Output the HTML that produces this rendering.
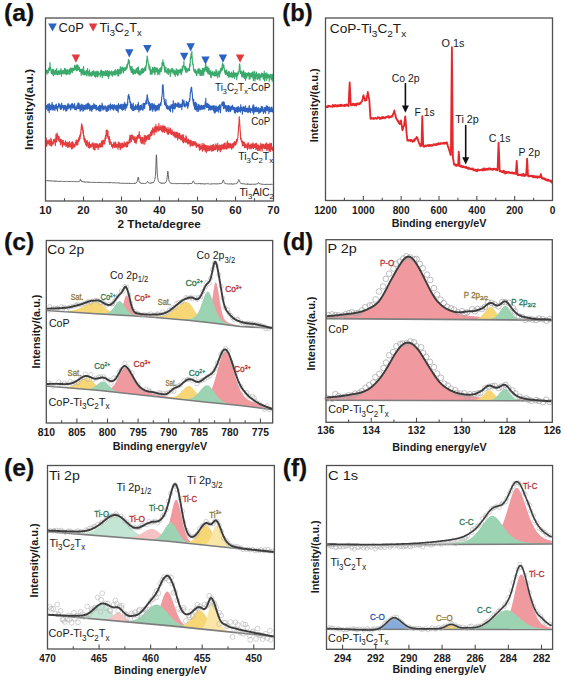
<!DOCTYPE html>
<html><head><meta charset="utf-8"><style>html,body{margin:0;padding:0;background:#fff;}svg{display:block;}</style></head><body>
<svg width="565" height="681" viewBox="0 0 565 681" font-family='"Liberation Sans", sans-serif'>
<rect width="565" height="681" fill="#ffffff"/>
<polyline points="46.1,71.9 46.2,72.4 46.4,71.4 46.5,70.3 46.7,71 46.8,70.1 47,72 47.1,74.3 47.3,71 47.4,70.7 47.6,72.7 47.7,72.4 47.9,72 48,70.1 48.2,71.7 48.3,72.9 48.5,69.2 48.6,70.7 48.8,68 48.9,69 49.1,67.8 49.2,70.4 49.4,68.1 49.5,70.3 49.7,69.3 49.8,67.6 50,62.6 50.1,66.3 50.3,68.1 50.4,69.4 50.6,67.2 50.7,69.7 50.9,69.2 51,69.8 51.2,73.3 51.3,70.1 51.5,71.6 51.6,73.3 51.8,70.7 51.9,71.6 52.1,72.1 52.2,72 52.4,69.7 52.5,72.1 52.7,74.4 52.8,69.2 53,73.6 53.1,72.3 53.3,70.9 53.4,75.7 53.6,73.5 53.7,69.9 53.9,72.2 54,73.2 54.2,71.8 54.3,73.4 54.5,72 54.6,73.3 54.8,74.7 54.9,70.9 55.1,72.5 55.2,71.3 55.4,72.4 55.5,70 55.7,71.1 55.8,71.8 56,73.8 56.1,74.3 56.3,69.8 56.4,70.8 56.6,73.4 56.7,68.6 56.9,71.4 57,72.1 57.2,74.5 57.3,73.5 57.5,71.6 57.6,71.6 57.8,71.8 57.9,75 58.1,71.5 58.2,71.7 58.4,72.9 58.5,72 58.7,71.9 58.8,70.3 59,72.2 59.1,71.5 59.3,74.4 59.4,73.4 59.6,72.2 59.7,73.5 59.9,71.7 60,74.2 60.2,72.3 60.3,73.3 60.5,70 60.6,72.9 60.8,69.2 60.9,68.6 61.1,71.7 61.2,70.7 61.4,72.6 61.5,76.3 61.7,70.8 61.8,71.2 62,72.7 62.1,73.2 62.3,72 62.4,71.9 62.6,73.5 62.7,73.2 62.9,70.4 63,72.1 63.2,72.3 63.3,70.4 63.5,72.7 63.6,70.7 63.8,74 63.9,72.6 64.1,72.4 64.2,71.2 64.4,72 64.5,68.6 64.7,70.2 64.8,72.9 65,68.4 65.1,73.7 65.3,69 65.4,73.5 65.6,70.6 65.7,73.6 65.9,72.4 66,69.4 66.2,74.4 66.3,74.7 66.5,72 66.6,71.6 66.8,71.8 66.9,70.3 67.1,74 67.2,71 67.4,71.9 67.5,70.6 67.7,70.8 67.8,69.6 68,74.2 68.1,71.6 68.3,73.6 68.4,71.9 68.6,70.6 68.7,71.2 68.9,70.7 69,71.7 69.2,71 69.3,71.1 69.5,69.1 69.6,70.1 69.8,74.5 69.9,70.2 70.1,69.5 70.2,71.9 70.4,73.8 70.5,68.6 70.7,70.8 70.8,69.9 71,67.8 71.1,72.3 71.3,70.8 71.4,70.9 71.6,69.3 71.7,71.4 71.9,69.5 72,70.1 72.2,68.3 72.3,68 72.5,72.4 72.6,69 72.8,70.3 72.9,69.6 73.1,68.7 73.2,68.4 73.4,70.3 73.5,68.5 73.7,68.6 73.8,68.7 74,70.6 74.1,69.6 74.3,68.9 74.4,67 74.6,65.4 74.7,69.4 74.9,69.3 75,67.2 75.2,68.4 75.3,68.7 75.5,68.7 75.6,68.8 75.8,66.3 75.9,69.9 76.1,65 76.2,68.8 76.4,68.2 76.5,69 76.7,70.9 76.8,70.3 77,65.7 77.1,64.9 77.3,69.6 77.4,66.4 77.6,68.4 77.7,70.1 77.9,65.8 78,65.2 78.2,69.6 78.3,69.4 78.5,69 78.6,69.7 78.8,68.2 78.9,67.2 79.1,69.8 79.2,68.5 79.4,67.4 79.5,71.4 79.7,70.5 79.8,71.5 80,69.1 80.1,69.8 80.3,69.3 80.4,69.6 80.6,71.6 80.7,70 80.9,72.1 81,72.1 81.2,75.3 81.3,69.2 81.5,73.4 81.6,71.7 81.8,71.9 81.9,69.3 82.1,71.2 82.2,73.4 82.4,72 82.5,72.3 82.7,71.7 82.8,74.3 83,72.3 83.1,68.4 83.3,71.2 83.4,68.9 83.6,66.6 83.7,71.6 83.9,74.9 84,72.7 84.2,70.5 84.3,70.9 84.5,74.7 84.6,73 84.8,72.8 84.9,72.6 85.1,72.8 85.2,74.2 85.4,73.8 85.5,73.2 85.7,71 85.8,73.8 86,71.7 86.1,74.9 86.3,70.6 86.4,72.7 86.6,72.9 86.7,70.6 86.9,76.1 87,75.6 87.2,72.2 87.3,74.4 87.5,73.7 87.6,68.4 87.8,73.5 87.9,73 88.1,73.3 88.2,71.2 88.4,72.6 88.5,72.8 88.7,75.3 88.8,73.8 89,73.2 89.1,75.9 89.3,72.2 89.4,72.5 89.6,69.9 89.7,76 89.9,75 90,74.9 90.2,74.5 90.3,73.5 90.5,73.7 90.6,72.8 90.8,72.9 90.9,73.4 91.1,76 91.2,74.3 91.4,73.2 91.5,72.3 91.7,72.2 91.8,76.2 92,74.3 92.1,73.5 92.3,72.7 92.4,71.4 92.6,73.3 92.7,74.9 92.9,72.7 93,73 93.2,73 93.3,73.6 93.5,70.5 93.6,73 93.8,71.9 93.9,75 94.1,72 94.2,74.5 94.4,76.2 94.5,72.9 94.7,72.4 94.8,73.8 95,73.5 95.1,71.7 95.3,74.3 95.4,77.1 95.6,73 95.7,73.1 95.9,71.6 96,74.1 96.2,71.3 96.3,71.5 96.5,75.8 96.6,71.9 96.8,75.5 96.9,76.3 97.1,74 97.2,74.5 97.4,77.1 97.5,73.2 97.7,72.5 97.8,71.1 98,73.6 98.1,76.2 98.3,75.3 98.4,71.9 98.6,72 98.7,72.7 98.9,74.1 99,73.2 99.2,74 99.3,74.1 99.5,73.1 99.6,73.5 99.8,74 99.9,73.4 100.1,74.5 100.2,77 100.4,74.7 100.5,73.7 100.7,70.6 100.8,74.3 101,70.1 101.1,71.1 101.3,75.2 101.4,74.9 101.6,73.4 101.7,70.6 101.9,73 102,72.4 102.2,74.8 102.3,77.7 102.5,74 102.6,72.3 102.8,71.5 102.9,73.6 103.1,73.3 103.2,71.6 103.4,73.9 103.5,71.6 103.7,75.7 103.8,75.6 104,75.6 104.1,72.8 104.3,74.6 104.4,73.4 104.6,73 104.7,73.1 104.9,71.3 105,71.1 105.2,75.1 105.3,73.3 105.5,74.1 105.6,75.5 105.8,70.6 105.9,72.3 106.1,74 106.2,74.4 106.4,73 106.5,75.6 106.7,74.1 106.8,71.5 107,72 107.1,75.2 107.3,74.5 107.4,70.3 107.6,76.1 107.7,74.8 107.9,76.1 108,73 108.2,73.2 108.3,71.7 108.5,78.3 108.6,73.4 108.8,76.6 108.9,72.6 109.1,74 109.2,70.7 109.4,73 109.5,75.5 109.7,71.5 109.8,75.6 110,74.3 110.1,71.8 110.3,72.8 110.4,72.9 110.6,73.6 110.7,72.7 110.9,72.2 111,73.1 111.2,71.8 111.3,71.3 111.5,73.5 111.6,75.2 111.8,70.8 111.9,73.5 112.1,72.4 112.2,71.8 112.4,75 112.5,72.5 112.7,76.2 112.8,72 113,74.1 113.1,73 113.3,72 113.4,74.4 113.6,73.1 113.7,74.4 113.9,73.2 114,71.3 114.2,73.1 114.3,73.4 114.5,75 114.6,71.6 114.8,73.1 114.9,70.1 115.1,74.3 115.2,71.2 115.4,69.9 115.5,73 115.7,75 115.8,70.3 116,71 116.1,71.6 116.3,70.9 116.4,73.6 116.6,71.4 116.7,71.6 116.9,73.9 117,71.4 117.2,73.5 117.3,71 117.5,70.5 117.6,69.3 117.8,76 117.9,72 118.1,73 118.2,72.4 118.4,72.7 118.5,72.5 118.7,75.8 118.8,70.4 119,69.4 119.1,70.3 119.3,69.7 119.4,73.4 119.6,73.4 119.7,70.1 119.9,69.3 120,71.1 120.2,74.1 120.3,66.5 120.5,72.4 120.6,69.4 120.8,73.1 120.9,69.2 121.1,70.5 121.2,68.2 121.4,69.1 121.5,73.2 121.7,72.1 121.8,69.7 122,68.8 122.1,66.8 122.3,69.4 122.4,70 122.6,69.8 122.7,69.6 122.9,67.7 123,69.5 123.2,69.5 123.3,71.9 123.5,72.9 123.6,69.3 123.8,68.1 123.9,69.4 124.1,68.4 124.2,68.2 124.4,69.4 124.5,67.7 124.7,70.7 124.8,69.4 125,70.1 125.1,69.3 125.3,68.3 125.4,67.9 125.6,69.2 125.7,68.6 125.9,69.9 126,69.4 126.2,66.9 126.3,69.3 126.5,66.6 126.6,67.7 126.8,68.1 126.9,64.6 127.1,68.1 127.2,67.7 127.4,66.7 127.5,65.6 127.7,64.9 127.8,63.1 128,63.4 128.1,62 128.3,62.3 128.4,59.3 128.6,61.4 128.7,61.2 128.9,61 129,61 129.2,63.6 129.3,60.6 129.5,65.3 129.6,65.8 129.8,66.7 129.9,67.6 130.1,66.4 130.2,67.7 130.4,69.7 130.5,69.8 130.7,69.7 130.8,66.9 131,70.8 131.1,72.2 131.3,72.1 131.4,70.9 131.6,67.8 131.7,72.4 131.9,70.6 132,66.4 132.2,71.7 132.3,68.4 132.5,68.8 132.6,70.1 132.8,73.6 132.9,70.6 133.1,71.8 133.2,74.5 133.4,74.3 133.5,71.3 133.7,71.1 133.8,69.3 134,70.3 134.1,72.4 134.3,72.3 134.4,71.8 134.6,73.4 134.7,70.3 134.9,71.6 135,73 135.2,72.8 135.3,73.6 135.5,72.4 135.6,71.2 135.8,72.4 135.9,69.9 136.1,68.8 136.2,72.8 136.4,71.7 136.5,72.3 136.7,68.7 136.8,71.1 137,70.7 137.1,70.2 137.3,67.7 137.4,71.2 137.6,73.4 137.7,72.4 137.9,70.7 138,71.7 138.2,73.1 138.3,66.8 138.5,71.5 138.6,72.7 138.8,72.9 138.9,74.8 139.1,73.7 139.2,72.3 139.4,72.2 139.5,73.1 139.7,70.7 139.8,71.6 140,73.3 140.1,75.1 140.3,71.3 140.4,71.5 140.6,71.9 140.7,73.9 140.9,71.4 141,74.1 141.2,69.7 141.3,71.1 141.5,71 141.6,72.8 141.8,73.2 141.9,68.6 142.1,69.6 142.2,71.8 142.4,70 142.5,68.4 142.7,72.9 142.8,71.9 143,71.8 143.1,70 143.3,72.6 143.4,70.2 143.6,72.5 143.7,68.8 143.9,68.8 144,70.5 144.2,68.8 144.3,71.1 144.5,70.1 144.6,67.8 144.8,69.3 144.9,68.3 145.1,70.2 145.2,67.1 145.4,67 145.5,69.5 145.7,70.8 145.8,69.8 146,65.6 146.1,65.1 146.3,66.6 146.4,62.8 146.6,60.3 146.7,61.3 146.9,61 147,58 147.2,56.1 147.3,56.3 147.5,60.3 147.6,58.2 147.8,60.1 147.9,61.6 148.1,63.2 148.2,62.5 148.4,64.9 148.5,63.2 148.7,64.9 148.8,64.4 149,68.8 149.1,67.3 149.3,66.4 149.4,67.5 149.6,68.1 149.7,70.1 149.9,66.2 150,67.5 150.2,68.9 150.3,74.3 150.5,71.6 150.6,69.8 150.8,71.4 150.9,74 151.1,70 151.2,69.8 151.4,72.7 151.5,71.5 151.7,71.9 151.8,69.8 152,74.3 152.1,73.9 152.3,71.9 152.4,72.2 152.6,67.3 152.7,72.2 152.9,70.7 153,71.8 153.2,72.3 153.3,70.5 153.5,68.1 153.6,71.8 153.8,69.8 153.9,70.6 154.1,70.1 154.2,70.6 154.4,67.1 154.5,73.4 154.7,71.7 154.8,73.2 155,74.8 155.1,71.3 155.3,68 155.4,69.6 155.6,69.1 155.7,70.3 155.9,71.4 156,67.6 156.2,71.9 156.3,68.5 156.5,71.8 156.6,71 156.8,70.6 156.9,71.1 157.1,70.2 157.2,70.1 157.4,68.1 157.5,71.1 157.7,74.4 157.8,74.7 158,73.4 158.1,72.3 158.3,69.8 158.4,73.6 158.6,70.8 158.7,70.8 158.9,70.3 159,71 159.2,70 159.3,70.5 159.5,68.7 159.6,69.9 159.8,74.6 159.9,70.3 160.1,69.9 160.2,71.1 160.4,71.3 160.5,67.9 160.7,69.3 160.8,71.2 161,69.8 161.1,69.2 161.3,71.4 161.4,67 161.6,67.9 161.7,66.3 161.9,69.3 162,62.5 162.2,64 162.3,63.5 162.5,65 162.6,64.3 162.8,65.3 162.9,59.9 163.1,64.3 163.2,62.9 163.4,62.9 163.5,65.8 163.7,64 163.8,62.6 164,66.3 164.1,64.9 164.3,66.9 164.4,69.2 164.6,69.5 164.7,72.1 164.9,69.2 165,67 165.2,68.6 165.3,68.5 165.5,68.1 165.6,71.3 165.8,69.4 165.9,67.2 166.1,72.1 166.2,70.7 166.4,71.6 166.5,71.2 166.7,72.2 166.8,71.2 167,73.4 167.1,72 167.3,72 167.4,72.1 167.6,68.8 167.7,71.1 167.9,71 168,71.8 168.2,69.1 168.3,74.5 168.5,71.7 168.6,69.4 168.8,68.5 168.9,71.1 169.1,71.5 169.2,70.4 169.4,71.8 169.5,70.5 169.7,72.7 169.8,70.4 170,71.7 170.1,73.5 170.3,76.4 170.4,69.9 170.6,70.9 170.7,70.3 170.9,73.2 171,69.7 171.2,70.9 171.3,71.8 171.5,70.1 171.6,70.1 171.8,71 171.9,68.1 172.1,69.3 172.2,71.1 172.4,72.1 172.5,71.5 172.7,68.7 172.8,71.1 173,73.3 173.1,72.9 173.3,71.8 173.4,70.3 173.6,73 173.7,70.9 173.9,69.8 174,70.5 174.2,74.5 174.3,72.3 174.5,74 174.6,71.1 174.8,73.6 174.9,70.8 175.1,71.6 175.2,76.4 175.4,73.3 175.5,71 175.7,71.8 175.8,72.5 176,74.1 176.1,71 176.3,68.8 176.4,71.4 176.6,71.9 176.7,72.1 176.9,74.3 177,72.5 177.2,73.3 177.3,69.9 177.5,73.4 177.6,75.6 177.8,73.2 177.9,72.3 178.1,72.1 178.2,75 178.4,70.1 178.5,71.6 178.7,72.6 178.8,73.1 179,70.9 179.1,72.2 179.3,71.1 179.4,71.8 179.6,71.3 179.7,69.5 179.9,71.5 180,73 180.2,69.6 180.3,70.9 180.5,72.5 180.6,69.2 180.8,71.4 180.9,69.1 181.1,72.9 181.2,74.9 181.4,74.2 181.5,70 181.7,71.6 181.8,70.2 182,70 182.1,72.3 182.3,66.8 182.4,70.7 182.6,68.3 182.7,70.5 182.9,67.8 183,65.7 183.2,66.9 183.3,67.3 183.5,65.6 183.6,66.1 183.8,64.2 183.9,61.4 184.1,67 184.2,67 184.4,66.5 184.5,66.8 184.7,69 184.8,66.8 185,66.8 185.1,68.1 185.3,71 185.4,66.6 185.6,71.5 185.7,68.4 185.9,67.8 186,72.2 186.2,69.9 186.3,67.8 186.5,69.6 186.6,71.9 186.8,72.4 186.9,69.5 187.1,71 187.2,71.6 187.4,69.1 187.5,70.8 187.7,70 187.8,69 188,69 188.1,69.9 188.3,69.6 188.4,68.3 188.6,68.4 188.7,70.8 188.9,68.9 189,69.7 189.2,69.9 189.3,68.3 189.5,70.7 189.6,64.5 189.8,66.6 189.9,63.7 190.1,66.5 190.2,65.1 190.4,57.2 190.5,57.5 190.7,58.9 190.8,57.6 191,56.1 191.1,53.6 191.3,53.8 191.4,54 191.6,53.1 191.7,56 191.9,51.4 192,58.1 192.2,56.6 192.3,61.7 192.5,61 192.6,61.2 192.8,64.6 192.9,63.3 193.1,64.2 193.2,63.8 193.4,67.2 193.5,68.8 193.7,70.2 193.8,68.6 194,71.1 194.1,69.6 194.3,69.7 194.4,71.2 194.6,72.3 194.7,70 194.9,70.3 195,70.7 195.2,71.3 195.3,69.6 195.5,73.2 195.6,70.8 195.8,72.4 195.9,70.2 196.1,72.4 196.2,72.6 196.4,71.2 196.5,75.6 196.7,72.7 196.8,75.3 197,73.9 197.1,71 197.3,71.6 197.4,73.1 197.6,72.4 197.7,72.5 197.9,71.9 198,69.2 198.2,72.1 198.3,68.5 198.5,73.2 198.6,71.2 198.8,71.3 198.9,72.2 199.1,73.1 199.2,70 199.4,69.4 199.5,70.7 199.7,68.9 199.8,70.8 200,75.5 200.1,70.7 200.3,73.7 200.4,70.1 200.6,73.1 200.7,72 200.9,72.4 201,73.5 201.2,75.6 201.3,72.8 201.5,72.6 201.6,70.6 201.8,73.4 201.9,71.8 202.1,73.7 202.2,72.1 202.4,75.2 202.5,68.4 202.7,71.4 202.8,73.4 203,71 203.1,70.1 203.3,70.9 203.4,68.8 203.6,71.3 203.7,75.3 203.9,72.7 204,68.5 204.2,68.6 204.3,69.2 204.5,71.5 204.6,67.9 204.8,67.8 204.9,70.4 205.1,70.1 205.2,67.6 205.4,66 205.5,65.1 205.7,66.5 205.8,63.7 206,69.1 206.1,66.8 206.3,68.9 206.4,71.7 206.6,70.7 206.7,66.8 206.9,70.7 207,71.6 207.2,68.5 207.3,68.4 207.5,70.2 207.6,67.8 207.8,73.6 207.9,66.8 208.1,69.4 208.2,71.1 208.4,71.3 208.5,72.2 208.7,72.5 208.8,71.8 209,74.3 209.1,68.6 209.3,72.5 209.4,71.3 209.6,72.9 209.7,73.2 209.9,71.2 210,71.8 210.2,74.4 210.3,73.7 210.5,71.9 210.6,76.8 210.8,77.3 210.9,70.6 211.1,73.8 211.2,77.8 211.4,74.8 211.5,73.8 211.7,73 211.8,72.5 212,73.1 212.1,72.5 212.3,74.9 212.4,72.8 212.6,72.8 212.7,71.4 212.9,73.5 213,72 213.2,73.3 213.3,75.5 213.5,74.3 213.6,74.6 213.8,74.3 213.9,73.8 214.1,73.5 214.2,73.1 214.4,75.1 214.5,71.7 214.7,76.1 214.8,73.8 215,72.4 215.1,72.8 215.3,72.5 215.4,74 215.6,72.4 215.7,75.8 215.9,72.3 216,69.6 216.2,72.4 216.3,70 216.5,73.6 216.6,75.5 216.8,74.8 216.9,71.2 217.1,72.2 217.2,76.7 217.4,74.1 217.5,73.5 217.7,75.4 217.8,77.8 218,75.7 218.1,73.6 218.3,73.9 218.4,74.3 218.6,72.1 218.7,71.2 218.9,73.1 219,71.2 219.2,72.8 219.3,72.9 219.5,76.9 219.6,71 219.8,72.2 219.9,72 220.1,72.9 220.2,73.8 220.4,70.8 220.5,70 220.7,68.3 220.8,69.3 221,71.7 221.1,70.5 221.3,68.3 221.4,69.1 221.6,69.4 221.7,69.9 221.9,67.5 222,67.7 222.2,64.5 222.3,65.4 222.5,70.1 222.6,63 222.8,66.2 222.9,67.1 223.1,66.1 223.2,65.5 223.4,67 223.5,67.5 223.7,67.7 223.8,64.8 224,68.4 224.1,67.5 224.3,68.5 224.4,70.3 224.6,71.4 224.7,72.2 224.9,70 225,72.9 225.2,73.6 225.3,73.8 225.5,74.5 225.6,71.9 225.8,72.1 225.9,74.1 226.1,70.3 226.2,73.3 226.4,72.1 226.5,72.5 226.7,70.1 226.8,71.8 227,73.5 227.1,75.2 227.3,75.4 227.4,73.6 227.6,73.5 227.7,72.4 227.9,74.7 228,73.6 228.2,75.2 228.3,77.3 228.5,74.1 228.6,71.5 228.8,72.7 228.9,71.7 229.1,72.2 229.2,76.7 229.4,74.8 229.5,71.7 229.7,75.6 229.8,76.8 230,73.9 230.1,73.3 230.3,74 230.4,75.1 230.6,75.8 230.7,76.8 230.9,76.8 231,76.8 231.2,77.2 231.3,75.9 231.5,72 231.6,74.5 231.8,75.3 231.9,74.1 232.1,76.4 232.2,74.2 232.4,73.2 232.5,77.4 232.7,76 232.8,75.2 233,76.5 233.1,76.8 233.3,75.5 233.4,70.5 233.6,73.7 233.7,74.1 233.9,73.1 234,75.2 234.2,77 234.3,74 234.5,72.8 234.6,78.5 234.8,74.1 234.9,72.7 235.1,75.3 235.2,75.6 235.4,73.6 235.5,76.2 235.7,73.9 235.8,73.1 236,75.1 236.1,76.1 236.3,73.5 236.4,75.2 236.6,74.4 236.7,79.6 236.9,73.1 237,76.8 237.2,74.1 237.3,73.8 237.5,75.2 237.6,75.4 237.8,75.8 237.9,73.9 238.1,71.9 238.2,71.7 238.4,73.1 238.5,72.7 238.7,73.6 238.8,71.1 239,71.4 239.1,71.3 239.3,68 239.4,64.3 239.6,64.4 239.7,63.9 239.9,69.8 240,66.1 240.2,70.8 240.3,70.5 240.5,73.4 240.6,72.9 240.8,71.6 240.9,71.9 241.1,72.9 241.2,73.4 241.4,72.5 241.5,73.6 241.7,76.8 241.8,71 242,74.7 242.1,72.8 242.3,74.9 242.4,76.1 242.6,74.6 242.7,76.2 242.9,72 243,76.9 243.2,73.9 243.3,76.2 243.5,75.4 243.6,70.5 243.8,73.8 243.9,75.6 244.1,78 244.2,75.8 244.4,75.7 244.5,72.8 244.7,77.9 244.8,78.6 245,75.4 245.1,75 245.3,72.5 245.4,77 245.6,80.3 245.7,76.8 245.9,77.8 246,76.5 246.2,73.7 246.3,77.9 246.5,73.3 246.6,75.2 246.8,76.1 246.9,77.2 247.1,76.3 247.2,76.3 247.4,74.2 247.5,73.3 247.7,75.7 247.8,74.3 248,73.3 248.1,73.4 248.3,74.8 248.4,72.3 248.6,73.2 248.7,72.7 248.9,76 249,76.4 249.2,79.3 249.3,73 249.5,74.5 249.6,77.4 249.8,75.3 249.9,75.1 250.1,78.8 250.2,75.1 250.4,73.7 250.5,73.4 250.7,76.4 250.8,76.3 251,73.3 251.1,74 251.3,76.8 251.4,76.8 251.6,74.6 251.7,76.9 251.9,76.8 252,72.6 252.2,75.3 252.3,76.6 252.5,74.8 252.6,72 252.8,75.3 252.9,77.2 253.1,78.7 253.2,71.9 253.4,80.6 253.5,73.8 253.7,77.6 253.8,78.1 254,77.7 254.1,76.2 254.3,73.8 254.4,77 254.6,74.6 254.7,71.4 254.9,81 255,77.2 255.2,79.2 255.3,74.3 255.5,78.6 255.6,78.8 255.8,78.7 255.9,75.9 256.1,73.8 256.2,75.6 256.4,72 256.5,72.9 256.7,76.1 256.8,74.2 257,75.7 257.1,75.8 257.3,79.5 257.4,78.3 257.6,75.9 257.7,78.2 257.9,74.6 258,75.4 258.2,77.7 258.3,73.8 258.5,75.5 258.6,73.7 258.8,76.3 258.9,79 259.1,74.7 259.2,76.5 259.4,74.4 259.5,74 259.7,73.8 259.8,78.7 260,80.3 260.1,77 260.3,74.8 260.4,77.4 260.6,75.5 260.7,77.5 260.9,76.6 261,76.6 261.2,77.2 261.3,75.1 261.5,75.4 261.6,73 261.8,75.3 261.9,73.6 262.1,75.9 262.2,74.4 262.4,76.3 262.5,77 262.7,73.6 262.8,74.7 263,74.5 263.1,77.5 263.3,79.2 263.4,77.7 263.6,75.6 263.7,78.8 263.9,73.5 264,78.9 264.2,75 264.3,71.2 264.5,81 264.6,79.1 264.8,74.4 264.9,76.5 265.1,75.8 265.2,76.4 265.4,73.6 265.5,75 265.7,77.1 265.8,76.7 266,78.4 266.1,76.4 266.3,80.5 266.4,75 266.6,76.7 266.7,72.8 266.9,74 267,78.7 267.2,74.6 267.3,77.2 267.5,76.2 267.6,74.4 267.8,75.7 267.9,75.4 268.1,75.4 268.2,77.7 268.4,77.5 268.5,75.3 268.7,74.7 268.8,76.8 269,76.2 269.1,78.2 269.3,81.1 269.4,77.9 269.6,76.3 269.7,76.1 269.9,74.8 270,74.7 270.2,74.6 270.3,75.7 270.5,75.6 270.6,77.7 270.8,75.7 270.9,76 271.1,74.2 271.2,79.4 271.4,77.3 271.5,79.6 271.7,77.8 271.8,79.1 272,76 272.1,77.7 272.3,81.3 272.4,74.2 272.6,78.6 272.7,79.5" fill="none" stroke="#3aa96b" stroke-width="1.15" stroke-linejoin="round" />
<polyline points="46.1,107.8 46.2,108.4 46.4,109.3 46.5,105.8 46.7,107.7 46.8,105.4 47,105.8 47.1,105.9 47.3,106.7 47.4,107.3 47.6,107.8 47.7,104.4 47.9,110.7 48,109.1 48.2,108.3 48.3,106.3 48.5,106.8 48.6,108 48.8,107.8 48.9,103.9 49.1,108.4 49.2,112.4 49.4,103.6 49.5,108.9 49.7,107.7 49.8,106.8 50,109.6 50.1,104.8 50.3,107.3 50.4,109.7 50.6,106.7 50.7,106.3 50.9,107.2 51,106.2 51.2,109.9 51.3,105.4 51.5,108.6 51.6,104.7 51.8,108.3 51.9,106.8 52.1,102.3 52.2,107 52.4,105.1 52.5,106.2 52.7,109.9 52.8,105 53,105.1 53.1,109.7 53.3,107.3 53.4,109.9 53.6,107.6 53.7,105.4 53.9,106.9 54,109.3 54.2,108.8 54.3,107 54.5,107.1 54.6,106.8 54.8,106 54.9,110.6 55.1,107.1 55.2,105 55.4,106.2 55.5,108.4 55.7,108.2 55.8,106.8 56,105.8 56.1,107.1 56.3,104 56.4,104.7 56.6,108.5 56.7,106.2 56.9,107.8 57,109.3 57.2,108.3 57.3,107.1 57.5,111 57.6,108.3 57.8,106.4 57.9,108.4 58.1,107.8 58.2,105.5 58.4,107.2 58.5,106.8 58.7,103.4 58.8,106.8 59,106.6 59.1,106.3 59.3,104 59.4,106.4 59.6,107 59.7,107.3 59.9,105 60,108.3 60.2,104.8 60.3,106.7 60.5,109.5 60.6,105.8 60.8,106.1 60.9,109.1 61.1,106.4 61.2,106.5 61.4,107.5 61.5,109 61.7,103 61.8,105.6 62,105.2 62.1,105.1 62.3,105.5 62.4,105.5 62.6,107.7 62.7,105.5 62.9,107.3 63,107.8 63.2,105.8 63.3,107.3 63.5,110.1 63.6,107.7 63.8,105.9 63.9,107 64.1,105.4 64.2,107.6 64.4,108.7 64.5,105.6 64.7,106.7 64.8,109.2 65,106.2 65.1,107.5 65.3,105.2 65.4,105.6 65.6,106.2 65.7,111 65.9,106.4 66,106.2 66.2,106.1 66.3,106.8 66.5,108.3 66.6,107.5 66.8,110.8 66.9,107.5 67.1,109.7 67.2,107.6 67.4,108.2 67.5,104.5 67.7,106.9 67.8,107 68,106.7 68.1,103.3 68.3,108.7 68.4,106.4 68.6,106.3 68.7,106.7 68.9,106.7 69,107.9 69.2,104.9 69.3,105.5 69.5,107.7 69.6,107.4 69.8,106.5 69.9,106.1 70.1,105.6 70.2,107 70.4,109.3 70.5,105.2 70.7,109.9 70.8,108.7 71,106.3 71.1,108.6 71.3,104.5 71.4,104 71.6,104.8 71.7,106.4 71.9,106.6 72,106.2 72.2,107.3 72.3,103.3 72.5,108.1 72.6,104.6 72.8,106 72.9,106.4 73.1,105.1 73.2,104.7 73.4,105.4 73.5,107.1 73.7,108.2 73.8,108.2 74,105.4 74.1,105.7 74.3,105.5 74.4,108 74.6,103.5 74.7,109.4 74.9,106.3 75,105.8 75.2,107.8 75.3,109 75.5,107.8 75.6,109.1 75.8,107.4 75.9,109.4 76.1,109.4 76.2,107 76.4,109.8 76.5,107.5 76.7,107.3 76.8,105.5 77,106.7 77.1,108.6 77.3,104.8 77.4,108.4 77.6,107.8 77.7,107.7 77.9,103.2 78,107 78.2,108.4 78.3,105.8 78.5,107.4 78.6,102.9 78.8,108.4 78.9,106 79.1,108.8 79.2,103.9 79.4,108.4 79.5,106.8 79.7,108.7 79.8,105.5 80,106.1 80.1,111.2 80.3,105.7 80.4,105.9 80.6,106.7 80.7,105.4 80.9,109.4 81,110.3 81.2,105.9 81.3,104.1 81.5,109.3 81.6,109.2 81.8,108.7 81.9,109.3 82.1,105.7 82.2,106.9 82.4,104.7 82.5,104.7 82.7,109 82.8,106 83,111.3 83.1,107.4 83.3,106.1 83.4,108.7 83.6,110.5 83.7,108.1 83.9,105 84,107.9 84.2,109.7 84.3,106.3 84.5,105.8 84.6,109.1 84.8,107.5 84.9,105.3 85.1,106.6 85.2,105.9 85.4,107.8 85.5,107.4 85.7,109.3 85.8,108.5 86,104.4 86.1,108 86.3,108.9 86.4,108.1 86.6,109.1 86.7,106.3 86.9,105.5 87,108.9 87.2,105.3 87.3,103.4 87.5,109.1 87.6,105.9 87.8,106.7 87.9,104.7 88.1,104.9 88.2,105.2 88.4,106.6 88.5,107.9 88.7,103.1 88.8,108.6 89,105.1 89.1,105.3 89.3,108.5 89.4,107.1 89.6,104.5 89.7,110.6 89.9,105.7 90,107.7 90.2,107.6 90.3,109.8 90.5,106.4 90.6,109.1 90.8,105.9 90.9,109.3 91.1,105.9 91.2,106.6 91.4,110.7 91.5,107.8 91.7,107.5 91.8,111.3 92,107.9 92.1,105.8 92.3,108.6 92.4,105.2 92.6,109.3 92.7,109.5 92.9,106.2 93,106.2 93.2,107.6 93.3,107.3 93.5,105.5 93.6,108.3 93.8,103.6 93.9,106.5 94.1,106.6 94.2,106.8 94.4,107.8 94.5,105.1 94.7,108.4 94.8,107 95,106.1 95.1,104.8 95.3,105.2 95.4,107.9 95.6,105.6 95.7,107.4 95.9,109.2 96,109.2 96.2,110.1 96.3,106.8 96.5,105.3 96.6,109.1 96.8,107.9 96.9,109.3 97.1,107.3 97.2,109.5 97.4,108.8 97.5,108.6 97.7,108.2 97.8,108 98,107.7 98.1,107.7 98.3,109.1 98.4,106.4 98.6,110.4 98.7,107.1 98.9,109.1 99,107.2 99.2,106.9 99.3,111 99.5,106.8 99.6,105 99.8,106 99.9,106.7 100.1,111.2 100.2,107.7 100.4,109 100.5,105.5 100.7,108 100.8,108.5 101,110.6 101.1,106.1 101.3,108.4 101.4,107.9 101.6,105.5 101.7,107.3 101.9,106.9 102,103.1 102.2,108.4 102.3,108.3 102.5,106.5 102.6,104.9 102.8,110 102.9,107.8 103.1,109.2 103.2,109.9 103.4,106.4 103.5,108.8 103.7,106.9 103.8,107.2 104,107.2 104.1,107.3 104.3,109.3 104.4,107.6 104.6,107.1 104.7,106.8 104.9,108 105,105.7 105.2,106.4 105.3,107.2 105.5,106.3 105.6,107.1 105.8,106.2 105.9,110.9 106.1,109.7 106.2,108.2 106.4,107.2 106.5,111.3 106.7,107.9 106.8,107.2 107,107.9 107.1,107.9 107.3,109.9 107.4,107.3 107.6,111.1 107.7,105.8 107.9,108.6 108,105.5 108.2,110.6 108.3,106.8 108.5,107.2 108.6,109 108.8,109.6 108.9,105.3 109.1,106.7 109.2,104.8 109.4,107.6 109.5,107.2 109.7,106.7 109.8,106.1 110,106.7 110.1,106 110.3,108.3 110.4,110.1 110.6,103.9 110.7,107.1 110.9,106.6 111,108.2 111.2,105.6 111.3,107.1 111.5,105.5 111.6,108.6 111.8,107.5 111.9,107.1 112.1,108 112.2,106.9 112.4,104.6 112.5,108.4 112.7,107.9 112.8,107.1 113,109.1 113.1,109.5 113.3,105.4 113.4,105.9 113.6,110.1 113.7,109.9 113.9,106 114,105.2 114.2,106.2 114.3,106.5 114.5,104.5 114.6,107.4 114.8,105 114.9,105.2 115.1,109 115.2,106.1 115.4,107.2 115.5,108.5 115.7,108.8 115.8,106.7 116,107.4 116.1,105.8 116.3,110.5 116.4,108.5 116.6,105.3 116.7,107.3 116.9,108.6 117,108.2 117.2,110.6 117.3,109.8 117.5,106.3 117.6,107.2 117.8,105 117.9,107.8 118.1,107.6 118.2,112.2 118.4,107.5 118.5,103.5 118.7,106.1 118.8,107.5 119,105 119.1,105.7 119.3,106.6 119.4,107.9 119.6,107 119.7,105.7 119.9,108.7 120,106.3 120.2,106.4 120.3,104.8 120.5,105.8 120.6,108.4 120.8,104.3 120.9,107.1 121.1,108.5 121.2,106.5 121.4,107.6 121.5,105.2 121.7,109.5 121.8,109.1 122,107.6 122.1,104 122.3,105.3 122.4,108.9 122.6,110.2 122.7,107.6 122.9,109.3 123,106 123.2,106.7 123.3,107 123.5,107.8 123.6,104.2 123.8,108.6 123.9,109.3 124.1,104.8 124.2,104.4 124.4,107.4 124.5,105.6 124.7,102.4 124.8,108.1 125,106.9 125.1,105.7 125.3,110.2 125.4,106.6 125.6,104.9 125.7,106.3 125.9,104.1 126,104.5 126.2,106.4 126.3,104.5 126.5,104.5 126.6,108 126.8,106.2 126.9,105.8 127.1,104.9 127.2,104.3 127.4,105.4 127.5,102.1 127.7,104.6 127.8,98.6 128,98.8 128.1,95.7 128.3,96.5 128.4,97.2 128.6,98.3 128.7,94.4 128.9,95.9 129,95.9 129.2,96.2 129.3,96.5 129.5,99.8 129.6,97.6 129.8,101.8 129.9,102.5 130.1,101.9 130.2,101.8 130.4,101.6 130.5,107.9 130.7,102.5 130.8,108 131,106.5 131.1,105 131.3,103.7 131.4,107.9 131.6,109.2 131.7,104.6 131.9,105.8 132,108.3 132.2,107.1 132.3,110.2 132.5,105.7 132.6,107.7 132.8,104.6 132.9,110.6 133.1,105.6 133.2,103 133.4,106.8 133.5,106.8 133.7,110.5 133.8,106.5 134,107.1 134.1,108.2 134.3,110 134.4,107.1 134.6,109.1 134.7,108.1 134.9,106.7 135,107.4 135.2,107.3 135.3,105.6 135.5,109.5 135.6,104.8 135.8,109.4 135.9,109 136.1,107.2 136.2,106 136.4,106.9 136.5,108.2 136.7,108.7 136.8,107.9 137,109.2 137.1,106.4 137.3,107.8 137.4,104.6 137.6,108.8 137.7,107.7 137.9,106.6 138,109.5 138.2,108.6 138.3,102.3 138.5,107.5 138.6,104.8 138.8,109.3 138.9,111.9 139.1,106.4 139.2,107.5 139.4,106.9 139.5,108 139.7,108.5 139.8,109.7 140,105.6 140.1,110.2 140.3,105.7 140.4,107.8 140.6,109.4 140.7,108.6 140.9,105.6 141,106 141.2,106.4 141.3,107.2 141.5,109.3 141.6,104.9 141.8,108 141.9,108.3 142.1,108.2 142.2,108 142.4,109.8 142.5,107.9 142.7,108.6 142.8,108 143,110.2 143.1,103.5 143.3,109.1 143.4,106.3 143.6,106.2 143.7,104.9 143.9,103.2 144,105.8 144.2,105.1 144.3,107.1 144.5,103.5 144.6,108.5 144.8,106.3 144.9,105.1 145.1,104.1 145.2,103.7 145.4,102.8 145.5,103.5 145.7,104.1 145.8,103.3 146,100.5 146.1,102 146.3,100.2 146.4,101.4 146.6,103.7 146.7,100.7 146.9,98.3 147,95.4 147.2,95.3 147.3,94.7 147.5,99.2 147.6,97 147.8,99.1 147.9,98.6 148.1,100.6 148.2,103.7 148.4,100.7 148.5,102 148.7,101.7 148.8,105.3 149,102.3 149.1,102.5 149.3,102.4 149.4,102.6 149.6,106.3 149.7,110.3 149.9,104.1 150,107.7 150.2,106.6 150.3,104.3 150.5,105.9 150.6,106.1 150.8,105.4 150.9,110.2 151.1,103.3 151.2,107.5 151.4,107.5 151.5,105.9 151.7,107.3 151.8,108.6 152,107.4 152.1,107.9 152.3,108.4 152.4,103.5 152.6,109.9 152.7,111.3 152.9,109 153,109.1 153.2,104.8 153.3,107.1 153.5,105.9 153.6,106.3 153.8,109.1 153.9,105.9 154.1,107.1 154.2,103.9 154.4,107.1 154.5,107.5 154.7,106.1 154.8,106.1 155,110.8 155.1,105.2 155.3,105.5 155.4,105.9 155.6,109.5 155.7,111.2 155.9,108 156,106.1 156.2,106.6 156.3,109.2 156.5,105.7 156.6,109.9 156.8,109.8 156.9,107.4 157.1,108.4 157.2,108.6 157.4,110 157.5,105.3 157.7,109.2 157.8,106.4 158,105.7 158.1,107.2 158.3,106.6 158.4,105.1 158.6,104 158.7,105.1 158.9,109.3 159,110.1 159.2,107.7 159.3,108.5 159.5,105.3 159.6,106 159.8,106.5 159.9,103.8 160.1,103.8 160.2,105.5 160.4,104.5 160.5,102.8 160.7,105.1 160.8,103.5 161,105.3 161.1,102.8 161.3,101.5 161.4,101.4 161.6,99.8 161.7,97.6 161.9,96.6 162,96.8 162.2,94.5 162.3,93.4 162.5,85.7 162.6,86 162.8,84.6 162.9,85.3 163.1,85 163.2,86.5 163.4,91.1 163.5,92.3 163.7,92.1 163.8,98.6 164,99.7 164.1,98.3 164.3,102.1 164.4,100.2 164.6,104.4 164.7,102.7 164.9,102.2 165,103.5 165.2,103.2 165.3,105.3 165.5,105.5 165.6,105.5 165.8,104.7 165.9,99.3 166.1,106.2 166.2,102.8 166.4,106.8 166.5,108.5 166.7,107.1 166.8,106 167,106.4 167.1,106.6 167.3,105.9 167.4,105.9 167.6,105.4 167.7,109.2 167.9,107.1 168,108.9 168.2,106.7 168.3,107.3 168.5,106.9 168.6,108.1 168.8,108.8 168.9,107.7 169.1,106.1 169.2,105.9 169.4,110.3 169.5,106.9 169.7,106.9 169.8,110 170,109.4 170.1,108.4 170.3,106.7 170.4,111.6 170.6,108.1 170.7,108.4 170.9,107.1 171,104.8 171.2,105 171.3,108.1 171.5,108 171.6,106.9 171.8,105.2 171.9,104.7 172.1,106.7 172.2,104.6 172.4,108.8 172.5,109.2 172.7,112.2 172.8,108.7 173,106 173.1,105.4 173.3,100.7 173.4,105.8 173.6,106.5 173.7,108.5 173.9,107.7 174,107.6 174.2,106.9 174.3,107.6 174.5,108.9 174.6,104.2 174.8,105.2 174.9,103.4 175.1,108.7 175.2,108 175.4,106.9 175.5,103.2 175.7,105.6 175.8,104.7 176,105.2 176.1,104.6 176.3,105.8 176.4,104.1 176.6,106.3 176.7,105.2 176.9,104.3 177,104.7 177.2,104.2 177.3,106.5 177.5,104.6 177.6,105.8 177.8,104.6 177.9,102.8 178.1,107.2 178.2,103.7 178.4,107 178.5,106.6 178.7,102.9 178.8,104.3 179,105.1 179.1,104.6 179.3,104 179.4,107.5 179.6,105.8 179.7,106.9 179.9,105.4 180,106.7 180.2,104.8 180.3,106.1 180.5,107.2 180.6,106.1 180.8,105.2 180.9,104 181.1,106.1 181.2,106.3 181.4,105.1 181.5,104.1 181.7,106.3 181.8,109.6 182,104.4 182.1,105.4 182.3,105.2 182.4,99.7 182.6,104.3 182.7,102.5 182.9,106.1 183,102.9 183.2,101.7 183.3,102.5 183.5,103 183.6,101.6 183.8,102.5 183.9,100.2 184.1,102.3 184.2,104.2 184.4,106.5 184.5,104.4 184.7,103.8 184.8,105.7 185,105.6 185.1,107 185.3,106.2 185.4,104.2 185.6,105.1 185.7,105.1 185.9,105.5 186,105.4 186.2,103.7 186.3,101.4 186.5,104.1 186.6,101.7 186.8,105.4 186.9,105.3 187.1,102.3 187.2,106.5 187.4,106.8 187.5,105.3 187.7,108.1 187.8,108.3 188,102.6 188.1,106.5 188.3,105.2 188.4,105 188.6,105.6 188.7,102.3 188.9,102.2 189,101.3 189.2,101 189.3,101.6 189.5,98.5 189.6,98.5 189.8,100.6 189.9,98.4 190.1,98.2 190.2,92.8 190.4,93.5 190.5,92.4 190.7,91.9 190.8,89.3 191,90.7 191.1,87.9 191.3,87.4 191.4,87.2 191.6,88.9 191.7,87.6 191.9,91.7 192,91.9 192.2,92.9 192.3,94.2 192.5,96.6 192.6,98.8 192.8,99.9 192.9,99.9 193.1,101.8 193.2,101.3 193.4,104 193.5,102.4 193.7,99.3 193.8,105.9 194,104.1 194.1,102.2 194.3,104.3 194.4,103.4 194.6,109 194.7,106.4 194.9,102.9 195,106.9 195.2,105.3 195.3,109.7 195.5,104.5 195.6,102.4 195.8,106.7 195.9,106.1 196.1,106.1 196.2,103.1 196.4,107.8 196.5,110.1 196.7,103.7 196.8,109.3 197,106.2 197.1,111.5 197.3,108.1 197.4,107.1 197.6,109.4 197.7,108.4 197.9,106.4 198,108.8 198.2,106.7 198.3,104.4 198.5,111.3 198.6,107 198.8,106.6 198.9,108.3 199.1,104.9 199.2,105.3 199.4,106.8 199.5,106.8 199.7,107.8 199.8,109.7 200,106.9 200.1,108.6 200.3,108.8 200.4,105.8 200.6,108.1 200.7,106 200.9,109.6 201,108.5 201.2,107.6 201.3,105.2 201.5,107.8 201.6,106.1 201.8,108.8 201.9,107.2 202.1,105.9 202.2,109 202.4,108.6 202.5,106.1 202.7,109.2 202.8,106.5 203,106.4 203.1,107.1 203.3,105.4 203.4,105.8 203.6,106.2 203.7,109 203.9,108.8 204,105.5 204.2,108.6 204.3,105.4 204.5,105.9 204.6,106.6 204.8,105.3 204.9,108.9 205.1,104.7 205.2,101.9 205.4,106.2 205.5,103 205.7,103.1 205.8,98.2 206,105.5 206.1,105.2 206.3,105.3 206.4,105.8 206.6,107.4 206.7,104.5 206.9,106.5 207,103.7 207.2,104.7 207.3,107.5 207.5,106.5 207.6,103.6 207.8,106.9 207.9,106.1 208.1,105.1 208.2,107.5 208.4,106.2 208.5,104.2 208.7,105.2 208.8,110.5 209,104.6 209.1,107.9 209.3,108.6 209.4,108.8 209.6,105.5 209.7,107.2 209.9,108.1 210,109.3 210.2,106.8 210.3,105.9 210.5,109.8 210.6,110 210.8,108.8 210.9,107 211.1,108.9 211.2,108.4 211.4,109.7 211.5,106 211.7,108.5 211.8,108 212,106.3 212.1,108.7 212.3,108.4 212.4,107.6 212.6,109.1 212.7,105.8 212.9,108.3 213,109.2 213.2,108.9 213.3,110.4 213.5,106.3 213.6,105.7 213.8,108.9 213.9,109.3 214.1,112.3 214.2,109.6 214.4,106.9 214.5,109.9 214.7,107 214.8,105.8 215,113.2 215.1,109.1 215.3,109.8 215.4,109.5 215.6,111.7 215.7,109 215.9,110.7 216,106.6 216.2,106 216.3,111 216.5,111.1 216.6,109.4 216.8,108.8 216.9,108.7 217.1,107.2 217.2,111.2 217.4,109.6 217.5,109.3 217.7,109 217.8,110.2 218,109.2 218.1,109.6 218.3,106.1 218.4,109.1 218.6,112.1 218.7,107.2 218.9,107.8 219,109.6 219.2,109.7 219.3,109 219.5,104.9 219.6,108.6 219.8,105.5 219.9,106.1 220.1,108.4 220.2,106.8 220.4,108.7 220.5,112.8 220.7,108.3 220.8,108.1 221,105 221.1,105.2 221.3,104.3 221.4,105 221.6,103.8 221.7,104.3 221.9,104.9 222,103.2 222.2,102.2 222.3,102.1 222.5,105.2 222.6,104.3 222.8,106 222.9,106 223.1,103.5 223.2,105.4 223.4,101.7 223.5,108.6 223.7,106.9 223.8,104.6 224,103.2 224.1,106.2 224.3,102.4 224.4,104.6 224.6,107.6 224.7,106.6 224.9,105.8 225,108.6 225.2,105.2 225.3,107.7 225.5,106.4 225.6,106 225.8,108.4 225.9,105.9 226.1,111.2 226.2,106.9 226.4,111.6 226.5,106.1 226.7,109.2 226.8,106 227,105.9 227.1,108.6 227.3,109.6 227.4,106.1 227.6,110.6 227.7,107.1 227.9,108.8 228,109.3 228.2,109.7 228.3,105.4 228.5,111.6 228.6,109.7 228.8,108 228.9,106.9 229.1,105.7 229.2,106.4 229.4,109.8 229.5,108.2 229.7,106.8 229.8,107.9 230,111.7 230.1,108.3 230.3,107.9 230.4,111.4 230.6,109.8 230.7,109 230.9,107.9 231,106.2 231.2,106.9 231.3,108.2 231.5,108.6 231.6,109.7 231.8,110 231.9,109.5 232.1,109.5 232.2,107.3 232.4,105.2 232.5,108.2 232.7,107.4 232.8,107.9 233,108.6 233.1,106.9 233.3,107.1 233.4,109 233.6,109.4 233.7,108 233.9,110.1 234,108.8 234.2,107.3 234.3,109.3 234.5,112.6 234.6,108 234.8,111.3 234.9,111.7 235.1,111.9 235.2,107.7 235.4,112.9 235.5,109.4 235.7,108.8 235.8,108.8 236,110.3 236.1,109.3 236.3,108.9 236.4,111.6 236.6,108 236.7,107.4 236.9,110.7 237,110.5 237.2,111.3 237.3,107.4 237.5,111.2 237.6,110.2 237.8,112.5 237.9,107.1 238.1,109.7 238.2,108.8 238.4,106.5 238.5,108 238.7,111.4 238.8,108.5 239,108 239.1,110.9 239.3,111.1 239.4,111.1 239.6,107.9 239.7,109.3 239.9,111.2 240,108.2 240.2,108 240.3,110.9 240.5,112.2 240.6,107.3 240.8,104.7 240.9,106.8 241.1,107.6 241.2,109.1 241.4,110.5 241.5,109.1 241.7,108.1 241.8,109.7 242,107.7 242.1,109.3 242.3,108.3 242.4,114.2 242.6,110.9 242.7,107.9 242.9,107.6 243,108.6 243.2,106.5 243.3,108.1 243.5,108.1 243.6,111 243.8,108.7 243.9,108 244.1,107 244.2,107.3 244.4,109.3 244.5,109.1 244.7,111.5 244.8,108.3 245,111.4 245.1,109.9 245.3,109.5 245.4,105.9 245.6,107.2 245.7,110.8 245.9,112 246,109.9 246.2,110.9 246.3,108.8 246.5,108.8 246.6,108.3 246.8,111.3 246.9,110.1 247.1,109.1 247.2,108.9 247.4,110.5 247.5,110.1 247.7,108 247.8,112.6 248,110 248.1,109.6 248.3,112.2 248.4,111.4 248.6,109.4 248.7,110.5 248.9,107.6 249,108.4 249.2,105.5 249.3,111.8 249.5,106.1 249.6,110.8 249.8,108.1 249.9,107.8 250.1,109.2 250.2,110.1 250.4,110.7 250.5,112.8 250.7,110.2 250.8,111.2 251,108.5 251.1,110.9 251.3,109.9 251.4,108.8 251.6,109.4 251.7,109.5 251.9,110 252,110.3 252.2,108.7 252.3,108.3 252.5,111 252.6,106.6 252.8,108.5 252.9,112.4 253.1,104.8 253.2,108.4 253.4,110.9 253.5,106.7 253.7,114.3 253.8,105 254,112.2 254.1,112.5 254.3,111.3 254.4,109.3 254.6,110.3 254.7,108 254.9,111.1 255,107.6 255.2,109.2 255.3,111.5 255.5,107.7 255.6,109 255.8,110 255.9,107.3 256.1,111.8 256.2,110.3 256.4,107 256.5,109.6 256.7,108.3 256.8,108.5 257,109.8 257.1,108.4 257.3,111.4 257.4,108.4 257.6,111.5 257.7,109.6 257.9,111.3 258,108.7 258.2,108.8 258.3,107.6 258.5,110.8 258.6,111.4 258.8,113.5 258.9,112.1 259.1,110.2 259.2,109.4 259.4,110.4 259.5,109.7 259.7,112.4 259.8,111.4 260,108.2 260.1,108.5 260.3,112.2 260.4,110.3 260.6,109.3 260.7,111.9 260.9,109.1 261,109.3 261.2,108.9 261.3,106.2 261.5,111.3 261.6,107.6 261.8,108.8 261.9,108.4 262.1,111.1 262.2,109.7 262.4,109.8 262.5,106.8 262.7,109.6 262.8,107.1 263,110.4 263.1,110.5 263.3,109.8 263.4,113.5 263.6,110.8 263.7,110.9 263.9,110.1 264,109.5 264.2,111.6 264.3,111.8 264.5,107.5 264.6,111.7 264.8,110.8 264.9,111.6 265.1,110.7 265.2,107.6 265.4,107.7 265.5,113.1 265.7,110.3 265.8,107.3 266,110.5 266.1,109.2 266.3,106.5 266.4,105.7 266.6,107 266.7,110.4 266.9,109.8 267,109.4 267.2,110.4 267.3,111 267.5,106.1 267.6,109.3 267.8,108.4 267.9,107.7 268.1,108.9 268.2,109.7 268.4,109.4 268.5,107.3 268.7,109 268.8,113.5 269,108 269.1,106.9 269.3,110.4 269.4,111 269.6,110.7 269.7,107.9 269.9,111.7 270,108.5 270.2,107.9 270.3,108.8 270.5,109.7 270.6,111.2 270.8,111.1 270.9,109.9 271.1,111.6 271.2,110.1 271.4,111.6 271.5,107.4 271.7,107.1 271.8,111.3 272,107.4 272.1,109.4 272.3,109.8 272.4,109.1 272.6,109.1 272.7,112.5" fill="none" stroke="#2f62bd" stroke-width="1.15" stroke-linejoin="round" />
<polyline points="46.1,137.6 46.2,143.8 46.4,146.3 46.5,142.2 46.7,142.2 46.8,143.5 47,145.5 47.1,140.1 47.3,142.4 47.4,141.9 47.6,143.2 47.7,142.5 47.9,143.4 48,141.5 48.2,142.3 48.3,141 48.5,141 48.6,142 48.8,142 48.9,140.1 49.1,145.1 49.2,142 49.4,139.7 49.5,144.2 49.7,140.9 49.8,143.1 50,142.2 50.1,142.6 50.3,142.5 50.4,141.1 50.6,142.2 50.7,145.8 50.9,138.1 51,142.2 51.2,142.9 51.3,140.2 51.5,139.6 51.6,145.9 51.8,141.3 51.9,145.7 52.1,142.9 52.2,142 52.4,142.7 52.5,142.9 52.7,143.9 52.8,142.5 53,141.9 53.1,141.9 53.3,143.9 53.4,142.9 53.6,139.5 53.7,140.1 53.9,141.8 54,140 54.2,140.3 54.3,139.1 54.5,140.3 54.6,141.4 54.8,142.3 54.9,140.3 55.1,143.9 55.2,139.9 55.4,145.6 55.5,141.4 55.7,140.3 55.8,138.3 56,134 56.1,138.6 56.3,139 56.4,141.9 56.6,135.8 56.7,141.5 56.9,137.4 57,139.1 57.2,133.1 57.3,137.8 57.5,136.9 57.6,138.7 57.8,137.7 57.9,135.5 58.1,139.4 58.2,139.1 58.4,139.1 58.5,140 58.7,140.4 58.8,138.6 59,136.4 59.1,136.6 59.3,141.7 59.4,140.8 59.6,139.9 59.7,139.2 59.9,140.2 60,140.4 60.2,140 60.3,139.5 60.5,144.8 60.6,141.5 60.8,140.2 60.9,139.1 61.1,140.2 61.2,143 61.4,143.2 61.5,141.5 61.7,142.1 61.8,141.6 62,140.2 62.1,144.7 62.3,143.1 62.4,146.9 62.6,141.2 62.7,142.4 62.9,144.3 63,142.3 63.2,140.3 63.3,141.2 63.5,143.1 63.6,143.6 63.8,142.9 63.9,144.9 64.1,144.9 64.2,143.8 64.4,143.3 64.5,142.8 64.7,144.3 64.8,145 65,143.5 65.1,144.2 65.3,142.9 65.4,140.9 65.6,141.7 65.7,144.9 65.9,144.4 66,146.5 66.2,143.7 66.3,145.2 66.5,146.1 66.6,145.5 66.8,142.6 66.9,143.4 67.1,144 67.2,142 67.4,144.7 67.5,145.7 67.7,143 67.8,147.4 68,143.4 68.1,143.5 68.3,143.5 68.4,142.7 68.6,144.7 68.7,144 68.9,147 69,145.1 69.2,145 69.3,143.6 69.5,141.5 69.6,143.9 69.8,142.5 69.9,145.8 70.1,144 70.2,147.1 70.4,145.4 70.5,145.6 70.7,144.5 70.8,144.5 71,145.3 71.1,145.8 71.3,142.9 71.4,145 71.6,148.9 71.7,144 71.9,143.7 72,142.9 72.2,141.5 72.3,146.3 72.5,144.2 72.6,144.7 72.8,147.4 72.9,148.6 73.1,142.5 73.2,146 73.4,145.2 73.5,144.8 73.7,144.9 73.8,144 74,146.9 74.1,145.1 74.3,144.6 74.4,146.2 74.6,145.6 74.7,144.8 74.9,144.5 75,147 75.2,144.7 75.3,143.6 75.5,142.2 75.6,143.1 75.8,141.8 75.9,143.8 76.1,144 76.2,139.8 76.4,143.4 76.5,144.5 76.7,143.6 76.8,141.5 77,145.4 77.1,141.7 77.3,140.6 77.4,140.8 77.6,142.6 77.7,144.2 77.9,144.4 78,142.5 78.2,139.7 78.3,140.5 78.5,139.8 78.6,140.8 78.8,137.7 78.9,140.7 79.1,141.3 79.2,139.5 79.4,140.1 79.5,137.1 79.7,135.6 79.8,136.4 80,139 80.1,138 80.3,134.4 80.4,136.5 80.6,132.8 80.7,135 80.9,132.1 81,129.3 81.2,130.4 81.3,126.5 81.5,125.3 81.6,123.7 81.8,126.2 81.9,125.5 82.1,125.5 82.2,125.3 82.4,129.3 82.5,126.9 82.7,127.3 82.8,132 83,133.5 83.1,132.7 83.3,130 83.4,133.1 83.6,136.3 83.7,136.1 83.9,139.7 84,135.2 84.2,139.5 84.3,137.8 84.5,141.8 84.6,139.8 84.8,142.3 84.9,139.6 85.1,138.6 85.2,139.5 85.4,140.7 85.5,140.3 85.7,144.5 85.8,145 86,143.3 86.1,141.1 86.3,143 86.4,142.1 86.6,146.1 86.7,144.2 86.9,144.7 87,143.2 87.2,140.4 87.3,142.7 87.5,142.2 87.6,145 87.8,144.6 87.9,143 88.1,143.9 88.2,147.4 88.4,143 88.5,143.1 88.7,144.4 88.8,143.6 89,144.2 89.1,145.9 89.3,148.2 89.4,141.9 89.6,145.1 89.7,145.3 89.9,145.1 90,144.9 90.2,144.7 90.3,147.1 90.5,144.5 90.6,145.2 90.8,145.4 90.9,145.7 91.1,145.2 91.2,147.3 91.4,145.5 91.5,145.9 91.7,145.5 91.8,143.8 92,144.1 92.1,143.7 92.3,146 92.4,144.3 92.6,143.7 92.7,146.1 92.9,146.6 93,142.5 93.2,148.7 93.3,145.7 93.5,145.5 93.6,147.6 93.8,145.8 93.9,144.6 94.1,149.7 94.2,143.8 94.4,145.5 94.5,147.2 94.7,143.8 94.8,145.5 95,146.4 95.1,150 95.3,144.1 95.4,145.6 95.6,146.9 95.7,145.9 95.9,143.5 96,146.4 96.2,145.9 96.3,146.5 96.5,147.7 96.6,147.5 96.8,146.4 96.9,146.2 97.1,143.7 97.2,145.4 97.4,146 97.5,144.9 97.7,145.8 97.8,144.1 98,148.3 98.1,149.4 98.3,144.8 98.4,146.2 98.6,145.1 98.7,147.8 98.9,146.2 99,145.6 99.2,145 99.3,145.6 99.5,143.6 99.6,146.5 99.8,144 99.9,146.2 100.1,145.4 100.2,147.1 100.4,145.1 100.5,146.9 100.7,143.4 100.8,146.1 101,144.5 101.1,145.2 101.3,144.9 101.4,146.4 101.6,141 101.7,145.1 101.9,141.8 102,146.5 102.2,140.7 102.3,142.3 102.5,141 102.6,146.8 102.8,141.4 102.9,143.8 103.1,142.4 103.2,140 103.4,142.4 103.5,144 103.7,142.2 103.8,144 104,141.4 104.1,141.7 104.3,140.7 104.4,141.6 104.6,144 104.7,140.8 104.9,140.1 105,138.1 105.2,137.3 105.3,140.7 105.5,135.5 105.6,135.2 105.8,136.1 105.9,134.8 106.1,138.5 106.2,130.1 106.4,134.4 106.5,134.6 106.7,130.9 106.8,131.5 107,133.3 107.1,135.5 107.3,131.1 107.4,130.2 107.6,135.2 107.7,136.7 107.9,133.9 108,131.1 108.2,138.4 108.3,136 108.5,139.1 108.6,137.6 108.8,137.6 108.9,138 109.1,142 109.2,142.5 109.4,136.5 109.5,139.1 109.7,144.4 109.8,140.9 110,139.4 110.1,142.2 110.3,142.2 110.4,142.5 110.6,142.1 110.7,142.6 110.9,142.5 111,144.2 111.2,142.3 111.3,143.4 111.5,143.8 111.6,146.5 111.8,145 111.9,144.2 112.1,145.5 112.2,145.3 112.4,146.7 112.5,145.7 112.7,148.1 112.8,147.4 113,145 113.1,144.3 113.3,146.7 113.4,146.1 113.6,145.1 113.7,142.7 113.9,142.1 114,146 114.2,146.8 114.3,146.9 114.5,143.2 114.6,147.4 114.8,144.6 114.9,146.3 115.1,146.4 115.2,144.3 115.4,144.7 115.5,142 115.7,144.1 115.8,142.6 116,146.6 116.1,146 116.3,147.5 116.4,146.5 116.6,144.8 116.7,146.5 116.9,145.2 117,147 117.2,146.5 117.3,144.2 117.5,146 117.6,146.1 117.8,145.4 117.9,147.6 118.1,149.1 118.2,145.4 118.4,145.4 118.5,142 118.7,145.8 118.8,145.3 119,142.2 119.1,146.6 119.3,147.1 119.4,144.7 119.6,145.4 119.7,144.3 119.9,147.4 120,143.3 120.2,145.5 120.3,149.6 120.5,146.1 120.6,146.9 120.8,145.8 120.9,143.9 121.1,146 121.2,146.8 121.4,144.2 121.5,146.6 121.7,148.2 121.8,147.9 122,143.1 122.1,144.2 122.3,143 122.4,147.8 122.6,147 122.7,147.1 122.9,144.3 123,143.7 123.2,145.9 123.3,146 123.5,144.2 123.6,146 123.8,146.9 123.9,146.1 124.1,143.8 124.2,141.8 124.4,145.1 124.5,145.8 124.7,145 124.8,144.7 125,144.1 125.1,146.6 125.3,145.2 125.4,145.4 125.6,143.4 125.7,144 125.9,145.3 126,143.1 126.2,142.6 126.3,144.2 126.5,146.8 126.6,144.9 126.8,147.1 126.9,144.1 127.1,143.7 127.2,141.6 127.4,142.9 127.5,146.4 127.7,144.2 127.8,144.7 128,144.5 128.1,143 128.3,142.4 128.4,142.8 128.6,143.5 128.7,142.8 128.9,142.6 129,141.6 129.2,139.6 129.3,140.2 129.5,138.5 129.6,141.6 129.8,135.6 129.9,138.5 130.1,142.8 130.2,137.4 130.4,135.5 130.5,137.1 130.7,139.1 130.8,136.2 131,137.3 131.1,136.1 131.3,135.2 131.4,141.5 131.6,136 131.7,135 131.9,135.3 132,137.1 132.2,137.4 132.3,138.4 132.5,137.6 132.6,135.2 132.8,139.1 132.9,137.9 133.1,138.3 133.2,136.4 133.4,138.4 133.5,138.4 133.7,139.9 133.8,137.5 134,140.4 134.1,140.7 134.3,138.6 134.4,139.6 134.6,139.3 134.7,142.5 134.9,136.3 135,140.3 135.2,137.9 135.3,140 135.5,142.3 135.6,139.5 135.8,140.8 135.9,138.9 136.1,143.7 136.2,141.7 136.4,141.8 136.5,137.2 136.7,137.3 136.8,141 137,138.4 137.1,137.9 137.3,138.7 137.4,135.5 137.6,138.8 137.7,137.1 137.9,137.6 138,135.3 138.2,137.2 138.3,134.8 138.5,137.7 138.6,138 138.8,137.6 138.9,137 139.1,137.4 139.2,131.5 139.4,138.1 139.5,136.4 139.7,137.3 139.8,136.9 140,135.2 140.1,137.1 140.3,139.5 140.4,141.1 140.6,137.7 140.7,137.4 140.9,141.8 141,137.8 141.2,143.3 141.3,139.8 141.5,138.2 141.6,141.7 141.8,143.1 141.9,137.5 142.1,142.9 142.2,139.7 142.4,142.9 142.5,139.6 142.7,137.4 142.8,141.2 143,141.9 143.1,144 143.3,143.3 143.4,141.4 143.6,139.7 143.7,139.1 143.9,139.5 144,138.5 144.2,139.4 144.3,135.3 144.5,140.1 144.6,139.6 144.8,144.2 144.9,140.9 145.1,138.5 145.2,140.3 145.4,137 145.5,138 145.7,135.6 145.8,141.5 146,139.8 146.1,136.5 146.3,138.4 146.4,140.1 146.6,139.1 146.7,138.8 146.9,136.4 147,136.7 147.2,137.9 147.3,139.2 147.5,135.9 147.6,135.3 147.8,139.2 147.9,135.3 148.1,138.8 148.2,137.1 148.4,138.1 148.5,139.5 148.7,137.5 148.8,137.5 149,134.3 149.1,134.5 149.3,136.8 149.4,138.2 149.6,137.8 149.7,139.3 149.9,135.6 150,135.2 150.2,136.5 150.3,134.6 150.5,134.2 150.6,132.3 150.8,135.8 150.9,132 151.1,134.7 151.2,131 151.4,135.4 151.5,131.4 151.7,134.6 151.8,130.1 152,132 152.1,134.8 152.3,131.1 152.4,132.5 152.6,131.3 152.7,127.9 152.9,132.5 153,132.6 153.2,129.6 153.3,132.5 153.5,129.9 153.6,129.4 153.8,131.1 153.9,129.7 154.1,135 154.2,127.9 154.4,131.9 154.5,132.3 154.7,126.8 154.8,127.1 155,131.2 155.1,129.2 155.3,130.6 155.4,131.9 155.6,129.1 155.7,127.7 155.9,124.6 156,129.8 156.2,127.7 156.3,129.9 156.5,129.6 156.6,126.7 156.8,132.2 156.9,131 157.1,130.5 157.2,126.8 157.4,128.1 157.5,127.8 157.7,128 157.8,126.7 158,129.5 158.1,129.1 158.3,129.3 158.4,127.7 158.6,130.9 158.7,128.9 158.9,123.6 159,127.4 159.2,128.4 159.3,130.3 159.5,128 159.6,128.1 159.8,127.4 159.9,129.8 160.1,127.8 160.2,127.5 160.4,127.3 160.5,129.6 160.7,127.7 160.8,125.6 161,129.8 161.1,127.4 161.3,129.3 161.4,129.4 161.6,130.9 161.7,130.6 161.9,127.7 162,128.5 162.2,126.5 162.3,131.9 162.5,129.7 162.6,131.4 162.8,128.4 162.9,125.3 163.1,131.8 163.2,129.2 163.4,129.3 163.5,129.2 163.7,130.3 163.8,130.1 164,126.3 164.1,131.2 164.3,128.3 164.4,128.5 164.6,132.5 164.7,131 164.9,128.8 165,126.1 165.2,129.8 165.3,130.5 165.5,129.5 165.6,127.4 165.8,128.3 165.9,127.5 166.1,130.2 166.2,131.3 166.4,131.7 166.5,128.6 166.7,130.4 166.8,131 167,129.2 167.1,129.9 167.3,134 167.4,130.6 167.6,131.9 167.7,129.6 167.9,130.5 168,127.4 168.2,130.5 168.3,132.7 168.5,134.4 168.6,132.9 168.8,132 168.9,130.9 169.1,129.8 169.2,130.7 169.4,132.1 169.5,129.7 169.7,132.8 169.8,129.4 170,128.1 170.1,129.5 170.3,128.4 170.4,129 170.6,133.6 170.7,131.3 170.9,132.1 171,133.9 171.2,134.1 171.3,131 171.5,134.4 171.6,132.8 171.8,132.1 171.9,133 172.1,129.7 172.2,130.9 172.4,132.2 172.5,133.6 172.7,131.9 172.8,132.4 173,134.5 173.1,135.4 173.3,134.3 173.4,135.3 173.6,132.3 173.7,132.6 173.9,133.8 174,132.8 174.2,132.5 174.3,136.4 174.5,133.2 174.6,131.9 174.8,134.6 174.9,137.1 175.1,134 175.2,136.2 175.4,133.2 175.5,133.2 175.7,133 175.8,134 176,137.7 176.1,132.4 176.3,137.5 176.4,132.8 176.6,134.3 176.7,136.3 176.9,136 177,135.5 177.2,132.1 177.3,135.8 177.5,133.4 177.6,139.9 177.8,135 177.9,135.8 178.1,133.5 178.2,134.8 178.4,133.4 178.5,137.6 178.7,135.5 178.8,137 179,134.9 179.1,135.3 179.3,138.6 179.4,134.6 179.6,133.2 179.7,137.3 179.9,134.6 180,135.9 180.2,138.5 180.3,135.4 180.5,138.6 180.6,135.9 180.8,139.9 180.9,139.7 181.1,136.5 181.2,137.1 181.4,136 181.5,138 181.7,139.8 181.8,135.2 182,139.5 182.1,135.6 182.3,136.5 182.4,134.9 182.6,142 182.7,138.4 182.9,138.9 183,137.3 183.2,140.5 183.3,134.9 183.5,138.8 183.6,142.8 183.8,138.3 183.9,139.1 184.1,140.3 184.2,137.7 184.4,139.3 184.5,141.1 184.7,139.8 184.8,140.2 185,139 185.1,140.3 185.3,139.9 185.4,142.5 185.6,141.3 185.7,139.6 185.9,135.7 186,141.5 186.2,141.7 186.3,138.7 186.5,136.9 186.6,138.5 186.8,142.3 186.9,138.8 187.1,140 187.2,141.3 187.4,143.2 187.5,141 187.7,140.9 187.8,140.2 188,144.2 188.1,143.3 188.3,141.3 188.4,139 188.6,140.2 188.7,142.7 188.9,140.4 189,143.4 189.2,142.6 189.3,142.5 189.5,143.2 189.6,143 189.8,140.7 189.9,141.7 190.1,146.6 190.2,140.3 190.4,141.6 190.5,144.5 190.7,142.4 190.8,141.3 191,140.4 191.1,143.8 191.3,144.8 191.4,145.5 191.6,143.2 191.7,145 191.9,141.4 192,143.6 192.2,142.1 192.3,143.7 192.5,144.8 192.6,145.5 192.8,141.8 192.9,146 193.1,142.9 193.2,142 193.4,143.6 193.5,141.3 193.7,144 193.8,144.6 194,143.8 194.1,145.2 194.3,143.7 194.4,144.3 194.6,141.8 194.7,144.5 194.9,143 195,143.8 195.2,144.5 195.3,145 195.5,141.8 195.6,142 195.8,144.3 195.9,145.8 196.1,145.6 196.2,146.7 196.4,147.5 196.5,146.1 196.7,145.2 196.8,143.4 197,143.6 197.1,144.5 197.3,145.9 197.4,145.9 197.6,145.6 197.7,145.3 197.9,146.8 198,146.1 198.2,146.3 198.3,146.4 198.5,144.9 198.6,144.1 198.8,146.8 198.9,146.8 199.1,145.7 199.2,145.4 199.4,150.3 199.5,144.8 199.7,145.9 199.8,146.8 200,144.3 200.1,146.6 200.3,149.7 200.4,148.2 200.6,147.7 200.7,147.6 200.9,146.8 201,148.4 201.2,146.4 201.3,146 201.5,147 201.6,148.5 201.8,147.5 201.9,148.1 202.1,143.3 202.2,149.1 202.4,151.2 202.5,149.5 202.7,146.5 202.8,145.6 203,147.7 203.1,145.4 203.3,148.6 203.4,146.4 203.6,149.1 203.7,149.8 203.9,143.7 204,148 204.2,146.2 204.3,145 204.5,146.4 204.6,147.2 204.8,149.5 204.9,144.9 205.1,149.6 205.2,151.3 205.4,148.8 205.5,148.7 205.7,147.7 205.8,145.6 206,148.7 206.1,148.4 206.3,149.1 206.4,152.4 206.6,149.1 206.7,148.5 206.9,150.6 207,145.4 207.2,145.7 207.3,147.1 207.5,146.6 207.6,149.1 207.8,147.2 207.9,150.9 208.1,150.6 208.2,149.2 208.4,147.1 208.5,148.9 208.7,149.3 208.8,145.9 209,148.5 209.1,149.1 209.3,148.2 209.4,150.7 209.6,150 209.7,146.4 209.9,148.1 210,146.3 210.2,148.9 210.3,146.3 210.5,149.5 210.6,148.5 210.8,149.6 210.9,147.6 211.1,145.2 211.2,151 211.4,147.5 211.5,150.3 211.7,148.6 211.8,149 212,151.1 212.1,148.4 212.3,150.3 212.4,145.1 212.6,149.4 212.7,147.4 212.9,147.6 213,147.8 213.2,148.4 213.3,150.8 213.5,144.4 213.6,147.9 213.8,146.5 213.9,149.9 214.1,147 214.2,148.6 214.4,147 214.5,148.9 214.7,149.6 214.8,147 215,147.8 215.1,145.2 215.3,148.3 215.4,149.2 215.6,146.7 215.7,149.7 215.9,143.9 216,144.3 216.2,145.2 216.3,146.8 216.5,147.7 216.6,147.5 216.8,147.5 216.9,148.9 217.1,146.8 217.2,145.3 217.4,145.3 217.5,151.4 217.7,143.3 217.8,147.2 218,150.2 218.1,148.4 218.3,146 218.4,147.5 218.6,149.1 218.7,149.7 218.9,145.9 219,148.8 219.2,147.9 219.3,149.4 219.5,149.9 219.6,146.8 219.8,144.8 219.9,148.1 220.1,150.6 220.2,148.6 220.4,147.8 220.5,151.7 220.7,145.5 220.8,148.9 221,146.3 221.1,147.4 221.3,147.4 221.4,150 221.6,145.6 221.7,146.3 221.9,144.4 222,148.1 222.2,146.4 222.3,147.9 222.5,145.2 222.6,146.5 222.8,149 222.9,146.8 223.1,148.2 223.2,148 223.4,146.4 223.5,144.3 223.7,148.8 223.8,147.3 224,148.8 224.1,143.4 224.3,144 224.4,143.1 224.6,145.4 224.7,148.8 224.9,147.9 225,146.8 225.2,147.1 225.3,148.2 225.5,146.3 225.6,147.5 225.8,147.1 225.9,142.9 226.1,146.1 226.2,149.2 226.4,146 226.5,146.5 226.7,145.6 226.8,145.8 227,148.7 227.1,146.2 227.3,144.8 227.4,141 227.6,145.5 227.7,143 227.9,143.3 228,147.9 228.2,147.8 228.3,143 228.5,148 228.6,147.3 228.8,145 228.9,147.7 229.1,143.4 229.2,144.2 229.4,143.7 229.5,144.3 229.7,147.8 229.8,143.8 230,144.1 230.1,144.5 230.3,146.5 230.4,145.5 230.6,147.6 230.7,144.8 230.9,143.7 231,145.1 231.2,146 231.3,144.3 231.5,146.4 231.6,149.1 231.8,144.8 231.9,145.9 232.1,148.2 232.2,144.5 232.4,144.1 232.5,143.6 232.7,146.3 232.8,146.4 233,145.2 233.1,145.5 233.3,147.6 233.4,146.8 233.6,142.7 233.7,145.1 233.9,145.3 234,146.3 234.2,144.5 234.3,143.7 234.5,143.9 234.6,141.5 234.8,144.5 234.9,143.4 235.1,145.2 235.2,142.3 235.4,143.3 235.5,142.1 235.7,141.8 235.8,144.8 236,142.5 236.1,144 236.3,140.9 236.4,142.8 236.6,139.3 236.7,141.1 236.9,140.6 237,142.1 237.2,140.8 237.3,139.5 237.5,140.5 237.6,138.4 237.8,137.9 237.9,137 238.1,134 238.2,131.8 238.4,130.9 238.5,127.2 238.7,126.2 238.8,125.1 239,122.6 239.1,118.9 239.3,116.7 239.4,119.5 239.6,120.8 239.7,125.1 239.9,124.9 240,127.7 240.2,131.7 240.3,131.5 240.5,133.9 240.6,138.8 240.8,139.7 240.9,139.3 241.1,139.6 241.2,138.2 241.4,141.6 241.5,141.3 241.7,142.1 241.8,141.2 242,142.5 242.1,142.5 242.3,143.7 242.4,146 242.6,144.3 242.7,140.9 242.9,142.3 243,141.3 243.2,142.9 243.3,145.5 243.5,145.3 243.6,143.6 243.8,145.3 243.9,143.5 244.1,142.4 244.2,142.5 244.4,143.6 244.5,147.7 244.7,142.8 244.8,147.5 245,147.7 245.1,145.1 245.3,145.4 245.4,144.4 245.6,145.5 245.7,146.8 245.9,145.6 246,147.4 246.2,147.8 246.3,146.3 246.5,146.3 246.6,145.7 246.8,146.4 246.9,143.8 247.1,146.6 247.2,146.2 247.4,144.4 247.5,149.8 247.7,144.2 247.8,144.4 248,146.5 248.1,142.5 248.3,144.6 248.4,143.3 248.6,144.3 248.7,145.8 248.9,146.7 249,148.1 249.2,147.6 249.3,148.3 249.5,147.2 249.6,145.3 249.8,148.2 249.9,145.3 250.1,145.1 250.2,149 250.4,147.6 250.5,146.6 250.7,147.6 250.8,147.8 251,143.8 251.1,146.1 251.3,144.2 251.4,146.5 251.6,145.1 251.7,148.8 251.9,147.3 252,144.9 252.2,146.3 252.3,144.2 252.5,146.5 252.6,147.4 252.8,146.9 252.9,142.9 253.1,145.8 253.2,147.3 253.4,147 253.5,148.5 253.7,144.1 253.8,147.4 254,145.3 254.1,146.8 254.3,147.2 254.4,147.7 254.6,145.5 254.7,146.8 254.9,144.4 255,144 255.2,147.5 255.3,146.5 255.5,143.6 255.6,145 255.8,146.6 255.9,149.4 256.1,148.5 256.2,148 256.4,143.4 256.5,146.4 256.7,147.5 256.8,147.3 257,147.4 257.1,146.2 257.3,149.8 257.4,149.3 257.6,146.5 257.7,144.9 257.9,150.4 258,145.7 258.2,148.8 258.3,150.1 258.5,145 258.6,147.2 258.8,146.1 258.9,147.7 259.1,147.3 259.2,150.2 259.4,147.8 259.5,146.7 259.7,148.8 259.8,146.3 260,146.1 260.1,150.8 260.3,145.3 260.4,145.9 260.6,146.9 260.7,144.9 260.9,143 261,148.7 261.2,145.4 261.3,145.9 261.5,146.2 261.6,145.1 261.8,144.9 261.9,147.2 262.1,151.2 262.2,148.2 262.4,148.2 262.5,144.2 262.7,146.9 262.8,144.8 263,148.3 263.1,146.5 263.3,147 263.4,146.8 263.6,145.9 263.7,144.2 263.9,148 264,144.5 264.2,144.8 264.3,146.4 264.5,145.7 264.6,147.5 264.8,148.8 264.9,147.4 265.1,147.4 265.2,147.1 265.4,148.6 265.5,143.7 265.7,147.7 265.8,145.4 266,144.8 266.1,147.1 266.3,146.4 266.4,148.1 266.6,149.1 266.7,142.9 266.9,147 267,150.6 267.2,148.7 267.3,149.7 267.5,147.3 267.6,144.5 267.8,145.1 267.9,148.4 268.1,148.9 268.2,145.8 268.4,146.7 268.5,147.6 268.7,144 268.8,146.5 269,150.1 269.1,151.1 269.3,147 269.4,150.5 269.6,146.3 269.7,145.7 269.9,143.2 270,148.9 270.2,146.5 270.3,151.4 270.5,147.8 270.6,147.6 270.8,144 270.9,150 271.1,146.6 271.2,147 271.4,143.3 271.5,148.9 271.7,149.1 271.8,146.2 272,147.5 272.1,148 272.3,149 272.4,147.5 272.6,150.4 272.7,146.9" fill="none" stroke="#e33d3f" stroke-width="1.15" stroke-linejoin="round" />
<polyline points="46.1,180.7 46.2,180.8 46.4,180.5 46.5,180.7 46.7,180.9 46.8,180.9 47,180.7 47.1,180.9 47.3,180.6 47.4,180.8 47.6,180.9 47.7,180.9 47.9,180.8 48,181 48.2,181.1 48.3,180.8 48.5,181 48.6,180.7 48.8,180.7 48.9,181 49.1,180.9 49.2,180.9 49.4,180.8 49.5,180.9 49.7,181 49.8,181.1 50,180.9 50.1,180.7 50.3,181.1 50.4,181 50.6,181 50.7,181 50.9,181.2 51,181 51.2,181 51.3,180.7 51.5,180.9 51.6,180.9 51.8,181 51.9,181 52.1,180.9 52.2,181.2 52.4,180.9 52.5,181 52.7,181 52.8,180.9 53,181.1 53.1,181.1 53.3,181 53.4,181.3 53.6,181 53.7,181.1 53.9,180.9 54,180.9 54.2,181 54.3,181 54.5,181 54.6,181.2 54.8,180.8 54.9,180.9 55.1,180.9 55.2,181.3 55.4,181 55.5,181 55.7,181 55.8,181.2 56,181.1 56.1,181.1 56.3,180.9 56.4,181.3 56.6,181.2 56.7,181.2 56.9,181.3 57,181.1 57.2,181.1 57.3,181.2 57.5,181.2 57.6,181.1 57.8,181.2 57.9,181.1 58.1,181.3 58.2,181.3 58.4,181.2 58.5,181.4 58.7,181 58.8,181.2 59,181.4 59.1,181.2 59.3,181 59.4,181.4 59.6,181.3 59.7,181.1 59.9,181.3 60,181.1 60.2,181.1 60.3,181.2 60.5,181.2 60.6,181.1 60.8,181.2 60.9,181.1 61.1,181.3 61.2,181.3 61.4,181.4 61.5,181.2 61.7,181.1 61.8,181.1 62,181.3 62.1,181.5 62.3,181.4 62.4,181.2 62.6,181.4 62.7,181.2 62.9,181.4 63,181.3 63.2,181.4 63.3,181.4 63.5,181.3 63.6,181.4 63.8,181.2 63.9,181.3 64.1,181.5 64.2,181.9 64.4,181.5 64.5,181.4 64.7,181.3 64.8,181.5 65,181.2 65.1,181.3 65.3,181.4 65.4,181.3 65.6,181.6 65.7,181.5 65.9,181.3 66,181.4 66.2,181.3 66.3,181.3 66.5,181.5 66.6,181.5 66.8,181.5 66.9,181.5 67.1,181.4 67.2,181.5 67.4,181.3 67.5,181.5 67.7,181.6 67.8,181.6 68,181.4 68.1,181.4 68.3,181.7 68.4,181.7 68.6,181.3 68.7,181.4 68.9,181.5 69,181.7 69.2,181.4 69.3,181.6 69.5,181.5 69.6,181.8 69.8,181.6 69.9,181.5 70.1,181.5 70.2,181.7 70.4,181.6 70.5,181.4 70.7,181.6 70.8,181.4 71,181.5 71.1,181.4 71.3,181.4 71.4,181.5 71.6,181.5 71.7,181.6 71.9,181.7 72,181.6 72.2,181.5 72.3,181.7 72.5,181.4 72.6,181.4 72.8,181.7 72.9,181.7 73.1,181.7 73.2,181.6 73.4,181.5 73.5,181.6 73.7,181.7 73.8,181.6 74,181.6 74.1,181.5 74.3,181.5 74.4,181.8 74.6,181.7 74.7,181.5 74.9,181.5 75,181.6 75.2,181.7 75.3,181.5 75.5,181.7 75.6,181.4 75.8,181.5 75.9,181.7 76.1,181.8 76.2,181.6 76.4,181.6 76.5,181.8 76.7,181.6 76.8,181.6 77,181.8 77.1,181.7 77.3,181.8 77.4,181.8 77.6,181.6 77.7,181.7 77.9,181.7 78,181.5 78.2,181.5 78.3,181.7 78.5,181.4 78.6,181.7 78.8,181.6 78.9,181.5 79.1,181.5 79.2,181.4 79.4,181.4 79.5,181.1 79.7,180.9 79.8,180.7 80,180.6 80.1,180 80.3,179.4 80.4,179.3 80.6,179.4 80.7,179.9 80.9,180.3 81,181 81.2,180.7 81.3,181.3 81.5,181.4 81.6,181.3 81.8,181.5 81.9,181.5 82.1,181.7 82.2,181.8 82.4,181.5 82.5,181.9 82.7,181.7 82.8,182 83,181.9 83.1,182 83.3,181.9 83.4,182 83.6,181.9 83.7,181.8 83.9,182 84,182 84.2,182.2 84.3,181.7 84.5,181.9 84.6,182.1 84.8,181.8 84.9,181.9 85.1,182.2 85.2,182.1 85.4,181.9 85.5,182.2 85.7,182.1 85.8,182.1 86,182.1 86.1,182 86.3,181.9 86.4,182 86.6,182.1 86.7,182.1 86.9,182.3 87,182 87.2,181.8 87.3,182 87.5,182.1 87.6,182.1 87.8,182.1 87.9,182 88.1,182.3 88.2,182 88.4,182.2 88.5,182.1 88.7,182 88.8,182.3 89,181.8 89.1,182 89.3,182.2 89.4,182.1 89.6,182.2 89.7,182.1 89.9,182.1 90,182.4 90.2,182.1 90.3,182.1 90.5,182 90.6,182.1 90.8,182.3 90.9,182.2 91.1,182.2 91.2,182.1 91.4,182.3 91.5,182 91.7,182.2 91.8,182.2 92,182.1 92.1,182.2 92.3,182.1 92.4,182.1 92.6,182.4 92.7,182.3 92.9,182.4 93,182.3 93.2,182.4 93.3,182.3 93.5,182.4 93.6,182.5 93.8,182.2 93.9,182.3 94.1,182.3 94.2,181.9 94.4,182.1 94.5,182.3 94.7,182.4 94.8,182.2 95,182.4 95.1,182.5 95.3,182.3 95.4,182.5 95.6,182.5 95.7,182.4 95.9,182.2 96,182.5 96.2,182.3 96.3,182.3 96.5,182.4 96.6,182.3 96.8,182.5 96.9,182.5 97.1,182.5 97.2,182.4 97.4,182.3 97.5,182.4 97.7,182.5 97.8,182.3 98,182.8 98.1,182.4 98.3,182.3 98.4,182.6 98.6,182.5 98.7,182.4 98.9,182.4 99,182.5 99.2,182.5 99.3,182.5 99.5,182.4 99.6,182.5 99.8,182.6 99.9,182.6 100.1,182.1 100.2,182.4 100.4,182.4 100.5,182.5 100.7,182.5 100.8,182.6 101,182.6 101.1,182.5 101.3,182.5 101.4,182.7 101.6,182.4 101.7,182.6 101.9,182.7 102,182.6 102.2,182.3 102.3,182.6 102.5,182.5 102.6,182.5 102.8,182.7 102.9,182.6 103.1,182.5 103.2,182.7 103.4,182.6 103.5,182.6 103.7,182.6 103.8,182.6 104,182.5 104.1,182.5 104.3,182.6 104.4,182.5 104.6,182.5 104.7,182.8 104.9,182.6 105,182.6 105.2,182.6 105.3,182.6 105.5,182.6 105.6,182.6 105.8,182.5 105.9,182.8 106.1,182.6 106.2,182.8 106.4,182.4 106.5,182.5 106.7,182.8 106.8,182.7 107,182.6 107.1,182.7 107.3,182.6 107.4,182.7 107.6,182.4 107.7,182.6 107.9,182.6 108,182.8 108.2,182.8 108.3,182.6 108.5,182.9 108.6,182.7 108.8,182.5 108.9,182.4 109.1,182.9 109.2,182.7 109.4,182.7 109.5,182.7 109.7,182.6 109.8,182.9 110,182.8 110.1,183 110.3,182.8 110.4,182.5 110.6,182.9 110.7,182.7 110.9,182.8 111,183 111.2,182.8 111.3,182.9 111.5,182.8 111.6,182.7 111.8,182.9 111.9,182.8 112.1,183 112.2,182.9 112.4,182.8 112.5,182.9 112.7,182.9 112.8,182.8 113,183 113.1,182.8 113.3,182.9 113.4,182.8 113.6,182.9 113.7,182.9 113.9,182.8 114,182.8 114.2,182.8 114.3,183 114.5,182.8 114.6,183 114.8,183.1 114.9,183 115.1,182.7 115.2,182.9 115.4,183.1 115.5,182.9 115.7,183.1 115.8,183 116,183 116.1,182.9 116.3,182.9 116.4,182.9 116.6,183 116.7,183 116.9,183 117,182.9 117.2,183 117.3,183 117.5,182.8 117.6,182.9 117.8,182.9 117.9,183 118.1,183 118.2,183 118.4,182.9 118.5,183.1 118.7,183.1 118.8,182.8 119,183 119.1,182.9 119.3,183.2 119.4,183 119.6,183 119.7,183.1 119.9,183 120,183.1 120.2,183.3 120.3,183.1 120.5,183.2 120.6,183.2 120.8,183 120.9,183.3 121.1,183.2 121.2,183.2 121.4,183 121.5,183.2 121.7,183.2 121.8,183.1 122,183.4 122.1,183.2 122.3,183.1 122.4,183.2 122.6,183.2 122.7,183.3 122.9,183.2 123,183.3 123.2,183.3 123.3,183 123.5,183.1 123.6,183.1 123.8,183.2 123.9,183.4 124.1,183.3 124.2,183.1 124.4,183.2 124.5,183.3 124.7,183.1 124.8,183.2 125,183.2 125.1,183 125.3,183.3 125.4,183.3 125.6,183.3 125.7,183.1 125.9,183.1 126,183.2 126.2,183.3 126.3,183.3 126.5,183.3 126.6,183.5 126.8,183.4 126.9,183.2 127.1,183.2 127.2,183.5 127.4,183.2 127.5,183.4 127.7,183.5 127.8,183.2 128,183.3 128.1,183.3 128.3,183.2 128.4,183.2 128.6,183.2 128.7,183.4 128.9,183.2 129,183.3 129.2,183.3 129.3,183.1 129.5,183.5 129.6,183 129.8,183.2 129.9,183.4 130.1,183.2 130.2,183.4 130.4,183.5 130.5,183.2 130.7,183.4 130.8,183.2 131,183.4 131.1,183.4 131.3,183.4 131.4,183.5 131.6,183.4 131.7,183.5 131.9,183.4 132,183.2 132.2,183.4 132.3,183.4 132.5,183.2 132.6,183.5 132.8,183.4 132.9,183.4 133.1,183.2 133.2,183.3 133.4,183.4 133.5,183.3 133.7,183.3 133.8,183.1 134,183.5 134.1,183.2 134.3,183 134.4,183.2 134.6,183.2 134.7,183.3 134.9,183.1 135,183.3 135.2,183.1 135.3,183.4 135.5,183.2 135.6,183.3 135.8,182.9 135.9,183.1 136.1,182.8 136.2,182.9 136.4,182.8 136.5,182.4 136.7,182.3 136.8,182.1 137,181.8 137.1,181.6 137.3,181.1 137.4,180.5 137.6,180 137.7,179.2 137.9,178.1 138,177.4 138.2,177.1 138.3,177.3 138.5,177.9 138.6,179 138.8,179.9 138.9,180.6 139.1,181.1 139.2,181.8 139.4,182.1 139.5,182.1 139.7,182.4 139.8,182.7 140,182.6 140.1,182.9 140.3,182.9 140.4,182.9 140.6,183 140.7,182.9 140.9,183.1 141,182.9 141.2,183.5 141.3,183.4 141.5,183.4 141.6,183.3 141.8,183.4 141.9,183.5 142.1,183.4 142.2,183.4 142.4,183.2 142.5,183.4 142.7,183.3 142.8,183.2 143,183.2 143.1,183.4 143.3,183.5 143.4,183.2 143.6,183.6 143.7,183.6 143.9,183.3 144,183.3 144.2,183.4 144.3,183.5 144.5,183.3 144.6,183.2 144.8,183.4 144.9,183.1 145.1,183.3 145.2,183.4 145.4,183.3 145.5,183.3 145.7,183.3 145.8,183.3 146,183.2 146.1,183 146.3,183 146.4,182.9 146.6,183 146.7,182.9 146.9,182.6 147,182.2 147.2,182 147.3,181.8 147.5,181.8 147.6,181.5 147.8,181.5 147.9,181.5 148.1,181.9 148.2,182.1 148.4,182.3 148.5,182.5 148.7,182.9 148.8,182.8 149,183.1 149.1,183.1 149.3,183 149.4,183.2 149.6,183.1 149.7,183 149.9,183.1 150,183 150.2,183.2 150.3,183.2 150.5,183.2 150.6,183.2 150.8,182.8 150.9,183.2 151.1,182.9 151.2,183.1 151.4,183 151.5,183.1 151.7,183.2 151.8,182.8 152,183 152.1,182.9 152.3,182.7 152.4,182.9 152.6,182.8 152.7,182.7 152.9,182.6 153,183 153.2,182.5 153.3,182.2 153.5,182.2 153.6,182.1 153.8,182 153.9,181.8 154.1,181.5 154.2,181.4 154.4,181 154.5,180.5 154.7,180.1 154.8,179.6 155,179 155.1,178 155.3,176.7 155.4,175.2 155.6,173.2 155.7,170.7 155.9,167 156,163 156.2,158.8 156.3,155.3 156.5,154.8 156.6,157 156.8,160.9 156.9,165.3 157.1,169.1 157.2,172.1 157.4,174.3 157.5,176.1 157.7,177.7 157.8,178.3 158,179.3 158.1,180 158.3,180.5 158.4,180.9 158.6,181.2 158.7,181.6 158.9,181.9 159,181.9 159.2,182.1 159.3,182.2 159.5,182.3 159.6,182.5 159.8,182.4 159.9,182.7 160.1,182.9 160.2,183 160.4,183 160.5,182.8 160.7,183.1 160.8,182.9 161,183 161.1,183.3 161.3,182.9 161.4,183.2 161.6,183.1 161.7,183.1 161.9,183 162,183.2 162.2,183.1 162.3,183.3 162.5,183.3 162.6,183 162.8,183.1 162.9,183.2 163.1,183.1 163.2,183.1 163.4,183.2 163.5,183.2 163.7,183 163.8,183.1 164,183.2 164.1,183 164.3,183 164.4,183.2 164.6,183.2 164.7,182.8 164.9,182.8 165,182.9 165.2,182.7 165.3,182.7 165.5,182.6 165.6,182.6 165.8,182.1 165.9,181.9 166.1,181.8 166.2,181.8 166.4,181.4 166.5,180.7 166.7,180.5 166.8,179.8 167,178.8 167.1,177.6 167.3,176.2 167.4,174.6 167.6,172.7 167.7,171.5 167.9,171.2 168,172 168.2,173.5 168.3,175.4 168.5,177 168.6,178.3 168.8,179.5 168.9,180.2 169.1,180.9 169.2,181.1 169.4,181.7 169.5,181.9 169.7,182.1 169.8,182.3 170,182.7 170.1,182.8 170.3,182.7 170.4,182.7 170.6,183 170.7,183 170.9,183.3 171,183 171.2,183 171.3,183.2 171.5,183.3 171.6,183.3 171.8,183.4 171.9,183.6 172.1,183.4 172.2,183.4 172.4,183.2 172.5,183.5 172.7,183.6 172.8,183.5 173,183.7 173.1,183.5 173.3,183.7 173.4,183.6 173.6,183.4 173.7,183.5 173.9,183.4 174,183.4 174.2,183.6 174.3,183.7 174.5,183.8 174.6,183.6 174.8,183.6 174.9,183.5 175.1,183.8 175.2,183.7 175.4,183.6 175.5,183.7 175.7,183.7 175.8,183.4 176,183.8 176.1,183.7 176.3,183.6 176.4,183.6 176.6,183.9 176.7,183.9 176.9,183.9 177,183.6 177.2,183.6 177.3,183.8 177.5,183.6 177.6,183.6 177.8,183.5 177.9,183.9 178.1,183.8 178.2,183.8 178.4,183.7 178.5,183.7 178.7,183.7 178.8,183.8 179,183.6 179.1,183.9 179.3,183.7 179.4,183.6 179.6,183.9 179.7,183.7 179.9,183.8 180,183.7 180.2,183.5 180.3,183.8 180.5,183.6 180.6,183.9 180.8,183.6 180.9,183.5 181.1,183.8 181.2,183.8 181.4,183.8 181.5,183.6 181.7,183.9 181.8,183.6 182,183.7 182.1,183.7 182.3,183.7 182.4,183.9 182.6,183.7 182.7,183.8 182.9,183.9 183,183.6 183.2,183.6 183.3,183.7 183.5,183.7 183.6,183.8 183.8,183.5 183.9,183.9 184.1,183.9 184.2,183.8 184.4,183.6 184.5,183.8 184.7,183.7 184.8,183.8 185,183.8 185.1,183.9 185.3,183.7 185.4,184 185.6,183.5 185.7,183.7 185.9,183.8 186,183.6 186.2,183.9 186.3,183.6 186.5,183.8 186.6,183.7 186.8,183.7 186.9,183.8 187.1,183.8 187.2,183.7 187.4,184 187.5,183.8 187.7,183.7 187.8,183.9 188,183.9 188.1,183.9 188.3,184 188.4,183.6 188.6,183.9 188.7,183.9 188.9,183.8 189,183.8 189.2,183.4 189.3,183.7 189.5,183.9 189.6,183.5 189.8,183.6 189.9,183.7 190.1,183.8 190.2,183.9 190.4,183.4 190.5,183.6 190.7,183.7 190.8,183.4 191,183.6 191.1,183.8 191.3,183.6 191.4,183.5 191.6,183.1 191.7,183.3 191.9,183.2 192,183 192.2,182.9 192.3,183.1 192.5,182.4 192.6,182.1 192.8,181.8 192.9,181.4 193.1,181.1 193.2,180.9 193.4,181 193.5,181.1 193.7,181.3 193.8,181.8 194,182.3 194.1,182.4 194.3,182.9 194.4,183 194.6,183 194.7,183.3 194.9,183.5 195,183.6 195.2,183.4 195.3,183.6 195.5,183.5 195.6,183.4 195.8,183.7 195.9,183.7 196.1,183.7 196.2,183.7 196.4,183.8 196.5,183.7 196.7,183.8 196.8,183.9 197,183.8 197.1,183.9 197.3,183.6 197.4,183.7 197.6,184 197.7,184 197.9,183.8 198,183.8 198.2,183.7 198.3,183.9 198.5,183.9 198.6,183.7 198.8,183.9 198.9,183.9 199.1,183.9 199.2,183.7 199.4,183.9 199.5,183.7 199.7,184 199.8,183.9 200,183.7 200.1,184 200.3,184 200.4,183.8 200.6,184.1 200.7,183.8 200.9,183.9 201,184 201.2,183.6 201.3,184 201.5,183.9 201.6,183.9 201.8,183.8 201.9,183.9 202.1,183.8 202.2,183.8 202.4,183.8 202.5,183.7 202.7,184.1 202.8,183.7 203,183.8 203.1,183.9 203.3,183.9 203.4,184 203.6,184 203.7,183.9 203.9,183.9 204,183.9 204.2,184 204.3,184 204.5,183.9 204.6,183.7 204.8,184.2 204.9,184 205.1,183.9 205.2,184 205.4,183.9 205.5,183.8 205.7,183.9 205.8,183.9 206,183.8 206.1,183.7 206.3,183.9 206.4,184 206.6,183.9 206.7,183.9 206.9,183.7 207,183.9 207.2,183.9 207.3,183.8 207.5,183.7 207.6,184 207.8,183.8 207.9,184 208.1,183.9 208.2,184 208.4,183.9 208.5,183.8 208.7,183.9 208.8,183.9 209,184 209.1,183.9 209.3,183.9 209.4,184 209.6,184.1 209.7,184 209.9,184.1 210,184 210.2,184 210.3,184 210.5,184 210.6,184 210.8,184 210.9,184.2 211.1,183.9 211.2,183.9 211.4,183.9 211.5,183.9 211.7,184 211.8,183.8 212,183.7 212.1,184 212.3,183.8 212.4,184 212.6,184 212.7,184.1 212.9,184.2 213,184 213.2,183.9 213.3,183.8 213.5,183.9 213.6,184 213.8,183.7 213.9,184 214.1,183.9 214.2,184 214.4,183.9 214.5,184 214.7,183.9 214.8,183.9 215,183.7 215.1,184 215.3,184.1 215.4,184 215.6,184 215.7,183.8 215.9,184.1 216,183.9 216.2,184 216.3,184 216.5,183.8 216.6,184.1 216.8,183.9 216.9,184 217.1,184 217.2,183.9 217.4,183.9 217.5,184 217.7,183.9 217.8,183.9 218,183.8 218.1,183.7 218.3,183.8 218.4,183.8 218.6,183.9 218.7,184 218.9,183.7 219,183.9 219.2,183.6 219.3,183.7 219.5,183.8 219.6,183.6 219.8,183.6 219.9,183.8 220.1,183.8 220.2,183.8 220.4,183.7 220.5,184 220.7,183.7 220.8,183.6 221,183.8 221.1,183.7 221.3,183.5 221.4,183.6 221.6,183.4 221.7,183.3 221.9,183.2 222,182.9 222.2,182.9 222.3,182.6 222.5,182.1 222.6,181.7 222.8,181.5 222.9,180.8 223.1,180.4 223.2,180.2 223.4,180.1 223.5,180.1 223.7,180.8 223.8,181.4 224,181.8 224.1,182.3 224.3,182.5 224.4,182.8 224.6,183.1 224.7,183.1 224.9,183.5 225,183.6 225.2,183.5 225.3,183.7 225.5,183.7 225.6,183.5 225.8,183.8 225.9,183.8 226.1,183.8 226.2,183.8 226.4,184 226.5,183.9 226.7,183.7 226.8,183.9 227,183.9 227.1,183.8 227.3,183.8 227.4,183.8 227.6,183.8 227.7,184 227.9,184 228,184.2 228.2,184.1 228.3,184.1 228.5,184.1 228.6,184.1 228.8,183.9 228.9,184 229.1,184 229.2,183.9 229.4,183.9 229.5,183.9 229.7,183.9 229.8,183.8 230,184 230.1,184 230.3,184 230.4,184 230.6,184.1 230.7,183.9 230.9,184 231,183.8 231.2,183.7 231.3,183.7 231.5,184.2 231.6,183.8 231.8,184 231.9,184.1 232.1,183.9 232.2,184.2 232.4,184.2 232.5,184.1 232.7,184.2 232.8,184 233,183.9 233.1,184 233.3,183.9 233.4,183.8 233.6,183.8 233.7,184.2 233.9,183.9 234,183.9 234.2,183.8 234.3,183.9 234.5,183.8 234.6,183.8 234.8,183.7 234.9,183.7 235.1,183.7 235.2,183.8 235.4,184 235.5,183.9 235.7,183.9 235.8,183.8 236,183.6 236.1,183.5 236.3,183.6 236.4,183.3 236.6,183.4 236.7,183.6 236.9,183.3 237,183.3 237.2,183 237.3,182.7 237.5,182.7 237.6,182.4 237.8,182.4 237.9,182.1 238.1,181.4 238.2,181.1 238.4,180.6 238.5,180.2 238.7,179.7 238.8,179.6 239,179.7 239.1,179.9 239.3,180.1 239.4,180.7 239.6,180.9 239.7,181.7 239.9,181.8 240,182.2 240.2,182.5 240.3,182.7 240.5,182.8 240.6,182.9 240.8,183.4 240.9,183.3 241.1,183.4 241.2,183.7 241.4,183.5 241.5,183.7 241.7,183.7 241.8,183.8 242,183.8 242.1,183.8 242.3,183.8 242.4,183.9 242.6,184 242.7,183.6 242.9,183.9 243,183.9 243.2,183.9 243.3,183.7 243.5,184 243.6,183.9 243.8,183.9 243.9,183.9 244.1,183.8 244.2,183.9 244.4,183.8 244.5,183.9 244.7,184 244.8,184 245,184 245.1,184 245.3,184.3 245.4,184.1 245.6,183.9 245.7,184 245.9,184 246,184.1 246.2,184 246.3,184 246.5,184.3 246.6,184.1 246.8,184 246.9,184.1 247.1,184.1 247.2,184.3 247.4,184.2 247.5,184.2 247.7,183.7 247.8,184.1 248,184.2 248.1,184.3 248.3,184.1 248.4,183.9 248.6,184.2 248.7,184 248.9,183.9 249,184 249.2,184.3 249.3,184.3 249.5,184.2 249.6,184 249.8,184.4 249.9,184 250.1,184.1 250.2,184 250.4,184.3 250.5,184.2 250.7,184.2 250.8,184.2 251,184.1 251.1,184.2 251.3,183.9 251.4,184.3 251.6,184.3 251.7,184.1 251.9,184.1 252,184.2 252.2,184.3 252.3,184.2 252.5,184.2 252.6,184.1 252.8,184 252.9,184.1 253.1,184.2 253.2,184.1 253.4,184.2 253.5,184.2 253.7,184.2 253.8,184.2 254,184.2 254.1,184.2 254.3,184.1 254.4,184.2 254.6,183.9 254.7,184.3 254.9,184 255,184.2 255.2,184.1 255.3,184.3 255.5,184.1 255.6,184 255.8,184.2 255.9,184.1 256.1,184.1 256.2,184.1 256.4,184.2 256.5,184.1 256.7,184 256.8,183.8 257,183.9 257.1,183.9 257.3,184.1 257.4,183.8 257.6,183.7 257.7,183.8 257.9,183.5 258,183.3 258.2,183.2 258.3,182.8 258.5,182.9 258.6,182.8 258.8,182.7 258.9,182.7 259.1,183.1 259.2,183.4 259.4,183.4 259.5,183.4 259.7,183.7 259.8,183.6 260,183.6 260.1,183.9 260.3,183.9 260.4,184 260.6,184 260.7,184.1 260.9,184 261,184 261.2,184.1 261.3,184.2 261.5,184.2 261.6,184.3 261.8,184.2 261.9,183.8 262.1,184 262.2,184.1 262.4,184.2 262.5,184 262.7,184.4 262.8,184.2 263,184.1 263.1,184.2 263.3,184.2 263.4,184.1 263.6,184.3 263.7,184.2 263.9,184 264,184.1 264.2,184.2 264.3,184.1 264.5,184.4 264.6,184.1 264.8,184.4 264.9,184.3 265.1,184.1 265.2,184.3 265.4,184.4 265.5,184.2 265.7,184.1 265.8,184.3 266,184.5 266.1,184.1 266.3,184.3 266.4,184.2 266.6,184.2 266.7,184.2 266.9,184.2 267,184.4 267.2,184.3 267.3,184.1 267.5,184.4 267.6,184.1 267.8,184.3 267.9,184.3 268.1,184.4 268.2,184.3 268.4,184.4 268.5,184.3 268.7,184.4 268.8,184.3 269,184.5 269.1,184.2 269.3,184.4 269.4,184.3 269.6,184.3 269.7,184.2 269.9,184.3 270,184.1 270.2,184.1 270.3,184.4 270.5,184.1 270.6,184.5 270.8,184.2 270.9,184.3 271.1,184.3 271.2,184.3 271.4,184.3 271.5,184.2 271.7,184.3 271.8,184.4 272,184.4 272.1,184.4 272.3,184.3 272.4,184.3 272.6,184.1 272.7,184.4" fill="none" stroke="#505050" stroke-width="0.9" stroke-linejoin="round" />
<rect x="45.50" y="18.00" width="228.00" height="183.00" fill="none" stroke="#505050" stroke-width="1.3"/>
<path d="M83.50,201.00v-4.5M121.50,201.00v-4.5M159.50,201.00v-4.5M197.50,201.00v-4.5M235.50,201.00v-4.5M64.50,201.00v-2.8M102.50,201.00v-2.8M140.50,201.00v-2.8M178.50,201.00v-2.8M216.50,201.00v-2.8M254.50,201.00v-2.8" stroke="#505050" stroke-width="1.1" fill="none"/>
<text x="45.50" y="213.80" font-size="11" fill="#1a1a1a" font-weight="bold" text-anchor="middle" textLength="12.30" lengthAdjust="spacingAndGlyphs" >10</text>
<text x="83.50" y="213.80" font-size="11" fill="#1a1a1a" font-weight="bold" text-anchor="middle" textLength="12.30" lengthAdjust="spacingAndGlyphs" >20</text>
<text x="121.50" y="213.80" font-size="11" fill="#1a1a1a" font-weight="bold" text-anchor="middle" textLength="12.30" lengthAdjust="spacingAndGlyphs" >30</text>
<text x="159.50" y="213.80" font-size="11" fill="#1a1a1a" font-weight="bold" text-anchor="middle" textLength="12.30" lengthAdjust="spacingAndGlyphs" >40</text>
<text x="197.50" y="213.80" font-size="11" fill="#1a1a1a" font-weight="bold" text-anchor="middle" textLength="12.30" lengthAdjust="spacingAndGlyphs" >50</text>
<text x="235.50" y="213.80" font-size="11" fill="#1a1a1a" font-weight="bold" text-anchor="middle" textLength="12.30" lengthAdjust="spacingAndGlyphs" >60</text>
<text x="273.50" y="213.80" font-size="11" fill="#1a1a1a" font-weight="bold" text-anchor="middle" textLength="12.30" lengthAdjust="spacingAndGlyphs" >70</text>
<text x="159.20" y="228.30" font-size="11" fill="#1a1a1a" font-weight="bold" text-anchor="middle" textLength="83.40" lengthAdjust="spacingAndGlyphs" >2 Theta/degree</text>
<text x="33.20" y="109.40" font-size="11.8" fill="#1a1a1a" font-weight="bold" text-anchor="middle" textLength="81.00" lengthAdjust="spacingAndGlyphs" transform="rotate(-90 33.20 109.40)" >Intensity/(a.u.)</text>
<text x="3.90" y="20.90" font-size="23.5" fill="#111" font-weight="bold" textLength="30.30" lengthAdjust="spacingAndGlyphs" stroke="#111" stroke-width="0.25">(a)</text>
<polygon points="48.20,23.60 56.80,23.60 52.50,31.60" fill="#2c63c2"/>
<text x="58.60" y="32.30" font-size="12.2" fill="#1a1a1a" textLength="25.20" lengthAdjust="spacingAndGlyphs" >CoP</text>
<polygon points="88.80,23.60 97.40,23.60 93.10,31.60" fill="#e23b3e"/>
<text x="99.60" y="32.30" font-size="12.2" fill="#1a1a1a" textLength="42.00" lengthAdjust="spacingAndGlyphs" >Ti<tspan font-size="9.03" dy="3.66">3</tspan><tspan dy="-3.66">​</tspan>C<tspan font-size="9.03" dy="3.66">2</tspan><tspan dy="-3.66">​</tspan>T<tspan font-size="9.03" dy="3.66">x</tspan><tspan dy="-3.66">​</tspan></text>
<polygon points="71.70,54.50 80.10,54.50 75.90,62.70" fill="#e23b3e"/>
<polygon points="125.09,49.30 133.49,49.30 129.29,57.50" fill="#2c63c2"/>
<polygon points="143.14,44.90 151.54,44.90 147.34,53.10" fill="#2c63c2"/>
<polygon points="180.00,52.80 188.40,52.80 184.20,61.00" fill="#2c63c2"/>
<polygon points="186.46,43.20 194.86,43.20 190.66,51.40" fill="#2c63c2"/>
<polygon points="201.28,56.40 209.68,56.40 205.48,64.60" fill="#2c63c2"/>
<polygon points="218.76,54.60 227.16,54.60 222.96,62.80" fill="#2c63c2"/>
<polygon points="235.86,54.60 244.26,54.60 240.06,62.80" fill="#e23b3e"/>
<text x="270.30" y="90.80" font-size="10.2" fill="#1a1a1a" text-anchor="end" textLength="55.30" lengthAdjust="spacingAndGlyphs" >Ti<tspan font-size="7.55" dy="3.06">3</tspan><tspan dy="-3.06">​</tspan>C<tspan font-size="7.55" dy="3.06">2</tspan><tspan dy="-3.06">​</tspan>T<tspan font-size="7.55" dy="3.06">x</tspan><tspan dy="-3.06">​</tspan>-CoP</text>
<text x="270.30" y="124.80" font-size="10.2" fill="#1a1a1a" text-anchor="end" textLength="19.00" lengthAdjust="spacingAndGlyphs" >CoP</text>
<text x="273.20" y="159.60" font-size="10.4" fill="#1a1a1a" text-anchor="end" textLength="35.00" lengthAdjust="spacingAndGlyphs" >Ti<tspan font-size="7.70" dy="3.12">3</tspan><tspan dy="-3.12">​</tspan>C<tspan font-size="7.70" dy="3.12">2</tspan><tspan dy="-3.12">​</tspan>T<tspan font-size="7.70" dy="3.12">x</tspan><tspan dy="-3.12">​</tspan></text>
<text x="274.00" y="196.00" font-size="10.4" fill="#1a1a1a" text-anchor="end" textLength="34.50" lengthAdjust="spacingAndGlyphs" >Ti<tspan font-size="7.70" dy="3.12">3</tspan><tspan dy="-3.12">​</tspan>AlC<tspan font-size="7.70" dy="3.12">2</tspan><tspan dy="-3.12">​</tspan></text>
<polyline points="326,106.6 326.3,106.4 326.6,107 326.9,107.1 327.2,106.6 327.5,107 327.8,106.6 328.1,105.7 328.4,106.2 328.7,106.2 329,106.6 329.3,106 329.6,106.2 329.9,105.9 330.2,106.3 330.5,106.3 330.8,106.7 331.1,106.6 331.4,106.3 331.7,106.3 332,106.2 332.3,106.2 332.6,106.8 332.9,105 333.2,106 333.5,106.2 333.8,106.5 334.1,105.5 334.4,106.1 334.7,106.3 335,105.7 335.3,105 335.6,105.7 335.9,105.3 336.2,106.1 336.5,105.4 336.8,106.6 337.1,105.8 337.4,105.4 337.7,105.5 338,105.2 338.3,105.8 338.6,106.3 338.9,105.5 339.2,106 339.5,105.1 339.8,105.7 340,105.5 340.1,104.9 340.4,106.1 340.7,106 341,104.7 341.3,104.8 341.6,105 341.9,105.9 342.2,105.3 342.5,105.4 342.8,105.8 343.1,105.5 343.4,105.5 343.7,105.3 344,105.9 344.3,105 344.6,106.1 344.9,105.2 345.2,105 345.5,105.6 345.8,105.5 346.1,104.4 346.4,105.4 346.7,104.7 347,104.9 347.3,105.6 347.6,104.9 347.9,105.4 348.2,105.1 348.5,106.1 348.6,105.2 348.8,100.6 349.1,94.4 349.4,88.3 349.7,82.5 349.7,82.5 350,89.1 350.3,94.9 350.6,101 350.8,105 350.9,105 351.2,105.1 351.5,105.3 351.8,105.3 352.1,104.6 352.4,104 352.7,104.4 353,104.9 353.3,103.6 353.6,104.5 353.9,104.9 354.2,104.4 354.5,104.1 354.8,105.3 355,104.5 355.1,104.4 355.4,105 355.7,105 356,103.8 356.3,105.5 356.6,103.8 356.9,104 357.2,103.6 357.5,104.1 357.8,103.4 358.1,103.9 358.4,104.3 358.7,103.9 359,103.6 359.3,104.4 359.6,103.2 359.9,104 360,103.5 360.2,103.4 360.5,103 360.8,102.7 361.1,102.2 361.4,101.6 361.7,101.3 362,101.4 362.2,101 362.3,100.1 362.6,99 362.9,97.6 363.2,96.6 363.5,95.3 363.5,95.4 363.8,96.2 364.1,97.7 364.4,98.3 364.7,98.8 364.8,100.5 365,99.7 365.3,99.9 365.6,99.7 365.9,100.5 366.2,99.6 366.5,100 366.5,99.8 366.8,97.6 367.1,95.6 367.4,94.7 367.7,92.8 367.8,92 368,93.9 368.3,94.8 368.6,96.4 368.9,97.8 369.2,99.5 369.3,100 369.5,102.7 369.8,108.7 370.1,111.6 370.4,117.3 370.5,118.7 370.7,118.8 371,118.2 371.3,118.6 371.6,118.4 371.9,118.1 372.2,118.6 372.5,118.4 372.8,118.3 373.1,118.8 373.4,118 373.7,118.7 374,118.2 374.3,118.7 374.6,118.5 374.9,118.5 375.2,118 375.5,118 375.8,118 376.1,118.4 376.4,118.7 376.7,118.8 377,118.1 377.3,118.3 377.6,117.5 377.9,117.2 378.2,117.8 378.5,117.9 378.8,117.5 379.1,117.4 379.4,118.4 379.7,117.8 380,118.1 380,119.1 380.3,118.1 380.6,117.9 380.9,118.3 381.2,117.6 381.5,118.6 381.8,117.2 382.1,117.2 382.4,117.7 382.7,117.4 383,118.3 383.3,116.9 383.6,117.3 383.9,117.7 384.2,117.8 384.5,117.9 384.8,117.6 385.1,118.4 385.4,117.1 385.7,117.4 386,117.6 386.3,117.1 386.6,117 386.9,116.9 387.2,116.8 387.5,116.5 387.8,116.8 388.1,116.3 388.4,117.1 388.7,116.2 389,117.8 389.3,117.6 389.6,117.3 389.9,116.6 390.2,116.4 390.5,117.2 390.8,116.7 391.1,116.8 391.4,116.2 391.7,116.9 392,116.1 392.3,116.4 392.3,115.6 392.6,115.3 392.9,115 393.2,113.8 393.5,113.1 393.8,112.8 394.1,111.7 394.3,111.2 394.4,110.5 394.7,113 395,114.2 395.3,114.5 395.6,115.8 395.9,118 396,118 396.2,118 396.5,119.1 396.8,119.1 397.1,120 397.4,119.9 397.7,120.9 398,121.7 398.3,121.9 398.6,121.2 398.9,123 399.2,123.2 399.5,123.2 399.7,124 399.8,123 400.1,123.9 400.4,122.1 400.7,122.4 401,121 401,120.4 401.3,122.8 401.6,124.7 401.9,126.6 402.2,128.7 402.5,130 402.5,130.2 402.8,129.4 403.1,128.1 403.4,126.9 403.7,126 404,125.9 404.2,125 404.3,123.7 404.6,120.9 404.9,119.5 405.2,116.4 405.2,116.4 405.5,119.5 405.8,122.5 406.1,126.9 406.2,128 406.4,130.8 406.7,134.4 407,136.6 407.3,140 407.3,140.4 407.6,139.8 407.9,139.7 408.2,140.8 408.5,140 408.8,140.2 409.1,140.1 409.4,140.3 409.7,140.1 410,140.7 410.3,141 410.6,140.3 410.9,139.9 411.2,140.6 411.5,140 411.8,140.4 412.1,141.3 412.4,141.8 412.7,141 413,140.4 413.3,141.3 413.5,141 413.6,140.6 413.9,141.3 414.2,140.6 414.5,139.4 414.8,138.9 415.1,139.8 415.4,139.1 415.7,138.5 416,138.7 416.3,137.9 416.6,137 416.9,137.9 417,137.5 417.2,137.6 417.5,138.2 417.8,139.7 418.1,140.1 418.4,141.5 418.7,141.9 419,143.3 419.3,143.5 419.6,144.5 419.6,143.6 419.9,144.1 420.2,145.1 420.5,146.3 420.8,144.5 421.1,144.8 421.4,145.6 421.5,145.5 421.7,137.9 422,127.3 422.3,116.4 422.3,116.2 422.6,126.6 422.9,136.8 423.2,146 423.2,145.9 423.5,146.3 423.8,146.7 424,146.3 424.1,145.9 424.4,146.4 424.7,146.6 425,145.8 425.3,145.5 425.6,146.2 425.9,146.1 426.2,146.3 426.5,145.9 426.8,145.5 427.1,145.6 427.4,145.3 427.7,145.2 428,145.4 428.3,145.4 428.6,146 428.9,144.9 429.2,145.4 429.5,145.1 429.8,146 430.1,145.4 430.4,145.1 430.7,145.5 431,145.2 431.3,144.9 431.6,145.7 431.9,145.3 432.2,145.7 432.5,145.4 432.8,145.2 433.1,144.8 433.4,144.3 433.7,145 434,144.7 434.3,144.9 434.6,144.5 434.9,144.2 435,144.5 435.2,144.8 435.5,145 435.8,144.2 436.1,144.5 436.4,144.9 436.7,143.9 437,144 437.3,143.7 437.6,144.6 437.9,144.2 438.2,143.8 438.5,143.2 438.8,143.9 439.1,144.3 439.4,143.7 439.7,143.6 440,144.1 440.3,143.2 440.6,143.7 440.9,143.9 441.2,143.3 441.5,143.2 441.8,143.6 442.1,143.4 442.4,143.3 442.7,143.5 443,143.4 443.3,142.9 443.6,143 443.9,143.4 444.2,143.7 444.5,143.7 444.8,142.7 445.1,143.5 445.4,143.3 445.7,143 446,143.1 446.3,143.3 446.6,143.6 446.9,142.3 447,142.8 447.2,143.4 447.5,144.4 447.8,146 448.1,146.9 448.4,147.1 448.7,148.4 449,149.7 449.3,149.9 449.6,151.6 449.6,151.6 449.9,152.4 450.2,153.3 450.5,154.7 450.8,154.7 450.9,155 451.1,134.2 451.4,100.9 451.7,68.5 451.9,47.2 452,58.7 452.3,91.6 452.6,125 452.9,158 452.9,157.9 453.2,159.2 453.5,160.9 453.8,163 454,163.9 454.1,164.7 454.4,163.8 454.7,164.1 455,164.1 455.3,165.4 455.6,164.4 455.9,165.5 456.2,166 456.5,165.6 456.5,165.9 456.8,164.6 457.1,165.4 457.4,164.8 457.7,165.6 458,165.5 458.1,165.5 458.3,162 458.6,155.9 458.8,151.8 458.9,153.3 459.2,158.2 459.5,164.1 459.6,166 459.8,165.7 460.1,166.3 460.4,166 460.7,166.6 461,166.6 461.3,166.3 461.6,165.7 461.9,166.4 462.2,167.2 462.5,166.6 462.8,167.1 463.1,166.7 463.4,166.2 463.7,167.3 464,167.3 464.3,167 464.6,167.1 464.9,167.5 465.2,167.2 465.5,167.7 465.8,167.5 466.1,166.7 466.4,167.7 466.7,167.6 466.8,167.9 467,168.1 467.3,167.8 467.6,168.3 467.9,168.7 468.2,168.3 468.5,167.6 468.8,168.1 469.1,168.9 469.4,168.4 469.7,168.3 470,168.6 470.3,169 470.6,169 470.9,169.2 471.2,168.6 471.5,168.9 471.8,169 472.1,169.2 472.4,168.4 472.7,169.3 473,168.8 473.3,170.1 473.6,170.3 473.9,170.4 474.2,170.1 474.5,169.6 474.8,170.3 475.1,169.9 475.4,170.3 475.7,169.7 476,170.2 476,170.4 476.3,171 476.6,170.1 476.9,171.1 477.2,171.3 477.5,169.5 477.8,170.1 478.1,169.6 478.4,170 478.7,169.8 479,170 479.3,170.4 479.6,170.4 479.9,170.1 480.2,169.9 480.5,170 480.8,169.9 481.1,170.1 481.4,169.8 481.7,170 482,169.2 482.3,170.1 482.6,170.5 482.9,169.8 483.2,169.1 483.5,170.3 483.8,169.5 484.1,168.3 484.4,169.5 484.7,169.9 485,169.8 485.3,170.1 485.6,169.8 485.9,169.6 486.2,168.6 486.5,169 486.8,169.6 487.1,169.8 487.4,169 487.7,169.2 488,169.6 488.3,168.5 488.6,168.5 488.9,169.3 489.2,169.4 489.5,169.1 489.8,168.3 490.1,169.3 490.4,168.7 490.7,169.5 491,169.2 491.3,169.3 491.6,169.5 491.9,168.9 492.2,169.5 492.5,169.7 492.8,169.3 493.1,169.7 493.4,168.8 493.7,169.4 494,169.1 494.3,168.6 494.4,169 494.6,168.8 494.9,168.9 495.2,169.3 495.5,169.8 495.8,169.3 496.1,169.6 496.4,169 496.7,169.8 497,170.3 497.3,170.3 497.6,170 497.6,169.8 497.9,161.3 498.2,153.5 498.5,144.7 498.6,142.6 498.8,148.2 499.1,155.1 499.4,164 499.7,171 499.7,171.2 500,170.5 500.3,171.2 500.6,170.7 500.9,171.2 501.2,171.2 501.3,171.3 501.5,171.6 501.8,172.1 502.1,171.2 502.4,171.9 502.7,171.6 503,171.6 503.3,172.6 503.6,170.7 503.9,171.4 504.2,171 504.5,171.7 504.8,171.8 505.1,173.6 505.4,172.1 505.7,172.8 506,172.7 506.3,171.9 506.6,172.4 506.9,173 507.2,172.4 507.5,172.4 507.8,172.6 508.1,171.8 508.4,172.1 508.7,172.7 509,172.8 509.3,172.2 509.6,172.5 509.9,172.7 510.2,172.7 510.5,173.1 510.8,172.9 511.1,173 511.4,172.4 511.7,172.6 512,173.2 512.3,172.4 512.6,173.3 512.9,172.9 513.2,172.9 513.5,173.6 513.8,173.1 514.1,173.1 514.4,173.2 514.7,173.6 515,173.6 515,172.6 515.3,173.6 515.6,173.4 515.9,173.9 516,173.5 516.2,168.8 516.5,165.2 516.7,161 516.8,162.7 517.1,167.3 517.4,172.6 517.5,174.8 517.7,175.2 518,175.2 518.3,174.5 518.6,175 518.9,174.7 519.2,174.9 519.5,174.9 519.8,175.1 520.1,174.6 520.4,174.8 520.7,175 521,174.9 521.3,174.5 521.6,175.7 521.9,174.7 522.2,175.2 522.5,175 522.8,175.5 523.1,173.9 523.4,175.8 523.7,174.8 524,174.4 524.3,175 524.6,176 524.9,175.2 525.2,174.4 525.5,174.8 525.8,175.6 526.1,174.4 526.2,175 526.4,171.2 526.7,166.9 527,160.4 527.1,158.7 527.3,162.2 527.6,167.9 527.9,174.5 528,176 528.2,175.2 528.5,176.3 528.8,176.4 529.1,175.8 529.4,176.2 529.7,176.3 530,176 530.3,176 530.6,175.9 530.9,176.2 531.2,175.7 531.5,176.3 531.8,175.7 532.1,176.4 532.4,176.4 532.7,176 533,176.9 533.3,177.4 533.6,177.1 533.9,176 534.2,177.2 534.5,176.7 534.8,176.6 535.1,176.4 535.4,176.7 535.7,177.4 536,177 536.3,176.6 536.6,176.5 536.9,176.7 537.2,177.2 537.5,177.8 537.8,176.5 538.1,177 538.4,176.9 538.7,176.7 539,177.3 539.3,177.4 539.6,176.5 539.9,176.7 540,177.2 540.2,176.6 540.5,175.7 540.8,174.2 540.9,174.1 541.1,175.3 541.4,176.3 541.7,178 541.7,178 542,178.5 542.3,177.7 542.6,178.8 542.9,178.7 543.2,178.1 543.5,178.6 543.8,178.7 544.1,179.1 544.4,179.3 544.7,178.5 545,178.6 545.3,179.7 545.6,179.4 545.9,179.7 546.2,179.7 546.5,180.4 546.8,179.3 547.1,180.4 547.4,179.7 547.7,180.5 548,180.8 548.3,179.7 548.6,180.6 548.9,180.4 549.2,180.5 549.5,180.8 549.8,180.4 550.1,180.6 550.4,181.4 550.7,181.6 551,181.1 551.3,180.8 551.6,182.6 551.9,182.1 552,181.7 552.2,181.2" fill="none" stroke="#e4292d" stroke-width="1.85" stroke-linejoin="round" />
<rect x="325.50" y="18.00" width="227.00" height="182.50" fill="none" stroke="#505050" stroke-width="1.3"/>
<path d="M363.33,200.50v-4.5M401.17,200.50v-4.5M439.00,200.50v-4.5M476.83,200.50v-4.5M514.67,200.50v-4.5M344.42,200.50v-2.8M382.25,200.50v-2.8M420.08,200.50v-2.8M457.92,200.50v-2.8M495.75,200.50v-2.8M533.58,200.50v-2.8" stroke="#505050" stroke-width="1.1" fill="none"/>
<text x="325.50" y="213.60" font-size="10.5" fill="#1a1a1a" font-weight="bold" text-anchor="middle" textLength="22.60" lengthAdjust="spacingAndGlyphs" >1200</text>
<text x="363.33" y="213.60" font-size="10.5" fill="#1a1a1a" font-weight="bold" text-anchor="middle" textLength="22.60" lengthAdjust="spacingAndGlyphs" >1000</text>
<text x="401.17" y="213.60" font-size="10.5" fill="#1a1a1a" font-weight="bold" text-anchor="middle" textLength="16.95" lengthAdjust="spacingAndGlyphs" >800</text>
<text x="439.00" y="213.60" font-size="10.5" fill="#1a1a1a" font-weight="bold" text-anchor="middle" textLength="16.95" lengthAdjust="spacingAndGlyphs" >600</text>
<text x="476.83" y="213.60" font-size="10.5" fill="#1a1a1a" font-weight="bold" text-anchor="middle" textLength="16.95" lengthAdjust="spacingAndGlyphs" >400</text>
<text x="514.67" y="213.60" font-size="10.5" fill="#1a1a1a" font-weight="bold" text-anchor="middle" textLength="16.95" lengthAdjust="spacingAndGlyphs" >200</text>
<text x="552.50" y="213.60" font-size="10.5" fill="#1a1a1a" font-weight="bold" text-anchor="middle" textLength="5.65" lengthAdjust="spacingAndGlyphs" >0</text>
<text x="439.00" y="226.80" font-size="10.8" fill="#1a1a1a" font-weight="bold" text-anchor="middle" textLength="94.70" lengthAdjust="spacingAndGlyphs" >Binding energy/eV</text>
<text x="318.30" y="105.30" font-size="10.9" fill="#1a1a1a" font-weight="bold" text-anchor="middle" textLength="74.00" lengthAdjust="spacingAndGlyphs" transform="rotate(-90 318.30 105.30)" >Intensity/(a.u.)</text>
<text x="282.30" y="21.20" font-size="23.5" fill="#111" font-weight="bold" textLength="30.30" lengthAdjust="spacingAndGlyphs" stroke="#111" stroke-width="0.25">(b)</text>
<text x="329.80" y="33.00" font-size="12.2" fill="#1a1a1a" textLength="76.50" lengthAdjust="spacingAndGlyphs" >CoP-Ti<tspan font-size="9.03" dy="3.66">3</tspan><tspan dy="-3.66">​</tspan>C<tspan font-size="9.03" dy="3.66">2</tspan><tspan dy="-3.66">​</tspan>T<tspan font-size="9.03" dy="3.66">x</tspan><tspan dy="-3.66">​</tspan></text>
<path d="M405.40,83.00V106.60" stroke="#111" stroke-width="1.6"/>
<polygon points="401.90,105.60 408.90,105.60 405.40,112.80" fill="#111"/>
<path d="M465.70,124.90V158.20" stroke="#111" stroke-width="1.6"/>
<polygon points="462.20,157.20 469.20,157.20 465.70,164.40" fill="#111"/>
<text x="391.80" y="81.70" font-size="10.5" fill="#1a1a1a" textLength="27.80" lengthAdjust="spacingAndGlyphs" >Co 2p</text>
<text x="414.50" y="115.90" font-size="10.5" fill="#1a1a1a" textLength="20.20" lengthAdjust="spacingAndGlyphs" >F 1s</text>
<text x="441.50" y="47.00" font-size="10.5" fill="#1a1a1a" textLength="23.00" lengthAdjust="spacingAndGlyphs" >O 1s</text>
<text x="455.30" y="123.00" font-size="10.5" fill="#1a1a1a" textLength="23.50" lengthAdjust="spacingAndGlyphs" >Ti 2p</text>
<text x="488.70" y="142.10" font-size="10.5" fill="#1a1a1a" textLength="21.80" lengthAdjust="spacingAndGlyphs" >C 1s</text>
<text x="518.60" y="156.40" font-size="10.5" fill="#1a1a1a" textLength="21.40" lengthAdjust="spacingAndGlyphs" >P 2p</text>
<polygon points="104.5,314.2 105.5,314.2 106.5,314.2 107.5,314.3 108.5,314.3 109.5,314.4 110.5,314.4 111.5,314.4 112.5,314.5 113.5,314.5 114.5,314.5 115.5,314.5 116.5,314.4 117.5,314.3 118.5,313.9 119.5,313.1 120.5,311.8 121.5,309.6 122.5,306.6 123.5,302.9 124.5,299.2 125.5,296.4 126.5,295.5 127.5,296.3 128.5,298 129.5,300.4 130.5,303.1 131.5,305.7 132.5,308 133.5,309.9 134.5,311.4 135.5,312.5 136.5,313.3 137.5,313.9 138.5,314.3 139.5,314.6 140.5,314.8 141.5,315 142.5,315.2 143.5,315.4 144.5,315.6 145.5,315.7 146.5,315.8 147.5,316 148.5,316.1 149.5,316.2 150.5,316.3 151.5,316.5 152.5,316.6 153.5,316.7 154.5,316.8 155.5,316.9 156.5,317.1 157.5,317.2 158.5,317.3 159.5,317.4 160.5,317.5 161.5,317.6 162.5,317.8 163.5,317.9 164.5,318 165.5,318.1 166.5,318.2 167.5,318.3 168.5,318.4 169.5,318.5 170.5,318.6 171.5,318.7 172.5,318.8 173.5,318.9 174.5,319 175.5,319.1 176.5,319.2 177.5,319.3 178.5,319.4 179,319.4 179,319.5 178.5,319.5 177.5,319.4 176.5,319.3 175.5,319.2 174.5,319.1 173.5,319 172.5,318.9 171.5,318.9 170.5,318.8 169.5,318.7 168.5,318.6 167.5,318.5 166.5,318.4 165.5,318.3 164.5,318.2 163.5,318.1 162.5,318 161.5,318 160.5,317.9 159.5,317.8 158.5,317.7 157.5,317.6 156.5,317.5 155.5,317.4 154.5,317.3 153.5,317.2 152.5,317.2 151.5,317.1 150.5,317 149.5,317 148.5,316.9 147.5,316.8 146.5,316.8 145.5,316.7 144.5,316.6 143.5,316.6 142.5,316.5 141.5,316.4 140.5,316.4 139.5,316.3 138.5,316.2 137.5,316.2 136.5,316.1 135.5,316 134.5,316 133.5,315.9 132.5,315.9 131.5,315.8 130.5,315.7 129.5,315.7 128.5,315.6 127.5,315.6 126.5,315.5 125.5,315.5 124.5,315.4 123.5,315.3 122.5,315.3 121.5,315.2 120.5,315.2 119.5,315.1 118.5,315.1 117.5,315 116.5,314.9 115.5,314.9 114.5,314.8 113.5,314.8 112.5,314.7 111.5,314.7 110.5,314.6 109.5,314.5 108.5,314.5 107.5,314.4 106.5,314.4 105.5,314.3 104.5,314.3" fill="#f0999e" stroke="none" />
<polygon points="186.5,320.1 187.5,320.2 188.5,320.2 189.5,320.3 190.5,320.4 191.5,320.5 192.5,320.6 193.5,320.7 194.5,320.8 195.5,320.9 196.5,321 197.5,321.1 198.5,321.2 199.5,321.2 200.5,321.3 201.5,321.4 202.5,321.4 203.5,321.4 204.5,321.4 205.5,321.3 206.5,320.9 207.5,320 208.5,318.4 209.5,315.6 210.5,311.2 211.5,305.2 212.5,298 213.5,290.7 214.5,284.8 215.5,282.1 216.5,283.1 217.5,286.8 218.5,292.4 219.5,298.7 220.5,304.9 221.5,310.1 222.5,314.3 223.5,317.3 224.5,319.3 225.5,320.7 226.5,321.6 227.5,322.2 228.5,322.7 229.5,323 230.5,323.4 231.5,323.7 232.5,323.9 233.5,324.2 234.5,324.5 235.5,324.7 236.5,324.9 237.5,325.1 238.5,325.4 239.5,325.6 240.5,325.7 241.5,325.8 242.5,326 243.5,326.1 244.5,326.2 245.5,326.3 246.5,326.4 247.5,326.5 248.5,326.5 249.5,326.6 250.5,326.7 251.5,326.8 252.5,326.9 253.5,327 254.5,327 255.5,327.1 256.5,327.2 257.5,327.2 258.5,327.3 259.5,327.4 260.5,327.5 261.5,327.5 262.5,327.6 263.5,327.7 264.5,327.7 265.5,327.8 266.5,327.8 267.5,327.9 268.5,328 268.5,328.1 267.5,328 266.5,328 265.5,327.9 264.5,327.8 263.5,327.8 262.5,327.7 261.5,327.7 260.5,327.6 259.5,327.6 258.5,327.5 257.5,327.5 256.5,327.4 255.5,327.4 254.5,327.3 253.5,327.2 252.5,327.2 251.5,327.1 250.5,327.1 249.5,327 248.5,327 247.5,326.9 246.5,326.9 245.5,326.8 244.5,326.7 243.5,326.7 242.5,326.6 241.5,326.6 240.5,326.5 239.5,326.4 238.5,326.3 237.5,326.2 236.5,326.1 235.5,325.9 234.5,325.8 233.5,325.7 232.5,325.5 231.5,325.4 230.5,325.3 229.5,325.2 228.5,325 227.5,324.9 226.5,324.8 225.5,324.7 224.5,324.5 223.5,324.4 222.5,324.3 221.5,324.1 220.5,324 219.5,323.9 218.5,323.8 217.5,323.6 216.5,323.5 215.5,323.4 214.5,323.3 213.5,323.1 212.5,323 211.5,322.9 210.5,322.8 209.5,322.7 208.5,322.6 207.5,322.4 206.5,322.3 205.5,322.2 204.5,322.1 203.5,322 202.5,321.9 201.5,321.8 200.5,321.7 199.5,321.6 198.5,321.4 197.5,321.3 196.5,321.2 195.5,321.1 194.5,321 193.5,320.9 192.5,320.8 191.5,320.7 190.5,320.6 189.5,320.5 188.5,320.4 187.5,320.3 186.5,320.2" fill="#f0999e" stroke="none" />
<polygon points="47,310.4 48,310.4 49,310.5 50,310.5 51,310.6 52,310.6 53,310.7 54,310.8 55,310.8 56,310.8 57,310.9 58,310.9 59,311 60,311 61,311 62,311 63,311 64,311 65,311 66,311 67,310.9 68,310.9 69,310.8 70,310.7 71,310.6 72,310.4 73,310.2 74,310 75,309.8 76,309.5 77,309.2 78,308.8 79,308.5 80,308.1 81,307.6 82,307.2 83,306.7 84,306.2 85,305.7 86,305.2 87,304.7 88,304.3 89,303.8 90,303.4 91,303.1 92,302.7 93,302.5 94,302.3 95,302.2 96,302.2 97,302.3 98,302.6 99,303 100,303.6 101,304.3 102,305 103,305.8 104,306.7 105,307.5 106,308.4 107,309.2 108,309.9 109,310.6 110,311.3 111,311.8 112,312.4 113,312.8 114,313.2 115,313.5 116,313.8 117,314.1 118,314.3 119,314.5 120,314.6 121,314.7 122,314.9 123,315 124,315.1 125,315.1 126,315.2 127,315.3 128,315.4 129,315.5 130,315.5 131,315.6 132,315.7 133,315.7 134,315.8 135,315.9 136,315.9 137,316 138,316.1 139,316.1 140,316.2 141,316.3 142,316.4 143,316.4 143,316.5 142,316.5 141,316.4 140,316.3 139,316.3 138,316.2 137,316.1 136,316.1 135,316 134,315.9 133,315.9 132,315.8 131,315.8 130,315.7 129,315.7 128,315.6 127,315.5 126,315.5 125,315.4 124,315.4 123,315.3 122,315.3 121,315.2 120,315.1 119,315.1 118,315 117,315 116,314.9 115,314.9 114,314.8 113,314.7 112,314.7 111,314.6 110,314.6 109,314.5 108,314.5 107,314.4 106,314.3 105,314.3 104,314.2 103,314.2 102,314.1 101,314.1 100,314 99,313.9 98,313.9 97,313.8 96,313.7 95,313.7 94,313.6 93,313.5 92,313.5 91,313.4 90,313.3 89,313.3 88,313.2 87,313.2 86,313.1 85,313 84,313 83,312.9 82,312.8 81,312.8 80,312.7 79,312.6 78,312.6 77,312.5 76,312.4 75,312.4 74,312.3 73,312.2 72,312.2 71,312.1 70,312 69,312 68,311.9 67,311.8 66,311.8 65,311.7 64,311.7 63,311.6 62,311.5 61,311.5 60,311.4 59,311.3 58,311.3 57,311.2 56,311.1 55,311.1 54,311 53,310.9 52,310.9 51,310.8 50,310.7 49,310.7 48,310.6 47,310.5" fill="#f7d676" stroke="none" />
<polygon points="106.5,314.3 107.5,314.3 108.5,314.4 109.5,314.4 110.5,314.5 111.5,314.5 112.5,314.6 113.5,314.7 114.5,314.7 115.5,314.8 116.5,314.8 117.5,314.9 118.5,314.9 119.5,315 120.5,315 121.5,315.1 122.5,315.1 123.5,315.2 124.5,315.2 125.5,315.3 126.5,315.3 127.5,315.4 128.5,315.4 129.5,315.5 130.5,315.5 131.5,315.6 132.5,315.6 133.5,315.7 134.5,315.7 135.5,315.8 136.5,315.9 137.5,315.9 138.5,316 139.5,316 140.5,316.1 141.5,316.1 142.5,316.2 143.5,316.2 144.5,316.3 145.5,316.3 146.5,316.4 147.5,316.4 148.5,316.4 149.5,316.5 150.5,316.5 151.5,316.5 152.5,316.5 153.5,316.5 154.5,316.5 155.5,316.5 156.5,316.5 157.5,316.4 158.5,316.3 159.5,316.2 160.5,316.1 161.5,315.9 162.5,315.7 163.5,315.4 164.5,315.1 165.5,314.7 166.5,314.3 167.5,313.8 168.5,313.3 169.5,312.7 170.5,312.1 171.5,311.4 172.5,310.6 173.5,309.8 174.5,309 175.5,308.2 176.5,307.4 177.5,306.5 178.5,305.7 179.5,304.9 180.5,304.2 181.5,303.5 182.5,303 183.5,302.5 184.5,302.2 185.5,302 186.5,301.9 187.5,302 188.5,302.5 189.5,303.3 190.5,304.4 191.5,305.8 192.5,307.3 193.5,308.8 194.5,310.4 195.5,312 196.5,313.5 197.5,314.8 198.5,316.1 199.5,317.2 200.5,318.1 201.5,318.9 202.5,319.6 203.5,320.2 204.5,320.7 205.5,321 206.5,321.4 207.5,321.7 208.5,321.9 209.5,322.1 210.5,322.3 211.5,322.5 212.5,322.6 213.5,322.8 214.5,322.9 215.5,323.1 216.5,323.2 217.5,323.4 218.5,323.5 219.5,323.7 220.5,323.8 221.5,323.9 222.5,324.1 223.5,324.2 224.5,324.3 225.5,324.5 226.5,324.6 227.5,324.8 228.5,324.9 229.5,325 230.5,325.2 231.5,325.3 232.5,325.4 233.5,325.6 234.5,325.7 235.5,325.8 236.5,326 237.5,326.1 237.5,326.2 236.5,326.1 235.5,325.9 234.5,325.8 233.5,325.7 232.5,325.5 231.5,325.4 230.5,325.3 229.5,325.2 228.5,325 227.5,324.9 226.5,324.8 225.5,324.7 224.5,324.5 223.5,324.4 222.5,324.3 221.5,324.1 220.5,324 219.5,323.9 218.5,323.8 217.5,323.6 216.5,323.5 215.5,323.4 214.5,323.3 213.5,323.1 212.5,323 211.5,322.9 210.5,322.8 209.5,322.7 208.5,322.6 207.5,322.4 206.5,322.3 205.5,322.2 204.5,322.1 203.5,322 202.5,321.9 201.5,321.8 200.5,321.7 199.5,321.6 198.5,321.4 197.5,321.3 196.5,321.2 195.5,321.1 194.5,321 193.5,320.9 192.5,320.8 191.5,320.7 190.5,320.6 189.5,320.5 188.5,320.4 187.5,320.3 186.5,320.2 185.5,320.1 184.5,320 183.5,319.9 182.5,319.8 181.5,319.7 180.5,319.7 179.5,319.6 178.5,319.5 177.5,319.4 176.5,319.3 175.5,319.2 174.5,319.1 173.5,319 172.5,318.9 171.5,318.9 170.5,318.8 169.5,318.7 168.5,318.6 167.5,318.5 166.5,318.4 165.5,318.3 164.5,318.2 163.5,318.1 162.5,318 161.5,318 160.5,317.9 159.5,317.8 158.5,317.7 157.5,317.6 156.5,317.5 155.5,317.4 154.5,317.3 153.5,317.2 152.5,317.2 151.5,317.1 150.5,317 149.5,317 148.5,316.9 147.5,316.8 146.5,316.8 145.5,316.7 144.5,316.6 143.5,316.6 142.5,316.5 141.5,316.4 140.5,316.4 139.5,316.3 138.5,316.2 137.5,316.2 136.5,316.1 135.5,316 134.5,316 133.5,315.9 132.5,315.9 131.5,315.8 130.5,315.7 129.5,315.7 128.5,315.6 127.5,315.6 126.5,315.5 125.5,315.5 124.5,315.4 123.5,315.3 122.5,315.3 121.5,315.2 120.5,315.2 119.5,315.1 118.5,315.1 117.5,315 116.5,314.9 115.5,314.9 114.5,314.8 113.5,314.8 112.5,314.7 111.5,314.7 110.5,314.6 109.5,314.5 108.5,314.5 107.5,314.4 106.5,314.4" fill="#f7d676" stroke="none" />
<polygon points="80.5,312.6 81.5,312.7 82.5,312.7 83.5,312.8 84.5,312.9 85.5,312.9 86.5,313 87.5,313 88.5,313.1 89.5,313.1 90.5,313.2 91.5,313.3 92.5,313.3 93.5,313.4 94.5,313.4 95.5,313.5 96.5,313.5 97.5,313.5 98.5,313.6 99.5,313.6 100.5,313.6 101.5,313.6 102.5,313.6 103.5,313.6 104.5,313.5 105.5,313.4 106.5,313.2 107.5,312.9 108.5,312.5 109.5,311.9 110.5,311.2 111.5,310.2 112.5,309.1 113.5,307.7 114.5,306.3 115.5,304.8 116.5,303.4 117.5,302.2 118.5,301.4 119.5,301.1 120.5,301.4 121.5,302.1 122.5,303.3 123.5,304.6 124.5,306.1 125.5,307.6 126.5,309.1 127.5,310.4 128.5,311.5 129.5,312.5 130.5,313.3 131.5,313.9 132.5,314.4 133.5,314.8 134.5,315.1 135.5,315.3 136.5,315.5 137.5,315.6 138.5,315.8 139.5,315.9 140.5,316 141.5,316.1 142.5,316.2 143.5,316.3 144.5,316.4 145.5,316.5 146.5,316.5 147.5,316.6 148.5,316.7 149.5,316.8 150.5,316.9 151.5,316.9 152.5,317 153.5,317.1 154.5,317.2 155.5,317.3 156.5,317.4 157.5,317.5 158.5,317.6 159.5,317.7 160.5,317.8 161,317.8 161,317.9 160.5,317.9 159.5,317.8 158.5,317.7 157.5,317.6 156.5,317.5 155.5,317.4 154.5,317.3 153.5,317.2 152.5,317.2 151.5,317.1 150.5,317 149.5,317 148.5,316.9 147.5,316.8 146.5,316.8 145.5,316.7 144.5,316.6 143.5,316.6 142.5,316.5 141.5,316.4 140.5,316.4 139.5,316.3 138.5,316.2 137.5,316.2 136.5,316.1 135.5,316 134.5,316 133.5,315.9 132.5,315.9 131.5,315.8 130.5,315.7 129.5,315.7 128.5,315.6 127.5,315.6 126.5,315.5 125.5,315.5 124.5,315.4 123.5,315.3 122.5,315.3 121.5,315.2 120.5,315.2 119.5,315.1 118.5,315.1 117.5,315 116.5,314.9 115.5,314.9 114.5,314.8 113.5,314.8 112.5,314.7 111.5,314.7 110.5,314.6 109.5,314.5 108.5,314.5 107.5,314.4 106.5,314.4 105.5,314.3 104.5,314.3 103.5,314.2 102.5,314.1 101.5,314.1 100.5,314 99.5,314 98.5,313.9 97.5,313.8 96.5,313.8 95.5,313.7 94.5,313.6 93.5,313.6 92.5,313.5 91.5,313.4 90.5,313.4 89.5,313.3 88.5,313.3 87.5,313.2 86.5,313.1 85.5,313.1 84.5,313 83.5,312.9 82.5,312.9 81.5,312.8 80.5,312.7" fill="#9cd3b2" stroke="none" />
<polygon points="136,316 137,316 138,316.1 139,316.2 140,316.2 141,316.3 142,316.3 143,316.4 144,316.5 145,316.5 146,316.6 147,316.7 148,316.7 149,316.8 150,316.8 151,316.9 152,317 153,317 154,317.1 155,317.2 156,317.3 157,317.4 158,317.4 159,317.5 160,317.6 161,317.7 162,317.8 163,317.8 164,317.9 165,318 166,318.1 167,318.1 168,318.2 169,318.3 170,318.4 171,318.4 172,318.5 173,318.6 174,318.6 175,318.7 176,318.8 177,318.8 178,318.9 179,318.9 180,319 181,319 182,319.1 183,319.1 184,319.1 185,319.1 186,319.1 187,319.1 188,319.1 189,319 190,318.9 191,318.7 192,318.4 193,318 194,317.4 195,316.7 196,315.6 197,314.3 198,312.7 199,310.7 200,308.4 201,305.8 202,303 203,300.1 204,297.3 205,294.8 206,292.9 207,291.7 208,291.5 209,292.3 210,293.9 211,296.1 212,298.8 213,301.7 214,304.7 215,307.6 216,310.2 217,312.7 218,314.8 219,316.7 220,318.2 221,319.5 222,320.5 223,321.3 224,322 225,322.5 226,322.9 227,323.3 228,323.6 229,323.9 230,324.1 231,324.4 232,324.6 233,324.8 234,325 235,325.1 236,325.3 237,325.5 238,325.6 239,325.8 240,326 241,326.1 242,326.1 243,326.2 244,326.3 245,326.4 246,326.4 247,326.5 248,326.6 249,326.7 250,326.7 251,326.8 252,326.9 253,326.9 254,327 255,327.1 256,327.1 257,327.2 258,327.3 259,327.3 260,327.4 261,327.5 262,327.5 263,327.6 264,327.6 265,327.7 266,327.8 267,327.8 268,327.9 269,327.9 270,328 271,328.1 272,328.1 272,328.3 271,328.2 270,328.2 269,328.1 268,328 267,328 266,327.9 265,327.9 264,327.8 263,327.8 262,327.7 261,327.7 260,327.6 259,327.5 258,327.5 257,327.4 256,327.4 255,327.3 254,327.3 253,327.2 252,327.2 251,327.1 250,327.1 249,327 248,326.9 247,326.9 246,326.8 245,326.8 244,326.7 243,326.7 242,326.6 241,326.6 240,326.5 239,326.4 238,326.2 237,326.1 236,326 235,325.9 234,325.7 233,325.6 232,325.5 231,325.4 230,325.2 229,325.1 228,325 227,324.8 226,324.7 225,324.6 224,324.5 223,324.3 222,324.2 221,324.1 220,324 219,323.8 218,323.7 217,323.6 216,323.4 215,323.3 214,323.2 213,323.1 212,322.9 211,322.8 210,322.7 209,322.6 208,322.5 207,322.4 206,322.3 205,322.2 204,322.1 203,321.9 202,321.8 201,321.7 200,321.6 199,321.5 198,321.4 197,321.3 196,321.2 195,321.1 194,320.9 193,320.8 192,320.7 191,320.6 190,320.5 189,320.4 188,320.3 187,320.2 186,320.1 185,320.1 184,320 183,319.9 182,319.8 181,319.7 180,319.6 179,319.5 178,319.4 177,319.3 176,319.3 175,319.2 174,319.1 173,319 172,318.9 171,318.8 170,318.7 169,318.6 168,318.5 167,318.4 166,318.4 165,318.3 164,318.2 163,318.1 162,318 161,317.9 160,317.8 159,317.7 158,317.6 157,317.6 156,317.5 155,317.4 154,317.3 153,317.2 152,317.1 151,317.1 150,317 149,316.9 148,316.9 147,316.8 146,316.7 145,316.7 144,316.6 143,316.5 142,316.5 141,316.4 140,316.3 139,316.3 138,316.2 137,316.1 136,316.1" fill="#9cd3b2" stroke="none" />
<polyline points="46.3,310.5 100,314 135,316 153,317.2 190,320.5 212.5,323 240,326.5 272.7,328.3" fill="none" stroke="#7d7d7d" stroke-width="1.6" stroke-linejoin="round" />
<path d="M51.5,310.2a2.0,2.0 0 1 0 -4.0,0a2.0,2.0 0 1 0 4.0,0M51.8,306.5a2.0,2.0 0 1 0 -4.0,0a2.0,2.0 0 1 0 4.0,0M54.6,308.8a2.0,2.0 0 1 0 -4.0,0a2.0,2.0 0 1 0 4.0,0M56.5,308.0a2.0,2.0 0 1 0 -4.0,0a2.0,2.0 0 1 0 4.0,0M59.1,308.0a2.0,2.0 0 1 0 -4.0,0a2.0,2.0 0 1 0 4.0,0M59.7,308.1a2.0,2.0 0 1 0 -4.0,0a2.0,2.0 0 1 0 4.0,0M63.4,306.5a2.0,2.0 0 1 0 -4.0,0a2.0,2.0 0 1 0 4.0,0M65.3,307.8a2.0,2.0 0 1 0 -4.0,0a2.0,2.0 0 1 0 4.0,0M66.1,307.1a2.0,2.0 0 1 0 -4.0,0a2.0,2.0 0 1 0 4.0,0M68.3,310.2a2.0,2.0 0 1 0 -4.0,0a2.0,2.0 0 1 0 4.0,0M70.4,307.5a2.0,2.0 0 1 0 -4.0,0a2.0,2.0 0 1 0 4.0,0M72.8,306.7a2.0,2.0 0 1 0 -4.0,0a2.0,2.0 0 1 0 4.0,0M75.1,306.3a2.0,2.0 0 1 0 -4.0,0a2.0,2.0 0 1 0 4.0,0M77.8,305.4a2.0,2.0 0 1 0 -4.0,0a2.0,2.0 0 1 0 4.0,0M78.7,304.6a2.0,2.0 0 1 0 -4.0,0a2.0,2.0 0 1 0 4.0,0M81.2,304.7a2.0,2.0 0 1 0 -4.0,0a2.0,2.0 0 1 0 4.0,0M82.9,304.8a2.0,2.0 0 1 0 -4.0,0a2.0,2.0 0 1 0 4.0,0M85.7,303.5a2.0,2.0 0 1 0 -4.0,0a2.0,2.0 0 1 0 4.0,0M87.2,303.7a2.0,2.0 0 1 0 -4.0,0a2.0,2.0 0 1 0 4.0,0M89.5,302.0a2.0,2.0 0 1 0 -4.0,0a2.0,2.0 0 1 0 4.0,0M90.3,301.5a2.0,2.0 0 1 0 -4.0,0a2.0,2.0 0 1 0 4.0,0M92.7,302.2a2.0,2.0 0 1 0 -4.0,0a2.0,2.0 0 1 0 4.0,0M94.4,301.1a2.0,2.0 0 1 0 -4.0,0a2.0,2.0 0 1 0 4.0,0M97.6,300.2a2.0,2.0 0 1 0 -4.0,0a2.0,2.0 0 1 0 4.0,0M99.1,300.2a2.0,2.0 0 1 0 -4.0,0a2.0,2.0 0 1 0 4.0,0M100.6,301.0a2.0,2.0 0 1 0 -4.0,0a2.0,2.0 0 1 0 4.0,0M102.6,302.9a2.0,2.0 0 1 0 -4.0,0a2.0,2.0 0 1 0 4.0,0M105.0,302.3a2.0,2.0 0 1 0 -4.0,0a2.0,2.0 0 1 0 4.0,0M106.4,303.5a2.0,2.0 0 1 0 -4.0,0a2.0,2.0 0 1 0 4.0,0M108.3,305.4a2.0,2.0 0 1 0 -4.0,0a2.0,2.0 0 1 0 4.0,0M111.0,304.3a2.0,2.0 0 1 0 -4.0,0a2.0,2.0 0 1 0 4.0,0M114.0,304.3a2.0,2.0 0 1 0 -4.0,0a2.0,2.0 0 1 0 4.0,0M114.7,303.7a2.0,2.0 0 1 0 -4.0,0a2.0,2.0 0 1 0 4.0,0M116.5,301.1a2.0,2.0 0 1 0 -4.0,0a2.0,2.0 0 1 0 4.0,0M118.2,297.9a2.0,2.0 0 1 0 -4.0,0a2.0,2.0 0 1 0 4.0,0M120.1,295.9a2.0,2.0 0 1 0 -4.0,0a2.0,2.0 0 1 0 4.0,0M123.1,291.0a2.0,2.0 0 1 0 -4.0,0a2.0,2.0 0 1 0 4.0,0M125.2,291.3a2.0,2.0 0 1 0 -4.0,0a2.0,2.0 0 1 0 4.0,0M126.8,286.4a2.0,2.0 0 1 0 -4.0,0a2.0,2.0 0 1 0 4.0,0M129.0,287.1a2.0,2.0 0 1 0 -4.0,0a2.0,2.0 0 1 0 4.0,0M130.9,294.8a2.0,2.0 0 1 0 -4.0,0a2.0,2.0 0 1 0 4.0,0M132.9,303.4a2.0,2.0 0 1 0 -4.0,0a2.0,2.0 0 1 0 4.0,0M134.0,308.9a2.0,2.0 0 1 0 -4.0,0a2.0,2.0 0 1 0 4.0,0M136.6,311.4a2.0,2.0 0 1 0 -4.0,0a2.0,2.0 0 1 0 4.0,0M138.9,313.3a2.0,2.0 0 1 0 -4.0,0a2.0,2.0 0 1 0 4.0,0M140.4,313.7a2.0,2.0 0 1 0 -4.0,0a2.0,2.0 0 1 0 4.0,0M142.6,315.2a2.0,2.0 0 1 0 -4.0,0a2.0,2.0 0 1 0 4.0,0M144.4,314.9a2.0,2.0 0 1 0 -4.0,0a2.0,2.0 0 1 0 4.0,0M146.6,314.6a2.0,2.0 0 1 0 -4.0,0a2.0,2.0 0 1 0 4.0,0M149.2,315.4a2.0,2.0 0 1 0 -4.0,0a2.0,2.0 0 1 0 4.0,0M150.6,314.4a2.0,2.0 0 1 0 -4.0,0a2.0,2.0 0 1 0 4.0,0M152.7,313.8a2.0,2.0 0 1 0 -4.0,0a2.0,2.0 0 1 0 4.0,0M155.2,315.0a2.0,2.0 0 1 0 -4.0,0a2.0,2.0 0 1 0 4.0,0M157.1,315.0a2.0,2.0 0 1 0 -4.0,0a2.0,2.0 0 1 0 4.0,0M159.6,314.3a2.0,2.0 0 1 0 -4.0,0a2.0,2.0 0 1 0 4.0,0M159.8,313.7a2.0,2.0 0 1 0 -4.0,0a2.0,2.0 0 1 0 4.0,0M163.2,314.3a2.0,2.0 0 1 0 -4.0,0a2.0,2.0 0 1 0 4.0,0M164.6,311.7a2.0,2.0 0 1 0 -4.0,0a2.0,2.0 0 1 0 4.0,0M166.9,313.6a2.0,2.0 0 1 0 -4.0,0a2.0,2.0 0 1 0 4.0,0M169.2,312.6a2.0,2.0 0 1 0 -4.0,0a2.0,2.0 0 1 0 4.0,0M171.3,309.8a2.0,2.0 0 1 0 -4.0,0a2.0,2.0 0 1 0 4.0,0M173.3,309.8a2.0,2.0 0 1 0 -4.0,0a2.0,2.0 0 1 0 4.0,0M174.9,307.4a2.0,2.0 0 1 0 -4.0,0a2.0,2.0 0 1 0 4.0,0M177.6,307.2a2.0,2.0 0 1 0 -4.0,0a2.0,2.0 0 1 0 4.0,0M178.7,303.3a2.0,2.0 0 1 0 -4.0,0a2.0,2.0 0 1 0 4.0,0M180.7,302.5a2.0,2.0 0 1 0 -4.0,0a2.0,2.0 0 1 0 4.0,0M183.2,302.2a2.0,2.0 0 1 0 -4.0,0a2.0,2.0 0 1 0 4.0,0M184.5,301.1a2.0,2.0 0 1 0 -4.0,0a2.0,2.0 0 1 0 4.0,0M187.9,297.4a2.0,2.0 0 1 0 -4.0,0a2.0,2.0 0 1 0 4.0,0M189.3,298.0a2.0,2.0 0 1 0 -4.0,0a2.0,2.0 0 1 0 4.0,0M191.9,298.1a2.0,2.0 0 1 0 -4.0,0a2.0,2.0 0 1 0 4.0,0M192.8,297.0a2.0,2.0 0 1 0 -4.0,0a2.0,2.0 0 1 0 4.0,0M194.6,299.0a2.0,2.0 0 1 0 -4.0,0a2.0,2.0 0 1 0 4.0,0M196.9,297.7a2.0,2.0 0 1 0 -4.0,0a2.0,2.0 0 1 0 4.0,0M199.2,299.5a2.0,2.0 0 1 0 -4.0,0a2.0,2.0 0 1 0 4.0,0M200.5,297.5a2.0,2.0 0 1 0 -4.0,0a2.0,2.0 0 1 0 4.0,0M203.0,296.8a2.0,2.0 0 1 0 -4.0,0a2.0,2.0 0 1 0 4.0,0M204.8,291.6a2.0,2.0 0 1 0 -4.0,0a2.0,2.0 0 1 0 4.0,0M207.6,287.0a2.0,2.0 0 1 0 -4.0,0a2.0,2.0 0 1 0 4.0,0M208.5,282.7a2.0,2.0 0 1 0 -4.0,0a2.0,2.0 0 1 0 4.0,0M211.3,283.5a2.0,2.0 0 1 0 -4.0,0a2.0,2.0 0 1 0 4.0,0M212.5,278.4a2.0,2.0 0 1 0 -4.0,0a2.0,2.0 0 1 0 4.0,0M214.3,269.6a2.0,2.0 0 1 0 -4.0,0a2.0,2.0 0 1 0 4.0,0M216.4,262.9a2.0,2.0 0 1 0 -4.0,0a2.0,2.0 0 1 0 4.0,0M218.2,265.5a2.0,2.0 0 1 0 -4.0,0a2.0,2.0 0 1 0 4.0,0M220.9,274.8a2.0,2.0 0 1 0 -4.0,0a2.0,2.0 0 1 0 4.0,0M223.3,286.6a2.0,2.0 0 1 0 -4.0,0a2.0,2.0 0 1 0 4.0,0M224.9,298.0a2.0,2.0 0 1 0 -4.0,0a2.0,2.0 0 1 0 4.0,0M227.1,307.7a2.0,2.0 0 1 0 -4.0,0a2.0,2.0 0 1 0 4.0,0M229.6,309.7a2.0,2.0 0 1 0 -4.0,0a2.0,2.0 0 1 0 4.0,0M230.9,313.0a2.0,2.0 0 1 0 -4.0,0a2.0,2.0 0 1 0 4.0,0M232.9,315.4a2.0,2.0 0 1 0 -4.0,0a2.0,2.0 0 1 0 4.0,0M234.7,317.8a2.0,2.0 0 1 0 -4.0,0a2.0,2.0 0 1 0 4.0,0M236.0,319.6a2.0,2.0 0 1 0 -4.0,0a2.0,2.0 0 1 0 4.0,0M239.2,319.2a2.0,2.0 0 1 0 -4.0,0a2.0,2.0 0 1 0 4.0,0M239.9,319.7a2.0,2.0 0 1 0 -4.0,0a2.0,2.0 0 1 0 4.0,0M243.1,321.9a2.0,2.0 0 1 0 -4.0,0a2.0,2.0 0 1 0 4.0,0M244.8,323.4a2.0,2.0 0 1 0 -4.0,0a2.0,2.0 0 1 0 4.0,0M247.4,323.4a2.0,2.0 0 1 0 -4.0,0a2.0,2.0 0 1 0 4.0,0M248.8,323.4a2.0,2.0 0 1 0 -4.0,0a2.0,2.0 0 1 0 4.0,0M250.4,323.2a2.0,2.0 0 1 0 -4.0,0a2.0,2.0 0 1 0 4.0,0M253.0,323.9a2.0,2.0 0 1 0 -4.0,0a2.0,2.0 0 1 0 4.0,0M254.5,323.6a2.0,2.0 0 1 0 -4.0,0a2.0,2.0 0 1 0 4.0,0M256.7,324.7a2.0,2.0 0 1 0 -4.0,0a2.0,2.0 0 1 0 4.0,0M258.8,323.8a2.0,2.0 0 1 0 -4.0,0a2.0,2.0 0 1 0 4.0,0M260.7,325.0a2.0,2.0 0 1 0 -4.0,0a2.0,2.0 0 1 0 4.0,0M262.7,325.3a2.0,2.0 0 1 0 -4.0,0a2.0,2.0 0 1 0 4.0,0M264.4,326.3a2.0,2.0 0 1 0 -4.0,0a2.0,2.0 0 1 0 4.0,0M266.7,326.5a2.0,2.0 0 1 0 -4.0,0a2.0,2.0 0 1 0 4.0,0M267.7,328.9a2.0,2.0 0 1 0 -4.0,0a2.0,2.0 0 1 0 4.0,0M270.7,328.5a2.0,2.0 0 1 0 -4.0,0a2.0,2.0 0 1 0 4.0,0" fill="none" stroke="#b4b4b4" stroke-width="0.6"/>
<polyline points="47,308.6 47.5,308.6 48,308.6 48.5,308.6 49,308.6 49.5,308.6 50,308.6 50.5,308.6 51,308.5 51.5,308.5 52,308.5 52.5,308.5 53,308.5 53.5,308.5 54,308.5 54.5,308.4 55,308.4 55.5,308.4 56,308.4 56.5,308.4 57,308.3 57.5,308.3 58,308.3 58.5,308.3 59,308.3 59.5,308.2 60,308.2 60.5,308.2 61,308.1 61.5,308.1 62,308.1 62.5,308 63,308 63.5,307.9 64,307.9 64.5,307.8 65,307.8 65.5,307.7 66,307.7 66.5,307.6 67,307.6 67.5,307.5 68,307.4 68.5,307.4 69,307.3 69.5,307.2 70,307.1 70.5,307 71,306.9 71.5,306.8 72,306.7 72.5,306.6 73,306.4 73.5,306.3 74,306.2 74.5,306 75,305.9 75.5,305.7 76,305.6 76.5,305.5 77,305.4 77.5,305.3 78,305.2 78.5,305 79,304.9 79.5,304.8 80,304.6 80.5,304.5 81,304.3 81.5,304.2 82,304 82.5,303.8 83,303.6 83.5,303.4 84,303.2 84.5,303.1 85,302.9 85.5,302.7 86,302.5 86.5,302.3 87,302.1 87.5,301.9 88,301.7 88.5,301.6 89,301.4 89.5,301.3 90,301.1 90.5,301 91,300.9 91.5,300.8 92,300.8 92.5,300.7 93,300.7 93.5,300.7 94,300.6 94.5,300.6 95,300.6 95.5,300.5 96,300.4 96.5,300.4 97,300.4 97.5,300.4 98,300.4 98.5,300.5 99,300.6 99.5,300.8 100,301 100.5,301.2 101,301.4 101.5,301.7 102,302 102.5,302.3 103,302.6 103.5,302.9 104,303.2 104.5,303.5 105,303.8 105.5,304.1 106,304.3 106.5,304.5 107,304.7 107.5,304.9 108,305 108.5,305 109,305 109.5,304.9 110,304.8 110.5,304.7 111,304.4 111.5,304.1 112,303.8 112.5,303.3 113,302.8 113.5,302.3 114,301.7 114.5,301 115,300.4 115.5,299.7 116,299 116.5,298.3 117,297.6 117.5,296.9 118,296.3 118.5,295.7 119,295.2 119.5,294.6 120,294.1 120.5,293.6 121,293.1 121.5,292.5 122,291.8 122.5,291 123,290.1 123.5,289.2 124,288.3 124.5,287.5 125,287 125.5,286.8 126,287 126.5,287.8 127,288.9 127.5,290.2 128,291.7 128.5,293.4 129,295.4 129.5,297.4 130,299.6 130.5,301.7 131,303.7 131.5,305.5 132,307.2 132.5,308.6 133,309.7 133.5,310.7 134,311.4 134.5,312 135,312.4 135.5,312.8 136,313 136.5,313.2 137,313.3 137.5,313.4 138,313.5 138.5,313.6 139,313.7 139.5,313.8 140,313.9 140.5,314 141,314.1 141.5,314.2 142,314.2 142.5,314.3 143,314.3 143.5,314.4 144,314.4 144.5,314.4 145,314.5 145.5,314.5 146,314.5 146.5,314.5 147,314.5 147.5,314.6 148,314.6 148.5,314.6 149,314.6 149.5,314.6 150,314.6 150.5,314.6 151,314.6 151.5,314.6 152,314.6 152.5,314.5 153,314.5 153.5,314.5 154,314.5 154.5,314.5 155,314.5 155.5,314.5 156,314.5 156.5,314.5 157,314.5 157.5,314.5 158,314.4 158.5,314.4 159,314.4 159.5,314.3 160,314.2 160.5,314.2 161,314.1 161.5,314 162,313.9 162.5,313.7 163,313.6 163.5,313.5 164,313.3 164.5,313.1 165,313 165.5,312.8 166,312.5 166.5,312.3 167,312.1 167.5,311.8 168,311.6 168.5,311.3 169,311 169.5,310.6 170,310.3 170.5,310 171,309.6 171.5,309.2 172,308.8 172.5,308.5 173,308 173.5,307.6 174,307.2 174.5,306.8 175,306.4 175.5,306 176,305.6 176.5,305.1 177,304.7 177.5,304.3 178,303.9 178.5,303.5 179,303.1 179.5,302.6 180,302.2 180.5,301.9 181,301.5 181.5,301.1 182,300.7 182.5,300.4 183,300.1 183.5,299.8 184,299.5 184.5,299.3 185,299.1 185.5,298.9 186,298.7 186.5,298.5 187,298.3 187.5,298.2 188,298 188.5,297.9 189,297.7 189.5,297.6 190,297.5 190.5,297.5 191,297.5 191.5,297.5 192,297.5 192.5,297.6 193,297.8 193.5,298 194,298.3 194.5,298.5 195,298.8 195.5,299 196,299.2 196.5,299.3 197,299.3 197.5,299.2 198,298.9 198.5,298.6 199,298.2 199.5,297.6 200,297 200.5,296.2 201,295.4 201.5,294.4 202,293.4 202.5,292.3 203,291.2 203.5,290.1 204,289 204.5,287.9 205,286.9 205.5,285.9 206,285.1 206.5,284.5 207,283.9 207.5,283.4 208,283 208.5,282.5 209,281.9 209.5,281.2 210,280.1 210.5,278.8 211,277.1 211.5,275.1 212,272.9 212.5,270.4 213,268 213.5,265.8 214,263.8 214.5,262.4 215,261.7 215.5,261.8 216,262.7 216.5,264.1 217,266 217.5,268.2 218,270.8 218.5,273.5 219,276.4 219.5,279.4 220,282.4 220.5,285.4 221,288.4 221.5,291.4 222,294.4 222.5,297.1 223,299.7 223.5,302 224,304 224.5,305.7 225,307.2 225.5,308.5 226,309.5 226.5,310.4 227,311.2 227.5,311.9 228,312.5 228.5,313.1 229,313.7 229.5,314.2 230,314.8 230.5,315.3 231,315.8 231.5,316.4 232,316.9 232.5,317.4 233,317.8 233.5,318.3 234,318.6 234.5,319 235,319.3 235.5,319.6 236,319.8 236.5,320.1 237,320.3 237.5,320.6 238,320.8 238.5,321 239,321.2 239.5,321.4 240,321.6 240.5,321.8 241,321.9 241.5,322.1 242,322.2 242.5,322.3 243,322.5 243.5,322.6 244,322.7 244.5,322.8 245,322.9 245.5,323 246,323.1 246.5,323.1 247,323.2 247.5,323.3 248,323.3 248.5,323.4 249,323.5 249.5,323.5 250,323.6 250.5,323.6 251,323.7 251.5,323.7 252,323.8 252.5,323.8 253,323.9 253.5,323.9 254,324 254.5,324 255,324.1 255.5,324.2 256,324.3 256.5,324.4 257,324.5 257.5,324.6 258,324.7 258.5,324.9 259,325 259.5,325.1 260,325.2 260.5,325.3 261,325.5 261.5,325.6 262,325.7 262.5,325.8 263,325.9 263.5,326 264,326.2 264.5,326.3 265,326.4 265.5,326.5 266,326.6 266.5,326.7 267,326.9 267.5,327 268,327.1 268.5,327.2 269,327.3 269.5,327.4 270,327.5 270.5,327.6 271,327.8 271.5,327.8 272,327.9" fill="none" stroke="#3c3c3c" stroke-width="1.9" stroke-linejoin="round" />
<polygon points="57.5,386.8 58.5,386.9 59.5,387 60.5,387.1 61.5,387.2 62.5,387.2 63.5,387.3 64.5,387.4 65.5,387.5 66.5,387.6 67.5,387.6 68.5,387.7 69.5,387.8 70.5,387.9 71.5,388 72.5,388 73.5,388.1 74.5,388.2 75.5,388.3 76.5,388.3 77.5,388.4 78.5,388.5 79.5,388.6 80.5,388.6 81.5,388.7 82.5,388.8 83.5,388.9 84.5,388.9 85.5,389 86.5,389.1 87.5,389.1 88.5,389.2 89.5,389.3 90.5,389.3 91.5,389.4 92.5,389.5 93.5,389.5 94.5,389.6 95.5,389.6 96.5,389.7 97.5,389.7 98.5,389.8 99.5,389.8 100.5,389.8 101.5,389.9 102.5,389.9 103.5,389.9 104.5,389.9 105.5,389.8 106.5,389.7 107.5,389.5 108.5,389.3 109.5,388.9 110.5,388.4 111.5,387.7 112.5,386.8 113.5,385.7 114.5,384.4 115.5,382.8 116.5,381.1 117.5,379.1 118.5,377.1 119.5,374.9 120.5,372.9 121.5,371 122.5,369.4 123.5,368.3 124.5,367.8 125.5,367.9 126.5,368.3 127.5,369 128.5,370 129.5,371.3 130.5,372.7 131.5,374.2 132.5,375.8 133.5,377.4 134.5,379 135.5,380.5 136.5,382 137.5,383.4 138.5,384.7 139.5,385.9 140.5,387 141.5,387.9 142.5,388.8 143.5,389.6 144.5,390.3 145.5,390.9 146.5,391.4 147.5,391.9 148.5,392.3 149.5,392.7 150.5,393 151.5,393.3 152.5,393.6 153.5,393.9 154.5,394.1 155.5,394.3 156.5,394.6 157.5,394.8 158.5,395 159.5,395.2 160.5,395.4 161.5,395.6 162.5,395.8 163.5,395.9 164.5,396.1 165.5,396.3 166.5,396.5 167.5,396.6 168.5,396.8 169.5,396.9 170.5,397.1 171.5,397.3 172.5,397.4 173.5,397.6 174.5,397.7 175.5,397.9 176.5,398 177.5,398.2 178.5,398.3 179.5,398.4 180.5,398.6 181.5,398.7 182.5,398.9 183.5,399 184.5,399.1 185.5,399.3 186.5,399.4 187.5,399.5 188.5,399.7 189.5,399.8 190.5,399.9 191.5,400 192.5,400.2 193.5,400.3 194.5,400.4 195.5,400.6 196.5,400.7 197.5,400.8 198.5,400.9 199.5,401 200.5,401.2 201.5,401.3 202.5,401.4 203.5,401.5 204.5,401.6 205.5,401.7 206.5,401.8 207.5,401.9 208.5,402.1 209.5,402.2 210.5,402.3 211.5,402.4 212.5,402.5 213.5,402.6 214.5,402.7 215.5,402.8 216.5,402.9 217.5,403 218.5,403.1 219.5,403.2 220.5,403.4 221.5,403.5 222.5,403.6 223.5,403.7 224.5,403.8 225.5,403.9 226.5,404 227.5,404.1 228.5,404.2 229.5,404.3 230.5,404.4 231.5,404.5 232.5,404.6 233.5,404.7 234.5,404.8 235.5,404.9 236.5,405 237.5,405.1 238.5,405.2 239.5,405.3 240.5,405.5 241.5,405.6 242.5,405.7 243.5,405.8 243.5,405.9 242.5,405.8 241.5,405.7 240.5,405.6 239.5,405.4 238.5,405.4 237.5,405.2 236.5,405.1 235.5,405.1 234.5,404.9 233.5,404.9 232.5,404.8 231.5,404.6 230.5,404.6 229.5,404.4 228.5,404.4 227.5,404.2 226.5,404.1 225.5,404.1 224.5,403.9 223.5,403.9 222.5,403.8 221.5,403.6 220.5,403.6 219.5,403.4 218.5,403.4 217.5,403.2 216.5,403.1 215.5,403.1 214.5,402.9 213.5,402.9 212.5,402.8 211.5,402.6 210.5,402.6 209.5,402.4 208.5,402.4 207.5,402.2 206.5,402.1 205.5,402.1 204.5,401.9 203.5,401.9 202.5,401.8 201.5,401.6 200.5,401.6 199.5,401.4 198.5,401.3 197.5,401.2 196.5,401.1 195.5,401 194.5,400.9 193.5,400.8 192.5,400.7 191.5,400.6 190.5,400.5 189.5,400.4 188.5,400.2 187.5,400.1 186.5,400 185.5,399.9 184.5,399.8 183.5,399.7 182.5,399.6 181.5,399.5 180.5,399.4 179.5,399.3 178.5,399.2 177.5,399.1 176.5,398.9 175.5,398.8 174.5,398.7 173.5,398.6 172.5,398.5 171.5,398.4 170.5,398.3 169.5,398.2 168.5,398.1 167.5,398 166.5,397.9 165.5,397.7 164.5,397.6 163.5,397.5 162.5,397.4 161.5,397.3 160.5,397.2 159.5,397.1 158.5,397 157.5,396.9 156.5,396.7 155.5,396.6 154.5,396.5 153.5,396.4 152.5,396.3 151.5,396.2 150.5,396.1 149.5,396 148.5,395.9 147.5,395.8 146.5,395.6 145.5,395.5 144.5,395.4 143.5,395.3 142.5,395.2 141.5,395.1 140.5,395 139.5,394.9 138.5,394.8 137.5,394.6 136.5,394.5 135.5,394.4 134.5,394.3 133.5,394.2 132.5,394.1 131.5,394 130.5,393.9 129.5,393.8 128.5,393.7 127.5,393.5 126.5,393.4 125.5,393.3 124.5,393.2 123.5,393.1 122.5,393 121.5,392.9 120.5,392.8 119.5,392.7 118.5,392.5 117.5,392.4 116.5,392.3 115.5,392.2 114.5,392.1 113.5,392 112.5,391.9 111.5,391.8 110.5,391.7 109.5,391.6 108.5,391.4 107.5,391.3 106.5,391.2 105.5,391.1 104.5,391 103.5,390.9 102.5,390.8 101.5,390.7 100.5,390.6 99.5,390.5 98.5,390.4 97.5,390.3 96.5,390.2 95.5,390.1 94.5,390 93.5,390 92.5,389.9 91.5,389.8 90.5,389.7 89.5,389.6 88.5,389.5 87.5,389.5 86.5,389.4 85.5,389.3 84.5,389.2 83.5,389.1 82.5,389 81.5,388.9 80.5,388.9 79.5,388.8 78.5,388.7 77.5,388.6 76.5,388.5 75.5,388.4 74.5,388.4 73.5,388.3 72.5,388.2 71.5,388.1 70.5,388 69.5,387.9 68.5,387.9 67.5,387.8 66.5,387.7 65.5,387.6 64.5,387.5 63.5,387.4 62.5,387.4 61.5,387.3 60.5,387.2 59.5,387.1 58.5,387 57.5,386.9" fill="#f0999e" stroke="none" />
<polygon points="129,393.6 130,393.7 131,393.8 132,393.9 133,394 134,394.1 135,394.3 136,394.4 137,394.5 138,394.6 139,394.7 140,394.8 141,394.9 142,395 143,395.1 144,395.2 145,395.3 146,395.4 147,395.5 148,395.7 149,395.8 150,395.9 151,396 152,396.1 153,396.2 154,396.3 155,396.4 156,396.5 157,396.6 158,396.7 159,396.8 160,396.9 161,397 162,397.1 163,397.2 164,397.3 165,397.4 166,397.5 167,397.6 168,397.7 169,397.8 170,397.9 171,398 172,398.1 173,398.2 174,398.3 175,398.4 176,398.5 177,398.6 178,398.7 179,398.8 180,398.9 181,399 182,399.1 183,399.1 184,399.2 185,399.3 186,399.4 187,399.5 188,399.6 189,399.6 190,399.7 191,399.8 192,399.8 193,399.9 194,399.9 195,400 196,400 197,400 198,400 199,400 200,399.9 201,399.8 202,399.6 203,399.3 204,398.9 205,398.4 206,397.7 207,396.8 208,395.7 209,394.3 210,392.6 211,390.6 212,388.3 213,385.7 214,382.7 215,379.4 216,375.9 217,372.2 218,368.5 219,364.7 220,361.2 221,358 222,355.2 223,353.1 224,351.7 225,351.2 226,351.5 227,352.5 228,354.2 229,356.5 230,359.2 231,362.2 232,365.5 233,368.9 234,372.3 235,375.6 236,378.8 237,381.8 238,384.6 239,387.1 240,389.4 241,391.4 242,393.2 243,394.7 244,396 245,397.2 246,398.1 247,399 248,399.7 249,400.3 250,400.8 251,401.3 252,401.7 253,402.1 254,402.5 255,402.8 256,403.2 257,403.5 258,403.8 259,404 260,404.3 261,404.6 262,404.8 263,405.1 264,405.3 265,405.6 266,405.8 267,406 268,406.3 269,406.5 270,406.7 271,406.9 272,407.1 272,409.6 271,409.4 270,409.3 269,409.2 268,409.1 267,408.9 266,408.8 265,408.7 264,408.6 263,408.4 262,408.3 261,408.2 260,408 259,407.9 258,407.8 257,407.7 256,407.5 255,407.4 254,407.3 253,407.2 252,407 251,406.9 250,406.8 249,406.6 248,406.5 247,406.4 246,406.3 245,406.1 244,406 243,405.9 242,405.8 241,405.6 240,405.5 239,405.4 238,405.3 237,405.2 236,405.1 235,405 234,404.9 233,404.8 232,404.7 231,404.6 230,404.5 229,404.4 228,404.3 227,404.2 226,404.1 225,404 224,403.9 223,403.8 222,403.7 221,403.6 220,403.5 219,403.4 218,403.3 217,403.2 216,403.1 215,403 214,402.9 213,402.8 212,402.7 211,402.6 210,402.5 209,402.4 208,402.3 207,402.2 206,402.1 205,402 204,401.9 203,401.8 202,401.7 201,401.6 200,401.5 199,401.4 198,401.3 197,401.2 196,401.1 195,401 194,400.8 193,400.7 192,400.6 191,400.5 190,400.4 189,400.3 188,400.2 187,400.1 186,400 185,399.9 184,399.8 183,399.6 182,399.5 181,399.4 180,399.3 179,399.2 178,399.1 177,399 176,398.9 175,398.8 174,398.7 173,398.6 172,398.5 171,398.3 170,398.2 169,398.1 168,398 167,397.9 166,397.8 165,397.7 164,397.6 163,397.5 162,397.4 161,397.2 160,397.1 159,397 158,396.9 157,396.8 156,396.7 155,396.6 154,396.5 153,396.4 152,396.3 151,396.1 150,396 149,395.9 148,395.8 147,395.7 146,395.6 145,395.5 144,395.4 143,395.3 142,395.1 141,395 140,394.9 139,394.8 138,394.7 137,394.6 136,394.5 135,394.4 134,394.3 133,394.1 132,394 131,393.9 130,393.8 129,393.7" fill="#f0999e" stroke="none" />
<polygon points="49,386.1 50,386.2 51,386.3 52,386.4 53,386.4 54,386.5 55,386.6 56,386.7 57,386.7 58,386.8 59,386.9 60,386.9 61,387 62,387 63,387 64,387 65,387 66,387 67,386.9 68,386.8 69,386.6 70,386.4 71,386.1 72,385.7 73,385.3 74,384.8 75,384.2 76,383.6 77,382.9 78,382.2 79,381.4 80,380.7 81,380 82,379.3 83,378.8 84,378.4 85,378.1 86,378 87,378.1 88,378.4 89,378.9 90,379.5 91,380.2 92,381.1 93,381.9 94,382.9 95,383.8 96,384.7 97,385.5 98,386.3 99,387 100,387.7 101,388.3 102,388.8 103,389.3 104,389.7 105,390.1 106,390.4 107,390.6 108,390.9 109,391.1 110,391.2 111,391.4 112,391.6 113,391.7 114,391.8 115,392 116,392.1 117,392.2 118,392.3 119,392.5 120,392.6 121,392.7 122,392.8 123,392.9 124,393.1 124,393.2 123,393 122,392.9 121,392.8 120,392.7 119,392.6 118,392.5 117,392.4 116,392.3 115,392.2 114,392 113,391.9 112,391.8 111,391.7 110,391.6 109,391.5 108,391.4 107,391.3 106,391.2 105,391.1 104,390.9 103,390.8 102,390.7 101,390.6 100,390.5 99,390.4 98,390.3 97,390.2 96,390.2 95,390.1 94,390 93,389.9 92,389.8 91,389.7 90,389.7 89,389.6 88,389.5 87,389.4 86,389.3 85,389.2 84,389.2 83,389.1 82,389 81,388.9 80,388.8 79,388.7 78,388.7 77,388.6 76,388.5 75,388.4 74,388.3 73,388.2 72,388.2 71,388.1 70,388 69,387.9 68,387.8 67,387.7 66,387.7 65,387.6 64,387.5 63,387.4 62,387.3 61,387.2 60,387.1 59,387.1 58,387 57,386.9 56,386.8 55,386.7 54,386.6 53,386.6 52,386.5 51,386.4 50,386.3 49,386.2" fill="#f7d676" stroke="none" />
<polygon points="152,396.2 153,396.3 154,396.4 155,396.5 156,396.6 157,396.7 158,396.8 159,396.9 160,397 161,397.1 162,397.2 163,397.3 164,397.4 165,397.4 166,397.5 167,397.6 168,397.6 169,397.6 170,397.6 171,397.5 172,397.4 173,397.3 174,397 175,396.6 176,396.2 177,395.6 178,394.9 179,394.1 180,393.1 181,392.1 182,391 183,389.9 184,388.9 185,387.9 186,387.1 187,386.5 188,386.1 189,386 190,386.2 191,386.8 192,387.6 193,388.6 194,389.7 195,391 196,392.3 197,393.6 198,394.9 199,396 200,397.1 201,398 202,398.9 203,399.5 204,400.1 205,400.6 206,401 207,401.4 208,401.6 209,401.9 210,402.1 211,402.2 212,402.4 213,402.5 214,402.7 215,402.8 216,402.9 217,403 218,403.1 219,403.2 220,403.4 221,403.5 222,403.6 223,403.7 224,403.8 225,403.9 226,404 226,404.1 225,404 224,403.9 223,403.8 222,403.7 221,403.6 220,403.5 219,403.4 218,403.3 217,403.2 216,403.1 215,403 214,402.9 213,402.8 212,402.7 211,402.6 210,402.5 209,402.4 208,402.3 207,402.2 206,402.1 205,402 204,401.9 203,401.8 202,401.7 201,401.6 200,401.5 199,401.4 198,401.3 197,401.2 196,401.1 195,401 194,400.8 193,400.7 192,400.6 191,400.5 190,400.4 189,400.3 188,400.2 187,400.1 186,400 185,399.9 184,399.8 183,399.6 182,399.5 181,399.4 180,399.3 179,399.2 178,399.1 177,399 176,398.9 175,398.8 174,398.7 173,398.6 172,398.5 171,398.3 170,398.2 169,398.1 168,398 167,397.9 166,397.8 165,397.7 164,397.6 163,397.5 162,397.4 161,397.2 160,397.1 159,397 158,396.9 157,396.8 156,396.7 155,396.6 154,396.5 153,396.4 152,396.3" fill="#f7d676" stroke="none" />
<polygon points="77.5,388.5 78.5,388.6 79.5,388.7 80.5,388.7 81.5,388.8 82.5,388.9 83.5,388.9 84.5,389 85.5,389 86.5,389 87.5,389 88.5,388.9 89.5,388.8 90.5,388.5 91.5,388.2 92.5,387.8 93.5,387.3 94.5,386.7 95.5,386 96.5,385.2 97.5,384.4 98.5,383.5 99.5,382.7 100.5,382.1 101.5,381.6 102.5,381.4 103.5,381.4 104.5,381.7 105.5,382.3 106.5,383 107.5,384 108.5,385 109.5,386 110.5,387 111.5,388 112.5,388.9 113.5,389.6 114.5,390.3 115.5,390.8 116.5,391.3 117.5,391.7 118.5,392 119.5,392.2 120.5,392.4 121.5,392.6 122.5,392.8 123.5,392.9 124.5,393.1 125.5,393.2 126.5,393.3 127.5,393.4 128.5,393.5 129,393.6 129,393.7 128.5,393.7 127.5,393.5 126.5,393.4 125.5,393.3 124.5,393.2 123.5,393.1 122.5,393 121.5,392.9 120.5,392.8 119.5,392.7 118.5,392.5 117.5,392.4 116.5,392.3 115.5,392.2 114.5,392.1 113.5,392 112.5,391.9 111.5,391.8 110.5,391.7 109.5,391.6 108.5,391.4 107.5,391.3 106.5,391.2 105.5,391.1 104.5,391 103.5,390.9 102.5,390.8 101.5,390.7 100.5,390.6 99.5,390.5 98.5,390.4 97.5,390.3 96.5,390.2 95.5,390.1 94.5,390 93.5,390 92.5,389.9 91.5,389.8 90.5,389.7 89.5,389.6 88.5,389.5 87.5,389.5 86.5,389.4 85.5,389.3 84.5,389.2 83.5,389.1 82.5,389 81.5,388.9 80.5,388.9 79.5,388.8 78.5,388.7 77.5,388.6" fill="#9cd3b2" stroke="none" />
<polygon points="156.5,396.6 157.5,396.8 158.5,396.9 159.5,397 160.5,397.1 161.5,397.2 162.5,397.3 163.5,397.4 164.5,397.5 165.5,397.6 166.5,397.7 167.5,397.8 168.5,397.9 169.5,398 170.5,398.1 171.5,398.2 172.5,398.3 173.5,398.4 174.5,398.5 175.5,398.6 176.5,398.7 177.5,398.8 178.5,398.9 179.5,398.9 180.5,399 181.5,399.1 182.5,399.2 183.5,399.2 184.5,399.2 185.5,399.2 186.5,399.2 187.5,399.1 188.5,399 189.5,398.8 190.5,398.6 191.5,398.2 192.5,397.8 193.5,397.2 194.5,396.6 195.5,395.7 196.5,394.8 197.5,393.8 198.5,392.7 199.5,391.5 200.5,390.3 201.5,389.1 202.5,387.9 203.5,386.9 204.5,386.1 205.5,385.5 206.5,385.2 207.5,385.3 208.5,385.6 209.5,386.3 210.5,387.2 211.5,388.4 212.5,389.7 213.5,391 214.5,392.5 215.5,393.9 216.5,395.2 217.5,396.5 218.5,397.7 219.5,398.7 220.5,399.7 221.5,400.5 222.5,401.2 223.5,401.8 224.5,402.3 225.5,402.7 226.5,403.1 227.5,403.4 228.5,403.6 229.5,403.8 230.5,404 231.5,404.2 232.5,404.3 233.5,404.5 234.5,404.6 235.5,404.7 236.5,404.9 237.5,405 238.5,405.1 239.5,405.2 240.5,405.3 241.5,405.5 242.5,405.6 243.5,405.8 244.5,405.9 245.5,406 246.5,406.2 247.5,406.3 248.5,406.4 249.5,406.6 250.5,406.7 251.5,406.8 252.5,407 253.5,407.1 254.5,407.2 255.5,407.4 256.5,407.5 257.5,407.6 257.5,407.7 256.5,407.6 255.5,407.5 254.5,407.3 253.5,407.2 252.5,407.1 251.5,407 250.5,406.8 249.5,406.7 248.5,406.6 247.5,406.5 246.5,406.3 245.5,406.2 244.5,406.1 243.5,405.9 242.5,405.8 241.5,405.7 240.5,405.6 239.5,405.4 238.5,405.4 237.5,405.2 236.5,405.1 235.5,405.1 234.5,404.9 233.5,404.9 232.5,404.8 231.5,404.6 230.5,404.6 229.5,404.4 228.5,404.4 227.5,404.2 226.5,404.1 225.5,404.1 224.5,403.9 223.5,403.9 222.5,403.8 221.5,403.6 220.5,403.6 219.5,403.4 218.5,403.4 217.5,403.2 216.5,403.1 215.5,403.1 214.5,402.9 213.5,402.9 212.5,402.8 211.5,402.6 210.5,402.6 209.5,402.4 208.5,402.4 207.5,402.2 206.5,402.1 205.5,402.1 204.5,401.9 203.5,401.9 202.5,401.8 201.5,401.6 200.5,401.6 199.5,401.4 198.5,401.3 197.5,401.2 196.5,401.1 195.5,401 194.5,400.9 193.5,400.8 192.5,400.7 191.5,400.6 190.5,400.5 189.5,400.4 188.5,400.2 187.5,400.1 186.5,400 185.5,399.9 184.5,399.8 183.5,399.7 182.5,399.6 181.5,399.5 180.5,399.4 179.5,399.3 178.5,399.2 177.5,399.1 176.5,398.9 175.5,398.8 174.5,398.7 173.5,398.6 172.5,398.5 171.5,398.4 170.5,398.3 169.5,398.2 168.5,398.1 167.5,398 166.5,397.9 165.5,397.7 164.5,397.6 163.5,397.5 162.5,397.4 161.5,397.3 160.5,397.2 159.5,397.1 158.5,397 157.5,396.9 156.5,396.7" fill="#9cd3b2" stroke="none" />
<polyline points="46.3,386 100,390.5 166,397.8 200,401.5 240,405.5 273,409.7" fill="none" stroke="#7d7d7d" stroke-width="1.6" stroke-linejoin="round" />
<path d="M50.6,383.0a2.1,2.1 0 1 0 -4.2,0a2.1,2.1 0 1 0 4.2,0M53.4,383.7a2.1,2.1 0 1 0 -4.2,0a2.1,2.1 0 1 0 4.2,0M55.4,386.2a2.1,2.1 0 1 0 -4.2,0a2.1,2.1 0 1 0 4.2,0M58.0,384.8a2.1,2.1 0 1 0 -4.2,0a2.1,2.1 0 1 0 4.2,0M60.9,381.7a2.1,2.1 0 1 0 -4.2,0a2.1,2.1 0 1 0 4.2,0M63.3,384.0a2.1,2.1 0 1 0 -4.2,0a2.1,2.1 0 1 0 4.2,0M66.5,383.2a2.1,2.1 0 1 0 -4.2,0a2.1,2.1 0 1 0 4.2,0M68.7,384.2a2.1,2.1 0 1 0 -4.2,0a2.1,2.1 0 1 0 4.2,0M72.3,381.5a2.1,2.1 0 1 0 -4.2,0a2.1,2.1 0 1 0 4.2,0M74.4,383.5a2.1,2.1 0 1 0 -4.2,0a2.1,2.1 0 1 0 4.2,0M77.0,382.4a2.1,2.1 0 1 0 -4.2,0a2.1,2.1 0 1 0 4.2,0M80.1,382.7a2.1,2.1 0 1 0 -4.2,0a2.1,2.1 0 1 0 4.2,0M82.4,379.1a2.1,2.1 0 1 0 -4.2,0a2.1,2.1 0 1 0 4.2,0M84.7,377.7a2.1,2.1 0 1 0 -4.2,0a2.1,2.1 0 1 0 4.2,0M87.3,374.0a2.1,2.1 0 1 0 -4.2,0a2.1,2.1 0 1 0 4.2,0M89.8,379.3a2.1,2.1 0 1 0 -4.2,0a2.1,2.1 0 1 0 4.2,0M93.0,374.5a2.1,2.1 0 1 0 -4.2,0a2.1,2.1 0 1 0 4.2,0M95.5,379.8a2.1,2.1 0 1 0 -4.2,0a2.1,2.1 0 1 0 4.2,0M97.9,378.2a2.1,2.1 0 1 0 -4.2,0a2.1,2.1 0 1 0 4.2,0M100.7,377.1a2.1,2.1 0 1 0 -4.2,0a2.1,2.1 0 1 0 4.2,0M102.6,376.7a2.1,2.1 0 1 0 -4.2,0a2.1,2.1 0 1 0 4.2,0M105.8,376.7a2.1,2.1 0 1 0 -4.2,0a2.1,2.1 0 1 0 4.2,0M107.4,379.1a2.1,2.1 0 1 0 -4.2,0a2.1,2.1 0 1 0 4.2,0M111.4,380.1a2.1,2.1 0 1 0 -4.2,0a2.1,2.1 0 1 0 4.2,0M113.3,383.3a2.1,2.1 0 1 0 -4.2,0a2.1,2.1 0 1 0 4.2,0M116.0,377.9a2.1,2.1 0 1 0 -4.2,0a2.1,2.1 0 1 0 4.2,0M118.8,377.7a2.1,2.1 0 1 0 -4.2,0a2.1,2.1 0 1 0 4.2,0M121.1,372.0a2.1,2.1 0 1 0 -4.2,0a2.1,2.1 0 1 0 4.2,0M123.6,369.7a2.1,2.1 0 1 0 -4.2,0a2.1,2.1 0 1 0 4.2,0M126.9,363.1a2.1,2.1 0 1 0 -4.2,0a2.1,2.1 0 1 0 4.2,0M129.0,366.8a2.1,2.1 0 1 0 -4.2,0a2.1,2.1 0 1 0 4.2,0M131.0,370.8a2.1,2.1 0 1 0 -4.2,0a2.1,2.1 0 1 0 4.2,0M134.3,372.8a2.1,2.1 0 1 0 -4.2,0a2.1,2.1 0 1 0 4.2,0M135.8,380.9a2.1,2.1 0 1 0 -4.2,0a2.1,2.1 0 1 0 4.2,0M140.1,384.0a2.1,2.1 0 1 0 -4.2,0a2.1,2.1 0 1 0 4.2,0M141.8,388.2a2.1,2.1 0 1 0 -4.2,0a2.1,2.1 0 1 0 4.2,0M144.5,390.3a2.1,2.1 0 1 0 -4.2,0a2.1,2.1 0 1 0 4.2,0M148.2,389.0a2.1,2.1 0 1 0 -4.2,0a2.1,2.1 0 1 0 4.2,0M150.8,390.2a2.1,2.1 0 1 0 -4.2,0a2.1,2.1 0 1 0 4.2,0M152.4,391.5a2.1,2.1 0 1 0 -4.2,0a2.1,2.1 0 1 0 4.2,0M155.2,393.2a2.1,2.1 0 1 0 -4.2,0a2.1,2.1 0 1 0 4.2,0M158.0,394.0a2.1,2.1 0 1 0 -4.2,0a2.1,2.1 0 1 0 4.2,0M160.9,392.4a2.1,2.1 0 1 0 -4.2,0a2.1,2.1 0 1 0 4.2,0M162.6,393.1a2.1,2.1 0 1 0 -4.2,0a2.1,2.1 0 1 0 4.2,0M165.4,393.2a2.1,2.1 0 1 0 -4.2,0a2.1,2.1 0 1 0 4.2,0M168.5,393.4a2.1,2.1 0 1 0 -4.2,0a2.1,2.1 0 1 0 4.2,0M170.6,392.5a2.1,2.1 0 1 0 -4.2,0a2.1,2.1 0 1 0 4.2,0M173.5,390.6a2.1,2.1 0 1 0 -4.2,0a2.1,2.1 0 1 0 4.2,0M176.0,391.5a2.1,2.1 0 1 0 -4.2,0a2.1,2.1 0 1 0 4.2,0M177.7,386.7a2.1,2.1 0 1 0 -4.2,0a2.1,2.1 0 1 0 4.2,0M180.5,385.8a2.1,2.1 0 1 0 -4.2,0a2.1,2.1 0 1 0 4.2,0M182.2,385.0a2.1,2.1 0 1 0 -4.2,0a2.1,2.1 0 1 0 4.2,0M186.0,380.7a2.1,2.1 0 1 0 -4.2,0a2.1,2.1 0 1 0 4.2,0M189.4,379.5a2.1,2.1 0 1 0 -4.2,0a2.1,2.1 0 1 0 4.2,0M190.7,379.2a2.1,2.1 0 1 0 -4.2,0a2.1,2.1 0 1 0 4.2,0M194.5,380.7a2.1,2.1 0 1 0 -4.2,0a2.1,2.1 0 1 0 4.2,0M197.0,379.0a2.1,2.1 0 1 0 -4.2,0a2.1,2.1 0 1 0 4.2,0M199.1,383.8a2.1,2.1 0 1 0 -4.2,0a2.1,2.1 0 1 0 4.2,0M201.7,381.1a2.1,2.1 0 1 0 -4.2,0a2.1,2.1 0 1 0 4.2,0M204.3,380.3a2.1,2.1 0 1 0 -4.2,0a2.1,2.1 0 1 0 4.2,0M206.5,379.3a2.1,2.1 0 1 0 -4.2,0a2.1,2.1 0 1 0 4.2,0M209.4,377.2a2.1,2.1 0 1 0 -4.2,0a2.1,2.1 0 1 0 4.2,0M212.1,376.1a2.1,2.1 0 1 0 -4.2,0a2.1,2.1 0 1 0 4.2,0M215.0,372.8a2.1,2.1 0 1 0 -4.2,0a2.1,2.1 0 1 0 4.2,0M217.7,368.5a2.1,2.1 0 1 0 -4.2,0a2.1,2.1 0 1 0 4.2,0M219.5,363.0a2.1,2.1 0 1 0 -4.2,0a2.1,2.1 0 1 0 4.2,0M222.9,354.4a2.1,2.1 0 1 0 -4.2,0a2.1,2.1 0 1 0 4.2,0M224.7,352.4a2.1,2.1 0 1 0 -4.2,0a2.1,2.1 0 1 0 4.2,0M227.6,348.5a2.1,2.1 0 1 0 -4.2,0a2.1,2.1 0 1 0 4.2,0M230.5,350.8a2.1,2.1 0 1 0 -4.2,0a2.1,2.1 0 1 0 4.2,0M232.9,361.7a2.1,2.1 0 1 0 -4.2,0a2.1,2.1 0 1 0 4.2,0M235.4,366.6a2.1,2.1 0 1 0 -4.2,0a2.1,2.1 0 1 0 4.2,0M238.2,373.2a2.1,2.1 0 1 0 -4.2,0a2.1,2.1 0 1 0 4.2,0M240.4,384.3a2.1,2.1 0 1 0 -4.2,0a2.1,2.1 0 1 0 4.2,0M243.0,386.5a2.1,2.1 0 1 0 -4.2,0a2.1,2.1 0 1 0 4.2,0M245.8,392.1a2.1,2.1 0 1 0 -4.2,0a2.1,2.1 0 1 0 4.2,0M249.0,392.7a2.1,2.1 0 1 0 -4.2,0a2.1,2.1 0 1 0 4.2,0M251.0,396.1a2.1,2.1 0 1 0 -4.2,0a2.1,2.1 0 1 0 4.2,0M254.7,396.3a2.1,2.1 0 1 0 -4.2,0a2.1,2.1 0 1 0 4.2,0M256.4,397.8a2.1,2.1 0 1 0 -4.2,0a2.1,2.1 0 1 0 4.2,0M257.4,400.8a2.1,2.1 0 1 0 -4.2,0a2.1,2.1 0 1 0 4.2,0M261.3,403.6a2.1,2.1 0 1 0 -4.2,0a2.1,2.1 0 1 0 4.2,0M264.9,406.1a2.1,2.1 0 1 0 -4.2,0a2.1,2.1 0 1 0 4.2,0M266.7,409.4a2.1,2.1 0 1 0 -4.2,0a2.1,2.1 0 1 0 4.2,0M269.1,405.7a2.1,2.1 0 1 0 -4.2,0a2.1,2.1 0 1 0 4.2,0M271.5,409.6a2.1,2.1 0 1 0 -4.2,0a2.1,2.1 0 1 0 4.2,0" fill="none" stroke="#b4b4b4" stroke-width="0.6"/>
<polyline points="47,384 47.5,384 48,384 48.5,384 49,384 49.5,383.9 50,383.9 50.5,383.9 51,383.9 51.5,383.9 52,383.9 52.5,383.9 53,383.9 53.5,383.9 54,383.9 54.5,383.9 55,383.9 55.5,383.9 56,383.9 56.5,383.9 57,383.9 57.5,383.9 58,383.9 58.5,383.9 59,383.9 59.5,384 60,384 60.5,384 61,384 61.5,384 62,384 62.5,384 63,384.1 63.5,384.1 64,384.1 64.5,384.1 65,384.1 65.5,384.1 66,384.1 66.5,384 67,384 67.5,384 68,384 68.5,383.9 69,383.9 69.5,383.8 70,383.7 70.5,383.6 71,383.5 71.5,383.4 72,383.2 72.5,383.1 73,382.9 73.5,382.7 74,382.4 74.5,382.2 75,381.9 75.5,381.7 76,381.4 76.5,381.1 77,380.7 77.5,380.4 78,380.1 78.5,379.7 79,379.4 79.5,379 80,378.7 80.5,378.3 81,378 81.5,377.7 82,377.4 82.5,377.1 83,376.8 83.5,376.6 84,376.4 84.5,376.2 85,376.1 85.5,376 86,376 86.5,376 87,376 87.5,376.1 88,376.2 88.5,376.4 89,376.6 89.5,376.8 90,377 90.5,377.2 91,377.5 91.5,377.7 92,377.9 92.5,378.1 93,378.3 93.5,378.4 94,378.5 94.5,378.6 95,378.7 95.5,378.7 96,378.7 96.5,378.6 97,378.6 97.5,378.5 98,378.4 98.5,378.2 99,378.1 99.5,378 100,377.8 100.5,377.7 101,377.6 101.5,377.6 102,377.5 102.5,377.5 103,377.5 103.5,377.6 104,377.7 104.5,377.9 105,378.1 105.5,378.3 106,378.6 106.5,378.9 107,379.2 107.5,379.5 108,379.8 108.5,380.1 109,380.4 109.5,380.7 110,380.9 110.5,381.1 111,381.2 111.5,381.2 112,381.2 112.5,381.1 113,380.9 113.5,380.7 114,380.4 114.5,380 115,379.5 115.5,378.9 116,378.3 116.5,377.6 117,376.8 117.5,376 118,375.1 118.5,374.2 119,373.3 119.5,372.3 120,371.4 120.5,370.5 121,369.6 121.5,368.8 122,368 122.5,367.3 123,366.8 123.5,366.4 124,366.1 124.5,366 125,366.1 125.5,366.3 126,366.6 126.5,367 127,367.4 127.5,368 128,368.6 128.5,369.2 129,369.9 129.5,370.7 130,371.5 130.5,372.3 131,373.2 131.5,374 132,374.9 132.5,375.8 133,376.7 133.5,377.6 134,378.5 134.5,379.4 135,380.2 135.5,381.1 136,381.9 136.5,382.7 137,383.4 137.5,384.1 138,384.8 138.5,385.4 139,386 139.5,386.5 140,387 140.5,387.4 141,387.9 141.5,388.3 142,388.6 142.5,389 143,389.3 143.5,389.6 144,389.9 144.5,390.1 145,390.4 145.5,390.6 146,390.8 146.5,391 147,391.1 147.5,391.3 148,391.4 148.5,391.5 149,391.6 149.5,391.7 150,391.8 150.5,391.8 151,391.9 151.5,391.9 152,392 152.5,392.1 153,392.2 153.5,392.3 154,392.4 154.5,392.5 155,392.7 155.5,392.8 156,392.9 156.5,393.1 157,393.2 157.5,393.3 158,393.4 158.5,393.5 159,393.6 159.5,393.7 160,393.8 160.5,393.9 161,394 161.5,394.1 162,394.2 162.5,394.2 163,394.3 163.5,394.3 164,394.4 164.5,394.4 165,394.4 165.5,394.3 166,394.2 166.5,394 167,393.8 167.5,393.5 168,393.1 168.5,392.8 169,392.4 169.5,392 170,391.6 170.5,391.2 171,390.8 171.5,390.4 172,389.9 172.5,389.5 173,389.1 173.5,388.7 174,388.4 174.5,388.1 175,387.9 175.5,387.7 176,387.5 176.5,387.3 177,387.1 177.5,386.9 178,386.7 178.5,386.4 179,386.1 179.5,385.8 180,385.4 180.5,385.1 181,384.7 181.5,384.2 182,383.8 182.5,383.4 183,382.9 183.5,382.4 184,382 184.5,381.6 185,381.2 185.5,380.8 186,380.4 186.5,380.1 187,379.8 187.5,379.6 188,379.4 188.5,379.3 189,379.2 189.5,379.2 190,379.2 190.5,379.3 191,379.4 191.5,379.5 192,379.7 192.5,379.9 193,380.2 193.5,380.4 194,380.7 194.5,380.9 195,381.2 195.5,381.4 196,381.6 196.5,381.8 197,381.9 197.5,381.9 198,382 198.5,381.9 199,381.8 199.5,381.6 200,381.4 200.5,381.2 201,380.9 201.5,380.6 202,380.2 202.5,379.9 203,379.5 203.5,379.1 204,378.7 204.5,378.3 205,377.9 205.5,377.6 206,377.2 206.5,376.9 207,376.5 207.5,376.2 208,375.9 208.5,375.6 209,375.3 209.5,375 210,374.7 210.5,374.3 211,374 211.5,373.6 212,373.1 212.5,372.6 213,372 213.5,371.4 214,370.7 214.5,369.8 215,368.9 215.5,367.9 216,366.9 216.5,365.7 217,364.5 217.5,363.3 218,362 218.5,360.7 219,359.4 219.5,358.1 220,356.8 220.5,355.5 221,354.4 221.5,353.3 222,352.3 222.5,351.4 223,350.7 223.5,350.1 224,349.7 224.5,349.5 225,349.4 225.5,349.5 226,349.8 226.5,350.1 227,350.7 227.5,351.4 228,352.2 228.5,353.1 229,354.2 229.5,355.4 230,356.6 230.5,358 231,359.4 231.5,360.9 232,362.4 232.5,363.9 233,365.5 233.5,367.1 234,368.6 234.5,370.2 235,371.8 235.5,373.3 236,374.8 236.5,376.3 237,377.7 237.5,379 238,380.3 238.5,381.5 239,382.6 239.5,383.7 240,384.7 240.5,385.7 241,386.6 241.5,387.4 242,388.2 242.5,388.9 243,389.6 243.5,390.3 244,390.9 244.5,391.5 245,392.1 245.5,392.7 246,393.3 246.5,393.9 247,394.5 247.5,395 248,395.5 248.5,396 249,396.5 249.5,396.9 250,397.4 250.5,397.8 251,398.2 251.5,398.6 252,398.9 252.5,399.3 253,399.7 253.5,400 254,400.4 254.5,400.7 255,401 255.5,401.4 256,401.7 256.5,402 257,402.3 257.5,402.6 258,402.9 258.5,403.2 259,403.5 259.5,403.8 260,404 260.5,404.3 261,404.5 261.5,404.7 262,404.9 262.5,405.2 263,405.4 263.5,405.6 264,405.8 264.5,406 265,406.2 265.5,406.4 266,406.6 266.5,406.8 267,407 267.5,407.2 268,407.4 268.5,407.6 269,407.8 269.5,408 270,408.2 270.5,408.4 271,408.6 271.5,408.8 272,408.9" fill="none" stroke="#3c3c3c" stroke-width="1.9" stroke-linejoin="round" />
<rect x="46.30" y="240.50" width="226.40" height="182.50" fill="none" stroke="#505050" stroke-width="1.3"/>
<path d="M76.89,423.00v-4.5M107.49,423.00v-4.5M138.08,423.00v-4.5M168.68,423.00v-4.5M199.27,423.00v-4.5M229.87,423.00v-4.5M260.46,423.00v-4.5M61.60,423.00v-2.8M92.19,423.00v-2.8M122.79,423.00v-2.8M153.38,423.00v-2.8M183.98,423.00v-2.8M214.57,423.00v-2.8M245.16,423.00v-2.8" stroke="#505050" stroke-width="1.1" fill="none"/>
<text x="46.30" y="435.60" font-size="11" fill="#1a1a1a" font-weight="bold" text-anchor="middle" textLength="17.30" lengthAdjust="spacingAndGlyphs" >810</text>
<text x="76.89" y="435.60" font-size="11" fill="#1a1a1a" font-weight="bold" text-anchor="middle" textLength="17.30" lengthAdjust="spacingAndGlyphs" >805</text>
<text x="107.49" y="435.60" font-size="11" fill="#1a1a1a" font-weight="bold" text-anchor="middle" textLength="17.30" lengthAdjust="spacingAndGlyphs" >800</text>
<text x="138.08" y="435.60" font-size="11" fill="#1a1a1a" font-weight="bold" text-anchor="middle" textLength="17.30" lengthAdjust="spacingAndGlyphs" >795</text>
<text x="168.68" y="435.60" font-size="11" fill="#1a1a1a" font-weight="bold" text-anchor="middle" textLength="17.30" lengthAdjust="spacingAndGlyphs" >790</text>
<text x="199.27" y="435.60" font-size="11" fill="#1a1a1a" font-weight="bold" text-anchor="middle" textLength="17.30" lengthAdjust="spacingAndGlyphs" >785</text>
<text x="229.87" y="435.60" font-size="11" fill="#1a1a1a" font-weight="bold" text-anchor="middle" textLength="17.30" lengthAdjust="spacingAndGlyphs" >780</text>
<text x="260.46" y="435.60" font-size="11" fill="#1a1a1a" font-weight="bold" text-anchor="middle" textLength="17.30" lengthAdjust="spacingAndGlyphs" >775</text>
<text x="159.90" y="450.20" font-size="10.8" fill="#1a1a1a" font-weight="bold" text-anchor="middle" textLength="94.30" lengthAdjust="spacingAndGlyphs" >Binding energy/eV</text>
<text x="39.60" y="331.50" font-size="10.9" fill="#1a1a1a" font-weight="bold" text-anchor="middle" textLength="74.00" lengthAdjust="spacingAndGlyphs" transform="rotate(-90 39.60 331.50)" >Intensity/(a.u.)</text>
<text x="3.90" y="250.00" font-size="23.5" fill="#111" font-weight="bold" textLength="30.30" lengthAdjust="spacingAndGlyphs" stroke="#111" stroke-width="0.25">(c)</text>
<text x="47.30" y="254.20" font-size="12.9" fill="#1a1a1a" textLength="36.80" lengthAdjust="spacingAndGlyphs" >Co 2p</text>
<text x="110.10" y="278.50" font-size="11" fill="#1a1a1a" textLength="38.20" lengthAdjust="spacingAndGlyphs" >Co 2p<tspan font-size="8.14" dy="3.30">1/2</tspan><tspan dy="-3.30">​</tspan></text>
<text x="196.50" y="259.30" font-size="11" fill="#1a1a1a" textLength="38.70" lengthAdjust="spacingAndGlyphs" >Co 2p<tspan font-size="8.14" dy="3.30">3/2</tspan><tspan dy="-3.30">​</tspan></text>
<text x="48.90" y="327.20" font-size="11.6" fill="#1a1a1a" textLength="20.80" lengthAdjust="spacingAndGlyphs" >CoP</text>
<text x="48.50" y="405.50" font-size="11.6" fill="#1a1a1a" textLength="61.00" lengthAdjust="spacingAndGlyphs" >CoP-Ti<tspan font-size="8.58" dy="3.48">3</tspan><tspan dy="-3.48">​</tspan>C<tspan font-size="8.58" dy="3.48">2</tspan><tspan dy="-3.48">​</tspan>T<tspan font-size="8.58" dy="3.48">x</tspan><tspan dy="-3.48">​</tspan></text>
<text x="70.80" y="300.40" font-size="8.2" fill="#8f7a35" textLength="12.70" lengthAdjust="spacingAndGlyphs" stroke="#8f7a35" stroke-width="0.3">Sat.</text>
<text x="100.50" y="299.80" font-size="8.2" fill="#2f7a55" textLength="14.90" lengthAdjust="spacingAndGlyphs" stroke="#2f7a55" stroke-width="0.3">Co<tspan font-size="5.08" dy="-3.12">2+</tspan><tspan dy="3.12">​</tspan></text>
<text x="134.50" y="301.30" font-size="8.2" fill="#b8323a" textLength="15.90" lengthAdjust="spacingAndGlyphs" stroke="#b8323a" stroke-width="0.3">Co<tspan font-size="5.08" dy="-3.12">3+</tspan><tspan dy="3.12">​</tspan></text>
<text x="157.70" y="305.40" font-size="8.2" fill="#8f7a35" textLength="13.30" lengthAdjust="spacingAndGlyphs" stroke="#8f7a35" stroke-width="0.3">Sat.</text>
<text x="185.40" y="285.90" font-size="8.2" fill="#2f7a55" textLength="17.70" lengthAdjust="spacingAndGlyphs" stroke="#2f7a55" stroke-width="0.3">Co<tspan font-size="5.08" dy="-3.12">2+</tspan><tspan dy="3.12">​</tspan></text>
<text x="225.20" y="292.10" font-size="8.2" fill="#b8323a" textLength="16.60" lengthAdjust="spacingAndGlyphs" stroke="#b8323a" stroke-width="0.3">Co<tspan font-size="5.08" dy="-3.12">3+</tspan><tspan dy="3.12">​</tspan></text>
<text x="67.60" y="375.60" font-size="8.2" fill="#8f7a35" textLength="13.80" lengthAdjust="spacingAndGlyphs" stroke="#8f7a35" stroke-width="0.3">Sat.</text>
<text x="94.20" y="369.30" font-size="8.2" fill="#2f7a55" textLength="15.90" lengthAdjust="spacingAndGlyphs" stroke="#2f7a55" stroke-width="0.3">Co<tspan font-size="5.08" dy="-3.12">2+</tspan><tspan dy="3.12">​</tspan></text>
<text x="133.50" y="367.20" font-size="8.2" fill="#b8323a" textLength="17.00" lengthAdjust="spacingAndGlyphs" stroke="#b8323a" stroke-width="0.3">Co<tspan font-size="5.08" dy="-3.12">3+</tspan><tspan dy="3.12">​</tspan></text>
<text x="165.50" y="386.40" font-size="8.2" fill="#8f7a35" textLength="11.00" lengthAdjust="spacingAndGlyphs" stroke="#8f7a35" stroke-width="0.3">Sat.</text>
<text x="188.70" y="376.40" font-size="8.2" fill="#2f7a55" textLength="16.60" lengthAdjust="spacingAndGlyphs" stroke="#2f7a55" stroke-width="0.3">Co<tspan font-size="5.08" dy="-3.12">2+</tspan><tspan dy="3.12">​</tspan></text>
<text x="234.00" y="372.00" font-size="8.2" fill="#b8323a" textLength="16.70" lengthAdjust="spacingAndGlyphs" stroke="#b8323a" stroke-width="0.3">Co<tspan font-size="5.08" dy="-3.12">3+</tspan><tspan dy="3.12">​</tspan></text>
<polygon points="326.7,316.3 327.7,316.3 328.7,316.2 329.7,316.2 330.7,316.1 331.7,316.1 332.7,316 333.7,315.9 334.7,315.9 335.7,315.8 336.7,315.7 337.7,315.7 338.7,315.6 339.7,315.5 340.7,315.4 341.7,315.3 342.7,315.3 343.7,315.2 344.7,315.1 345.7,315 346.7,314.8 347.7,314.7 348.7,314.6 349.7,314.5 350.7,314.3 351.7,314.2 352.7,314 353.7,313.8 354.7,313.6 355.7,313.4 356.7,313.2 357.7,313 358.7,312.7 359.7,312.4 360.7,312.1 361.7,311.8 362.7,311.4 363.7,311.1 364.7,310.7 365.7,310.2 366.7,309.7 367.7,309.2 368.7,308.7 369.7,308.1 370.7,307.4 371.7,306.7 372.7,306 373.7,305.2 374.7,304.3 375.7,303.4 376.7,302.4 377.7,301.3 378.7,300.2 379.7,299.1 380.7,297.8 381.7,296.5 382.7,295.1 383.7,293.7 384.7,292.1 385.7,290.6 386.7,288.9 387.7,287.2 388.7,285.4 389.7,283.6 390.7,281.7 391.7,279.8 392.7,277.9 393.7,276 394.7,274 395.7,272.1 396.7,270.2 397.7,268.3 398.7,266.5 399.7,264.7 400.7,263.1 401.7,261.6 402.7,260.2 403.7,259 404.7,258.1 405.7,257.3 406.7,256.7 407.7,256.4 408.7,256.4 409.7,256.6 410.7,257 411.7,257.7 412.7,258.7 413.7,259.8 414.7,261.1 415.7,262.6 416.7,264.3 417.7,266 418.7,267.9 419.7,269.8 420.7,271.7 421.7,273.7 422.7,275.7 423.7,277.7 424.7,279.7 425.7,281.7 426.7,283.6 427.7,285.5 428.7,287.3 429.7,289 430.7,290.7 431.7,292.4 432.7,293.9 433.7,295.4 434.7,296.9 435.7,298.2 436.7,299.5 437.7,300.7 438.7,301.9 439.7,302.9 440.7,303.9 441.7,304.9 442.7,305.8 443.7,306.6 444.7,307.4 445.7,308.1 446.7,308.7 447.7,309.4 448.7,309.9 449.7,310.5 450.7,311 451.7,311.4 452.7,311.8 453.7,312.2 454.7,312.6 455.7,312.9 456.7,313.2 457.7,313.5 458.7,313.8 459.7,314 460.7,314.3 461.7,314.5 462.7,314.7 463.7,314.9 464.7,315 465.7,315.2 466.7,315.4 467.7,315.5 468.7,315.7 469.7,315.8 470.7,315.9 471.7,316 472.7,316.1 473.7,316.3 474.7,316.4 475.7,316.5 476.7,316.6 477.7,316.6 478.7,316.7 479.7,316.8 480.7,316.9 481.7,317 482.7,317.1 483.7,317.1 484.7,317.2 485.7,317.3 486.7,317.3 487.7,317.4 488.7,317.5 489.7,317.5 490.7,317.6 491.7,317.6 492.7,317.7 493.7,317.7 494.7,317.8 495.7,317.8 496.7,317.9 497.7,317.9 498.7,318 499.7,318 500.7,318.1 501.7,318.1 502.7,318.2 503.7,318.2 504.7,318.2 505.7,318.3 506.7,318.3 507.7,318.4 508.7,318.4 509.7,318.4 510.7,318.5 511.7,318.5 512.7,318.5 513.7,318.6 514.7,318.6 515.7,318.6 516.7,318.7 517.7,318.7 518.7,318.7 519.7,318.7 520.7,318.8 521.7,318.8 522.7,318.8 523.7,318.8 524.7,318.9 525.7,318.9 526.7,318.9 527.7,319 528.7,319 529.7,319 530.7,319 531.7,319 532.7,319.1 533.7,319.1 534.7,319.1 535.7,319.1 536.7,319.2 537.7,319.2 538.7,319.2 539.7,319.2 540.7,319.2 541.7,319.3 542.7,319.3 543.7,319.3 544.7,319.3 545.7,319.3 546.7,319.4 547.7,319.4 548.7,319.4 549.7,319.4 550.7,319.4 551.2,319.4 551.2,320.2 550.7,320.2 549.7,320.2 548.7,320.2 547.7,320.2 546.7,320.2 545.7,320.2 544.7,320.1 543.7,320.1 542.7,320.1 541.7,320.1 540.7,320.1 539.7,320.1 538.7,320.1 537.7,320.1 536.7,320.1 535.7,320.1 534.7,320.1 533.7,320.1 532.7,320.1 531.7,320.1 530.7,320 529.7,320 528.7,320 527.7,320 526.7,320 525.7,320 524.7,320 523.7,320 522.7,320 521.7,320 520.7,320 519.7,320 518.7,320 517.7,320 516.7,319.9 515.7,319.9 514.7,319.9 513.7,319.9 512.7,319.9 511.7,319.9 510.7,319.9 509.7,319.9 508.7,319.9 507.7,319.9 506.7,319.9 505.7,319.9 504.7,319.9 503.7,319.9 502.7,319.8 501.7,319.8 500.7,319.8 499.7,319.8 498.7,319.8 497.7,319.8 496.7,319.8 495.7,319.8 494.7,319.8 493.7,319.8 492.7,319.8 491.7,319.8 490.7,319.8 489.7,319.8 488.7,319.8 487.7,319.7 486.7,319.7 485.7,319.7 484.7,319.7 483.7,319.7 482.7,319.7 481.7,319.7 480.7,319.7 479.7,319.7 478.7,319.7 477.7,319.7 476.7,319.7 475.7,319.7 474.7,319.7 473.7,319.6 472.7,319.6 471.7,319.6 470.7,319.6 469.7,319.6 468.7,319.6 467.7,319.6 466.7,319.6 465.7,319.6 464.7,319.6 463.7,319.6 462.7,319.6 461.7,319.6 460.7,319.6 459.7,319.5 458.7,319.5 457.7,319.5 456.7,319.5 455.7,319.5 454.7,319.5 453.7,319.5 452.7,319.5 451.7,319.5 450.7,319.5 449.7,319.5 448.7,319.5 447.7,319.5 446.7,319.5 445.7,319.4 444.7,319.4 443.7,319.4 442.7,319.4 441.7,319.4 440.7,319.4 439.7,319.4 438.7,319.4 437.7,319.4 436.7,319.4 435.7,319.4 434.7,319.4 433.7,319.4 432.7,319.4 431.7,319.3 430.7,319.3 429.7,319.3 428.7,319.3 427.7,319.3 426.7,319.3 425.7,319.3 424.7,319.3 423.7,319.3 422.7,319.3 421.7,319.3 420.7,319.3 419.7,319.3 418.7,319.3 417.7,319.2 416.7,319.2 415.7,319.2 414.7,319.2 413.7,319.2 412.7,319.2 411.7,319.2 410.7,319.2 409.7,319.2 408.7,319.2 407.7,319.2 406.7,319.2 405.7,319.2 404.7,319.2 403.7,319.1 402.7,319.1 401.7,319.1 400.7,319.1 399.7,319.1 398.7,319.1 397.7,319.1 396.7,319.1 395.7,319.1 394.7,319.1 393.7,319.1 392.7,319.1 391.7,319.1 390.7,319.1 389.7,319.1 388.7,319 387.7,319 386.7,319 385.7,319 384.7,319 383.7,319 382.7,319 381.7,319 380.7,319 379.7,319 378.7,319 377.7,319 376.7,319 375.7,319 374.7,318.9 373.7,318.9 372.7,318.9 371.7,318.9 370.7,318.9 369.7,318.9 368.7,318.9 367.7,318.9 366.7,318.9 365.7,318.9 364.7,318.9 363.7,318.9 362.7,318.9 361.7,318.9 360.7,318.8 359.7,318.8 358.7,318.8 357.7,318.8 356.7,318.8 355.7,318.8 354.7,318.8 353.7,318.8 352.7,318.8 351.7,318.8 350.7,318.8 349.7,318.8 348.7,318.8 347.7,318.8 346.7,318.7 345.7,318.7 344.7,318.7 343.7,318.7 342.7,318.7 341.7,318.7 340.7,318.7 339.7,318.7 338.7,318.7 337.7,318.7 336.7,318.7 335.7,318.7 334.7,318.7 333.7,318.7 332.7,318.6 331.7,318.6 330.7,318.6 329.7,318.6 328.7,318.6 327.7,318.6 326.7,318.6" fill="#f0999e" stroke="none" />
<polygon points="458.2,319.4 459.2,319.4 460.2,319.4 461.2,319.4 462.2,319.4 463.2,319.4 464.2,319.4 465.2,319.4 466.2,319.4 467.2,319.4 468.2,319.4 469.2,319.4 470.2,319.4 471.2,319.3 472.2,319.3 473.2,319.2 474.2,319.1 475.2,319 476.2,318.8 477.2,318.5 478.2,318.2 479.2,317.7 480.2,317 481.2,316.2 482.2,315.2 483.2,314 484.2,312.7 485.2,311.4 486.2,310 487.2,308.8 488.2,307.7 489.2,307 490.2,306.8 491.2,307 492.2,307.6 493.2,308.6 494.2,309.8 495.2,311.1 496.2,312.5 497.2,313.9 498.2,315.1 499.2,316.1 500.2,317 501.2,317.7 502.2,318.3 503.2,318.7 504.2,319 505.2,319.2 506.2,319.3 507.2,319.5 508.2,319.5 509.2,319.6 510.2,319.6 511.2,319.7 512.2,319.7 513.2,319.7 514.2,319.8 515.2,319.8 516.2,319.8 517.2,319.8 518.2,319.8 519.2,319.8 520.2,319.9 521.2,319.9 522.2,319.9 522.2,320 521.2,320 520.2,320 519.2,320 518.2,320 517.2,320 516.2,319.9 515.2,319.9 514.2,319.9 513.2,319.9 512.2,319.9 511.2,319.9 510.2,319.9 509.2,319.9 508.2,319.9 507.2,319.9 506.2,319.9 505.2,319.9 504.2,319.9 503.2,319.9 502.2,319.8 501.2,319.8 500.2,319.8 499.2,319.8 498.2,319.8 497.2,319.8 496.2,319.8 495.2,319.8 494.2,319.8 493.2,319.8 492.2,319.8 491.2,319.8 490.2,319.8 489.2,319.8 488.2,319.7 487.2,319.7 486.2,319.7 485.2,319.7 484.2,319.7 483.2,319.7 482.2,319.7 481.2,319.7 480.2,319.7 479.2,319.7 478.2,319.7 477.2,319.7 476.2,319.7 475.2,319.7 474.2,319.6 473.2,319.6 472.2,319.6 471.2,319.6 470.2,319.6 469.2,319.6 468.2,319.6 467.2,319.6 466.2,319.6 465.2,319.6 464.2,319.6 463.2,319.6 462.2,319.6 461.2,319.6 460.2,319.5 459.2,319.5 458.2,319.5" fill="#f7d676" stroke="none" />
<polygon points="472.2,319.5 473.2,319.5 474.2,319.5 475.2,319.5 476.2,319.5 477.2,319.5 478.2,319.5 479.2,319.5 480.2,319.5 481.2,319.5 482.2,319.5 483.2,319.5 484.2,319.5 485.2,319.5 486.2,319.4 487.2,319.4 488.2,319.3 489.2,319.2 490.2,319.1 491.2,318.9 492.2,318.6 493.2,318.2 494.2,317.7 495.2,317 496.2,316.1 497.2,315 498.2,313.8 499.2,312.4 500.2,311 501.2,309.5 502.2,308.1 503.2,307 504.2,306.2 505.2,305.9 506.2,306 507.2,306.7 508.2,307.7 509.2,309 510.2,310.4 511.2,311.9 512.2,313.4 513.2,314.7 514.2,315.8 515.2,316.8 516.2,317.6 517.2,318.2 518.2,318.6 519.2,319 520.2,319.2 521.2,319.4 522.2,319.5 523.2,319.6 524.2,319.7 525.2,319.7 526.2,319.8 527.2,319.8 528.2,319.8 529.2,319.8 530.2,319.9 531.2,319.9 532.2,319.9 533.2,319.9 534.2,319.9 535.2,320 536.2,320 537.2,320 538.2,320 538.7,320 538.7,320.1 538.2,320.1 537.2,320.1 536.2,320.1 535.2,320.1 534.2,320.1 533.2,320.1 532.2,320.1 531.2,320.1 530.2,320 529.2,320 528.2,320 527.2,320 526.2,320 525.2,320 524.2,320 523.2,320 522.2,320 521.2,320 520.2,320 519.2,320 518.2,320 517.2,320 516.2,319.9 515.2,319.9 514.2,319.9 513.2,319.9 512.2,319.9 511.2,319.9 510.2,319.9 509.2,319.9 508.2,319.9 507.2,319.9 506.2,319.9 505.2,319.9 504.2,319.9 503.2,319.9 502.2,319.8 501.2,319.8 500.2,319.8 499.2,319.8 498.2,319.8 497.2,319.8 496.2,319.8 495.2,319.8 494.2,319.8 493.2,319.8 492.2,319.8 491.2,319.8 490.2,319.8 489.2,319.8 488.2,319.7 487.2,319.7 486.2,319.7 485.2,319.7 484.2,319.7 483.2,319.7 482.2,319.7 481.2,319.7 480.2,319.7 479.2,319.7 478.2,319.7 477.2,319.7 476.2,319.7 475.2,319.7 474.2,319.6 473.2,319.6 472.2,319.6" fill="#9cd3b2" stroke="none" />
<polyline points="326,318.6 552.3,320.2" fill="none" stroke="#7d7d7d" stroke-width="1.6" stroke-linejoin="round" />
<path d="M331.4,315.2a2.8,2.8 0 1 0 -5.6,0a2.8,2.8 0 1 0 5.6,0M334.7,314.4a2.8,2.8 0 1 0 -5.6,0a2.8,2.8 0 1 0 5.6,0M338.4,315.1a2.8,2.8 0 1 0 -5.6,0a2.8,2.8 0 1 0 5.6,0M341.3,315.4a2.8,2.8 0 1 0 -5.6,0a2.8,2.8 0 1 0 5.6,0M344.8,315.7a2.8,2.8 0 1 0 -5.6,0a2.8,2.8 0 1 0 5.6,0M348.4,314.2a2.8,2.8 0 1 0 -5.6,0a2.8,2.8 0 1 0 5.6,0M351.8,313.1a2.8,2.8 0 1 0 -5.6,0a2.8,2.8 0 1 0 5.6,0M354.7,312.4a2.8,2.8 0 1 0 -5.6,0a2.8,2.8 0 1 0 5.6,0M358.9,313.2a2.8,2.8 0 1 0 -5.6,0a2.8,2.8 0 1 0 5.6,0M361.3,313.1a2.8,2.8 0 1 0 -5.6,0a2.8,2.8 0 1 0 5.6,0M364.7,310.4a2.8,2.8 0 1 0 -5.6,0a2.8,2.8 0 1 0 5.6,0M368.1,307.2a2.8,2.8 0 1 0 -5.6,0a2.8,2.8 0 1 0 5.6,0M372.6,305.4a2.8,2.8 0 1 0 -5.6,0a2.8,2.8 0 1 0 5.6,0M375.3,305.1a2.8,2.8 0 1 0 -5.6,0a2.8,2.8 0 1 0 5.6,0M378.4,299.4a2.8,2.8 0 1 0 -5.6,0a2.8,2.8 0 1 0 5.6,0M381.7,291.5a2.8,2.8 0 1 0 -5.6,0a2.8,2.8 0 1 0 5.6,0M385.9,286.4a2.8,2.8 0 1 0 -5.6,0a2.8,2.8 0 1 0 5.6,0M388.6,278.9a2.8,2.8 0 1 0 -5.6,0a2.8,2.8 0 1 0 5.6,0M391.9,273.7a2.8,2.8 0 1 0 -5.6,0a2.8,2.8 0 1 0 5.6,0M396.2,268.6a2.8,2.8 0 1 0 -5.6,0a2.8,2.8 0 1 0 5.6,0M398.7,263.8a2.8,2.8 0 1 0 -5.6,0a2.8,2.8 0 1 0 5.6,0M402.5,261.6a2.8,2.8 0 1 0 -5.6,0a2.8,2.8 0 1 0 5.6,0M406.1,258.5a2.8,2.8 0 1 0 -5.6,0a2.8,2.8 0 1 0 5.6,0M409.3,256.4a2.8,2.8 0 1 0 -5.6,0a2.8,2.8 0 1 0 5.6,0M412.9,257.4a2.8,2.8 0 1 0 -5.6,0a2.8,2.8 0 1 0 5.6,0M417.0,259.2a2.8,2.8 0 1 0 -5.6,0a2.8,2.8 0 1 0 5.6,0M419.4,259.0a2.8,2.8 0 1 0 -5.6,0a2.8,2.8 0 1 0 5.6,0M422.5,264.0a2.8,2.8 0 1 0 -5.6,0a2.8,2.8 0 1 0 5.6,0M425.6,268.2a2.8,2.8 0 1 0 -5.6,0a2.8,2.8 0 1 0 5.6,0M429.8,274.6a2.8,2.8 0 1 0 -5.6,0a2.8,2.8 0 1 0 5.6,0M433.1,280.0a2.8,2.8 0 1 0 -5.6,0a2.8,2.8 0 1 0 5.6,0M436.8,288.1a2.8,2.8 0 1 0 -5.6,0a2.8,2.8 0 1 0 5.6,0M439.9,294.5a2.8,2.8 0 1 0 -5.6,0a2.8,2.8 0 1 0 5.6,0M443.3,299.7a2.8,2.8 0 1 0 -5.6,0a2.8,2.8 0 1 0 5.6,0M446.5,303.1a2.8,2.8 0 1 0 -5.6,0a2.8,2.8 0 1 0 5.6,0M450.0,306.7a2.8,2.8 0 1 0 -5.6,0a2.8,2.8 0 1 0 5.6,0M453.8,308.3a2.8,2.8 0 1 0 -5.6,0a2.8,2.8 0 1 0 5.6,0M456.9,309.6a2.8,2.8 0 1 0 -5.6,0a2.8,2.8 0 1 0 5.6,0M460.6,312.2a2.8,2.8 0 1 0 -5.6,0a2.8,2.8 0 1 0 5.6,0M464.9,311.2a2.8,2.8 0 1 0 -5.6,0a2.8,2.8 0 1 0 5.6,0M467.5,313.2a2.8,2.8 0 1 0 -5.6,0a2.8,2.8 0 1 0 5.6,0M469.9,312.3a2.8,2.8 0 1 0 -5.6,0a2.8,2.8 0 1 0 5.6,0M475.0,309.3a2.8,2.8 0 1 0 -5.6,0a2.8,2.8 0 1 0 5.6,0M477.7,311.3a2.8,2.8 0 1 0 -5.6,0a2.8,2.8 0 1 0 5.6,0M480.4,309.0a2.8,2.8 0 1 0 -5.6,0a2.8,2.8 0 1 0 5.6,0M484.8,309.0a2.8,2.8 0 1 0 -5.6,0a2.8,2.8 0 1 0 5.6,0M487.7,306.9a2.8,2.8 0 1 0 -5.6,0a2.8,2.8 0 1 0 5.6,0M490.8,302.1a2.8,2.8 0 1 0 -5.6,0a2.8,2.8 0 1 0 5.6,0M494.2,302.9a2.8,2.8 0 1 0 -5.6,0a2.8,2.8 0 1 0 5.6,0M497.4,304.5a2.8,2.8 0 1 0 -5.6,0a2.8,2.8 0 1 0 5.6,0M501.3,306.2a2.8,2.8 0 1 0 -5.6,0a2.8,2.8 0 1 0 5.6,0M505.2,301.9a2.8,2.8 0 1 0 -5.6,0a2.8,2.8 0 1 0 5.6,0M507.9,302.2a2.8,2.8 0 1 0 -5.6,0a2.8,2.8 0 1 0 5.6,0M511.7,302.8a2.8,2.8 0 1 0 -5.6,0a2.8,2.8 0 1 0 5.6,0M515.8,308.2a2.8,2.8 0 1 0 -5.6,0a2.8,2.8 0 1 0 5.6,0M517.7,311.5a2.8,2.8 0 1 0 -5.6,0a2.8,2.8 0 1 0 5.6,0M521.8,316.5a2.8,2.8 0 1 0 -5.6,0a2.8,2.8 0 1 0 5.6,0M524.9,317.1a2.8,2.8 0 1 0 -5.6,0a2.8,2.8 0 1 0 5.6,0M528.0,319.8a2.8,2.8 0 1 0 -5.6,0a2.8,2.8 0 1 0 5.6,0M531.4,318.7a2.8,2.8 0 1 0 -5.6,0a2.8,2.8 0 1 0 5.6,0M535.3,319.5a2.8,2.8 0 1 0 -5.6,0a2.8,2.8 0 1 0 5.6,0M538.9,319.9a2.8,2.8 0 1 0 -5.6,0a2.8,2.8 0 1 0 5.6,0M541.8,318.6a2.8,2.8 0 1 0 -5.6,0a2.8,2.8 0 1 0 5.6,0M545.5,319.2a2.8,2.8 0 1 0 -5.6,0a2.8,2.8 0 1 0 5.6,0M549.3,320.7a2.8,2.8 0 1 0 -5.6,0a2.8,2.8 0 1 0 5.6,0M552.4,319.1a2.8,2.8 0 1 0 -5.6,0a2.8,2.8 0 1 0 5.6,0" fill="none" stroke="#a4a4a4" stroke-width="0.7"/>
<polyline points="326.7,316.2 327.2,316.1 327.7,316.1 328.2,316.1 328.7,316 329.2,316 329.7,315.9 330.2,315.9 330.7,315.9 331.2,315.8 331.7,315.8 332.2,315.7 332.7,315.7 333.2,315.6 333.7,315.6 334.2,315.5 334.7,315.5 335.2,315.4 335.7,315.4 336.2,315.3 336.7,315.3 337.2,315.2 337.7,315.2 338.2,315.1 338.7,315.1 339.2,315 339.7,315 340.2,314.9 340.7,314.9 341.2,314.8 341.7,314.7 342.2,314.7 342.7,314.6 343.2,314.6 343.7,314.5 344.2,314.4 344.7,314.4 345.2,314.3 345.7,314.2 346.2,314.2 346.7,314.1 347.2,314 347.7,314 348.2,313.9 348.7,313.9 349.2,313.8 349.7,313.8 350.2,313.7 350.7,313.6 351.2,313.6 351.7,313.5 352.2,313.5 352.7,313.4 353.2,313.3 353.7,313.2 354.2,313.2 354.7,313.1 355.2,313 355.7,312.9 356.2,312.8 356.7,312.7 357.2,312.6 357.7,312.5 358.2,312.4 358.7,312.3 359.2,312.2 359.7,312.1 360.2,311.9 360.7,311.8 361.2,311.6 361.7,311.5 362.2,311.3 362.7,311.2 363.2,311 363.7,310.8 364.2,310.7 364.7,310.5 365.2,310.3 365.7,310 366.2,309.8 366.7,309.6 367.2,309.4 367.7,309.1 368.2,308.9 368.7,308.7 369.2,308.4 369.7,308.2 370.2,307.9 370.7,307.7 371.2,307.4 371.7,307.1 372.2,306.8 372.7,306.5 373.2,306.2 373.7,305.9 374.2,305.5 374.7,305.2 375.2,304.8 375.7,304.4 376.2,304 376.7,303.6 377.2,303.1 377.7,302.6 378.2,302.1 378.7,301.6 379.2,301 379.7,300.3 380.2,299.6 380.7,298.9 381.2,298.1 381.7,297.3 382.2,296.5 382.7,295.6 383.2,294.8 383.7,293.9 384.2,293 384.7,292.1 385.2,291.2 385.7,290.3 386.2,289.3 386.7,288.3 387.2,287.3 387.7,286.4 388.2,285.4 388.7,284.4 389.2,283.4 389.7,282.4 390.2,281.5 390.7,280.6 391.2,279.7 391.7,278.8 392.2,277.9 392.7,277 393.2,276.1 393.7,275.2 394.2,274.3 394.7,273.4 395.2,272.6 395.7,271.7 396.2,270.8 396.7,269.9 397.2,269.1 397.7,268.2 398.2,267.4 398.7,266.5 399.2,265.7 399.7,264.9 400.2,264.2 400.7,263.4 401.2,262.6 401.7,261.9 402.2,261.2 402.7,260.6 403.2,259.9 403.7,259.4 404.2,258.8 404.7,258.4 405.2,258 405.7,257.6 406.2,257.3 406.7,257 407.2,256.8 407.7,256.7 408.2,256.6 408.7,256.6 409.2,256.7 409.7,256.8 410.2,257 410.7,257.3 411.2,257.6 411.7,257.9 412.2,258.4 412.7,258.9 413.2,259.4 413.7,260 414.2,260.6 414.7,261.3 415.2,262 415.7,262.7 416.2,263.4 416.7,264.2 417.2,265 417.7,265.9 418.2,266.7 418.7,267.6 419.2,268.5 419.7,269.4 420.2,270.3 420.7,271.2 421.2,272.2 421.7,273.1 422.2,274.1 422.7,275.1 423.2,276 423.7,277 424.2,278 424.7,279.1 425.2,280.1 425.7,281.1 426.2,282.2 426.7,283.2 427.2,284.2 427.7,285.2 428.2,286.2 428.7,287.2 429.2,288.2 429.7,289.1 430.2,290.1 430.7,291 431.2,291.9 431.7,292.8 432.2,293.6 432.7,294.5 433.2,295.3 433.7,296.1 434.2,296.9 434.7,297.7 435.2,298.4 435.7,299.1 436.2,299.8 436.7,300.5 437.2,301.1 437.7,301.6 438.2,302.2 438.7,302.7 439.2,303.2 439.7,303.7 440.2,304.2 440.7,304.6 441.2,305 441.7,305.5 442.2,305.9 442.7,306.2 443.2,306.6 443.7,307 444.2,307.3 444.7,307.6 445.2,308 445.7,308.3 446.2,308.6 446.7,308.8 447.2,309.1 447.7,309.3 448.2,309.6 448.7,309.8 449.2,310 449.7,310.3 450.2,310.5 450.7,310.6 451.2,310.8 451.7,311 452.2,311.2 452.7,311.3 453.2,311.5 453.7,311.6 454.2,311.8 454.7,311.9 455.2,312 455.7,312.1 456.2,312.2 456.7,312.3 457.2,312.3 457.7,312.3 458.2,312.4 458.7,312.4 459.2,312.3 459.7,312.3 460.2,312.3 460.7,312.3 461.2,312.2 461.7,312.2 462.2,312.1 462.7,312.1 463.2,312 463.7,312 464.2,311.9 464.7,311.8 465.2,311.8 465.7,311.7 466.2,311.6 466.7,311.6 467.2,311.5 467.7,311.4 468.2,311.4 468.7,311.4 469.2,311.3 469.7,311.3 470.2,311.3 470.7,311.3 471.2,311.3 471.7,311.2 472.2,311.2 472.7,311.2 473.2,311.1 473.7,311.1 474.2,311 474.7,310.9 475.2,310.8 475.7,310.7 476.2,310.6 476.7,310.4 477.2,310.2 477.7,310 478.2,309.8 478.7,309.6 479.2,309.5 479.7,309.3 480.2,309.2 480.7,309 481.2,308.9 481.7,308.7 482.2,308.4 482.7,308.1 483.2,307.8 483.7,307.4 484.2,307.1 484.7,306.6 485.2,306.2 485.7,305.7 486.2,305.3 486.7,304.9 487.2,304.5 487.7,304.1 488.2,303.8 488.7,303.5 489.2,303.3 489.7,303.1 490.2,303 490.7,302.9 491.2,302.9 491.7,303 492.2,303.2 492.7,303.4 493.2,303.7 493.7,304 494.2,304.4 494.7,304.7 495.2,305 495.7,305.2 496.2,305.4 496.7,305.5 497.2,305.6 497.7,305.5 498.2,305.4 498.7,305.2 499.2,305 499.7,304.7 500.2,304.3 500.7,304 501.2,303.5 501.7,303.1 502.2,302.7 502.7,302.3 503.2,302 503.7,301.7 504.2,301.5 504.7,301.4 505.2,301.4 505.7,301.4 506.2,301.6 506.7,301.9 507.2,302.3 507.7,302.8 508.2,303.4 508.7,304 509.2,304.7 509.7,305.4 510.2,306.1 510.7,306.8 511.2,307.5 511.7,308.1 512.2,308.8 512.7,309.4 513.2,310 513.7,310.6 514.2,311.1 514.7,311.6 515.2,312.2 515.7,312.6 516.2,313.1 516.7,313.6 517.2,314 517.7,314.3 518.2,314.7 518.7,315 519.2,315.3 519.7,315.5 520.2,315.7 520.7,315.9 521.2,316.1 521.7,316.3 522.2,316.5 522.7,316.6 523.2,316.8 523.7,316.9 524.2,317 524.7,317.2 525.2,317.3 525.7,317.4 526.2,317.5 526.7,317.6 527.2,317.7 527.7,317.8 528.2,317.9 528.7,318 529.2,318 529.7,318.1 530.2,318.2 530.7,318.3 531.2,318.4 531.7,318.5 532.2,318.6 532.7,318.7 533.2,318.7 533.7,318.8 534.2,318.9 534.7,318.9 535.2,319 535.7,319 536.2,319.1 536.7,319.1 537.2,319.1 537.7,319.1 538.2,319.1 538.7,319.1 539.2,319.2 539.7,319.2 540.2,319.2 540.7,319.2 541.2,319.2 541.7,319.2 542.2,319.3 542.7,319.3 543.2,319.3 543.7,319.3 544.2,319.3 544.7,319.3 545.2,319.3 545.7,319.4 546.2,319.4 546.7,319.4 547.2,319.4 547.7,319.4 548.2,319.4 548.7,319.4 549.2,319.4 549.7,319.5 550.2,319.5 550.7,319.5 551.2,319.5" fill="none" stroke="#3c3c3c" stroke-width="1.9" stroke-linejoin="round" />
<polygon points="326.7,397.8 327.7,397.8 328.7,397.7 329.7,397.7 330.7,397.6 331.7,397.5 332.7,397.5 333.7,397.4 334.7,397.3 335.7,397.3 336.7,397.2 337.7,397.1 338.7,397 339.7,396.9 340.7,396.8 341.7,396.7 342.7,396.6 343.7,396.5 344.7,396.3 345.7,396.2 346.7,396.1 347.7,395.9 348.7,395.8 349.7,395.6 350.7,395.4 351.7,395.2 352.7,395 353.7,394.8 354.7,394.5 355.7,394.3 356.7,394 357.7,393.7 358.7,393.4 359.7,393 360.7,392.6 361.7,392.2 362.7,391.8 363.7,391.3 364.7,390.8 365.7,390.3 366.7,389.7 367.7,389.1 368.7,388.5 369.7,387.8 370.7,387 371.7,386.2 372.7,385.4 373.7,384.5 374.7,383.6 375.7,382.6 376.7,381.5 377.7,380.4 378.7,379.3 379.7,378.1 380.7,376.8 381.7,375.5 382.7,374.2 383.7,372.8 384.7,371.3 385.7,369.8 386.7,368.3 387.7,366.7 388.7,365.1 389.7,363.5 390.7,361.8 391.7,360.1 392.7,358.5 393.7,356.8 394.7,355.2 395.7,353.6 396.7,352 397.7,350.5 398.7,349.1 399.7,347.7 400.7,346.5 401.7,345.3 402.7,344.3 403.7,343.5 404.7,342.8 405.7,342.3 406.7,342 407.7,341.9 408.7,341.9 409.7,342.2 410.7,342.6 411.7,343.2 412.7,343.9 413.7,344.8 414.7,345.8 415.7,346.9 416.7,348.2 417.7,349.5 418.7,350.9 419.7,352.4 420.7,354 421.7,355.5 422.7,357.1 423.7,358.8 424.7,360.4 425.7,362 426.7,363.6 427.7,365.2 428.7,366.8 429.7,368.3 430.7,369.8 431.7,371.3 432.7,372.7 433.7,374.1 434.7,375.4 435.7,376.7 436.7,377.9 437.7,379.1 438.7,380.2 439.7,381.3 440.7,382.3 441.7,383.3 442.7,384.3 443.7,385.1 444.7,386 445.7,386.8 446.7,387.5 447.7,388.2 448.7,388.9 449.7,389.5 450.7,390.1 451.7,390.6 452.7,391.2 453.7,391.6 454.7,392.1 455.7,392.5 456.7,392.9 457.7,393.3 458.7,393.6 459.7,393.9 460.7,394.2 461.7,394.5 462.7,394.8 463.7,395 464.7,395.2 465.7,395.4 466.7,395.6 467.7,395.8 468.7,396 469.7,396.1 470.7,396.3 471.7,396.4 472.7,396.6 473.7,396.7 474.7,396.8 475.7,396.9 476.7,397.1 477.7,397.2 478.7,397.3 479.7,397.3 480.7,397.4 481.7,397.5 482.7,397.6 483.7,397.7 484.7,397.8 485.7,397.8 486.7,397.9 487.7,398 488.7,398 489.7,398.1 490.7,398.2 491.7,398.2 492.7,398.3 493.7,398.3 494.7,398.4 495.7,398.4 496.7,398.5 497.7,398.5 498.7,398.6 499.7,398.6 500.7,398.7 501.7,398.7 502.7,398.7 503.7,398.8 504.7,398.8 505.7,398.9 506.7,398.9 507.7,398.9 508.7,399 509.7,399 510.7,399 511.7,399.1 512.7,399.1 513.7,399.1 514.7,399.2 515.7,399.2 516.7,399.2 517.7,399.3 518.7,399.3 519.7,399.3 520.7,399.3 521.7,399.4 522.7,399.4 523.7,399.4 524.7,399.4 525.7,399.5 526.7,399.5 527.7,399.5 528.7,399.5 529.7,399.5 530.7,399.6 531.7,399.6 532.7,399.6 533.7,399.6 534.7,399.6 535.7,399.7 536.7,399.7 537.7,399.7 538.7,399.7 539.7,399.7 540.7,399.8 541.7,399.8 542.7,399.8 543.7,399.8 544.7,399.8 545.7,399.8 546.7,399.9 547.7,399.9 548.7,399.9 549.7,399.9 550.7,399.9 551.2,399.9 551.2,400.8 550.7,400.8 549.7,400.8 548.7,400.8 547.7,400.8 546.7,400.8 545.7,400.8 544.7,400.8 543.7,400.8 542.7,400.8 541.7,400.8 540.7,400.8 539.7,400.8 538.7,400.8 537.7,400.8 536.7,400.8 535.7,400.8 534.7,400.8 533.7,400.8 532.7,400.8 531.7,400.8 530.7,400.8 529.7,400.8 528.7,400.7 527.7,400.7 526.7,400.7 525.7,400.7 524.7,400.7 523.7,400.7 522.7,400.7 521.7,400.7 520.7,400.7 519.7,400.7 518.7,400.7 517.7,400.7 516.7,400.7 515.7,400.7 514.7,400.7 513.7,400.7 512.7,400.7 511.7,400.7 510.7,400.7 509.7,400.7 508.7,400.7 507.7,400.7 506.7,400.7 505.7,400.7 504.7,400.7 503.7,400.7 502.7,400.7 501.7,400.7 500.7,400.7 499.7,400.7 498.7,400.7 497.7,400.7 496.7,400.7 495.7,400.7 494.7,400.7 493.7,400.7 492.7,400.7 491.7,400.7 490.7,400.7 489.7,400.7 488.7,400.7 487.7,400.7 486.7,400.7 485.7,400.7 484.7,400.7 483.7,400.6 482.7,400.6 481.7,400.6 480.7,400.6 479.7,400.6 478.7,400.6 477.7,400.6 476.7,400.6 475.7,400.6 474.7,400.6 473.7,400.6 472.7,400.6 471.7,400.6 470.7,400.6 469.7,400.6 468.7,400.6 467.7,400.6 466.7,400.6 465.7,400.6 464.7,400.6 463.7,400.6 462.7,400.6 461.7,400.6 460.7,400.6 459.7,400.6 458.7,400.6 457.7,400.6 456.7,400.6 455.7,400.6 454.7,400.6 453.7,400.6 452.7,400.6 451.7,400.6 450.7,400.6 449.7,400.6 448.7,400.6 447.7,400.6 446.7,400.6 445.7,400.6 444.7,400.6 443.7,400.6 442.7,400.6 441.7,400.6 440.7,400.6 439.7,400.6 438.7,400.5 437.7,400.5 436.7,400.5 435.7,400.5 434.7,400.5 433.7,400.5 432.7,400.5 431.7,400.5 430.7,400.5 429.7,400.5 428.7,400.5 427.7,400.5 426.7,400.5 425.7,400.5 424.7,400.5 423.7,400.5 422.7,400.5 421.7,400.5 420.7,400.5 419.7,400.5 418.7,400.5 417.7,400.5 416.7,400.5 415.7,400.5 414.7,400.5 413.7,400.5 412.7,400.5 411.7,400.5 410.7,400.5 409.7,400.5 408.7,400.5 407.7,400.5 406.7,400.5 405.7,400.5 404.7,400.5 403.7,400.5 402.7,400.5 401.7,400.5 400.7,400.5 399.7,400.5 398.7,400.5 397.7,400.5 396.7,400.5 395.7,400.5 394.7,400.5 393.7,400.4 392.7,400.4 391.7,400.4 390.7,400.4 389.7,400.4 388.7,400.4 387.7,400.4 386.7,400.4 385.7,400.4 384.7,400.4 383.7,400.4 382.7,400.4 381.7,400.4 380.7,400.4 379.7,400.4 378.7,400.4 377.7,400.4 376.7,400.4 375.7,400.4 374.7,400.4 373.7,400.4 372.7,400.4 371.7,400.4 370.7,400.4 369.7,400.4 368.7,400.4 367.7,400.4 366.7,400.4 365.7,400.4 364.7,400.4 363.7,400.4 362.7,400.4 361.7,400.4 360.7,400.4 359.7,400.4 358.7,400.4 357.7,400.4 356.7,400.4 355.7,400.4 354.7,400.4 353.7,400.4 352.7,400.4 351.7,400.4 350.7,400.4 349.7,400.4 348.7,400.4 347.7,400.3 346.7,400.3 345.7,400.3 344.7,400.3 343.7,400.3 342.7,400.3 341.7,400.3 340.7,400.3 339.7,400.3 338.7,400.3 337.7,400.3 336.7,400.3 335.7,400.3 334.7,400.3 333.7,400.3 332.7,400.3 331.7,400.3 330.7,400.3 329.7,400.3 328.7,400.3 327.7,400.3 326.7,400.3" fill="#f0999e" stroke="none" />
<polygon points="460.7,400.5 461.7,400.5 462.7,400.5 463.7,400.5 464.7,400.5 465.7,400.5 466.7,400.4 467.7,400.4 468.7,400.4 469.7,400.4 470.7,400.4 471.7,400.3 472.7,400.3 473.7,400.2 474.7,400 475.7,399.8 476.7,399.6 477.7,399.2 478.7,398.7 479.7,398.1 480.7,397.4 481.7,396.5 482.7,395.5 483.7,394.4 484.7,393.3 485.7,392.2 486.7,391.3 487.7,390.7 488.7,390.3 489.7,390.3 490.7,390.7 491.7,391.4 492.7,392.3 493.7,393.3 494.7,394.4 495.7,395.5 496.7,396.5 497.7,397.4 498.7,398.1 499.7,398.8 500.7,399.3 501.7,399.6 502.7,399.9 503.7,400.1 504.7,400.2 505.7,400.3 506.7,400.4 507.7,400.4 508.7,400.5 509.7,400.5 510.7,400.5 511.7,400.5 512.7,400.6 513.7,400.6 514.7,400.6 515.7,400.6 516.7,400.6 517.7,400.6 517.7,400.7 516.7,400.7 515.7,400.7 514.7,400.7 513.7,400.7 512.7,400.7 511.7,400.7 510.7,400.7 509.7,400.7 508.7,400.7 507.7,400.7 506.7,400.7 505.7,400.7 504.7,400.7 503.7,400.7 502.7,400.7 501.7,400.7 500.7,400.7 499.7,400.7 498.7,400.7 497.7,400.7 496.7,400.7 495.7,400.7 494.7,400.7 493.7,400.7 492.7,400.7 491.7,400.7 490.7,400.7 489.7,400.7 488.7,400.7 487.7,400.7 486.7,400.7 485.7,400.7 484.7,400.7 483.7,400.6 482.7,400.6 481.7,400.6 480.7,400.6 479.7,400.6 478.7,400.6 477.7,400.6 476.7,400.6 475.7,400.6 474.7,400.6 473.7,400.6 472.7,400.6 471.7,400.6 470.7,400.6 469.7,400.6 468.7,400.6 467.7,400.6 466.7,400.6 465.7,400.6 464.7,400.6 463.7,400.6 462.7,400.6 461.7,400.6 460.7,400.6" fill="#f7d676" stroke="none" />
<polygon points="474.2,400.5 475.2,400.5 476.2,400.5 477.2,400.5 478.2,400.5 479.2,400.5 480.2,400.5 481.2,400.5 482.2,400.5 483.2,400.4 484.2,400.4 485.2,400.4 486.2,400.4 487.2,400.3 488.2,400.2 489.2,400.1 490.2,400 491.2,399.8 492.2,399.5 493.2,399 494.2,398.5 495.2,397.8 496.2,396.9 497.2,395.9 498.2,394.8 499.2,393.6 500.2,392.3 501.2,391.2 502.2,390.1 503.2,389.4 504.2,388.9 505.2,388.9 506.2,389.4 507.2,390.1 508.2,391.2 509.2,392.4 510.2,393.6 511.2,394.8 512.2,396 513.2,397 514.2,397.8 515.2,398.5 516.2,399.1 517.2,399.5 518.2,399.8 519.2,400 520.2,400.2 521.2,400.3 522.2,400.4 523.2,400.4 524.2,400.5 525.2,400.5 526.2,400.5 527.2,400.6 528.2,400.6 529.2,400.6 530.2,400.6 531.2,400.6 532.2,400.6 533.2,400.6 534.2,400.7 535.2,400.7 535.2,400.8 534.2,400.8 533.2,400.8 532.2,400.8 531.2,400.8 530.2,400.8 529.2,400.7 528.2,400.7 527.2,400.7 526.2,400.7 525.2,400.7 524.2,400.7 523.2,400.7 522.2,400.7 521.2,400.7 520.2,400.7 519.2,400.7 518.2,400.7 517.2,400.7 516.2,400.7 515.2,400.7 514.2,400.7 513.2,400.7 512.2,400.7 511.2,400.7 510.2,400.7 509.2,400.7 508.2,400.7 507.2,400.7 506.2,400.7 505.2,400.7 504.2,400.7 503.2,400.7 502.2,400.7 501.2,400.7 500.2,400.7 499.2,400.7 498.2,400.7 497.2,400.7 496.2,400.7 495.2,400.7 494.2,400.7 493.2,400.7 492.2,400.7 491.2,400.7 490.2,400.7 489.2,400.7 488.2,400.7 487.2,400.7 486.2,400.7 485.2,400.7 484.2,400.6 483.2,400.6 482.2,400.6 481.2,400.6 480.2,400.6 479.2,400.6 478.2,400.6 477.2,400.6 476.2,400.6 475.2,400.6 474.2,400.6" fill="#9cd3b2" stroke="none" />
<polyline points="326,400.3 552.3,400.8" fill="none" stroke="#7d7d7d" stroke-width="1.6" stroke-linejoin="round" />
<path d="M330.4,398.4a2.8,2.8 0 1 0 -5.6,0a2.8,2.8 0 1 0 5.6,0M334.9,398.8a2.8,2.8 0 1 0 -5.6,0a2.8,2.8 0 1 0 5.6,0M338.2,394.1a2.8,2.8 0 1 0 -5.6,0a2.8,2.8 0 1 0 5.6,0M341.2,396.2a2.8,2.8 0 1 0 -5.6,0a2.8,2.8 0 1 0 5.6,0M344.4,396.9a2.8,2.8 0 1 0 -5.6,0a2.8,2.8 0 1 0 5.6,0M348.3,396.6a2.8,2.8 0 1 0 -5.6,0a2.8,2.8 0 1 0 5.6,0M351.5,395.3a2.8,2.8 0 1 0 -5.6,0a2.8,2.8 0 1 0 5.6,0M355.1,395.5a2.8,2.8 0 1 0 -5.6,0a2.8,2.8 0 1 0 5.6,0M358.0,393.6a2.8,2.8 0 1 0 -5.6,0a2.8,2.8 0 1 0 5.6,0M362.2,392.8a2.8,2.8 0 1 0 -5.6,0a2.8,2.8 0 1 0 5.6,0M364.8,391.0a2.8,2.8 0 1 0 -5.6,0a2.8,2.8 0 1 0 5.6,0M368.5,387.7a2.8,2.8 0 1 0 -5.6,0a2.8,2.8 0 1 0 5.6,0M371.9,385.0a2.8,2.8 0 1 0 -5.6,0a2.8,2.8 0 1 0 5.6,0M376.1,382.5a2.8,2.8 0 1 0 -5.6,0a2.8,2.8 0 1 0 5.6,0M378.2,377.1a2.8,2.8 0 1 0 -5.6,0a2.8,2.8 0 1 0 5.6,0M382.1,373.8a2.8,2.8 0 1 0 -5.6,0a2.8,2.8 0 1 0 5.6,0M386.3,368.0a2.8,2.8 0 1 0 -5.6,0a2.8,2.8 0 1 0 5.6,0M388.8,362.6a2.8,2.8 0 1 0 -5.6,0a2.8,2.8 0 1 0 5.6,0M391.9,355.3a2.8,2.8 0 1 0 -5.6,0a2.8,2.8 0 1 0 5.6,0M396.0,352.1a2.8,2.8 0 1 0 -5.6,0a2.8,2.8 0 1 0 5.6,0M399.2,346.2a2.8,2.8 0 1 0 -5.6,0a2.8,2.8 0 1 0 5.6,0M403.1,343.9a2.8,2.8 0 1 0 -5.6,0a2.8,2.8 0 1 0 5.6,0M405.6,343.5a2.8,2.8 0 1 0 -5.6,0a2.8,2.8 0 1 0 5.6,0M409.6,343.0a2.8,2.8 0 1 0 -5.6,0a2.8,2.8 0 1 0 5.6,0M413.2,341.4a2.8,2.8 0 1 0 -5.6,0a2.8,2.8 0 1 0 5.6,0M416.8,342.3a2.8,2.8 0 1 0 -5.6,0a2.8,2.8 0 1 0 5.6,0M419.1,346.1a2.8,2.8 0 1 0 -5.6,0a2.8,2.8 0 1 0 5.6,0M423.8,347.3a2.8,2.8 0 1 0 -5.6,0a2.8,2.8 0 1 0 5.6,0M426.0,353.0a2.8,2.8 0 1 0 -5.6,0a2.8,2.8 0 1 0 5.6,0M429.1,356.8a2.8,2.8 0 1 0 -5.6,0a2.8,2.8 0 1 0 5.6,0M432.8,361.9a2.8,2.8 0 1 0 -5.6,0a2.8,2.8 0 1 0 5.6,0M436.8,367.2a2.8,2.8 0 1 0 -5.6,0a2.8,2.8 0 1 0 5.6,0M439.9,373.5a2.8,2.8 0 1 0 -5.6,0a2.8,2.8 0 1 0 5.6,0M443.7,377.8a2.8,2.8 0 1 0 -5.6,0a2.8,2.8 0 1 0 5.6,0M447.1,383.7a2.8,2.8 0 1 0 -5.6,0a2.8,2.8 0 1 0 5.6,0M450.5,385.6a2.8,2.8 0 1 0 -5.6,0a2.8,2.8 0 1 0 5.6,0M453.6,388.6a2.8,2.8 0 1 0 -5.6,0a2.8,2.8 0 1 0 5.6,0M458.0,390.1a2.8,2.8 0 1 0 -5.6,0a2.8,2.8 0 1 0 5.6,0M459.4,392.9a2.8,2.8 0 1 0 -5.6,0a2.8,2.8 0 1 0 5.6,0M463.0,393.5a2.8,2.8 0 1 0 -5.6,0a2.8,2.8 0 1 0 5.6,0M467.0,393.3a2.8,2.8 0 1 0 -5.6,0a2.8,2.8 0 1 0 5.6,0M470.1,396.6a2.8,2.8 0 1 0 -5.6,0a2.8,2.8 0 1 0 5.6,0M472.8,394.3a2.8,2.8 0 1 0 -5.6,0a2.8,2.8 0 1 0 5.6,0M477.1,394.1a2.8,2.8 0 1 0 -5.6,0a2.8,2.8 0 1 0 5.6,0M480.5,393.5a2.8,2.8 0 1 0 -5.6,0a2.8,2.8 0 1 0 5.6,0M483.1,393.0a2.8,2.8 0 1 0 -5.6,0a2.8,2.8 0 1 0 5.6,0M488.1,388.3a2.8,2.8 0 1 0 -5.6,0a2.8,2.8 0 1 0 5.6,0M491.7,386.8a2.8,2.8 0 1 0 -5.6,0a2.8,2.8 0 1 0 5.6,0M495.1,386.2a2.8,2.8 0 1 0 -5.6,0a2.8,2.8 0 1 0 5.6,0M497.6,385.9a2.8,2.8 0 1 0 -5.6,0a2.8,2.8 0 1 0 5.6,0M501.4,388.1a2.8,2.8 0 1 0 -5.6,0a2.8,2.8 0 1 0 5.6,0M504.1,386.6a2.8,2.8 0 1 0 -5.6,0a2.8,2.8 0 1 0 5.6,0M508.2,384.8a2.8,2.8 0 1 0 -5.6,0a2.8,2.8 0 1 0 5.6,0M511.2,387.9a2.8,2.8 0 1 0 -5.6,0a2.8,2.8 0 1 0 5.6,0M515.1,390.5a2.8,2.8 0 1 0 -5.6,0a2.8,2.8 0 1 0 5.6,0M518.1,393.4a2.8,2.8 0 1 0 -5.6,0a2.8,2.8 0 1 0 5.6,0M522.2,396.6a2.8,2.8 0 1 0 -5.6,0a2.8,2.8 0 1 0 5.6,0M525.5,398.8a2.8,2.8 0 1 0 -5.6,0a2.8,2.8 0 1 0 5.6,0M529.1,398.4a2.8,2.8 0 1 0 -5.6,0a2.8,2.8 0 1 0 5.6,0M531.1,399.7a2.8,2.8 0 1 0 -5.6,0a2.8,2.8 0 1 0 5.6,0M534.4,400.8a2.8,2.8 0 1 0 -5.6,0a2.8,2.8 0 1 0 5.6,0M538.9,400.2a2.8,2.8 0 1 0 -5.6,0a2.8,2.8 0 1 0 5.6,0M541.8,401.0a2.8,2.8 0 1 0 -5.6,0a2.8,2.8 0 1 0 5.6,0M545.7,402.1a2.8,2.8 0 1 0 -5.6,0a2.8,2.8 0 1 0 5.6,0M549.0,399.7a2.8,2.8 0 1 0 -5.6,0a2.8,2.8 0 1 0 5.6,0M552.4,402.0a2.8,2.8 0 1 0 -5.6,0a2.8,2.8 0 1 0 5.6,0" fill="none" stroke="#a4a4a4" stroke-width="0.7"/>
<polyline points="326.7,397.5 327.2,397.4 327.7,397.4 328.2,397.4 328.7,397.3 329.2,397.3 329.7,397.3 330.2,397.2 330.7,397.2 331.2,397.1 331.7,397.1 332.2,397 332.7,397 333.2,397 333.7,396.9 334.2,396.9 334.7,396.8 335.2,396.8 335.7,396.7 336.2,396.7 336.7,396.6 337.2,396.6 337.7,396.5 338.2,396.5 338.7,396.4 339.2,396.3 339.7,396.3 340.2,396.2 340.7,396.2 341.2,396.1 341.7,396 342.2,396 342.7,395.9 343.2,395.8 343.7,395.8 344.2,395.7 344.7,395.6 345.2,395.5 345.7,395.5 346.2,395.4 346.7,395.3 347.2,395.2 347.7,395.1 348.2,395 348.7,395 349.2,394.9 349.7,394.8 350.2,394.7 350.7,394.6 351.2,394.5 351.7,394.4 352.2,394.3 352.7,394.2 353.2,394.1 353.7,394.1 354.2,394 354.7,393.9 355.2,393.8 355.7,393.7 356.2,393.7 356.7,393.6 357.2,393.4 357.7,393.3 358.2,393.2 358.7,393.1 359.2,393 359.7,392.8 360.2,392.7 360.7,392.6 361.2,392.4 361.7,392.3 362.2,392.1 362.7,391.9 363.2,391.7 363.7,391.5 364.2,391.3 364.7,391.1 365.2,390.9 365.7,390.7 366.2,390.4 366.7,390.2 367.2,389.9 367.7,389.7 368.2,389.4 368.7,389.1 369.2,388.7 369.7,388.4 370.2,388 370.7,387.7 371.2,387.3 371.7,386.8 372.2,386.4 372.7,386 373.2,385.5 373.7,385.1 374.2,384.6 374.7,384.1 375.2,383.6 375.7,383.1 376.2,382.6 376.7,382 377.2,381.5 377.7,380.9 378.2,380.3 378.7,379.8 379.2,379.1 379.7,378.5 380.2,377.9 380.7,377.2 381.2,376.6 381.7,375.9 382.2,375.2 382.7,374.5 383.2,373.8 383.7,373.1 384.2,372.3 384.7,371.5 385.2,370.7 385.7,369.9 386.2,369.1 386.7,368.3 387.2,367.4 387.7,366.6 388.2,365.7 388.7,364.9 389.2,364 389.7,363.1 390.2,362.3 390.7,361.4 391.2,360.5 391.7,359.6 392.2,358.7 392.7,357.8 393.2,357 393.7,356.1 394.2,355.3 394.7,354.5 395.2,353.7 395.7,352.9 396.2,352.2 396.7,351.5 397.2,350.8 397.7,350.1 398.2,349.4 398.7,348.8 399.2,348.1 399.7,347.5 400.2,347 400.7,346.4 401.2,345.9 401.7,345.4 402.2,345 402.7,344.5 403.2,344.2 403.7,343.8 404.2,343.5 404.7,343.3 405.2,343.1 405.7,342.9 406.2,342.8 406.7,342.7 407.2,342.7 407.7,342.7 408.2,342.7 408.7,342.7 409.2,342.8 409.7,342.9 410.2,343.1 410.7,343.2 411.2,343.4 411.7,343.7 412.2,343.9 412.7,344.3 413.2,344.6 413.7,345 414.2,345.4 414.7,345.9 415.2,346.3 415.7,346.9 416.2,347.4 416.7,348 417.2,348.5 417.7,349.2 418.2,349.8 418.7,350.4 419.2,351.1 419.7,351.8 420.2,352.6 420.7,353.3 421.2,354.1 421.7,354.9 422.2,355.7 422.7,356.5 423.2,357.3 423.7,358.2 424.2,359 424.7,359.8 425.2,360.6 425.7,361.4 426.2,362.3 426.7,363.1 427.2,363.9 427.7,364.7 428.2,365.5 428.7,366.3 429.2,367.1 429.7,367.9 430.2,368.7 430.7,369.4 431.2,370.2 431.7,371 432.2,371.8 432.7,372.6 433.2,373.4 433.7,374.1 434.2,374.9 434.7,375.6 435.2,376.4 435.7,377.1 436.2,377.8 436.7,378.5 437.2,379.1 437.7,379.8 438.2,380.4 438.7,381.1 439.2,381.7 439.7,382.3 440.2,382.8 440.7,383.3 441.2,383.8 441.7,384.3 442.2,384.7 442.7,385.2 443.2,385.6 443.7,386 444.2,386.4 444.7,386.8 445.2,387.1 445.7,387.5 446.2,387.8 446.7,388.2 447.2,388.5 447.7,388.8 448.2,389.1 448.7,389.4 449.2,389.7 449.7,390 450.2,390.2 450.7,390.5 451.2,390.7 451.7,391 452.2,391.2 452.7,391.4 453.2,391.6 453.7,391.8 454.2,392 454.7,392.2 455.2,392.4 455.7,392.6 456.2,392.7 456.7,392.9 457.2,393 457.7,393.2 458.2,393.3 458.7,393.4 459.2,393.5 459.7,393.6 460.2,393.7 460.7,393.8 461.2,393.9 461.7,394 462.2,394.1 462.7,394.2 463.2,394.3 463.7,394.3 464.2,394.4 464.7,394.5 465.2,394.5 465.7,394.6 466.2,394.6 466.7,394.7 467.2,394.7 467.7,394.7 468.2,394.8 468.7,394.8 469.2,394.8 469.7,394.7 470.2,394.7 470.7,394.7 471.2,394.6 471.7,394.6 472.2,394.5 472.7,394.5 473.2,394.4 473.7,394.3 474.2,394.2 474.7,394.1 475.2,393.9 475.7,393.8 476.2,393.6 476.7,393.4 477.2,393.2 477.7,392.9 478.2,392.7 478.7,392.4 479.2,392.1 479.7,391.9 480.2,391.6 480.7,391.3 481.2,391 481.7,390.7 482.2,390.3 482.7,389.9 483.2,389.5 483.7,389.1 484.2,388.6 484.7,388.2 485.2,387.7 485.7,387.3 486.2,386.9 486.7,386.5 487.2,386.2 487.7,386 488.2,385.8 488.7,385.6 489.2,385.6 489.7,385.6 490.2,385.7 490.7,385.8 491.2,385.9 491.7,386.1 492.2,386.3 492.7,386.5 493.2,386.7 493.7,387 494.2,387.2 494.7,387.4 495.2,387.5 495.7,387.6 496.2,387.7 496.7,387.7 497.2,387.7 497.7,387.6 498.2,387.4 498.7,387.3 499.2,387 499.7,386.8 500.2,386.5 500.7,386.2 501.2,385.9 501.7,385.6 502.2,385.3 502.7,385.1 503.2,384.9 503.7,384.8 504.2,384.8 504.7,384.8 505.2,385 505.7,385.2 506.2,385.5 506.7,385.9 507.2,386.3 507.7,386.9 508.2,387.4 508.7,388 509.2,388.6 509.7,389.3 510.2,389.9 510.7,390.5 511.2,391.1 511.7,391.6 512.2,392.2 512.7,392.7 513.2,393.1 513.7,393.6 514.2,394 514.7,394.4 515.2,394.8 515.7,395.1 516.2,395.5 516.7,395.8 517.2,396.1 517.7,396.4 518.2,396.7 518.7,396.9 519.2,397.1 519.7,397.3 520.2,397.5 520.7,397.7 521.2,397.9 521.7,398 522.2,398.1 522.7,398.3 523.2,398.4 523.7,398.5 524.2,398.6 524.7,398.7 525.2,398.8 525.7,398.9 526.2,399 526.7,399.1 527.2,399.1 527.7,399.2 528.2,399.3 528.7,399.4 529.2,399.5 529.7,399.5 530.2,399.6 530.7,399.6 531.2,399.7 531.7,399.7 532.2,399.8 532.7,399.8 533.2,399.9 533.7,399.9 534.2,400 534.7,400 535.2,400.1 535.7,400.1 536.2,400.1 536.7,400.2 537.2,400.2 537.7,400.3 538.2,400.3 538.7,400.4 539.2,400.4 539.7,400.4 540.2,400.5 540.7,400.5 541.2,400.6 541.7,400.6 542.2,400.6 542.7,400.7 543.2,400.7 543.7,400.8 544.2,400.8 544.7,400.8 545.2,400.9 545.7,400.9 546.2,401 546.7,401 547.2,401 547.7,401.1 548.2,401.1 548.7,401.2 549.2,401.2 549.7,401.2 550.2,401.3 550.7,401.3 551.2,401.3" fill="none" stroke="#3c3c3c" stroke-width="1.9" stroke-linejoin="round" />
<rect x="326.00" y="239.70" width="226.30" height="182.60" fill="none" stroke="#505050" stroke-width="1.3"/>
<path d="M371.26,422.30v-4.5M416.52,422.30v-4.5M461.78,422.30v-4.5M507.04,422.30v-4.5M348.63,422.30v-2.8M393.89,422.30v-2.8M439.15,422.30v-2.8M484.41,422.30v-2.8M529.67,422.30v-2.8" stroke="#505050" stroke-width="1.1" fill="none"/>
<text x="326.00" y="434.00" font-size="10.5" fill="#1a1a1a" font-weight="bold" text-anchor="middle" textLength="17.30" lengthAdjust="spacingAndGlyphs" >136</text>
<text x="371.26" y="434.00" font-size="10.5" fill="#1a1a1a" font-weight="bold" text-anchor="middle" textLength="17.30" lengthAdjust="spacingAndGlyphs" >134</text>
<text x="416.52" y="434.00" font-size="10.5" fill="#1a1a1a" font-weight="bold" text-anchor="middle" textLength="17.30" lengthAdjust="spacingAndGlyphs" >132</text>
<text x="461.78" y="434.00" font-size="10.5" fill="#1a1a1a" font-weight="bold" text-anchor="middle" textLength="17.30" lengthAdjust="spacingAndGlyphs" >130</text>
<text x="507.04" y="434.00" font-size="10.5" fill="#1a1a1a" font-weight="bold" text-anchor="middle" textLength="17.30" lengthAdjust="spacingAndGlyphs" >128</text>
<text x="552.30" y="434.00" font-size="10.5" fill="#1a1a1a" font-weight="bold" text-anchor="middle" textLength="17.30" lengthAdjust="spacingAndGlyphs" >126</text>
<text x="439.50" y="450.50" font-size="10.8" fill="#1a1a1a" font-weight="bold" text-anchor="middle" textLength="94.30" lengthAdjust="spacingAndGlyphs" >Binding energy/eV</text>
<text x="315.30" y="333.50" font-size="10.9" fill="#1a1a1a" font-weight="bold" text-anchor="middle" textLength="74.00" lengthAdjust="spacingAndGlyphs" transform="rotate(-90 315.30 333.50)" >Intensity/(a.u.)</text>
<text x="282.80" y="250.00" font-size="23.5" fill="#111" font-weight="bold" textLength="30.30" lengthAdjust="spacingAndGlyphs" stroke="#111" stroke-width="0.25">(d)</text>
<text x="327.40" y="253.00" font-size="12.7" fill="#1a1a1a" textLength="29.30" lengthAdjust="spacingAndGlyphs" >P 2p</text>
<text x="328.30" y="333.00" font-size="11.4" fill="#1a1a1a" textLength="20.40" lengthAdjust="spacingAndGlyphs" >CoP</text>
<text x="328.30" y="413.40" font-size="11.4" fill="#1a1a1a" textLength="60.50" lengthAdjust="spacingAndGlyphs" >CoP-Ti<tspan font-size="8.44" dy="3.42">3</tspan><tspan dy="-3.42">​</tspan>C<tspan font-size="8.44" dy="3.42">2</tspan><tspan dy="-3.42">​</tspan>T<tspan font-size="8.44" dy="3.42">x</tspan><tspan dy="-3.42">​</tspan></text>
<text x="379.90" y="265.80" font-size="8.2" fill="#b8323a" textLength="14.40" lengthAdjust="spacingAndGlyphs" stroke="#b8323a" stroke-width="0.3">P-O</text>
<text x="463.80" y="298.00" font-size="8.2" fill="#8f7a35" textLength="24.30" lengthAdjust="spacingAndGlyphs" stroke="#8f7a35" stroke-width="0.3">P 2p<tspan font-size="6.07" dy="2.46">3/2</tspan><tspan dy="-2.46">​</tspan></text>
<text x="511.30" y="304.70" font-size="8.2" fill="#2f7a55" textLength="24.40" lengthAdjust="spacingAndGlyphs" stroke="#2f7a55" stroke-width="0.3">P 2p<tspan font-size="6.07" dy="2.46">3/2</tspan><tspan dy="-2.46">​</tspan></text>
<polygon points="135.7,538.5 136.7,538.6 137.7,538.7 138.7,538.7 139.7,538.8 140.7,538.9 141.7,539 142.7,539 143.7,539.1 144.7,539.2 145.7,539.2 146.7,539.3 147.7,539.4 148.7,539.4 149.7,539.5 150.7,539.6 151.7,539.6 152.7,539.7 153.7,539.7 154.7,539.8 155.7,539.8 156.7,539.8 157.7,539.8 158.7,539.8 159.7,539.7 160.7,539.4 161.7,539 162.7,538.4 163.7,537.5 164.7,536.1 165.7,534.3 166.7,531.9 167.7,528.9 168.7,525.3 169.7,521.2 170.7,516.8 171.7,512.2 172.7,507.9 173.7,504.1 174.7,501.3 175.7,499.8 176.7,499.7 177.7,501.2 178.7,504 179.7,507.8 180.7,512.2 181.7,517 182.7,521.7 183.7,526.1 184.7,530 185.7,533.3 186.7,536 187.7,538.2 188.7,539.8 189.7,541 190.7,541.8 191.7,542.4 192.7,542.9 193.7,543.2 194.7,543.5 195.7,543.7 196.7,543.8 197.7,544 198.7,544.1 199.7,544.3 200.7,544.4 201.7,544.5 202.7,544.7 203.7,544.8 204.7,544.9 205.7,545 206.7,545.1 207.7,545.2 208.7,545.4 209.7,545.5 210.7,545.6 211.7,545.7 212.7,545.8 213.7,545.9 214.7,546 215.7,546.2 216.7,546.3 217.2,546.3 217.2,546.4 216.7,546.4 215.7,546.3 214.7,546.2 213.7,546.1 212.7,545.9 211.7,545.8 210.7,545.7 209.7,545.6 208.7,545.5 207.7,545.4 206.7,545.3 205.7,545.2 204.7,545.1 203.7,545 202.7,544.9 201.7,544.8 200.7,544.7 199.7,544.6 198.7,544.5 197.7,544.4 196.7,544.2 195.7,544.1 194.7,544 193.7,543.9 192.7,543.8 191.7,543.7 190.7,543.6 189.7,543.5 188.7,543.4 187.7,543.3 186.7,543.2 185.7,543.1 184.7,543 183.7,542.9 182.7,542.8 181.7,542.7 180.7,542.5 179.7,542.4 178.7,542.3 177.7,542.2 176.7,542.1 175.7,542 174.7,541.9 173.7,541.8 172.7,541.7 171.7,541.6 170.7,541.5 169.7,541.4 168.7,541.3 167.7,541.2 166.7,541.1 165.7,541 164.7,540.9 163.7,540.9 162.7,540.8 161.7,540.7 160.7,540.6 159.7,540.5 158.7,540.5 157.7,540.4 156.7,540.3 155.7,540.2 154.7,540.1 153.7,540.1 152.7,540 151.7,539.9 150.7,539.8 149.7,539.7 148.7,539.7 147.7,539.6 146.7,539.5 145.7,539.4 144.7,539.3 143.7,539.3 142.7,539.2 141.7,539.1 140.7,539 139.7,538.9 138.7,538.9 137.7,538.8 136.7,538.7 135.7,538.6" fill="#f0999e" stroke="none" />
<polygon points="169.2,541.2 170.2,541.3 171.2,541.4 172.2,541.5 173.2,541.6 174.2,541.7 175.2,541.8 176.2,541.9 177.2,542 178.2,542.1 179.2,542.2 180.2,542.3 181.2,542.3 182.2,542.4 183.2,542.5 184.2,542.5 185.2,542.5 186.2,542.4 187.2,542.3 188.2,542.1 189.2,541.9 190.2,541.5 191.2,541 192.2,540.4 193.2,539.6 194.2,538.6 195.2,537.5 196.2,536.2 197.2,534.8 198.2,533.3 199.2,531.8 200.2,530.2 201.2,528.8 202.2,527.5 203.2,526.4 204.2,525.7 205.2,525.3 206.2,525.3 207.2,525.7 208.2,526.4 209.2,527.5 210.2,528.9 211.2,530.5 212.2,532.2 213.2,533.9 214.2,535.7 215.2,537.3 216.2,538.9 217.2,540.3 218.2,541.6 219.2,542.7 220.2,543.6 221.2,544.4 222.2,545.1 223.2,545.6 224.2,546.1 225.2,546.4 226.2,546.7 227.2,547 228.2,547.2 229.2,547.4 230.2,547.5 231.2,547.7 232.2,547.8 233.2,547.9 234.2,548.1 235.2,548.2 236.2,548.3 237.2,548.4 238.2,548.5 239.2,548.6 240.2,548.8 241.2,548.9 242.2,549 242.7,549 242.7,549.1 242.2,549.1 241.2,549 240.2,548.9 239.2,548.8 238.2,548.7 237.2,548.5 236.2,548.4 235.2,548.3 234.2,548.2 233.2,548.1 232.2,548 231.2,547.9 230.2,547.8 229.2,547.7 228.2,547.6 227.2,547.5 226.2,547.4 225.2,547.3 224.2,547.2 223.2,547.1 222.2,547 221.2,546.9 220.2,546.7 219.2,546.6 218.2,546.5 217.2,546.4 216.2,546.3 215.2,546.2 214.2,546.1 213.2,546 212.2,545.9 211.2,545.8 210.2,545.7 209.2,545.6 208.2,545.5 207.2,545.4 206.2,545.3 205.2,545.2 204.2,545 203.2,544.9 202.2,544.8 201.2,544.7 200.2,544.6 199.2,544.5 198.2,544.4 197.2,544.3 196.2,544.2 195.2,544.1 194.2,544 193.2,543.9 192.2,543.8 191.2,543.7 190.2,543.6 189.2,543.5 188.2,543.3 187.2,543.2 186.2,543.1 185.2,543 184.2,542.9 183.2,542.8 182.2,542.7 181.2,542.6 180.2,542.5 179.2,542.4 178.2,542.3 177.2,542.2 176.2,542.1 175.2,542 174.2,541.9 173.2,541.8 172.2,541.6 171.2,541.5 170.2,541.4 169.2,541.3" fill="#f7d676" stroke="none" />
<polygon points="193.2,543.8 194.2,543.9 195.2,544 196.2,544.1 197.2,544.2 198.2,544.2 199.2,544.3 200.2,544.4 201.2,544.5 202.2,544.5 203.2,544.4 204.2,544.3 205.2,544.1 206.2,543.6 207.2,542.8 208.2,541.7 209.2,540.2 210.2,538.2 211.2,535.8 212.2,533.2 213.2,530.6 214.2,528.2 215.2,526.4 216.2,525.5 217.2,525.5 218.2,526.3 219.2,527.8 220.2,529.7 221.2,531.9 222.2,534.3 223.2,536.6 224.2,538.8 225.2,540.8 226.2,542.5 227.2,543.9 228.2,545 229.2,545.8 230.2,546.5 231.2,547 232.2,547.3 233.2,547.6 234.2,547.9 235.2,548 236.2,548.2 237.2,548.3 238.2,548.5 239.2,548.6 240.2,548.7 241.2,548.8 242.2,549 243.2,549.1 244.2,549.2 245.2,549.3 245.2,549.4 244.2,549.3 243.2,549.2 242.2,549.1 241.2,549 240.2,548.9 239.2,548.8 238.2,548.7 237.2,548.5 236.2,548.4 235.2,548.3 234.2,548.2 233.2,548.1 232.2,548 231.2,547.9 230.2,547.8 229.2,547.7 228.2,547.6 227.2,547.5 226.2,547.4 225.2,547.3 224.2,547.2 223.2,547.1 222.2,547 221.2,546.9 220.2,546.7 219.2,546.6 218.2,546.5 217.2,546.4 216.2,546.3 215.2,546.2 214.2,546.1 213.2,546 212.2,545.9 211.2,545.8 210.2,545.7 209.2,545.6 208.2,545.5 207.2,545.4 206.2,545.3 205.2,545.2 204.2,545 203.2,544.9 202.2,544.8 201.2,544.7 200.2,544.6 199.2,544.5 198.2,544.4 197.2,544.3 196.2,544.2 195.2,544.1 194.2,544 193.2,543.9" fill="#fae6a6" stroke="none" />
<polygon points="49.2,531.6 50.2,531.7 51.2,531.8 52.2,531.9 53.2,531.9 54.2,532 55.2,532.1 56.2,532.2 57.2,532.2 58.2,532.3 59.2,532.4 60.2,532.5 61.2,532.5 62.2,532.6 63.2,532.7 64.2,532.8 65.2,532.8 66.2,532.9 67.2,533 68.2,533 69.2,533.1 70.2,533.2 71.2,533.2 72.2,533.3 73.2,533.3 74.2,533.4 75.2,533.4 76.2,533.5 77.2,533.5 78.2,533.5 79.2,533.5 80.2,533.5 81.2,533.4 82.2,533.4 83.2,533.3 84.2,533.2 85.2,533.1 86.2,532.9 87.2,532.7 88.2,532.5 89.2,532.2 90.2,531.9 91.2,531.6 92.2,531.1 93.2,530.7 94.2,530.2 95.2,529.6 96.2,529 97.2,528.3 98.2,527.6 99.2,526.9 100.2,526.1 101.2,525.3 102.2,524.4 103.2,523.6 104.2,522.7 105.2,521.9 106.2,521.1 107.2,520.3 108.2,519.6 109.2,518.9 110.2,518.3 111.2,517.8 112.2,517.3 113.2,517 114.2,516.8 115.2,516.7 116.2,516.8 117.2,516.9 118.2,517.2 119.2,517.6 120.2,518.2 121.2,518.8 122.2,519.5 123.2,520.3 124.2,521.2 125.2,522.1 126.2,523 127.2,524 128.2,525 129.2,526 130.2,527 131.2,528 132.2,529 133.2,529.9 134.2,530.8 135.2,531.7 136.2,532.5 137.2,533.2 138.2,533.9 139.2,534.6 140.2,535.2 141.2,535.7 142.2,536.2 143.2,536.7 144.2,537.1 145.2,537.5 146.2,537.8 147.2,538.1 148.2,538.4 149.2,538.6 150.2,538.9 151.2,539.1 152.2,539.3 153.2,539.4 154.2,539.6 155.2,539.7 156.2,539.8 157.2,540 158.2,540.1 159.2,540.2 160.2,540.3 161.2,540.4 162.2,540.5 163.2,540.6 164.2,540.7 165.2,540.8 166.2,540.9 167.2,541 168.2,541.1 169.2,541.2 170.2,541.3 171.2,541.4 172.2,541.5 173.2,541.6 174.2,541.7 175.2,541.8 176.2,541.9 177.2,542.1 178.2,542.2 179.2,542.3 180.2,542.4 181.2,542.5 182.2,542.6 183.2,542.7 183.2,542.8 182.2,542.7 181.2,542.6 180.2,542.5 179.2,542.4 178.2,542.3 177.2,542.2 176.2,542.1 175.2,542 174.2,541.9 173.2,541.8 172.2,541.6 171.2,541.5 170.2,541.4 169.2,541.3 168.2,541.2 167.2,541.1 166.2,541.1 165.2,541 164.2,540.9 163.2,540.8 162.2,540.7 161.2,540.7 160.2,540.6 159.2,540.5 158.2,540.4 157.2,540.3 156.2,540.3 155.2,540.2 154.2,540.1 153.2,540 152.2,539.9 151.2,539.9 150.2,539.8 149.2,539.7 148.2,539.6 147.2,539.5 146.2,539.5 145.2,539.4 144.2,539.3 143.2,539.2 142.2,539.1 141.2,539.1 140.2,539 139.2,538.9 138.2,538.8 137.2,538.7 136.2,538.7 135.2,538.6 134.2,538.5 133.2,538.4 132.2,538.3 131.2,538.3 130.2,538.2 129.2,538.1 128.2,538 127.2,537.9 126.2,537.9 125.2,537.8 124.2,537.7 123.2,537.6 122.2,537.6 121.2,537.5 120.2,537.4 119.2,537.3 118.2,537.2 117.2,537.2 116.2,537.1 115.2,537 114.2,536.9 113.2,536.8 112.2,536.8 111.2,536.7 110.2,536.6 109.2,536.5 108.2,536.4 107.2,536.4 106.2,536.3 105.2,536.2 104.2,536.1 103.2,536 102.2,536 101.2,535.9 100.2,535.8 99.2,535.7 98.2,535.6 97.2,535.6 96.2,535.5 95.2,535.4 94.2,535.3 93.2,535.2 92.2,535.2 91.2,535.1 90.2,535 89.2,534.9 88.2,534.8 87.2,534.8 86.2,534.7 85.2,534.6 84.2,534.5 83.2,534.4 82.2,534.4 81.2,534.3 80.2,534.2 79.2,534.1 78.2,534 77.2,534 76.2,533.9 75.2,533.8 74.2,533.7 73.2,533.6 72.2,533.6 71.2,533.5 70.2,533.4 69.2,533.3 68.2,533.2 67.2,533.2 66.2,533.1 65.2,533 64.2,532.9 63.2,532.9 62.2,532.8 61.2,532.7 60.2,532.6 59.2,532.5 58.2,532.5 57.2,532.4 56.2,532.3 55.2,532.2 54.2,532.1 53.2,532.1 52.2,532 51.2,531.9 50.2,531.8 49.2,531.7" fill="#c3e5d3" stroke="none" />
<polygon points="117.7,537.1 118.7,537.2 119.7,537.2 120.7,537.3 121.7,537.4 122.7,537.4 123.7,537.5 124.7,537.5 125.7,537.5 126.7,537.6 127.7,537.6 128.7,537.5 129.7,537.5 130.7,537.4 131.7,537.3 132.7,537.1 133.7,536.9 134.7,536.7 135.7,536.4 136.7,536 137.7,535.6 138.7,535.1 139.7,534.6 140.7,534 141.7,533.4 142.7,532.8 143.7,532.1 144.7,531.5 145.7,530.9 146.7,530.3 147.7,529.8 148.7,529.4 149.7,529.1 150.7,528.9 151.7,528.9 152.7,529 153.7,529.3 154.7,529.6 155.7,530.1 156.7,530.7 157.7,531.4 158.7,532.2 159.7,533 160.7,533.8 161.7,534.6 162.7,535.3 163.7,536.1 164.7,536.8 165.7,537.5 166.7,538.1 167.7,538.7 168.7,539.2 169.7,539.7 170.7,540.1 171.7,540.4 172.7,540.8 173.7,541.1 174.7,541.3 175.7,541.5 176.7,541.7 177.7,541.9 178.7,542.1 179.7,542.2 180.7,542.4 181.7,542.5 182.7,542.6 183.7,542.7 184.7,542.9 185.7,543 186.2,543 186.2,543.1 185.7,543.1 184.7,543 183.7,542.9 182.7,542.8 181.7,542.7 180.7,542.5 179.7,542.4 178.7,542.3 177.7,542.2 176.7,542.1 175.7,542 174.7,541.9 173.7,541.8 172.7,541.7 171.7,541.6 170.7,541.5 169.7,541.4 168.7,541.3 167.7,541.2 166.7,541.1 165.7,541 164.7,540.9 163.7,540.9 162.7,540.8 161.7,540.7 160.7,540.6 159.7,540.5 158.7,540.5 157.7,540.4 156.7,540.3 155.7,540.2 154.7,540.1 153.7,540.1 152.7,540 151.7,539.9 150.7,539.8 149.7,539.7 148.7,539.7 147.7,539.6 146.7,539.5 145.7,539.4 144.7,539.3 143.7,539.3 142.7,539.2 141.7,539.1 140.7,539 139.7,538.9 138.7,538.9 137.7,538.8 136.7,538.7 135.7,538.6 134.7,538.5 133.7,538.5 132.7,538.4 131.7,538.3 130.7,538.2 129.7,538.1 128.7,538.1 127.7,538 126.7,537.9 125.7,537.8 124.7,537.8 123.7,537.7 122.7,537.6 121.7,537.5 120.7,537.4 119.7,537.4 118.7,537.3 117.7,537.2" fill="#f7c2c4" stroke="none" />
<polygon points="138.7,538.8 139.7,538.8 140.7,538.9 141.7,539 142.7,539.1 143.7,539.1 144.7,539.2 145.7,539.3 146.7,539.3 147.7,539.4 148.7,539.4 149.7,539.4 150.7,539.5 151.7,539.4 152.7,539.4 153.7,539.3 154.7,539.1 155.7,538.8 156.7,538.4 157.7,537.8 158.7,537.1 159.7,536.2 160.7,535.1 161.7,533.8 162.7,532.3 163.7,530.8 164.7,529.1 165.7,527.5 166.7,525.9 167.7,524.5 168.7,523.5 169.7,522.8 170.7,522.5 171.7,522.7 172.7,523.4 173.7,524.4 174.7,525.8 175.7,527.5 176.7,529.3 177.7,531.1 178.7,532.9 179.7,534.6 180.7,536.2 181.7,537.6 182.7,538.8 183.7,539.8 184.7,540.7 185.7,541.3 186.7,541.9 187.7,542.3 188.7,542.7 189.7,543 190.7,543.2 191.7,543.4 192.7,543.5 193.7,543.7 194.7,543.8 195.7,544 196.7,544.1 197.7,544.2 198.7,544.3 199.7,544.4 200.7,544.6 201.7,544.7 202.7,544.8 203.2,544.8 203.2,544.9 202.7,544.9 201.7,544.8 200.7,544.7 199.7,544.6 198.7,544.5 197.7,544.4 196.7,544.2 195.7,544.1 194.7,544 193.7,543.9 192.7,543.8 191.7,543.7 190.7,543.6 189.7,543.5 188.7,543.4 187.7,543.3 186.7,543.2 185.7,543.1 184.7,543 183.7,542.9 182.7,542.8 181.7,542.7 180.7,542.5 179.7,542.4 178.7,542.3 177.7,542.2 176.7,542.1 175.7,542 174.7,541.9 173.7,541.8 172.7,541.7 171.7,541.6 170.7,541.5 169.7,541.4 168.7,541.3 167.7,541.2 166.7,541.1 165.7,541 164.7,540.9 163.7,540.9 162.7,540.8 161.7,540.7 160.7,540.6 159.7,540.5 158.7,540.5 157.7,540.4 156.7,540.3 155.7,540.2 154.7,540.1 153.7,540.1 152.7,540 151.7,539.9 150.7,539.8 149.7,539.7 148.7,539.7 147.7,539.6 146.7,539.5 145.7,539.4 144.7,539.3 143.7,539.3 142.7,539.2 141.7,539.1 140.7,539 139.7,538.9 138.7,538.9" fill="#9cd3b2" stroke="none" />
<polyline points="47.5,531.6 168,541.2 274.4,552.5" fill="none" stroke="#7d7d7d" stroke-width="1.6" stroke-linejoin="round" />
<path d="M52.1,530.6a2.0,2.0 0 1 0 -4.0,0a2.0,2.0 0 1 0 4.0,0M55.3,531.0a2.0,2.0 0 1 0 -4.0,0a2.0,2.0 0 1 0 4.0,0M56.0,530.5a2.0,2.0 0 1 0 -4.0,0a2.0,2.0 0 1 0 4.0,0M58.3,530.1a2.0,2.0 0 1 0 -4.0,0a2.0,2.0 0 1 0 4.0,0M60.9,530.6a2.0,2.0 0 1 0 -4.0,0a2.0,2.0 0 1 0 4.0,0M63.2,530.2a2.0,2.0 0 1 0 -4.0,0a2.0,2.0 0 1 0 4.0,0M65.1,531.2a2.0,2.0 0 1 0 -4.0,0a2.0,2.0 0 1 0 4.0,0M67.3,532.5a2.0,2.0 0 1 0 -4.0,0a2.0,2.0 0 1 0 4.0,0M70.0,530.9a2.0,2.0 0 1 0 -4.0,0a2.0,2.0 0 1 0 4.0,0M72.1,530.9a2.0,2.0 0 1 0 -4.0,0a2.0,2.0 0 1 0 4.0,0M73.5,532.0a2.0,2.0 0 1 0 -4.0,0a2.0,2.0 0 1 0 4.0,0M76.2,531.9a2.0,2.0 0 1 0 -4.0,0a2.0,2.0 0 1 0 4.0,0M78.4,531.7a2.0,2.0 0 1 0 -4.0,0a2.0,2.0 0 1 0 4.0,0M80.1,530.7a2.0,2.0 0 1 0 -4.0,0a2.0,2.0 0 1 0 4.0,0M82.9,531.4a2.0,2.0 0 1 0 -4.0,0a2.0,2.0 0 1 0 4.0,0M84.6,531.9a2.0,2.0 0 1 0 -4.0,0a2.0,2.0 0 1 0 4.0,0M87.7,529.7a2.0,2.0 0 1 0 -4.0,0a2.0,2.0 0 1 0 4.0,0M89.5,530.1a2.0,2.0 0 1 0 -4.0,0a2.0,2.0 0 1 0 4.0,0M91.6,528.1a2.0,2.0 0 1 0 -4.0,0a2.0,2.0 0 1 0 4.0,0M93.5,527.9a2.0,2.0 0 1 0 -4.0,0a2.0,2.0 0 1 0 4.0,0M95.9,526.4a2.0,2.0 0 1 0 -4.0,0a2.0,2.0 0 1 0 4.0,0M97.2,526.6a2.0,2.0 0 1 0 -4.0,0a2.0,2.0 0 1 0 4.0,0M99.8,524.2a2.0,2.0 0 1 0 -4.0,0a2.0,2.0 0 1 0 4.0,0M102.8,523.9a2.0,2.0 0 1 0 -4.0,0a2.0,2.0 0 1 0 4.0,0M103.7,522.1a2.0,2.0 0 1 0 -4.0,0a2.0,2.0 0 1 0 4.0,0M107.4,519.9a2.0,2.0 0 1 0 -4.0,0a2.0,2.0 0 1 0 4.0,0M108.3,516.1a2.0,2.0 0 1 0 -4.0,0a2.0,2.0 0 1 0 4.0,0M111.8,516.4a2.0,2.0 0 1 0 -4.0,0a2.0,2.0 0 1 0 4.0,0M113.2,515.7a2.0,2.0 0 1 0 -4.0,0a2.0,2.0 0 1 0 4.0,0M116.2,515.2a2.0,2.0 0 1 0 -4.0,0a2.0,2.0 0 1 0 4.0,0M118.1,513.7a2.0,2.0 0 1 0 -4.0,0a2.0,2.0 0 1 0 4.0,0M119.4,515.2a2.0,2.0 0 1 0 -4.0,0a2.0,2.0 0 1 0 4.0,0M123.0,516.0a2.0,2.0 0 1 0 -4.0,0a2.0,2.0 0 1 0 4.0,0M125.3,517.8a2.0,2.0 0 1 0 -4.0,0a2.0,2.0 0 1 0 4.0,0M126.8,521.5a2.0,2.0 0 1 0 -4.0,0a2.0,2.0 0 1 0 4.0,0M128.9,521.8a2.0,2.0 0 1 0 -4.0,0a2.0,2.0 0 1 0 4.0,0M131.1,524.5a2.0,2.0 0 1 0 -4.0,0a2.0,2.0 0 1 0 4.0,0M132.9,527.1a2.0,2.0 0 1 0 -4.0,0a2.0,2.0 0 1 0 4.0,0M136.1,526.9a2.0,2.0 0 1 0 -4.0,0a2.0,2.0 0 1 0 4.0,0M137.5,527.8a2.0,2.0 0 1 0 -4.0,0a2.0,2.0 0 1 0 4.0,0M140.0,527.9a2.0,2.0 0 1 0 -4.0,0a2.0,2.0 0 1 0 4.0,0M141.8,527.2a2.0,2.0 0 1 0 -4.0,0a2.0,2.0 0 1 0 4.0,0M144.1,525.0a2.0,2.0 0 1 0 -4.0,0a2.0,2.0 0 1 0 4.0,0M146.0,524.9a2.0,2.0 0 1 0 -4.0,0a2.0,2.0 0 1 0 4.0,0M149.4,524.9a2.0,2.0 0 1 0 -4.0,0a2.0,2.0 0 1 0 4.0,0M150.9,521.5a2.0,2.0 0 1 0 -4.0,0a2.0,2.0 0 1 0 4.0,0M153.7,522.9a2.0,2.0 0 1 0 -4.0,0a2.0,2.0 0 1 0 4.0,0M155.4,521.8a2.0,2.0 0 1 0 -4.0,0a2.0,2.0 0 1 0 4.0,0M157.3,521.0a2.0,2.0 0 1 0 -4.0,0a2.0,2.0 0 1 0 4.0,0M159.6,523.1a2.0,2.0 0 1 0 -4.0,0a2.0,2.0 0 1 0 4.0,0M161.7,520.9a2.0,2.0 0 1 0 -4.0,0a2.0,2.0 0 1 0 4.0,0M164.2,516.8a2.0,2.0 0 1 0 -4.0,0a2.0,2.0 0 1 0 4.0,0M166.2,514.6a2.0,2.0 0 1 0 -4.0,0a2.0,2.0 0 1 0 4.0,0M168.5,509.7a2.0,2.0 0 1 0 -4.0,0a2.0,2.0 0 1 0 4.0,0M170.1,501.3a2.0,2.0 0 1 0 -4.0,0a2.0,2.0 0 1 0 4.0,0M172.6,493.6a2.0,2.0 0 1 0 -4.0,0a2.0,2.0 0 1 0 4.0,0M176.0,486.1a2.0,2.0 0 1 0 -4.0,0a2.0,2.0 0 1 0 4.0,0M177.1,484.7a2.0,2.0 0 1 0 -4.0,0a2.0,2.0 0 1 0 4.0,0M179.1,489.8a2.0,2.0 0 1 0 -4.0,0a2.0,2.0 0 1 0 4.0,0M182.0,498.1a2.0,2.0 0 1 0 -4.0,0a2.0,2.0 0 1 0 4.0,0M184.7,511.3a2.0,2.0 0 1 0 -4.0,0a2.0,2.0 0 1 0 4.0,0M185.5,521.8a2.0,2.0 0 1 0 -4.0,0a2.0,2.0 0 1 0 4.0,0M188.3,530.2a2.0,2.0 0 1 0 -4.0,0a2.0,2.0 0 1 0 4.0,0M190.3,533.6a2.0,2.0 0 1 0 -4.0,0a2.0,2.0 0 1 0 4.0,0M191.9,536.1a2.0,2.0 0 1 0 -4.0,0a2.0,2.0 0 1 0 4.0,0M195.4,536.6a2.0,2.0 0 1 0 -4.0,0a2.0,2.0 0 1 0 4.0,0M197.2,536.2a2.0,2.0 0 1 0 -4.0,0a2.0,2.0 0 1 0 4.0,0M199.4,534.0a2.0,2.0 0 1 0 -4.0,0a2.0,2.0 0 1 0 4.0,0M201.2,528.7a2.0,2.0 0 1 0 -4.0,0a2.0,2.0 0 1 0 4.0,0M204.0,526.0a2.0,2.0 0 1 0 -4.0,0a2.0,2.0 0 1 0 4.0,0M205.7,524.8a2.0,2.0 0 1 0 -4.0,0a2.0,2.0 0 1 0 4.0,0M208.1,521.2a2.0,2.0 0 1 0 -4.0,0a2.0,2.0 0 1 0 4.0,0M209.8,523.2a2.0,2.0 0 1 0 -4.0,0a2.0,2.0 0 1 0 4.0,0M212.0,524.2a2.0,2.0 0 1 0 -4.0,0a2.0,2.0 0 1 0 4.0,0M215.5,524.0a2.0,2.0 0 1 0 -4.0,0a2.0,2.0 0 1 0 4.0,0M216.7,521.2a2.0,2.0 0 1 0 -4.0,0a2.0,2.0 0 1 0 4.0,0M219.3,521.1a2.0,2.0 0 1 0 -4.0,0a2.0,2.0 0 1 0 4.0,0M221.4,525.2a2.0,2.0 0 1 0 -4.0,0a2.0,2.0 0 1 0 4.0,0M223.4,531.0a2.0,2.0 0 1 0 -4.0,0a2.0,2.0 0 1 0 4.0,0M225.5,538.1a2.0,2.0 0 1 0 -4.0,0a2.0,2.0 0 1 0 4.0,0M228.3,540.4a2.0,2.0 0 1 0 -4.0,0a2.0,2.0 0 1 0 4.0,0M230.0,543.1a2.0,2.0 0 1 0 -4.0,0a2.0,2.0 0 1 0 4.0,0M232.3,545.4a2.0,2.0 0 1 0 -4.0,0a2.0,2.0 0 1 0 4.0,0M234.6,546.1a2.0,2.0 0 1 0 -4.0,0a2.0,2.0 0 1 0 4.0,0M237.4,546.7a2.0,2.0 0 1 0 -4.0,0a2.0,2.0 0 1 0 4.0,0M239.3,546.4a2.0,2.0 0 1 0 -4.0,0a2.0,2.0 0 1 0 4.0,0M241.4,547.8a2.0,2.0 0 1 0 -4.0,0a2.0,2.0 0 1 0 4.0,0M243.1,547.9a2.0,2.0 0 1 0 -4.0,0a2.0,2.0 0 1 0 4.0,0M244.9,549.7a2.0,2.0 0 1 0 -4.0,0a2.0,2.0 0 1 0 4.0,0M248.3,549.5a2.0,2.0 0 1 0 -4.0,0a2.0,2.0 0 1 0 4.0,0M250.5,549.1a2.0,2.0 0 1 0 -4.0,0a2.0,2.0 0 1 0 4.0,0M252.1,550.0a2.0,2.0 0 1 0 -4.0,0a2.0,2.0 0 1 0 4.0,0M254.7,549.3a2.0,2.0 0 1 0 -4.0,0a2.0,2.0 0 1 0 4.0,0M257.0,550.8a2.0,2.0 0 1 0 -4.0,0a2.0,2.0 0 1 0 4.0,0M259.2,550.1a2.0,2.0 0 1 0 -4.0,0a2.0,2.0 0 1 0 4.0,0M261.5,550.9a2.0,2.0 0 1 0 -4.0,0a2.0,2.0 0 1 0 4.0,0M263.0,549.4a2.0,2.0 0 1 0 -4.0,0a2.0,2.0 0 1 0 4.0,0M266.2,551.1a2.0,2.0 0 1 0 -4.0,0a2.0,2.0 0 1 0 4.0,0M267.0,549.5a2.0,2.0 0 1 0 -4.0,0a2.0,2.0 0 1 0 4.0,0M270.2,549.4a2.0,2.0 0 1 0 -4.0,0a2.0,2.0 0 1 0 4.0,0M272.2,551.2a2.0,2.0 0 1 0 -4.0,0a2.0,2.0 0 1 0 4.0,0M274.6,550.9a2.0,2.0 0 1 0 -4.0,0a2.0,2.0 0 1 0 4.0,0" fill="none" stroke="#b4b4b4" stroke-width="0.6"/>
<polyline points="48.2,530.5 48.7,530.5 49.2,530.5 49.7,530.6 50.2,530.6 50.7,530.6 51.2,530.6 51.7,530.7 52.2,530.7 52.7,530.7 53.2,530.7 53.7,530.8 54.2,530.8 54.7,530.8 55.2,530.8 55.7,530.8 56.2,530.9 56.7,530.9 57.2,530.9 57.7,530.9 58.2,531 58.7,531 59.2,531 59.7,531 60.2,531.1 60.7,531.1 61.2,531.1 61.7,531.1 62.2,531.1 62.7,531.2 63.2,531.2 63.7,531.2 64.2,531.2 64.7,531.3 65.2,531.3 65.7,531.3 66.2,531.3 66.7,531.3 67.2,531.4 67.7,531.4 68.2,531.4 68.7,531.4 69.2,531.4 69.7,531.4 70.2,531.5 70.7,531.5 71.2,531.5 71.7,531.5 72.2,531.5 72.7,531.5 73.2,531.5 73.7,531.5 74.2,531.6 74.7,531.6 75.2,531.6 75.7,531.6 76.2,531.6 76.7,531.6 77.2,531.6 77.7,531.6 78.2,531.5 78.7,531.5 79.2,531.5 79.7,531.5 80.2,531.5 80.7,531.4 81.2,531.4 81.7,531.4 82.2,531.3 82.7,531.3 83.2,531.2 83.7,531.2 84.2,531.1 84.7,531 85.2,530.9 85.7,530.9 86.2,530.8 86.7,530.6 87.2,530.5 87.7,530.4 88.2,530.3 88.7,530.1 89.2,530 89.7,529.8 90.2,529.6 90.7,529.5 91.2,529.3 91.7,529.1 92.2,528.9 92.7,528.7 93.2,528.4 93.7,528.2 94.2,527.9 94.7,527.7 95.2,527.4 95.7,527.1 96.2,526.8 96.7,526.5 97.2,526.2 97.7,525.8 98.2,525.5 98.7,525.1 99.2,524.8 99.7,524.4 100.2,524 100.7,523.6 101.2,523.2 101.7,522.8 102.2,522.4 102.7,522 103.2,521.6 103.7,521.2 104.2,520.8 104.7,520.3 105.2,519.9 105.7,519.5 106.2,519.1 106.7,518.8 107.2,518.4 107.7,518 108.2,517.7 108.7,517.3 109.2,517 109.7,516.7 110.2,516.4 110.7,516.2 111.2,515.9 111.7,515.7 112.2,515.5 112.7,515.4 113.2,515.2 113.7,515.1 114.2,515 114.7,515 115.2,515 115.7,515 116.2,515.1 116.7,515.2 117.2,515.3 117.7,515.5 118.2,515.7 118.7,515.9 119.2,516.2 119.7,516.5 120.2,516.8 120.7,517.1 121.2,517.5 121.7,517.8 122.2,518.2 122.7,518.6 123.2,519.1 123.7,519.5 124.2,520 124.7,520.4 125.2,520.9 125.7,521.3 126.2,521.8 126.7,522.3 127.2,522.7 127.7,523.2 128.2,523.7 128.7,524.1 129.2,524.5 129.7,525 130.2,525.4 130.7,525.8 131.2,526.1 131.7,526.5 132.2,526.8 132.7,527.1 133.2,527.3 133.7,527.5 134.2,527.7 134.7,527.8 135.2,527.9 135.7,527.9 136.2,527.9 136.7,527.9 137.2,527.9 137.7,527.8 138.2,527.7 138.7,527.6 139.2,527.5 139.7,527.3 140.2,527.1 140.7,526.9 141.2,526.7 141.7,526.4 142.2,526.2 142.7,525.9 143.2,525.6 143.7,525.4 144.2,525.1 144.7,524.8 145.2,524.5 145.7,524.2 146.2,524 146.7,523.7 147.2,523.5 147.7,523.3 148.2,523.1 148.7,522.9 149.2,522.8 149.7,522.6 150.2,522.5 150.7,522.3 151.2,522.2 151.7,522 152.2,521.9 152.7,521.8 153.2,521.8 153.7,521.7 154.2,521.7 154.7,521.6 155.2,521.6 155.7,521.6 156.2,521.5 156.7,521.5 157.2,521.4 157.7,521.3 158.2,521.1 158.7,521 159.2,520.7 159.7,520.4 160.2,520 160.7,519.6 161.2,519.1 161.7,518.5 162.2,517.9 162.7,517.2 163.2,516.5 163.7,515.7 164.2,514.9 164.7,513.9 165.2,512.9 165.7,511.7 166.2,510.3 166.7,508.9 167.2,507.3 167.7,505.6 168.2,503.8 168.7,501.9 169.2,499.9 169.7,498 170.2,496 170.7,494.1 171.2,492.2 171.7,490.4 172.2,488.8 172.7,487.4 173.2,486.2 173.7,485.2 174.2,484.5 174.7,484.1 175.2,484 175.7,484.3 176.2,484.9 176.7,485.8 177.2,487.2 177.7,488.8 178.2,490.8 178.7,493 179.2,495.5 179.7,498.1 180.2,500.9 180.7,503.7 181.2,506.6 181.7,509.4 182.2,512.2 182.7,514.9 183.2,517.5 183.7,519.9 184.2,522.2 184.7,524.3 185.2,526.2 185.7,528 186.2,529.5 186.7,530.9 187.2,532.1 187.7,533.2 188.2,534.1 188.7,534.8 189.2,535.4 189.7,535.9 190.2,536.3 190.7,536.6 191.2,536.8 191.7,536.9 192.2,536.9 192.7,536.8 193.2,536.7 193.7,536.5 194.2,536.2 194.7,535.8 195.2,535.4 195.7,535 196.2,534.4 196.7,533.9 197.2,533.2 197.7,532.6 198.2,531.9 198.7,531.2 199.2,530.4 199.7,529.7 200.2,529 200.7,528.2 201.2,527.5 201.7,526.8 202.2,526.2 202.7,525.6 203.2,525 203.7,524.5 204.2,524 204.7,523.7 205.2,523.4 205.7,523.1 206.2,523 206.7,523 207.2,523.1 207.7,523.3 208.2,523.5 208.7,523.8 209.2,524 209.7,524.2 210.2,524.3 210.7,524.3 211.2,524.2 211.7,523.9 212.2,523.5 212.7,523 213.2,522.4 213.7,521.8 214.2,521.2 214.7,520.8 215.2,520.5 215.7,520.4 216.2,520.5 216.7,520.8 217.2,521.4 217.7,522.1 218.2,523 218.7,524 219.2,525.1 219.7,526.3 220.2,527.6 220.7,528.9 221.2,530.2 221.7,531.5 222.2,532.8 222.7,534.1 223.2,535.3 223.7,536.5 224.2,537.5 224.7,538.6 225.2,539.5 225.7,540.3 226.2,541.1 226.7,541.7 227.2,542.4 227.7,542.9 228.2,543.4 228.7,543.8 229.2,544.3 229.7,544.6 230.2,545 230.7,545.3 231.2,545.6 231.7,545.8 232.2,546 232.7,546.2 233.2,546.4 233.7,546.6 234.2,546.7 234.7,546.9 235.2,547 235.7,547.1 236.2,547.2 236.7,547.3 237.2,547.4 237.7,547.5 238.2,547.6 238.7,547.7 239.2,547.8 239.7,547.9 240.2,548 240.7,548.1 241.2,548.2 241.7,548.3 242.2,548.4 242.7,548.5 243.2,548.6 243.7,548.6 244.2,548.7 244.7,548.8 245.2,548.8 245.7,548.9 246.2,548.9 246.7,549 247.2,549.1 247.7,549.1 248.2,549.2 248.7,549.2 249.2,549.3 249.7,549.3 250.2,549.4 250.7,549.4 251.2,549.5 251.7,549.6 252.2,549.6 252.7,549.7 253.2,549.7 253.7,549.8 254.2,549.8 254.7,549.9 255.2,549.9 255.7,550 256.2,550 256.7,550.1 257.2,550.1 257.7,550.2 258.2,550.3 258.7,550.3 259.2,550.4 259.7,550.4 260.2,550.5 260.7,550.5 261.2,550.6 261.7,550.6 262.2,550.7 262.7,550.7 263.2,550.8 263.7,550.8 264.2,550.9 264.7,550.9 265.2,551 265.7,551 266.2,551.1 266.7,551.1 267.2,551.2 267.7,551.3 268.2,551.3 268.7,551.4 269.2,551.4 269.7,551.5 270.2,551.5 270.7,551.6 271.2,551.6 271.7,551.7 272.2,551.7 272.7,551.8 273.2,551.8 273.7,551.9" fill="none" stroke="#3c3c3c" stroke-width="1.9" stroke-linejoin="round" />
<polygon points="124.7,621.6 125.7,621.7 126.7,621.8 127.7,621.9 128.7,622 129.7,622 130.7,622.1 131.7,622.2 132.7,622.3 133.7,622.4 134.7,622.4 135.7,622.5 136.7,622.6 137.7,622.7 138.7,622.8 139.7,622.8 140.7,622.9 141.7,623 142.7,623 143.7,623.1 144.7,623.1 145.7,623.1 146.7,623.1 147.7,623.1 148.7,623 149.7,622.8 150.7,622.5 151.7,622 152.7,621.4 153.7,620.4 154.7,619.2 155.7,617.7 156.7,615.8 157.7,613.6 158.7,611 159.7,608.1 160.7,605.1 161.7,601.9 162.7,598.9 163.7,596.2 164.7,594 165.7,592.4 166.7,591.6 167.7,591.7 168.7,592.4 169.7,593.8 170.7,595.8 171.7,598.2 172.7,600.8 173.7,603.7 174.7,606.6 175.7,609.5 176.7,612.2 177.7,614.7 178.7,617 179.7,618.9 180.7,620.7 181.7,622.1 182.7,623.3 183.7,624.3 184.7,625.1 185.7,625.7 186.7,626.2 187.7,626.6 188.7,626.9 189.7,627.2 190.7,627.4 191.7,627.6 192.7,627.7 193.7,627.9 194.7,628 195.7,628.1 196.7,628.3 197.7,628.4 198.7,628.5 199.7,628.6 200.7,628.7 201.7,628.9 202.7,629 203.7,629.1 204.7,629.2 205.7,629.3 206.7,629.4 207.7,629.5 208.7,629.6 209.7,629.7 210.7,629.8 211.7,630 212.7,630.1 213.7,630.2 214.7,630.3 215.7,630.4 215.7,630.5 214.7,630.4 213.7,630.3 212.7,630.2 211.7,630.1 210.7,630 209.7,629.9 208.7,629.8 207.7,629.7 206.7,629.6 205.7,629.5 204.7,629.4 203.7,629.3 202.7,629.2 201.7,629.1 200.7,628.9 199.7,628.8 198.7,628.7 197.7,628.6 196.7,628.5 195.7,628.4 194.7,628.3 193.7,628.2 192.7,628.1 191.7,628 190.7,627.9 189.7,627.8 188.7,627.7 187.7,627.6 186.7,627.5 185.7,627.4 184.7,627.3 183.7,627.2 182.7,627.1 181.7,627 180.7,626.9 179.7,626.8 178.7,626.7 177.7,626.6 176.7,626.5 175.7,626.4 174.7,626.3 173.7,626.2 172.7,626.1 171.7,626 170.7,625.9 169.7,625.8 168.7,625.7 167.7,625.6 166.7,625.5 165.7,625.4 164.7,625.3 163.7,625.2 162.7,625.1 161.7,625 160.7,624.9 159.7,624.9 158.7,624.8 157.7,624.7 156.7,624.6 155.7,624.5 154.7,624.4 153.7,624.3 152.7,624.2 151.7,624.1 150.7,624 149.7,624 148.7,623.9 147.7,623.8 146.7,623.7 145.7,623.6 144.7,623.5 143.7,623.4 142.7,623.3 141.7,623.2 140.7,623.2 139.7,623.1 138.7,623 137.7,622.9 136.7,622.8 135.7,622.7 134.7,622.6 133.7,622.5 132.7,622.4 131.7,622.3 130.7,622.3 129.7,622.2 128.7,622.1 127.7,622 126.7,621.9 125.7,621.8 124.7,621.7" fill="#f0999e" stroke="none" />
<polygon points="162.7,625 163.7,625.1 164.7,625.2 165.7,625.3 166.7,625.4 167.7,625.4 168.7,625.5 169.7,625.6 170.7,625.7 171.7,625.8 172.7,625.9 173.7,625.9 174.7,626 175.7,626 176.7,626.1 177.7,626.1 178.7,626 179.7,626 180.7,625.8 181.7,625.6 182.7,625.3 183.7,625 184.7,624.5 185.7,623.8 186.7,623.1 187.7,622.2 188.7,621.1 189.7,620 190.7,618.7 191.7,617.4 192.7,616.1 193.7,614.8 194.7,613.5 195.7,612.4 196.7,611.5 197.7,610.8 198.7,610.4 199.7,610.3 200.7,610.6 201.7,611.2 202.7,612.1 203.7,613.2 204.7,614.5 205.7,616 206.7,617.5 207.7,619.1 208.7,620.6 209.7,622 210.7,623.4 211.7,624.6 212.7,625.7 213.7,626.7 214.7,627.5 215.7,628.2 216.7,628.8 217.7,629.3 218.7,629.7 219.7,630.1 220.7,630.3 221.7,630.6 222.7,630.8 223.7,631 224.7,631.1 225.7,631.3 226.7,631.4 227.7,631.5 228.7,631.6 229.7,631.8 230.7,631.9 231.7,632 232.7,632.1 233.7,632.2 234.7,632.3 235.7,632.4 236.7,632.5 236.7,632.6 235.7,632.5 234.7,632.4 233.7,632.3 232.7,632.2 231.7,632.1 230.7,632 229.7,631.9 228.7,631.8 227.7,631.7 226.7,631.6 225.7,631.5 224.7,631.4 223.7,631.3 222.7,631.2 221.7,631.1 220.7,631 219.7,630.9 218.7,630.8 217.7,630.7 216.7,630.6 215.7,630.5 214.7,630.4 213.7,630.3 212.7,630.2 211.7,630.1 210.7,630 209.7,629.9 208.7,629.8 207.7,629.7 206.7,629.6 205.7,629.5 204.7,629.4 203.7,629.3 202.7,629.2 201.7,629.1 200.7,628.9 199.7,628.8 198.7,628.7 197.7,628.6 196.7,628.5 195.7,628.4 194.7,628.3 193.7,628.2 192.7,628.1 191.7,628 190.7,627.9 189.7,627.8 188.7,627.7 187.7,627.6 186.7,627.5 185.7,627.4 184.7,627.3 183.7,627.2 182.7,627.1 181.7,627 180.7,626.9 179.7,626.8 178.7,626.7 177.7,626.6 176.7,626.5 175.7,626.4 174.7,626.3 173.7,626.2 172.7,626.1 171.7,626 170.7,625.9 169.7,625.8 168.7,625.7 167.7,625.6 166.7,625.5 165.7,625.4 164.7,625.3 163.7,625.2 162.7,625.1" fill="#f7d676" stroke="none" />
<polygon points="190.2,627.8 191.2,627.9 192.2,628 193.2,628 194.2,628.1 195.2,628.2 196.2,628.3 197.2,628.4 198.2,628.4 199.2,628.5 200.2,628.4 201.2,628.3 202.2,627.9 203.2,627.2 204.2,626 205.2,624 206.2,621.1 207.2,617.4 208.2,613.1 209.2,608.8 210.2,605.1 211.2,602.9 212.2,602.7 213.2,603.6 214.2,605.4 215.2,607.8 216.2,610.7 217.2,613.7 218.2,616.8 219.2,619.6 220.2,622.2 221.2,624.4 222.2,626.2 223.2,627.7 224.2,628.8 225.2,629.7 226.2,630.3 227.2,630.8 228.2,631.1 229.2,631.4 230.2,631.6 231.2,631.7 232.2,631.9 233.2,632 234.2,632.2 235.2,632.3 236.2,632.4 237.2,632.5 238.2,632.6 239.2,632.7 240.2,632.9 241.2,633 242.2,633.1 243.2,633.2 244.2,633.3 244.7,633.4 244.7,633.5 244.2,633.4 243.2,633.3 242.2,633.2 241.2,633.1 240.2,633 239.2,632.9 238.2,632.8 237.2,632.7 236.2,632.6 235.2,632.5 234.2,632.4 233.2,632.3 232.2,632.2 231.2,632.1 230.2,632 229.2,631.9 228.2,631.8 227.2,631.7 226.2,631.6 225.2,631.5 224.2,631.4 223.2,631.3 222.2,631.2 221.2,631 220.2,630.9 219.2,630.8 218.2,630.7 217.2,630.6 216.2,630.5 215.2,630.4 214.2,630.3 213.2,630.2 212.2,630.1 211.2,630 210.2,629.9 209.2,629.8 208.2,629.7 207.2,629.6 206.2,629.5 205.2,629.4 204.2,629.3 203.2,629.2 202.2,629.1 201.2,629 200.2,628.9 199.2,628.8 198.2,628.7 197.2,628.6 196.2,628.5 195.2,628.4 194.2,628.3 193.2,628.2 192.2,628.1 191.2,628 190.2,627.9" fill="#fae6a6" stroke="none" />
<polygon points="64.7,616.2 65.7,616.3 66.7,616.4 67.7,616.5 68.7,616.6 69.7,616.6 70.7,616.7 71.7,616.8 72.7,616.9 73.7,616.9 74.7,617 75.7,617 76.7,617.1 77.7,617.1 78.7,617 79.7,617 80.7,616.9 81.7,616.8 82.7,616.6 83.7,616.4 84.7,616.1 85.7,615.7 86.7,615.2 87.7,614.6 88.7,614 89.7,613.2 90.7,612.4 91.7,611.6 92.7,610.6 93.7,609.7 94.7,608.7 95.7,607.8 96.7,606.9 97.7,606.2 98.7,605.5 99.7,605 100.7,604.7 101.7,604.7 102.7,604.8 103.7,605.1 104.7,605.7 105.7,606.4 106.7,607.3 107.7,608.3 108.7,609.4 109.7,610.5 110.7,611.6 111.7,612.7 112.7,613.8 113.7,614.9 114.7,615.8 115.7,616.7 116.7,617.5 117.7,618.2 118.7,618.8 119.7,619.4 120.7,619.8 121.7,620.2 122.7,620.6 123.7,620.8 124.7,621.1 125.7,621.3 126.7,621.5 127.7,621.7 128.7,621.8 129.7,621.9 130.7,622 131.7,622.2 132.7,622.3 133.7,622.4 134.7,622.5 135.7,622.6 136.7,622.7 137.7,622.8 138.7,622.9 139.2,622.9 139.2,623 138.7,623 137.7,622.9 136.7,622.8 135.7,622.7 134.7,622.6 133.7,622.5 132.7,622.4 131.7,622.3 130.7,622.3 129.7,622.2 128.7,622.1 127.7,622 126.7,621.9 125.7,621.8 124.7,621.7 123.7,621.6 122.7,621.5 121.7,621.5 120.7,621.4 119.7,621.3 118.7,621.2 117.7,621.1 116.7,621 115.7,620.9 114.7,620.8 113.7,620.7 112.7,620.6 111.7,620.6 110.7,620.5 109.7,620.4 108.7,620.3 107.7,620.2 106.7,620.1 105.7,620 104.7,619.9 103.7,619.8 102.7,619.7 101.7,619.7 100.7,619.6 99.7,619.5 98.7,619.4 97.7,619.3 96.7,619.2 95.7,619.1 94.7,619 93.7,618.9 92.7,618.9 91.7,618.8 90.7,618.7 89.7,618.6 88.7,618.5 87.7,618.4 86.7,618.3 85.7,618.2 84.7,618.1 83.7,618 82.7,618 81.7,617.9 80.7,617.8 79.7,617.7 78.7,617.6 77.7,617.5 76.7,617.4 75.7,617.3 74.7,617.2 73.7,617.1 72.7,617.1 71.7,617 70.7,616.9 69.7,616.8 68.7,616.7 67.7,616.6 66.7,616.5 65.7,616.4 64.7,616.3" fill="#c3e5d3" stroke="none" />
<polygon points="99.2,619.3 100.2,619.4 101.2,619.5 102.2,619.5 103.2,619.5 104.2,619.5 105.2,619.4 106.2,619.3 107.2,619 108.2,618.7 109.2,618.2 110.2,617.7 111.2,617 112.2,616.2 113.2,615.3 114.2,614.5 115.2,613.7 116.2,613.1 117.2,612.6 118.2,612.5 119.2,612.6 120.2,613 121.2,613.7 122.2,614.5 123.2,615.5 124.2,616.5 125.2,617.5 126.2,618.5 127.2,619.3 128.2,620.1 129.2,620.7 130.2,621.2 131.2,621.6 132.2,621.9 133.2,622.1 134.2,622.3 135.2,622.5 136.2,622.6 137.2,622.7 137.7,622.8 137.7,622.9 137.2,622.8 136.2,622.7 135.2,622.7 134.2,622.6 133.2,622.5 132.2,622.4 131.2,622.3 130.2,622.2 129.2,622.1 128.2,622 127.2,621.9 126.2,621.9 125.2,621.8 124.2,621.7 123.2,621.6 122.2,621.5 121.2,621.4 120.2,621.3 119.2,621.2 118.2,621.1 117.2,621 116.2,621 115.2,620.9 114.2,620.8 113.2,620.7 112.2,620.6 111.2,620.5 110.2,620.4 109.2,620.3 108.2,620.2 107.2,620.2 106.2,620.1 105.2,620 104.2,619.9 103.2,619.8 102.2,619.7 101.2,619.6 100.2,619.5 99.2,619.4" fill="#f7c2c4" stroke="none" />
<polygon points="100.7,619.5 101.7,619.6 102.7,619.6 103.7,619.7 104.7,619.8 105.7,619.9 106.7,620 107.7,620.1 108.7,620.1 109.7,620.2 110.7,620.3 111.7,620.4 112.7,620.5 113.7,620.6 114.7,620.6 115.7,620.7 116.7,620.8 117.7,620.9 118.7,620.9 119.7,621 120.7,621.1 121.7,621.1 122.7,621.2 123.7,621.2 124.7,621.2 125.7,621.2 126.7,621.2 127.7,621.1 128.7,621.1 129.7,621 130.7,620.8 131.7,620.7 132.7,620.4 133.7,620.1 134.7,619.8 135.7,619.4 136.7,618.9 137.7,618.4 138.7,617.8 139.7,617.1 140.7,616.4 141.7,615.6 142.7,614.7 143.7,613.8 144.7,612.8 145.7,611.8 146.7,610.9 147.7,609.9 148.7,608.9 149.7,608 150.7,607.2 151.7,606.4 152.7,605.8 153.7,605.2 154.7,604.9 155.7,604.6 156.7,604.6 157.7,604.7 158.7,605 159.7,605.5 160.7,606.1 161.7,606.8 162.7,607.7 163.7,608.7 164.7,609.7 165.7,610.9 166.7,612 167.7,613.2 168.7,614.3 169.7,615.5 170.7,616.6 171.7,617.7 172.7,618.8 173.7,619.7 174.7,620.7 175.7,621.5 176.7,622.3 177.7,623 178.7,623.6 179.7,624.2 180.7,624.7 181.7,625.1 182.7,625.5 183.7,625.9 184.7,626.2 185.7,626.5 186.7,626.7 187.7,626.9 188.7,627.2 189.7,627.3 190.7,627.5 191.7,627.7 192.7,627.8 193.7,627.9 194.7,628.1 195.7,628.2 196.7,628.3 197.7,628.4 198.7,628.6 199.7,628.7 200.7,628.8 201.7,628.9 202.7,629 203.7,629.1 204.7,629.2 205.7,629.3 206.7,629.4 207.7,629.5 208.7,629.7 209.7,629.8 210.7,629.9 211.7,630 212.7,630.1 213.2,630.1 213.2,630.2 212.7,630.2 211.7,630.1 210.7,630 209.7,629.9 208.7,629.8 207.7,629.7 206.7,629.6 205.7,629.5 204.7,629.4 203.7,629.3 202.7,629.2 201.7,629.1 200.7,628.9 199.7,628.8 198.7,628.7 197.7,628.6 196.7,628.5 195.7,628.4 194.7,628.3 193.7,628.2 192.7,628.1 191.7,628 190.7,627.9 189.7,627.8 188.7,627.7 187.7,627.6 186.7,627.5 185.7,627.4 184.7,627.3 183.7,627.2 182.7,627.1 181.7,627 180.7,626.9 179.7,626.8 178.7,626.7 177.7,626.6 176.7,626.5 175.7,626.4 174.7,626.3 173.7,626.2 172.7,626.1 171.7,626 170.7,625.9 169.7,625.8 168.7,625.7 167.7,625.6 166.7,625.5 165.7,625.4 164.7,625.3 163.7,625.2 162.7,625.1 161.7,625 160.7,624.9 159.7,624.9 158.7,624.8 157.7,624.7 156.7,624.6 155.7,624.5 154.7,624.4 153.7,624.3 152.7,624.2 151.7,624.1 150.7,624 149.7,624 148.7,623.9 147.7,623.8 146.7,623.7 145.7,623.6 144.7,623.5 143.7,623.4 142.7,623.3 141.7,623.2 140.7,623.2 139.7,623.1 138.7,623 137.7,622.9 136.7,622.8 135.7,622.7 134.7,622.6 133.7,622.5 132.7,622.4 131.7,622.3 130.7,622.3 129.7,622.2 128.7,622.1 127.7,622 126.7,621.9 125.7,621.8 124.7,621.7 123.7,621.6 122.7,621.5 121.7,621.5 120.7,621.4 119.7,621.3 118.7,621.2 117.7,621.1 116.7,621 115.7,620.9 114.7,620.8 113.7,620.7 112.7,620.6 111.7,620.6 110.7,620.5 109.7,620.4 108.7,620.3 107.7,620.2 106.7,620.1 105.7,620 104.7,619.9 103.7,619.8 102.7,619.7 101.7,619.7 100.7,619.6" fill="#9cd3b2" stroke="none" />
<polyline points="47.5,614.8 168,625.6 274.4,636.5" fill="none" stroke="#7d7d7d" stroke-width="1.6" stroke-linejoin="round" />
<path d="M52.1,606.9a2.4,2.4 0 1 0 -4.8,0a2.4,2.4 0 1 0 4.8,0M53.6,608.8a2.4,2.4 0 1 0 -4.8,0a2.4,2.4 0 1 0 4.8,0M55.6,608.8a2.4,2.4 0 1 0 -4.8,0a2.4,2.4 0 1 0 4.8,0M57.5,613.5a2.4,2.4 0 1 0 -4.8,0a2.4,2.4 0 1 0 4.8,0M59.6,604.5a2.4,2.4 0 1 0 -4.8,0a2.4,2.4 0 1 0 4.8,0M60.8,614.4a2.4,2.4 0 1 0 -4.8,0a2.4,2.4 0 1 0 4.8,0M63.0,610.9a2.4,2.4 0 1 0 -4.8,0a2.4,2.4 0 1 0 4.8,0M64.8,619.5a2.4,2.4 0 1 0 -4.8,0a2.4,2.4 0 1 0 4.8,0M65.9,619.9a2.4,2.4 0 1 0 -4.8,0a2.4,2.4 0 1 0 4.8,0M67.2,621.9a2.4,2.4 0 1 0 -4.8,0a2.4,2.4 0 1 0 4.8,0M69.9,619.1a2.4,2.4 0 1 0 -4.8,0a2.4,2.4 0 1 0 4.8,0M71.2,615.4a2.4,2.4 0 1 0 -4.8,0a2.4,2.4 0 1 0 4.8,0M71.7,619.7a2.4,2.4 0 1 0 -4.8,0a2.4,2.4 0 1 0 4.8,0M74.0,622.7a2.4,2.4 0 1 0 -4.8,0a2.4,2.4 0 1 0 4.8,0M76.3,612.8a2.4,2.4 0 1 0 -4.8,0a2.4,2.4 0 1 0 4.8,0M77.2,618.6a2.4,2.4 0 1 0 -4.8,0a2.4,2.4 0 1 0 4.8,0M79.3,615.6a2.4,2.4 0 1 0 -4.8,0a2.4,2.4 0 1 0 4.8,0M80.4,622.3a2.4,2.4 0 1 0 -4.8,0a2.4,2.4 0 1 0 4.8,0M83.2,611.8a2.4,2.4 0 1 0 -4.8,0a2.4,2.4 0 1 0 4.8,0M84.8,614.1a2.4,2.4 0 1 0 -4.8,0a2.4,2.4 0 1 0 4.8,0M86.5,616.9a2.4,2.4 0 1 0 -4.8,0a2.4,2.4 0 1 0 4.8,0M88.8,615.9a2.4,2.4 0 1 0 -4.8,0a2.4,2.4 0 1 0 4.8,0M89.6,606.4a2.4,2.4 0 1 0 -4.8,0a2.4,2.4 0 1 0 4.8,0M91.4,614.6a2.4,2.4 0 1 0 -4.8,0a2.4,2.4 0 1 0 4.8,0M94.2,611.2a2.4,2.4 0 1 0 -4.8,0a2.4,2.4 0 1 0 4.8,0M94.2,609.2a2.4,2.4 0 1 0 -4.8,0a2.4,2.4 0 1 0 4.8,0M97.0,608.0a2.4,2.4 0 1 0 -4.8,0a2.4,2.4 0 1 0 4.8,0M97.6,608.2a2.4,2.4 0 1 0 -4.8,0a2.4,2.4 0 1 0 4.8,0M100.1,597.4a2.4,2.4 0 1 0 -4.8,0a2.4,2.4 0 1 0 4.8,0M102.8,611.7a2.4,2.4 0 1 0 -4.8,0a2.4,2.4 0 1 0 4.8,0M103.5,599.8a2.4,2.4 0 1 0 -4.8,0a2.4,2.4 0 1 0 4.8,0M104.7,593.2a2.4,2.4 0 1 0 -4.8,0a2.4,2.4 0 1 0 4.8,0M108.0,603.3a2.4,2.4 0 1 0 -4.8,0a2.4,2.4 0 1 0 4.8,0M108.2,608.2a2.4,2.4 0 1 0 -4.8,0a2.4,2.4 0 1 0 4.8,0M110.1,603.5a2.4,2.4 0 1 0 -4.8,0a2.4,2.4 0 1 0 4.8,0M112.1,610.2a2.4,2.4 0 1 0 -4.8,0a2.4,2.4 0 1 0 4.8,0M112.9,611.1a2.4,2.4 0 1 0 -4.8,0a2.4,2.4 0 1 0 4.8,0M115.9,604.9a2.4,2.4 0 1 0 -4.8,0a2.4,2.4 0 1 0 4.8,0M117.8,600.5a2.4,2.4 0 1 0 -4.8,0a2.4,2.4 0 1 0 4.8,0M119.1,603.8a2.4,2.4 0 1 0 -4.8,0a2.4,2.4 0 1 0 4.8,0M120.6,610.7a2.4,2.4 0 1 0 -4.8,0a2.4,2.4 0 1 0 4.8,0M122.0,606.1a2.4,2.4 0 1 0 -4.8,0a2.4,2.4 0 1 0 4.8,0M124.2,605.7a2.4,2.4 0 1 0 -4.8,0a2.4,2.4 0 1 0 4.8,0M123.9,607.9a2.4,2.4 0 1 0 -4.8,0a2.4,2.4 0 1 0 4.8,0M127.1,613.4a2.4,2.4 0 1 0 -4.8,0a2.4,2.4 0 1 0 4.8,0M129.0,614.7a2.4,2.4 0 1 0 -4.8,0a2.4,2.4 0 1 0 4.8,0M129.6,618.1a2.4,2.4 0 1 0 -4.8,0a2.4,2.4 0 1 0 4.8,0M132.5,618.8a2.4,2.4 0 1 0 -4.8,0a2.4,2.4 0 1 0 4.8,0M133.9,613.4a2.4,2.4 0 1 0 -4.8,0a2.4,2.4 0 1 0 4.8,0M135.7,615.3a2.4,2.4 0 1 0 -4.8,0a2.4,2.4 0 1 0 4.8,0M137.5,612.3a2.4,2.4 0 1 0 -4.8,0a2.4,2.4 0 1 0 4.8,0M139.4,615.2a2.4,2.4 0 1 0 -4.8,0a2.4,2.4 0 1 0 4.8,0M141.0,611.0a2.4,2.4 0 1 0 -4.8,0a2.4,2.4 0 1 0 4.8,0M142.0,609.6a2.4,2.4 0 1 0 -4.8,0a2.4,2.4 0 1 0 4.8,0M144.1,617.4a2.4,2.4 0 1 0 -4.8,0a2.4,2.4 0 1 0 4.8,0M145.8,609.6a2.4,2.4 0 1 0 -4.8,0a2.4,2.4 0 1 0 4.8,0M147.6,609.2a2.4,2.4 0 1 0 -4.8,0a2.4,2.4 0 1 0 4.8,0M149.0,612.3a2.4,2.4 0 1 0 -4.8,0a2.4,2.4 0 1 0 4.8,0M151.5,605.3a2.4,2.4 0 1 0 -4.8,0a2.4,2.4 0 1 0 4.8,0M153.4,600.7a2.4,2.4 0 1 0 -4.8,0a2.4,2.4 0 1 0 4.8,0M155.2,599.1a2.4,2.4 0 1 0 -4.8,0a2.4,2.4 0 1 0 4.8,0M157.1,594.7a2.4,2.4 0 1 0 -4.8,0a2.4,2.4 0 1 0 4.8,0M158.5,597.5a2.4,2.4 0 1 0 -4.8,0a2.4,2.4 0 1 0 4.8,0M159.3,590.7a2.4,2.4 0 1 0 -4.8,0a2.4,2.4 0 1 0 4.8,0M160.9,593.1a2.4,2.4 0 1 0 -4.8,0a2.4,2.4 0 1 0 4.8,0M162.7,583.5a2.4,2.4 0 1 0 -4.8,0a2.4,2.4 0 1 0 4.8,0M164.9,579.9a2.4,2.4 0 1 0 -4.8,0a2.4,2.4 0 1 0 4.8,0M166.2,577.0a2.4,2.4 0 1 0 -4.8,0a2.4,2.4 0 1 0 4.8,0M168.5,578.3a2.4,2.4 0 1 0 -4.8,0a2.4,2.4 0 1 0 4.8,0M170.5,576.3a2.4,2.4 0 1 0 -4.8,0a2.4,2.4 0 1 0 4.8,0M171.2,580.5a2.4,2.4 0 1 0 -4.8,0a2.4,2.4 0 1 0 4.8,0M173.6,577.7a2.4,2.4 0 1 0 -4.8,0a2.4,2.4 0 1 0 4.8,0M174.6,583.8a2.4,2.4 0 1 0 -4.8,0a2.4,2.4 0 1 0 4.8,0M175.9,592.8a2.4,2.4 0 1 0 -4.8,0a2.4,2.4 0 1 0 4.8,0M177.6,592.0a2.4,2.4 0 1 0 -4.8,0a2.4,2.4 0 1 0 4.8,0M179.7,600.3a2.4,2.4 0 1 0 -4.8,0a2.4,2.4 0 1 0 4.8,0M180.7,608.7a2.4,2.4 0 1 0 -4.8,0a2.4,2.4 0 1 0 4.8,0M183.5,610.1a2.4,2.4 0 1 0 -4.8,0a2.4,2.4 0 1 0 4.8,0M185.8,609.8a2.4,2.4 0 1 0 -4.8,0a2.4,2.4 0 1 0 4.8,0M186.1,607.7a2.4,2.4 0 1 0 -4.8,0a2.4,2.4 0 1 0 4.8,0M188.2,621.0a2.4,2.4 0 1 0 -4.8,0a2.4,2.4 0 1 0 4.8,0M190.9,615.5a2.4,2.4 0 1 0 -4.8,0a2.4,2.4 0 1 0 4.8,0M192.0,617.3a2.4,2.4 0 1 0 -4.8,0a2.4,2.4 0 1 0 4.8,0M193.6,611.3a2.4,2.4 0 1 0 -4.8,0a2.4,2.4 0 1 0 4.8,0M195.1,616.3a2.4,2.4 0 1 0 -4.8,0a2.4,2.4 0 1 0 4.8,0M197.4,611.1a2.4,2.4 0 1 0 -4.8,0a2.4,2.4 0 1 0 4.8,0M198.8,608.4a2.4,2.4 0 1 0 -4.8,0a2.4,2.4 0 1 0 4.8,0M199.8,604.8a2.4,2.4 0 1 0 -4.8,0a2.4,2.4 0 1 0 4.8,0M200.8,608.2a2.4,2.4 0 1 0 -4.8,0a2.4,2.4 0 1 0 4.8,0M202.4,606.4a2.4,2.4 0 1 0 -4.8,0a2.4,2.4 0 1 0 4.8,0M205.7,608.1a2.4,2.4 0 1 0 -4.8,0a2.4,2.4 0 1 0 4.8,0M207.0,604.4a2.4,2.4 0 1 0 -4.8,0a2.4,2.4 0 1 0 4.8,0M209.5,605.8a2.4,2.4 0 1 0 -4.8,0a2.4,2.4 0 1 0 4.8,0M210.8,603.8a2.4,2.4 0 1 0 -4.8,0a2.4,2.4 0 1 0 4.8,0M211.6,595.8a2.4,2.4 0 1 0 -4.8,0a2.4,2.4 0 1 0 4.8,0M214.0,598.3a2.4,2.4 0 1 0 -4.8,0a2.4,2.4 0 1 0 4.8,0M216.2,602.6a2.4,2.4 0 1 0 -4.8,0a2.4,2.4 0 1 0 4.8,0M216.8,604.3a2.4,2.4 0 1 0 -4.8,0a2.4,2.4 0 1 0 4.8,0M218.7,607.5a2.4,2.4 0 1 0 -4.8,0a2.4,2.4 0 1 0 4.8,0M221.6,612.7a2.4,2.4 0 1 0 -4.8,0a2.4,2.4 0 1 0 4.8,0M221.5,624.0a2.4,2.4 0 1 0 -4.8,0a2.4,2.4 0 1 0 4.8,0M223.6,615.3a2.4,2.4 0 1 0 -4.8,0a2.4,2.4 0 1 0 4.8,0M226.3,622.4a2.4,2.4 0 1 0 -4.8,0a2.4,2.4 0 1 0 4.8,0M227.6,622.6a2.4,2.4 0 1 0 -4.8,0a2.4,2.4 0 1 0 4.8,0M228.6,626.2a2.4,2.4 0 1 0 -4.8,0a2.4,2.4 0 1 0 4.8,0M230.2,626.1a2.4,2.4 0 1 0 -4.8,0a2.4,2.4 0 1 0 4.8,0M232.8,622.0a2.4,2.4 0 1 0 -4.8,0a2.4,2.4 0 1 0 4.8,0M234.9,637.0a2.4,2.4 0 1 0 -4.8,0a2.4,2.4 0 1 0 4.8,0M236.4,628.9a2.4,2.4 0 1 0 -4.8,0a2.4,2.4 0 1 0 4.8,0M237.9,622.3a2.4,2.4 0 1 0 -4.8,0a2.4,2.4 0 1 0 4.8,0M240.1,624.8a2.4,2.4 0 1 0 -4.8,0a2.4,2.4 0 1 0 4.8,0M241.3,629.8a2.4,2.4 0 1 0 -4.8,0a2.4,2.4 0 1 0 4.8,0M242.4,632.6a2.4,2.4 0 1 0 -4.8,0a2.4,2.4 0 1 0 4.8,0M245.5,624.0a2.4,2.4 0 1 0 -4.8,0a2.4,2.4 0 1 0 4.8,0M245.6,633.8a2.4,2.4 0 1 0 -4.8,0a2.4,2.4 0 1 0 4.8,0M247.8,624.6a2.4,2.4 0 1 0 -4.8,0a2.4,2.4 0 1 0 4.8,0M249.6,627.6a2.4,2.4 0 1 0 -4.8,0a2.4,2.4 0 1 0 4.8,0M252.0,635.6a2.4,2.4 0 1 0 -4.8,0a2.4,2.4 0 1 0 4.8,0M252.6,639.8a2.4,2.4 0 1 0 -4.8,0a2.4,2.4 0 1 0 4.8,0M254.6,632.0a2.4,2.4 0 1 0 -4.8,0a2.4,2.4 0 1 0 4.8,0M255.5,631.3a2.4,2.4 0 1 0 -4.8,0a2.4,2.4 0 1 0 4.8,0M258.3,638.9a2.4,2.4 0 1 0 -4.8,0a2.4,2.4 0 1 0 4.8,0M260.0,628.5a2.4,2.4 0 1 0 -4.8,0a2.4,2.4 0 1 0 4.8,0M261.8,635.0a2.4,2.4 0 1 0 -4.8,0a2.4,2.4 0 1 0 4.8,0M262.7,635.1a2.4,2.4 0 1 0 -4.8,0a2.4,2.4 0 1 0 4.8,0M265.0,639.0a2.4,2.4 0 1 0 -4.8,0a2.4,2.4 0 1 0 4.8,0M266.2,636.1a2.4,2.4 0 1 0 -4.8,0a2.4,2.4 0 1 0 4.8,0M268.1,633.8a2.4,2.4 0 1 0 -4.8,0a2.4,2.4 0 1 0 4.8,0M270.0,638.2a2.4,2.4 0 1 0 -4.8,0a2.4,2.4 0 1 0 4.8,0M272.3,630.6a2.4,2.4 0 1 0 -4.8,0a2.4,2.4 0 1 0 4.8,0M273.2,639.8a2.4,2.4 0 1 0 -4.8,0a2.4,2.4 0 1 0 4.8,0" fill="none" stroke="#b4b4b4" stroke-width="0.6"/>
<polyline points="48.2,614.8 48.7,614.8 49.2,614.8 49.7,614.9 50.2,614.9 50.7,614.9 51.2,614.9 51.7,615 52.2,615 52.7,615 53.2,615 53.7,615 54.2,615.1 54.7,615.1 55.2,615.1 55.7,615.1 56.2,615.2 56.7,615.2 57.2,615.2 57.7,615.2 58.2,615.2 58.7,615.3 59.2,615.3 59.7,615.3 60.2,615.3 60.7,615.3 61.2,615.4 61.7,615.4 62.2,615.4 62.7,615.4 63.2,615.5 63.7,615.5 64.2,615.5 64.7,615.5 65.2,615.5 65.7,615.6 66.2,615.6 66.7,615.6 67.2,615.6 67.7,615.6 68.2,615.7 68.7,615.7 69.2,615.7 69.7,615.7 70.2,615.7 70.7,615.7 71.2,615.8 71.7,615.8 72.2,615.8 72.7,615.8 73.2,615.8 73.7,615.8 74.2,615.8 74.7,615.8 75.2,615.8 75.7,615.8 76.2,615.8 76.7,615.8 77.2,615.8 77.7,615.8 78.2,615.8 78.7,615.7 79.2,615.7 79.7,615.7 80.2,615.6 80.7,615.6 81.2,615.6 81.7,615.5 82.2,615.5 82.7,615.4 83.2,615.4 83.7,615.3 84.2,615.2 84.7,615 85.2,614.9 85.7,614.7 86.2,614.5 86.7,614.3 87.2,614.1 87.7,613.8 88.2,613.5 88.7,613.2 89.2,612.9 89.7,612.6 90.2,612.2 90.7,611.8 91.2,611.4 91.7,611 92.2,610.6 92.7,610.1 93.2,609.7 93.7,609.2 94.2,608.8 94.7,608.3 95.2,607.8 95.7,607.4 96.2,606.9 96.7,606.5 97.2,606.1 97.7,605.7 98.2,605.3 98.7,605 99.2,604.7 99.7,604.4 100.2,604.1 100.7,603.9 101.2,603.7 101.7,603.6 102.2,603.5 102.7,603.5 103.2,603.5 103.7,603.5 104.2,603.6 104.7,603.7 105.2,603.8 105.7,604 106.2,604.2 106.7,604.4 107.2,604.7 107.7,604.9 108.2,605.2 108.7,605.4 109.2,605.7 109.7,606 110.2,606.2 110.7,606.5 111.2,606.7 111.7,606.9 112.2,607.1 112.7,607.3 113.2,607.4 113.7,607.5 114.2,607.5 114.7,607.4 115.2,607.4 115.7,607.3 116.2,607.2 116.7,607.2 117.2,607.2 117.7,607.3 118.2,607.5 118.7,607.7 119.2,608 119.7,608.3 120.2,608.8 120.7,609.2 121.2,609.7 121.7,610.2 122.2,610.7 122.7,611.3 123.2,611.8 123.7,612.3 124.2,612.8 124.7,613.3 125.2,613.8 125.7,614.2 126.2,614.6 126.7,614.9 127.2,615.2 127.7,615.4 128.2,615.7 128.7,615.8 129.2,615.9 129.7,616 130.2,616.1 130.7,616.1 131.2,616 131.7,616 132.2,615.9 132.7,615.9 133.2,615.8 133.7,615.7 134.2,615.6 134.7,615.6 135.2,615.5 135.7,615.3 136.2,615.2 136.7,615 137.2,614.8 137.7,614.6 138.2,614.3 138.7,614 139.2,613.7 139.7,613.3 140.2,612.9 140.7,612.5 141.2,612 141.7,611.5 142.2,611 142.7,610.5 143.2,609.9 143.7,609.3 144.2,608.7 144.7,608.1 145.2,607.4 145.7,606.8 146.2,606.1 146.7,605.5 147.2,604.8 147.7,604.2 148.2,603.6 148.7,602.9 149.2,602.3 149.7,601.7 150.2,601.1 150.7,600.5 151.2,599.9 151.7,599.3 152.2,598.7 152.7,598.1 153.2,597.5 153.7,596.8 154.2,596.2 154.7,595.5 155.2,594.8 155.7,594 156.2,593.2 156.7,592.3 157.2,591.4 157.7,590.5 158.2,589.5 158.7,588.4 159.2,587.3 159.7,586.2 160.2,585.1 160.7,584 161.2,582.9 161.7,581.8 162.2,580.8 162.7,579.9 163.2,579.1 163.7,578.4 164.2,577.8 164.7,577.3 165.2,576.8 165.7,576.4 166.2,576.1 166.7,575.9 167.2,575.8 167.7,575.9 168.2,576 168.7,576.4 169.2,576.9 169.7,577.5 170.2,578.3 170.7,579.2 171.2,580.2 171.7,581.3 172.2,582.5 172.7,583.7 173.2,584.9 173.7,586.2 174.2,587.6 174.7,589.1 175.2,590.7 175.7,592.4 176.2,594.1 176.7,595.9 177.2,597.7 177.7,599.5 178.2,601.2 178.7,602.8 179.2,604.3 179.7,605.6 180.2,606.9 180.7,608.1 181.2,609.1 181.7,610.1 182.2,611 182.7,611.7 183.2,612.3 183.7,612.9 184.2,613.4 184.7,613.7 185.2,614 185.7,614.2 186.2,614.4 186.7,614.4 187.2,614.4 187.7,614.3 188.2,614.2 188.7,614.1 189.2,613.8 189.7,613.6 190.2,613.3 190.7,612.9 191.2,612.6 191.7,612.2 192.2,611.7 192.7,611.3 193.2,610.8 193.7,610.4 194.2,609.9 194.7,609.5 195.2,609 195.7,608.6 196.2,608.3 196.7,607.9 197.2,607.7 197.7,607.4 198.2,607.3 198.7,607.2 199.2,607.2 199.7,607.2 200.2,607.3 200.7,607.5 201.2,607.7 201.7,608 202.2,608.3 202.7,608.6 203.2,608.8 203.7,609 204.2,609 204.7,608.9 205.2,608.6 205.7,608.2 206.2,607.5 206.7,606.6 207.2,605.6 207.7,604.4 208.2,603.1 208.7,601.8 209.2,600.5 209.7,599.4 210.2,598.6 210.7,598.1 211.2,597.9 211.7,598.3 212.2,598.9 212.7,599.8 213.2,600.8 213.7,601.9 214.2,603.2 214.7,604.5 215.2,606 215.7,607.5 216.2,609.1 216.7,610.7 217.2,612.2 217.7,613.8 218.2,615.3 218.7,616.6 219.2,617.9 219.7,619.1 220.2,620.1 220.7,621 221.2,621.7 221.7,622.4 222.2,622.9 222.7,623.3 223.2,623.6 223.7,623.9 224.2,624.1 224.7,624.4 225.2,624.6 225.7,624.9 226.2,625.1 226.7,625.4 227.2,625.7 227.7,626 228.2,626.3 228.7,626.5 229.2,626.7 229.7,626.9 230.2,627.1 230.7,627.3 231.2,627.4 231.7,627.6 232.2,627.7 232.7,627.8 233.2,627.9 233.7,628.1 234.2,628.2 234.7,628.3 235.2,628.4 235.7,628.6 236.2,628.7 236.7,628.8 237.2,628.9 237.7,629.1 238.2,629.2 238.7,629.3 239.2,629.5 239.7,629.6 240.2,629.7 240.7,629.8 241.2,629.9 241.7,630.1 242.2,630.2 242.7,630.3 243.2,630.4 243.7,630.5 244.2,630.6 244.7,630.7 245.2,630.8 245.7,630.9 246.2,631.1 246.7,631.2 247.2,631.3 247.7,631.4 248.2,631.5 248.7,631.6 249.2,631.7 249.7,631.8 250.2,631.9 250.7,632 251.2,632.1 251.7,632.2 252.2,632.3 252.7,632.4 253.2,632.5 253.7,632.6 254.2,632.7 254.7,632.8 255.2,633 255.7,633.1 256.2,633.2 256.7,633.3 257.2,633.3 257.7,633.4 258.2,633.5 258.7,633.6 259.2,633.7 259.7,633.8 260.2,633.9 260.7,634 261.2,634.1 261.7,634.2 262.2,634.3 262.7,634.4 263.2,634.5 263.7,634.6 264.2,634.7 264.7,634.8 265.2,634.9 265.7,635 266.2,635.1 266.7,635.2 267.2,635.3 267.7,635.4 268.2,635.5 268.7,635.6 269.2,635.7 269.7,635.8 270.2,635.9 270.7,636 271.2,636.1 271.7,636.2 272.2,636.3 272.7,636.4 273.2,636.5 273.7,636.6" fill="none" stroke="#3c3c3c" stroke-width="1.9" stroke-linejoin="round" />
<rect x="47.50" y="465.50" width="226.90" height="183.50" fill="none" stroke="#505050" stroke-width="1.3"/>
<path d="M99.07,649.00v-4.5M150.64,649.00v-4.5M202.20,649.00v-4.5M253.77,649.00v-4.5M73.28,649.00v-2.8M124.85,649.00v-2.8M176.42,649.00v-2.8M227.99,649.00v-2.8" stroke="#505050" stroke-width="1.1" fill="none"/>
<text x="47.50" y="662.30" font-size="11" fill="#1a1a1a" font-weight="bold" text-anchor="middle" textLength="16.60" lengthAdjust="spacingAndGlyphs" >470</text>
<text x="99.07" y="662.30" font-size="11" fill="#1a1a1a" font-weight="bold" text-anchor="middle" textLength="16.60" lengthAdjust="spacingAndGlyphs" >465</text>
<text x="150.64" y="662.30" font-size="11" fill="#1a1a1a" font-weight="bold" text-anchor="middle" textLength="16.60" lengthAdjust="spacingAndGlyphs" >460</text>
<text x="202.20" y="662.30" font-size="11" fill="#1a1a1a" font-weight="bold" text-anchor="middle" textLength="16.60" lengthAdjust="spacingAndGlyphs" >455</text>
<text x="253.77" y="662.30" font-size="11" fill="#1a1a1a" font-weight="bold" text-anchor="middle" textLength="16.60" lengthAdjust="spacingAndGlyphs" >450</text>
<text x="160.40" y="673.80" font-size="10.8" fill="#1a1a1a" font-weight="bold" text-anchor="middle" textLength="92.80" lengthAdjust="spacingAndGlyphs" >Binding energy/eV</text>
<text x="37.80" y="560.40" font-size="10.9" fill="#1a1a1a" font-weight="bold" text-anchor="middle" textLength="74.00" lengthAdjust="spacingAndGlyphs" transform="rotate(-90 37.80 560.40)" >Intensity/(a.u.)</text>
<text x="3.90" y="475.50" font-size="23.5" fill="#111" font-weight="bold" textLength="30.30" lengthAdjust="spacingAndGlyphs" stroke="#111" stroke-width="0.25">(e)</text>
<text x="48.90" y="480.20" font-size="12.7" fill="#1a1a1a" textLength="31.00" lengthAdjust="spacingAndGlyphs" >Ti 2p</text>
<text x="116.50" y="490.80" font-size="11" fill="#1a1a1a" textLength="35.00" lengthAdjust="spacingAndGlyphs" >Ti 2p<tspan font-size="8.14" dy="3.30">1/2</tspan><tspan dy="-3.30">​</tspan></text>
<text x="187.10" y="484.30" font-size="11" fill="#1a1a1a" textLength="35.40" lengthAdjust="spacingAndGlyphs" >Ti 2p<tspan font-size="8.14" dy="3.30">3/2</tspan><tspan dy="-3.30">​</tspan></text>
<text x="49.60" y="547.10" font-size="11.2" fill="#1a1a1a" textLength="35.50" lengthAdjust="spacingAndGlyphs" >Ti<tspan font-size="8.29" dy="3.36">3</tspan><tspan dy="-3.36">​</tspan>C<tspan font-size="8.29" dy="3.36">2</tspan><tspan dy="-3.36">​</tspan>T<tspan font-size="8.29" dy="3.36">x</tspan><tspan dy="-3.36">​</tspan></text>
<text x="48.50" y="637.40" font-size="11.2" fill="#1a1a1a" textLength="61.00" lengthAdjust="spacingAndGlyphs" >CoP-Ti<tspan font-size="8.29" dy="3.36">3</tspan><tspan dy="-3.36">​</tspan>C<tspan font-size="8.29" dy="3.36">2</tspan><tspan dy="-3.36">​</tspan>T<tspan font-size="8.29" dy="3.36">x</tspan><tspan dy="-3.36">​</tspan></text>
<text x="94.20" y="517.30" font-size="8.2" fill="#2f7a55" textLength="14.80" lengthAdjust="spacingAndGlyphs" stroke="#2f7a55" stroke-width="0.3">Ti-O</text>
<text x="129.20" y="521.60" font-size="8.2" fill="#b8323a" textLength="15.90" lengthAdjust="spacingAndGlyphs" stroke="#b8323a" stroke-width="0.3">Ti-O</text>
<text x="149.00" y="511.30" font-size="8.2" fill="#2f7a55" textLength="14.90" lengthAdjust="spacingAndGlyphs" stroke="#2f7a55" stroke-width="0.3">Ti-O</text>
<text x="182.70" y="502.00" font-size="8.2" fill="#b8323a" textLength="14.30" lengthAdjust="spacingAndGlyphs" stroke="#b8323a" stroke-width="0.3">Ti-C</text>
<text x="209.20" y="517.50" font-size="8.2" fill="#8f7a35" textLength="12.20" lengthAdjust="spacingAndGlyphs" stroke="#8f7a35" stroke-width="0.3">Ti<tspan font-size="5.08" dy="-3.12">3+</tspan><tspan dy="3.12">​</tspan></text>
<polygon points="333.2,545.3 334.2,545.3 335.2,545.3 336.2,545.3 337.2,545.3 338.2,545.3 339.2,545.3 340.2,545.3 341.2,545.3 342.2,545.3 343.2,545.2 344.2,545.2 345.2,545.2 346.2,545.2 347.2,545.2 348.2,545.2 349.2,545.2 350.2,545.2 351.2,545.2 352.2,545.1 353.2,545.1 354.2,545.1 355.2,545.1 356.2,545.1 357.2,545.1 358.2,545.1 359.2,545.1 360.2,545.1 361.2,545.1 362.2,545 363.2,545 364.2,545 365.2,545 366.2,545 367.2,545 368.2,545 369.2,545 370.2,545 371.2,544.9 372.2,544.9 373.2,544.9 374.2,544.9 375.2,544.9 376.2,544.9 377.2,544.9 378.2,544.9 379.2,544.9 380.2,544.8 381.2,544.8 382.2,544.8 383.2,544.8 384.2,544.8 385.2,544.8 386.2,544.8 387.2,544.8 388.2,544.8 389.2,544.7 390.2,544.7 391.2,544.7 392.2,544.7 393.2,544.7 394.2,544.7 395.2,544.7 396.2,544.7 397.2,544.6 398.2,544.6 399.2,544.6 400.2,544.6 401.2,544.6 402.2,544.6 403.2,544.6 404.2,544.5 405.2,544.5 406.2,544.5 407.2,544.5 408.2,544.5 409.2,544.5 410.2,544.5 411.2,544.5 412.2,544.4 413.2,544.4 414.2,544.4 415.2,544.4 416.2,544.4 417.2,544.4 418.2,544.3 419.2,544.3 420.2,544.3 421.2,544.3 422.2,544.3 423.2,544.3 424.2,544.2 425.2,544.2 426.2,544.2 427.2,544.2 428.2,544.2 429.2,544.2 430.2,544.1 431.2,544.1 432.2,544.1 433.2,544.1 434.2,544.1 435.2,544 436.2,544 437.2,544 438.2,544 439.2,544 440.2,543.9 441.2,543.9 442.2,543.9 443.2,543.9 444.2,543.8 445.2,543.8 446.2,543.8 447.2,543.8 448.2,543.8 449.2,543.7 450.2,543.7 451.2,543.7 452.2,543.7 453.2,543.6 454.2,543.6 455.2,543.6 456.2,543.5 457.2,543.5 458.2,543.5 459.2,543.4 460.2,543.4 461.2,543.3 462.2,543.3 463.2,543.3 464.2,543.2 465.2,543.2 466.2,543.1 467.2,543.1 468.2,543 469.2,542.9 470.2,542.9 471.2,542.8 472.2,542.7 473.2,542.7 474.2,542.6 475.2,542.5 476.2,542.4 477.2,542.3 478.2,542.2 479.2,542.1 480.2,542 481.2,541.8 482.2,541.7 483.2,541.5 484.2,541.3 485.2,541.1 486.2,540.9 487.2,540.7 488.2,540.4 489.2,540 490.2,539.6 491.2,539.2 492.2,538.6 493.2,538 494.2,537.3 495.2,536.4 496.2,535.4 497.2,534.2 498.2,532.9 499.2,531.3 500.2,529.6 501.2,527.6 502.2,525.4 503.2,522.9 504.2,520.2 505.2,517.3 506.2,514.2 507.2,511 508.2,507.6 509.2,504.2 510.2,500.8 511.2,497.6 512.2,494.6 513.2,492 514.2,489.9 515.2,488.4 516.2,487.7 517.2,487.8 518.2,488.4 519.2,489.7 520.2,491.4 521.2,493.6 522.2,496 523.2,498.8 524.2,501.7 525.2,504.6 526.2,507.6 527.2,510.6 528.2,513.4 529.2,516.2 530.2,518.8 531.2,521.2 532.2,523.5 533.2,525.6 534.2,527.5 535.2,529.2 536.2,530.8 537.2,532.2 538.2,533.5 539.2,534.5 540.2,535.5 541.2,536.4 542.2,537.1 543.2,537.7 544.2,538.3 545.2,538.8 546.2,539.2 547.2,539.6 548.2,539.9 549.2,540.2 550.2,540.4 551.2,540.6 551.7,540.7 551.7,544 551.2,544 550.2,544 549.2,544 548.2,544 547.2,544 546.2,544 545.2,544 544.2,544 543.2,544 542.2,544 541.2,544.1 540.2,544.1 539.2,544.1 538.2,544.1 537.2,544.1 536.2,544.1 535.2,544.1 534.2,544.1 533.2,544.1 532.2,544.1 531.2,544.1 530.2,544.1 529.2,544.1 528.2,544.1 527.2,544.1 526.2,544.1 525.2,544.1 524.2,544.1 523.2,544.1 522.2,544.1 521.2,544.1 520.2,544.1 519.2,544.1 518.2,544.2 517.2,544.2 516.2,544.2 515.2,544.2 514.2,544.2 513.2,544.2 512.2,544.2 511.2,544.2 510.2,544.2 509.2,544.2 508.2,544.2 507.2,544.2 506.2,544.2 505.2,544.2 504.2,544.2 503.2,544.2 502.2,544.2 501.2,544.2 500.2,544.2 499.2,544.2 498.2,544.2 497.2,544.2 496.2,544.3 495.2,544.3 494.2,544.3 493.2,544.3 492.2,544.3 491.2,544.3 490.2,544.3 489.2,544.3 488.2,544.3 487.2,544.3 486.2,544.3 485.2,544.3 484.2,544.3 483.2,544.3 482.2,544.3 481.2,544.3 480.2,544.3 479.2,544.3 478.2,544.3 477.2,544.3 476.2,544.3 475.2,544.3 474.2,544.3 473.2,544.4 472.2,544.4 471.2,544.4 470.2,544.4 469.2,544.4 468.2,544.4 467.2,544.4 466.2,544.4 465.2,544.4 464.2,544.4 463.2,544.4 462.2,544.4 461.2,544.4 460.2,544.4 459.2,544.4 458.2,544.4 457.2,544.4 456.2,544.4 455.2,544.4 454.2,544.4 453.2,544.4 452.2,544.4 451.2,544.5 450.2,544.5 449.2,544.5 448.2,544.5 447.2,544.5 446.2,544.5 445.2,544.5 444.2,544.5 443.2,544.5 442.2,544.5 441.2,544.5 440.2,544.5 439.2,544.5 438.2,544.5 437.2,544.5 436.2,544.5 435.2,544.5 434.2,544.6 433.2,544.6 432.2,544.6 431.2,544.6 430.2,544.6 429.2,544.6 428.2,544.6 427.2,544.6 426.2,544.6 425.2,544.6 424.2,544.6 423.2,544.6 422.2,544.7 421.2,544.7 420.2,544.7 419.2,544.7 418.2,544.7 417.2,544.7 416.2,544.7 415.2,544.7 414.2,544.7 413.2,544.7 412.2,544.7 411.2,544.8 410.2,544.8 409.2,544.8 408.2,544.8 407.2,544.8 406.2,544.8 405.2,544.8 404.2,544.8 403.2,544.8 402.2,544.8 401.2,544.8 400.2,544.9 399.2,544.9 398.2,544.9 397.2,544.9 396.2,544.9 395.2,544.9 394.2,544.9 393.2,544.9 392.2,544.9 391.2,544.9 390.2,544.9 389.2,544.9 388.2,545 387.2,545 386.2,545 385.2,545 384.2,545 383.2,545 382.2,545 381.2,545 380.2,545 379.2,545 378.2,545 377.2,545.1 376.2,545.1 375.2,545.1 374.2,545.1 373.2,545.1 372.2,545.1 371.2,545.1 370.2,545.1 369.2,545.1 368.2,545.1 367.2,545.1 366.2,545.2 365.2,545.2 364.2,545.2 363.2,545.2 362.2,545.2 361.2,545.2 360.2,545.2 359.2,545.2 358.2,545.2 357.2,545.2 356.2,545.2 355.2,545.2 354.2,545.3 353.2,545.3 352.2,545.3 351.2,545.3 350.2,545.3 349.2,545.3 348.2,545.3 347.2,545.3 346.2,545.3 345.2,545.3 344.2,545.3 343.2,545.4 342.2,545.4 341.2,545.4 340.2,545.4 339.2,545.4 338.2,545.4 337.2,545.4 336.2,545.4 335.2,545.4 334.2,545.4 333.2,545.4" fill="#f0999e" stroke="none" />
<polygon points="348.7,545.2 349.7,545.2 350.7,545.2 351.7,545.2 352.7,545.2 353.7,545.2 354.7,545.1 355.7,545.1 356.7,545.1 357.7,545.1 358.7,545.1 359.7,545.1 360.7,545.1 361.7,545.1 362.7,545.1 363.7,545 364.7,545 365.7,545 366.7,545 367.7,545 368.7,545 369.7,545 370.7,545 371.7,545 372.7,544.9 373.7,544.9 374.7,544.9 375.7,544.9 376.7,544.9 377.7,544.9 378.7,544.9 379.7,544.9 380.7,544.9 381.7,544.8 382.7,544.8 383.7,544.8 384.7,544.8 385.7,544.8 386.7,544.8 387.7,544.8 388.7,544.8 389.7,544.7 390.7,544.7 391.7,544.7 392.7,544.7 393.7,544.7 394.7,544.7 395.7,544.7 396.7,544.7 397.7,544.6 398.7,544.6 399.7,544.6 400.7,544.6 401.7,544.6 402.7,544.6 403.7,544.6 404.7,544.5 405.7,544.5 406.7,544.5 407.7,544.5 408.7,544.5 409.7,544.5 410.7,544.5 411.7,544.4 412.7,544.4 413.7,544.4 414.7,544.4 415.7,544.4 416.7,544.4 417.7,544.3 418.7,544.3 419.7,544.3 420.7,544.3 421.7,544.3 422.7,544.2 423.7,544.2 424.7,544.2 425.7,544.2 426.7,544.2 427.7,544.1 428.7,544.1 429.7,544.1 430.7,544.1 431.7,544 432.7,544 433.7,544 434.7,543.9 435.7,543.9 436.7,543.9 437.7,543.9 438.7,543.8 439.7,543.8 440.7,543.8 441.7,543.7 442.7,543.7 443.7,543.7 444.7,543.6 445.7,543.6 446.7,543.5 447.7,543.5 448.7,543.4 449.7,543.4 450.7,543.3 451.7,543.3 452.7,543.2 453.7,543.1 454.7,543 455.7,542.9 456.7,542.8 457.7,542.7 458.7,542.6 459.7,542.4 460.7,542.2 461.7,542 462.7,541.8 463.7,541.5 464.7,541.2 465.7,540.9 466.7,540.5 467.7,540 468.7,539.5 469.7,538.9 470.7,538.2 471.7,537.5 472.7,536.7 473.7,535.8 474.7,534.8 475.7,533.8 476.7,532.6 477.7,531.4 478.7,530.2 479.7,528.8 480.7,527.5 481.7,526.1 482.7,524.7 483.7,523.3 484.7,521.9 485.7,520.6 486.7,519.4 487.7,518.3 488.7,517.4 489.7,516.6 490.7,516.1 491.7,515.8 492.7,515.8 493.7,516 494.7,516.5 495.7,517.2 496.7,518 497.7,519.1 498.7,520.3 499.7,521.6 500.7,522.9 501.7,524.3 502.7,525.7 503.7,527.1 504.7,528.5 505.7,529.8 506.7,531 507.7,532.3 508.7,533.4 509.7,534.4 510.7,535.4 511.7,536.3 512.7,537.1 513.7,537.9 514.7,538.6 515.7,539.1 516.7,539.7 517.7,540.1 518.7,540.5 519.7,540.9 520.7,541.2 521.7,541.5 522.7,541.7 523.7,541.9 524.7,542.1 525.7,542.3 526.7,542.4 527.7,542.5 528.7,542.6 529.7,542.7 530.7,542.8 531.7,542.8 532.7,542.9 533.7,543 534.7,543 535.7,543.1 536.7,543.1 537.7,543.1 538.7,543.2 539.7,543.2 540.7,543.2 541.7,543.3 542.7,543.3 543.7,543.3 544.7,543.3 545.7,543.3 546.7,543.4 547.7,543.4 548.7,543.4 549.7,543.4 550.7,543.4 551.7,543.4 551.7,544 550.7,544 549.7,544 548.7,544 547.7,544 546.7,544 545.7,544 544.7,544 543.7,544 542.7,544 541.7,544 540.7,544.1 539.7,544.1 538.7,544.1 537.7,544.1 536.7,544.1 535.7,544.1 534.7,544.1 533.7,544.1 532.7,544.1 531.7,544.1 530.7,544.1 529.7,544.1 528.7,544.1 527.7,544.1 526.7,544.1 525.7,544.1 524.7,544.1 523.7,544.1 522.7,544.1 521.7,544.1 520.7,544.1 519.7,544.1 518.7,544.2 517.7,544.2 516.7,544.2 515.7,544.2 514.7,544.2 513.7,544.2 512.7,544.2 511.7,544.2 510.7,544.2 509.7,544.2 508.7,544.2 507.7,544.2 506.7,544.2 505.7,544.2 504.7,544.2 503.7,544.2 502.7,544.2 501.7,544.2 500.7,544.2 499.7,544.2 498.7,544.2 497.7,544.2 496.7,544.2 495.7,544.3 494.7,544.3 493.7,544.3 492.7,544.3 491.7,544.3 490.7,544.3 489.7,544.3 488.7,544.3 487.7,544.3 486.7,544.3 485.7,544.3 484.7,544.3 483.7,544.3 482.7,544.3 481.7,544.3 480.7,544.3 479.7,544.3 478.7,544.3 477.7,544.3 476.7,544.3 475.7,544.3 474.7,544.3 473.7,544.4 472.7,544.4 471.7,544.4 470.7,544.4 469.7,544.4 468.7,544.4 467.7,544.4 466.7,544.4 465.7,544.4 464.7,544.4 463.7,544.4 462.7,544.4 461.7,544.4 460.7,544.4 459.7,544.4 458.7,544.4 457.7,544.4 456.7,544.4 455.7,544.4 454.7,544.4 453.7,544.4 452.7,544.4 451.7,544.4 450.7,544.5 449.7,544.5 448.7,544.5 447.7,544.5 446.7,544.5 445.7,544.5 444.7,544.5 443.7,544.5 442.7,544.5 441.7,544.5 440.7,544.5 439.7,544.5 438.7,544.5 437.7,544.5 436.7,544.5 435.7,544.5 434.7,544.5 433.7,544.6 432.7,544.6 431.7,544.6 430.7,544.6 429.7,544.6 428.7,544.6 427.7,544.6 426.7,544.6 425.7,544.6 424.7,544.6 423.7,544.6 422.7,544.7 421.7,544.7 420.7,544.7 419.7,544.7 418.7,544.7 417.7,544.7 416.7,544.7 415.7,544.7 414.7,544.7 413.7,544.7 412.7,544.7 411.7,544.7 410.7,544.8 409.7,544.8 408.7,544.8 407.7,544.8 406.7,544.8 405.7,544.8 404.7,544.8 403.7,544.8 402.7,544.8 401.7,544.8 400.7,544.8 399.7,544.9 398.7,544.9 397.7,544.9 396.7,544.9 395.7,544.9 394.7,544.9 393.7,544.9 392.7,544.9 391.7,544.9 390.7,544.9 389.7,544.9 388.7,545 387.7,545 386.7,545 385.7,545 384.7,545 383.7,545 382.7,545 381.7,545 380.7,545 379.7,545 378.7,545 377.7,545 376.7,545.1 375.7,545.1 374.7,545.1 373.7,545.1 372.7,545.1 371.7,545.1 370.7,545.1 369.7,545.1 368.7,545.1 367.7,545.1 366.7,545.1 365.7,545.2 364.7,545.2 363.7,545.2 362.7,545.2 361.7,545.2 360.7,545.2 359.7,545.2 358.7,545.2 357.7,545.2 356.7,545.2 355.7,545.2 354.7,545.3 353.7,545.3 352.7,545.3 351.7,545.3 350.7,545.3 349.7,545.3 348.7,545.3" fill="#9cd3b2" stroke="none" />
<polyline points="326.5,545.5 440,544.5 552.6,544" fill="none" stroke="#7d7d7d" stroke-width="1.6" stroke-linejoin="round" />
<path d="M331.9,545.8a2.0,2.0 0 1 0 -4.0,0a2.0,2.0 0 1 0 4.0,0M333.5,546.8a2.0,2.0 0 1 0 -4.0,0a2.0,2.0 0 1 0 4.0,0M334.2,545.1a2.0,2.0 0 1 0 -4.0,0a2.0,2.0 0 1 0 4.0,0M337.8,547.2a2.0,2.0 0 1 0 -4.0,0a2.0,2.0 0 1 0 4.0,0M337.8,547.7a2.0,2.0 0 1 0 -4.0,0a2.0,2.0 0 1 0 4.0,0M341.8,546.3a2.0,2.0 0 1 0 -4.0,0a2.0,2.0 0 1 0 4.0,0M342.1,547.1a2.0,2.0 0 1 0 -4.0,0a2.0,2.0 0 1 0 4.0,0M345.0,547.0a2.0,2.0 0 1 0 -4.0,0a2.0,2.0 0 1 0 4.0,0M347.4,546.4a2.0,2.0 0 1 0 -4.0,0a2.0,2.0 0 1 0 4.0,0M349.0,546.0a2.0,2.0 0 1 0 -4.0,0a2.0,2.0 0 1 0 4.0,0M350.5,545.0a2.0,2.0 0 1 0 -4.0,0a2.0,2.0 0 1 0 4.0,0M353.6,548.1a2.0,2.0 0 1 0 -4.0,0a2.0,2.0 0 1 0 4.0,0M354.1,546.8a2.0,2.0 0 1 0 -4.0,0a2.0,2.0 0 1 0 4.0,0M356.3,549.2a2.0,2.0 0 1 0 -4.0,0a2.0,2.0 0 1 0 4.0,0M359.7,547.7a2.0,2.0 0 1 0 -4.0,0a2.0,2.0 0 1 0 4.0,0M360.6,547.2a2.0,2.0 0 1 0 -4.0,0a2.0,2.0 0 1 0 4.0,0M363.1,546.4a2.0,2.0 0 1 0 -4.0,0a2.0,2.0 0 1 0 4.0,0M365.4,548.2a2.0,2.0 0 1 0 -4.0,0a2.0,2.0 0 1 0 4.0,0M366.9,546.5a2.0,2.0 0 1 0 -4.0,0a2.0,2.0 0 1 0 4.0,0M369.1,548.4a2.0,2.0 0 1 0 -4.0,0a2.0,2.0 0 1 0 4.0,0M371.1,546.7a2.0,2.0 0 1 0 -4.0,0a2.0,2.0 0 1 0 4.0,0M373.1,547.2a2.0,2.0 0 1 0 -4.0,0a2.0,2.0 0 1 0 4.0,0M375.6,545.6a2.0,2.0 0 1 0 -4.0,0a2.0,2.0 0 1 0 4.0,0M377.5,549.1a2.0,2.0 0 1 0 -4.0,0a2.0,2.0 0 1 0 4.0,0M379.2,546.9a2.0,2.0 0 1 0 -4.0,0a2.0,2.0 0 1 0 4.0,0M381.5,546.6a2.0,2.0 0 1 0 -4.0,0a2.0,2.0 0 1 0 4.0,0M382.7,547.7a2.0,2.0 0 1 0 -4.0,0a2.0,2.0 0 1 0 4.0,0M384.6,546.1a2.0,2.0 0 1 0 -4.0,0a2.0,2.0 0 1 0 4.0,0M386.5,547.6a2.0,2.0 0 1 0 -4.0,0a2.0,2.0 0 1 0 4.0,0M389.4,545.8a2.0,2.0 0 1 0 -4.0,0a2.0,2.0 0 1 0 4.0,0M391.8,547.3a2.0,2.0 0 1 0 -4.0,0a2.0,2.0 0 1 0 4.0,0M393.0,545.9a2.0,2.0 0 1 0 -4.0,0a2.0,2.0 0 1 0 4.0,0M394.0,545.1a2.0,2.0 0 1 0 -4.0,0a2.0,2.0 0 1 0 4.0,0M396.7,546.1a2.0,2.0 0 1 0 -4.0,0a2.0,2.0 0 1 0 4.0,0M399.2,545.3a2.0,2.0 0 1 0 -4.0,0a2.0,2.0 0 1 0 4.0,0M401.1,547.0a2.0,2.0 0 1 0 -4.0,0a2.0,2.0 0 1 0 4.0,0M403.0,546.5a2.0,2.0 0 1 0 -4.0,0a2.0,2.0 0 1 0 4.0,0M405.5,546.9a2.0,2.0 0 1 0 -4.0,0a2.0,2.0 0 1 0 4.0,0M407.5,546.4a2.0,2.0 0 1 0 -4.0,0a2.0,2.0 0 1 0 4.0,0M408.3,545.9a2.0,2.0 0 1 0 -4.0,0a2.0,2.0 0 1 0 4.0,0M411.2,546.2a2.0,2.0 0 1 0 -4.0,0a2.0,2.0 0 1 0 4.0,0M412.6,547.0a2.0,2.0 0 1 0 -4.0,0a2.0,2.0 0 1 0 4.0,0M415.1,545.8a2.0,2.0 0 1 0 -4.0,0a2.0,2.0 0 1 0 4.0,0M417.6,545.2a2.0,2.0 0 1 0 -4.0,0a2.0,2.0 0 1 0 4.0,0M419.9,544.9a2.0,2.0 0 1 0 -4.0,0a2.0,2.0 0 1 0 4.0,0M421.3,545.4a2.0,2.0 0 1 0 -4.0,0a2.0,2.0 0 1 0 4.0,0M422.7,544.8a2.0,2.0 0 1 0 -4.0,0a2.0,2.0 0 1 0 4.0,0M424.8,547.0a2.0,2.0 0 1 0 -4.0,0a2.0,2.0 0 1 0 4.0,0M427.3,544.1a2.0,2.0 0 1 0 -4.0,0a2.0,2.0 0 1 0 4.0,0M428.5,544.0a2.0,2.0 0 1 0 -4.0,0a2.0,2.0 0 1 0 4.0,0M431.0,544.6a2.0,2.0 0 1 0 -4.0,0a2.0,2.0 0 1 0 4.0,0M433.3,545.2a2.0,2.0 0 1 0 -4.0,0a2.0,2.0 0 1 0 4.0,0M435.5,544.2a2.0,2.0 0 1 0 -4.0,0a2.0,2.0 0 1 0 4.0,0M436.9,543.4a2.0,2.0 0 1 0 -4.0,0a2.0,2.0 0 1 0 4.0,0M439.2,543.3a2.0,2.0 0 1 0 -4.0,0a2.0,2.0 0 1 0 4.0,0M441.7,543.5a2.0,2.0 0 1 0 -4.0,0a2.0,2.0 0 1 0 4.0,0M443.2,544.5a2.0,2.0 0 1 0 -4.0,0a2.0,2.0 0 1 0 4.0,0M444.1,542.5a2.0,2.0 0 1 0 -4.0,0a2.0,2.0 0 1 0 4.0,0M447.1,543.0a2.0,2.0 0 1 0 -4.0,0a2.0,2.0 0 1 0 4.0,0M449.1,542.3a2.0,2.0 0 1 0 -4.0,0a2.0,2.0 0 1 0 4.0,0M450.8,542.8a2.0,2.0 0 1 0 -4.0,0a2.0,2.0 0 1 0 4.0,0M453.0,542.6a2.0,2.0 0 1 0 -4.0,0a2.0,2.0 0 1 0 4.0,0M454.3,540.6a2.0,2.0 0 1 0 -4.0,0a2.0,2.0 0 1 0 4.0,0M457.6,543.7a2.0,2.0 0 1 0 -4.0,0a2.0,2.0 0 1 0 4.0,0M459.2,541.2a2.0,2.0 0 1 0 -4.0,0a2.0,2.0 0 1 0 4.0,0M460.7,540.1a2.0,2.0 0 1 0 -4.0,0a2.0,2.0 0 1 0 4.0,0M463.1,539.1a2.0,2.0 0 1 0 -4.0,0a2.0,2.0 0 1 0 4.0,0M465.1,539.0a2.0,2.0 0 1 0 -4.0,0a2.0,2.0 0 1 0 4.0,0M466.6,538.4a2.0,2.0 0 1 0 -4.0,0a2.0,2.0 0 1 0 4.0,0M467.7,537.9a2.0,2.0 0 1 0 -4.0,0a2.0,2.0 0 1 0 4.0,0M469.6,536.2a2.0,2.0 0 1 0 -4.0,0a2.0,2.0 0 1 0 4.0,0M474.0,532.8a2.0,2.0 0 1 0 -4.0,0a2.0,2.0 0 1 0 4.0,0M474.4,529.6a2.0,2.0 0 1 0 -4.0,0a2.0,2.0 0 1 0 4.0,0M476.9,528.6a2.0,2.0 0 1 0 -4.0,0a2.0,2.0 0 1 0 4.0,0M479.3,526.4a2.0,2.0 0 1 0 -4.0,0a2.0,2.0 0 1 0 4.0,0M480.8,525.2a2.0,2.0 0 1 0 -4.0,0a2.0,2.0 0 1 0 4.0,0M483.6,523.0a2.0,2.0 0 1 0 -4.0,0a2.0,2.0 0 1 0 4.0,0M484.5,518.7a2.0,2.0 0 1 0 -4.0,0a2.0,2.0 0 1 0 4.0,0M487.3,517.1a2.0,2.0 0 1 0 -4.0,0a2.0,2.0 0 1 0 4.0,0M488.0,515.0a2.0,2.0 0 1 0 -4.0,0a2.0,2.0 0 1 0 4.0,0M491.4,512.5a2.0,2.0 0 1 0 -4.0,0a2.0,2.0 0 1 0 4.0,0M493.3,508.6a2.0,2.0 0 1 0 -4.0,0a2.0,2.0 0 1 0 4.0,0M495.2,508.5a2.0,2.0 0 1 0 -4.0,0a2.0,2.0 0 1 0 4.0,0M497.2,507.3a2.0,2.0 0 1 0 -4.0,0a2.0,2.0 0 1 0 4.0,0M499.1,505.9a2.0,2.0 0 1 0 -4.0,0a2.0,2.0 0 1 0 4.0,0M501.4,507.6a2.0,2.0 0 1 0 -4.0,0a2.0,2.0 0 1 0 4.0,0M503.5,504.1a2.0,2.0 0 1 0 -4.0,0a2.0,2.0 0 1 0 4.0,0M504.5,503.4a2.0,2.0 0 1 0 -4.0,0a2.0,2.0 0 1 0 4.0,0M507.5,501.8a2.0,2.0 0 1 0 -4.0,0a2.0,2.0 0 1 0 4.0,0M508.5,498.3a2.0,2.0 0 1 0 -4.0,0a2.0,2.0 0 1 0 4.0,0M511.1,493.7a2.0,2.0 0 1 0 -4.0,0a2.0,2.0 0 1 0 4.0,0M512.9,490.5a2.0,2.0 0 1 0 -4.0,0a2.0,2.0 0 1 0 4.0,0M515.2,486.5a2.0,2.0 0 1 0 -4.0,0a2.0,2.0 0 1 0 4.0,0M516.8,483.3a2.0,2.0 0 1 0 -4.0,0a2.0,2.0 0 1 0 4.0,0M519.2,482.6a2.0,2.0 0 1 0 -4.0,0a2.0,2.0 0 1 0 4.0,0M520.8,483.0a2.0,2.0 0 1 0 -4.0,0a2.0,2.0 0 1 0 4.0,0M522.5,485.1a2.0,2.0 0 1 0 -4.0,0a2.0,2.0 0 1 0 4.0,0M525.5,492.4a2.0,2.0 0 1 0 -4.0,0a2.0,2.0 0 1 0 4.0,0M527.3,494.4a2.0,2.0 0 1 0 -4.0,0a2.0,2.0 0 1 0 4.0,0M529.3,502.2a2.0,2.0 0 1 0 -4.0,0a2.0,2.0 0 1 0 4.0,0M531.5,505.1a2.0,2.0 0 1 0 -4.0,0a2.0,2.0 0 1 0 4.0,0M532.5,510.8a2.0,2.0 0 1 0 -4.0,0a2.0,2.0 0 1 0 4.0,0M535.5,515.5a2.0,2.0 0 1 0 -4.0,0a2.0,2.0 0 1 0 4.0,0M536.5,520.9a2.0,2.0 0 1 0 -4.0,0a2.0,2.0 0 1 0 4.0,0M539.2,523.2a2.0,2.0 0 1 0 -4.0,0a2.0,2.0 0 1 0 4.0,0M540.9,528.3a2.0,2.0 0 1 0 -4.0,0a2.0,2.0 0 1 0 4.0,0M543.1,529.6a2.0,2.0 0 1 0 -4.0,0a2.0,2.0 0 1 0 4.0,0M545.3,531.3a2.0,2.0 0 1 0 -4.0,0a2.0,2.0 0 1 0 4.0,0M547.0,532.4a2.0,2.0 0 1 0 -4.0,0a2.0,2.0 0 1 0 4.0,0M548.5,534.6a2.0,2.0 0 1 0 -4.0,0a2.0,2.0 0 1 0 4.0,0M551.5,535.6a2.0,2.0 0 1 0 -4.0,0a2.0,2.0 0 1 0 4.0,0" fill="none" stroke="#b4b4b4" stroke-width="0.6"/>
<polyline points="327.2,544 327.7,544 328.2,544 328.7,544 329.2,544 329.7,544 330.2,544.1 330.7,544.1 331.2,544.1 331.7,544.1 332.2,544.1 332.7,544.1 333.2,544.1 333.7,544.1 334.2,544.1 334.7,544.1 335.2,544.1 335.7,544.1 336.2,544.1 336.7,544.2 337.2,544.2 337.7,544.2 338.2,544.2 338.7,544.2 339.2,544.2 339.7,544.2 340.2,544.2 340.7,544.2 341.2,544.2 341.7,544.2 342.2,544.2 342.7,544.2 343.2,544.3 343.7,544.3 344.2,544.3 344.7,544.3 345.2,544.3 345.7,544.3 346.2,544.3 346.7,544.3 347.2,544.3 347.7,544.3 348.2,544.3 348.7,544.3 349.2,544.3 349.7,544.3 350.2,544.4 350.7,544.4 351.2,544.4 351.7,544.4 352.2,544.4 352.7,544.4 353.2,544.4 353.7,544.4 354.2,544.4 354.7,544.4 355.2,544.4 355.7,544.4 356.2,544.4 356.7,544.4 357.2,544.4 357.7,544.4 358.2,544.4 358.7,544.4 359.2,544.5 359.7,544.5 360.2,544.5 360.7,544.5 361.2,544.5 361.7,544.5 362.2,544.5 362.7,544.5 363.2,544.5 363.7,544.5 364.2,544.5 364.7,544.5 365.2,544.5 365.7,544.5 366.2,544.5 366.7,544.5 367.2,544.5 367.7,544.5 368.2,544.5 368.7,544.5 369.2,544.5 369.7,544.5 370.2,544.5 370.7,544.5 371.2,544.5 371.7,544.5 372.2,544.5 372.7,544.5 373.2,544.5 373.7,544.5 374.2,544.5 374.7,544.5 375.2,544.5 375.7,544.5 376.2,544.5 376.7,544.5 377.2,544.5 377.7,544.5 378.2,544.5 378.7,544.5 379.2,544.5 379.7,544.5 380.2,544.5 380.7,544.5 381.2,544.5 381.7,544.5 382.2,544.5 382.7,544.4 383.2,544.4 383.7,544.4 384.2,544.4 384.7,544.4 385.2,544.4 385.7,544.4 386.2,544.4 386.7,544.4 387.2,544.4 387.7,544.4 388.2,544.4 388.7,544.3 389.2,544.3 389.7,544.3 390.2,544.3 390.7,544.3 391.2,544.3 391.7,544.3 392.2,544.3 392.7,544.2 393.2,544.2 393.7,544.2 394.2,544.2 394.7,544.2 395.2,544.2 395.7,544.2 396.2,544.1 396.7,544.1 397.2,544.1 397.7,544.1 398.2,544.1 398.7,544.1 399.2,544 399.7,544 400.2,544 400.7,544 401.2,544 401.7,543.9 402.2,543.9 402.7,543.9 403.2,543.9 403.7,543.9 404.2,543.8 404.7,543.8 405.2,543.8 405.7,543.8 406.2,543.8 406.7,543.7 407.2,543.7 407.7,543.7 408.2,543.7 408.7,543.7 409.2,543.6 409.7,543.6 410.2,543.6 410.7,543.6 411.2,543.5 411.7,543.5 412.2,543.5 412.7,543.5 413.2,543.4 413.7,543.4 414.2,543.4 414.7,543.4 415.2,543.3 415.7,543.3 416.2,543.3 416.7,543.3 417.2,543.2 417.7,543.2 418.2,543.2 418.7,543.2 419.2,543.1 419.7,543.1 420.2,543.1 420.7,543 421.2,543 421.7,543 422.2,542.9 422.7,542.9 423.2,542.8 423.7,542.8 424.2,542.7 424.7,542.7 425.2,542.7 425.7,542.6 426.2,542.6 426.7,542.5 427.2,542.5 427.7,542.4 428.2,542.4 428.7,542.4 429.2,542.3 429.7,542.3 430.2,542.2 430.7,542.2 431.2,542.1 431.7,542.1 432.2,542 432.7,542 433.2,541.9 433.7,541.9 434.2,541.8 434.7,541.8 435.2,541.7 435.7,541.7 436.2,541.6 436.7,541.6 437.2,541.5 437.7,541.5 438.2,541.4 438.7,541.4 439.2,541.3 439.7,541.2 440.2,541.2 440.7,541.1 441.2,541.1 441.7,541 442.2,540.9 442.7,540.9 443.2,540.8 443.7,540.8 444.2,540.7 444.7,540.6 445.2,540.6 445.7,540.5 446.2,540.4 446.7,540.4 447.2,540.3 447.7,540.2 448.2,540.2 448.7,540.1 449.2,540 449.7,539.9 450.2,539.9 450.7,539.8 451.2,539.7 451.7,539.6 452.2,539.5 452.7,539.4 453.2,539.4 453.7,539.3 454.2,539.2 454.7,539.1 455.2,539 455.7,538.9 456.2,538.7 456.7,538.6 457.2,538.5 457.7,538.4 458.2,538.3 458.7,538.1 459.2,538 459.7,537.9 460.2,537.7 460.7,537.5 461.2,537.4 461.7,537.2 462.2,537 462.7,536.9 463.2,536.7 463.7,536.5 464.2,536.3 464.7,536 465.2,535.8 465.7,535.6 466.2,535.3 466.7,535 467.2,534.8 467.7,534.5 468.2,534.2 468.7,533.9 469.2,533.5 469.7,533.2 470.2,532.9 470.7,532.6 471.2,532.3 471.7,531.9 472.2,531.6 472.7,531.2 473.2,530.8 473.7,530.4 474.2,530 474.7,529.6 475.2,529.1 475.7,528.7 476.2,528.2 476.7,527.6 477.2,527.1 477.7,526.6 478.2,526 478.7,525.4 479.2,524.8 479.7,524.2 480.2,523.6 480.7,523 481.2,522.4 481.7,521.7 482.2,521.1 482.7,520.4 483.2,519.8 483.7,519.1 484.2,518.4 484.7,517.7 485.2,517 485.7,516.2 486.2,515.5 486.7,514.8 487.2,514.1 487.7,513.4 488.2,512.7 488.7,512.1 489.2,511.5 489.7,510.9 490.2,510.3 490.7,509.8 491.2,509.4 491.7,508.9 492.2,508.5 492.7,508.2 493.2,507.8 493.7,507.6 494.2,507.3 494.7,507.1 495.2,506.9 495.7,506.7 496.2,506.5 496.7,506.4 497.2,506.3 497.7,506.1 498.2,506 498.7,505.9 499.2,505.8 499.7,505.6 500.2,505.4 500.7,505.2 501.2,505 501.7,504.7 502.2,504.3 502.7,504 503.2,503.5 503.7,503 504.2,502.4 504.7,501.8 505.2,501.1 505.7,500.3 506.2,499.5 506.7,498.6 507.2,497.7 507.7,496.7 508.2,495.6 508.7,494.5 509.2,493.4 509.7,492.3 510.2,491.1 510.7,490 511.2,488.8 511.7,487.7 512.2,486.7 512.7,485.7 513.2,484.8 513.7,484 514.2,483.3 514.7,482.7 515.2,482.3 515.7,481.9 516.2,481.7 516.7,481.7 517.2,481.7 517.7,481.9 518.2,482.2 518.7,482.7 519.2,483.2 519.7,483.9 520.2,484.7 520.7,485.5 521.2,486.5 521.7,487.5 522.2,488.6 522.7,489.7 523.2,490.9 523.7,492.1 524.2,493.3 524.7,494.6 525.2,495.8 525.7,497 526.2,498.3 526.7,499.5 527.2,500.7 527.7,501.9 528.2,503.1 528.7,504.4 529.2,505.7 529.7,507 530.2,508.4 530.7,509.8 531.2,511.1 531.7,512.4 532.2,513.7 532.7,514.9 533.2,516.1 533.7,517.3 534.2,518.4 534.7,519.4 535.2,520.4 535.7,521.4 536.2,522.3 536.7,523.1 537.2,524 537.7,524.8 538.2,525.5 538.7,526.2 539.2,526.9 539.7,527.6 540.2,528.2 540.7,528.8 541.2,529.3 541.7,529.9 542.2,530.4 542.7,530.9 543.2,531.3 543.7,531.8 544.2,532.2 544.7,532.6 545.2,533 545.7,533.4 546.2,533.8 546.7,534.1 547.2,534.5 547.7,534.8 548.2,535.1 548.7,535.4 549.2,535.7 549.7,536 550.2,536.3 550.7,536.5 551.2,536.7 551.7,536.9" fill="none" stroke="#3c3c3c" stroke-width="1.6" stroke-linejoin="round" />
<polygon points="415.7,629.2 416.7,629.2 417.7,629.2 418.7,629.2 419.7,629.2 420.7,629.2 421.7,629.2 422.7,629.2 423.7,629.2 424.7,629.2 425.7,629.2 426.7,629.2 427.7,629.2 428.7,629.2 429.7,629.2 430.7,629.2 431.7,629.2 432.7,629.2 433.7,629.2 434.7,629.2 435.7,629.2 436.7,629.2 437.7,629.2 438.7,629.2 439.7,629.2 440.7,629.2 441.7,629.2 442.7,629.2 443.7,629.2 444.7,629.2 445.7,629.2 446.7,629.2 447.7,629.2 448.7,629.2 449.7,629.1 450.7,629.1 451.7,629.1 452.7,629.1 453.7,629.1 454.7,629.1 455.7,629.1 456.7,629.1 457.7,629.1 458.7,629.1 459.7,629.1 460.7,629.1 461.7,629.1 462.7,629.1 463.7,629 464.7,629 465.7,629 466.7,629 467.7,629 468.7,629 469.7,629 470.7,629 471.7,628.9 472.7,628.9 473.7,628.9 474.7,628.9 475.7,628.9 476.7,628.8 477.7,628.8 478.7,628.8 479.7,628.8 480.7,628.7 481.7,628.7 482.7,628.7 483.7,628.6 484.7,628.6 485.7,628.6 486.7,628.5 487.7,628.5 488.7,628.4 489.7,628.4 490.7,628.3 491.7,628.2 492.7,628.1 493.7,628 494.7,627.9 495.7,627.8 496.7,627.6 497.7,627.5 498.7,627.2 499.7,626.9 500.7,626.6 501.7,626.1 502.7,625.5 503.7,624.7 504.7,623.6 505.7,622.3 506.7,620.7 507.7,618.7 508.7,616.4 509.7,613.6 510.7,610.3 511.7,606.6 512.7,602.6 513.7,598.3 514.7,593.8 515.7,589.3 516.7,585 517.7,581.1 518.7,577.9 519.7,575.7 520.7,574.6 521.7,574.6 522.7,575.5 523.7,577.1 524.7,579.3 525.7,582.1 526.7,585.3 527.7,588.7 528.7,592.2 529.7,595.8 530.7,599.4 531.7,602.8 532.7,606 533.7,609 534.7,611.8 535.7,614.2 536.7,616.4 537.7,618.4 538.7,620 539.7,621.5 540.7,622.7 541.7,623.7 542.7,624.5 543.7,625.2 544.7,625.8 545.7,626.2 546.7,626.6 547.7,626.9 548.7,627.2 549.7,627.4 550.7,627.6 551.7,627.7 551.7,629.5 550.7,629.5 549.7,629.5 548.7,629.5 547.7,629.5 546.7,629.5 545.7,629.5 544.7,629.5 543.7,629.5 542.7,629.5 541.7,629.5 540.7,629.5 539.7,629.5 538.7,629.5 537.7,629.5 536.7,629.5 535.7,629.5 534.7,629.5 533.7,629.5 532.7,629.5 531.7,629.5 530.7,629.5 529.7,629.5 528.7,629.5 527.7,629.5 526.7,629.5 525.7,629.5 524.7,629.5 523.7,629.5 522.7,629.5 521.7,629.5 520.7,629.5 519.7,629.5 518.7,629.5 517.7,629.5 516.7,629.5 515.7,629.5 514.7,629.4 513.7,629.4 512.7,629.4 511.7,629.4 510.7,629.4 509.7,629.4 508.7,629.4 507.7,629.4 506.7,629.4 505.7,629.4 504.7,629.4 503.7,629.4 502.7,629.4 501.7,629.4 500.7,629.4 499.7,629.4 498.7,629.4 497.7,629.4 496.7,629.4 495.7,629.4 494.7,629.4 493.7,629.4 492.7,629.4 491.7,629.4 490.7,629.4 489.7,629.4 488.7,629.4 487.7,629.4 486.7,629.4 485.7,629.4 484.7,629.4 483.7,629.4 482.7,629.4 481.7,629.4 480.7,629.4 479.7,629.4 478.7,629.4 477.7,629.4 476.7,629.4 475.7,629.4 474.7,629.4 473.7,629.4 472.7,629.4 471.7,629.4 470.7,629.4 469.7,629.4 468.7,629.4 467.7,629.4 466.7,629.4 465.7,629.4 464.7,629.4 463.7,629.4 462.7,629.4 461.7,629.4 460.7,629.4 459.7,629.4 458.7,629.4 457.7,629.4 456.7,629.4 455.7,629.4 454.7,629.4 453.7,629.4 452.7,629.4 451.7,629.4 450.7,629.4 449.7,629.4 448.7,629.4 447.7,629.4 446.7,629.4 445.7,629.4 444.7,629.4 443.7,629.4 442.7,629.4 441.7,629.4 440.7,629.4 439.7,629.4 438.7,629.3 437.7,629.3 436.7,629.3 435.7,629.3 434.7,629.3 433.7,629.3 432.7,629.3 431.7,629.3 430.7,629.3 429.7,629.3 428.7,629.3 427.7,629.3 426.7,629.3 425.7,629.3 424.7,629.3 423.7,629.3 422.7,629.3 421.7,629.3 420.7,629.3 419.7,629.3 418.7,629.3 417.7,629.3 416.7,629.3 415.7,629.3" fill="#f0999e" stroke="none" />
<polygon points="436.2,629.2 437.2,629.2 438.2,629.1 439.2,629 440.2,628.9 441.2,628.7 442.2,628.4 443.2,628.1 444.2,627.7 445.2,627.2 446.2,626.7 447.2,626.2 448.2,625.8 449.2,625.4 450.2,625.2 451.2,625.2 452.2,625.3 453.2,625.6 454.2,626 455.2,626.4 456.2,626.9 457.2,627.4 458.2,627.9 459.2,628.2 460.2,628.6 461.2,628.8 462.2,629 463.2,629.1 464.2,629.2 465.2,629.3 465.7,629.3 465.7,629.4 465.2,629.4 464.2,629.4 463.2,629.4 462.2,629.4 461.2,629.4 460.2,629.4 459.2,629.4 458.2,629.4 457.2,629.4 456.2,629.4 455.2,629.4 454.2,629.4 453.2,629.4 452.2,629.4 451.2,629.4 450.2,629.4 449.2,629.4 448.2,629.4 447.2,629.4 446.2,629.4 445.2,629.4 444.2,629.4 443.2,629.4 442.2,629.4 441.2,629.4 440.2,629.4 439.2,629.3 438.2,629.3 437.2,629.3 436.2,629.3" fill="#f7d676" stroke="none" />
<polygon points="415.2,629.2 416.2,629.2 417.2,629.2 418.2,629.2 419.2,629.2 420.2,629.2 421.2,629.2 422.2,629.2 423.2,629.2 424.2,629.2 425.2,629.2 426.2,629.2 427.2,629.2 428.2,629.2 429.2,629.2 430.2,629.2 431.2,629.2 432.2,629.2 433.2,629.2 434.2,629.2 435.2,629.2 436.2,629.2 437.2,629.2 438.2,629.2 439.2,629.2 440.2,629.2 441.2,629.2 442.2,629.2 443.2,629.2 444.2,629.1 445.2,629.1 446.2,629.1 447.2,629.1 448.2,629.1 449.2,629.1 450.2,629.1 451.2,629.1 452.2,629.1 453.2,629.1 454.2,629.1 455.2,629.1 456.2,629.1 457.2,629 458.2,629 459.2,629 460.2,629 461.2,629 462.2,629 463.2,628.9 464.2,628.9 465.2,628.9 466.2,628.8 467.2,628.8 468.2,628.7 469.2,628.7 470.2,628.6 471.2,628.5 472.2,628.4 473.2,628.3 474.2,628.1 475.2,628 476.2,627.8 477.2,627.6 478.2,627.3 479.2,627 480.2,626.7 481.2,626.4 482.2,626 483.2,625.5 484.2,625 485.2,624.5 486.2,623.9 487.2,623.2 488.2,622.5 489.2,621.8 490.2,621 491.2,620.2 492.2,619.4 493.2,618.5 494.2,617.6 495.2,616.8 496.2,615.9 497.2,615 498.2,614.2 499.2,613.4 500.2,612.6 501.2,612 502.2,611.4 503.2,610.9 504.2,610.5 505.2,610.3 506.2,610.2 507.2,610.2 508.2,610.3 509.2,610.5 510.2,610.9 511.2,611.4 512.2,612 513.2,612.7 514.2,613.4 515.2,614.2 516.2,615 517.2,615.9 518.2,616.8 519.2,617.7 520.2,618.6 521.2,619.4 522.2,620.3 523.2,621.1 524.2,621.9 525.2,622.6 526.2,623.3 527.2,623.9 528.2,624.5 529.2,625.1 530.2,625.6 531.2,626 532.2,626.4 533.2,626.8 534.2,627.1 535.2,627.4 536.2,627.6 537.2,627.9 538.2,628.1 539.2,628.2 540.2,628.4 541.2,628.5 542.2,628.6 543.2,628.7 544.2,628.8 545.2,628.8 546.2,628.9 547.2,628.9 548.2,629 549.2,629 550.2,629 551.2,629.1 551.7,629.1 551.7,629.5 551.2,629.5 550.2,629.5 549.2,629.5 548.2,629.5 547.2,629.5 546.2,629.5 545.2,629.5 544.2,629.5 543.2,629.5 542.2,629.5 541.2,629.5 540.2,629.5 539.2,629.5 538.2,629.5 537.2,629.5 536.2,629.5 535.2,629.5 534.2,629.5 533.2,629.5 532.2,629.5 531.2,629.5 530.2,629.5 529.2,629.5 528.2,629.5 527.2,629.5 526.2,629.5 525.2,629.5 524.2,629.5 523.2,629.5 522.2,629.5 521.2,629.5 520.2,629.5 519.2,629.5 518.2,629.5 517.2,629.5 516.2,629.5 515.2,629.5 514.2,629.4 513.2,629.4 512.2,629.4 511.2,629.4 510.2,629.4 509.2,629.4 508.2,629.4 507.2,629.4 506.2,629.4 505.2,629.4 504.2,629.4 503.2,629.4 502.2,629.4 501.2,629.4 500.2,629.4 499.2,629.4 498.2,629.4 497.2,629.4 496.2,629.4 495.2,629.4 494.2,629.4 493.2,629.4 492.2,629.4 491.2,629.4 490.2,629.4 489.2,629.4 488.2,629.4 487.2,629.4 486.2,629.4 485.2,629.4 484.2,629.4 483.2,629.4 482.2,629.4 481.2,629.4 480.2,629.4 479.2,629.4 478.2,629.4 477.2,629.4 476.2,629.4 475.2,629.4 474.2,629.4 473.2,629.4 472.2,629.4 471.2,629.4 470.2,629.4 469.2,629.4 468.2,629.4 467.2,629.4 466.2,629.4 465.2,629.4 464.2,629.4 463.2,629.4 462.2,629.4 461.2,629.4 460.2,629.4 459.2,629.4 458.2,629.4 457.2,629.4 456.2,629.4 455.2,629.4 454.2,629.4 453.2,629.4 452.2,629.4 451.2,629.4 450.2,629.4 449.2,629.4 448.2,629.4 447.2,629.4 446.2,629.4 445.2,629.4 444.2,629.4 443.2,629.4 442.2,629.4 441.2,629.4 440.2,629.4 439.2,629.3 438.2,629.3 437.2,629.3 436.2,629.3 435.2,629.3 434.2,629.3 433.2,629.3 432.2,629.3 431.2,629.3 430.2,629.3 429.2,629.3 428.2,629.3 427.2,629.3 426.2,629.3 425.2,629.3 424.2,629.3 423.2,629.3 422.2,629.3 421.2,629.3 420.2,629.3 419.2,629.3 418.2,629.3 417.2,629.3 416.2,629.3 415.2,629.3" fill="#9cd3b2" stroke="none" />
<polygon points="345.7,629.1 346.7,629.1 347.7,629.1 348.7,629.1 349.7,629.1 350.7,629.1 351.7,629.1 352.7,629.1 353.7,629.1 354.7,629.1 355.7,629.1 356.7,629.1 357.7,629.1 358.7,629.1 359.7,629.1 360.7,629 361.7,629 362.7,629 363.7,629 364.7,629 365.7,629 366.7,628.9 367.7,628.9 368.7,628.9 369.7,628.8 370.7,628.8 371.7,628.7 372.7,628.6 373.7,628.4 374.7,628.3 375.7,628.1 376.7,627.8 377.7,627.5 378.7,627.2 379.7,626.8 380.7,626.3 381.7,625.7 382.7,625.1 383.7,624.4 384.7,623.7 385.7,622.9 386.7,622.1 387.7,621.3 388.7,620.6 389.7,619.9 390.7,619.3 391.7,618.8 392.7,618.4 393.7,618.3 394.7,618.3 395.7,618.6 396.7,619 397.7,619.5 398.7,620.2 399.7,620.9 400.7,621.7 401.7,622.5 402.7,623.2 403.7,624 404.7,624.7 405.7,625.4 406.7,626 407.7,626.5 408.7,627 409.7,627.4 410.7,627.7 411.7,628 412.7,628.2 413.7,628.4 414.7,628.6 415.7,628.7 416.7,628.8 417.7,628.8 418.7,628.9 419.7,629 420.7,629 421.7,629 422.7,629 423.7,629.1 424.7,629.1 425.7,629.1 426.7,629.1 427.7,629.1 428.7,629.1 429.7,629.2 430.7,629.2 431.7,629.2 432.7,629.2 433.7,629.2 434.7,629.2 435.7,629.2 436.7,629.2 437.7,629.2 438.7,629.2 439.7,629.2 440.7,629.2 441.7,629.2 442.2,629.3 442.2,629.4 441.7,629.4 440.7,629.4 439.7,629.4 438.7,629.3 437.7,629.3 436.7,629.3 435.7,629.3 434.7,629.3 433.7,629.3 432.7,629.3 431.7,629.3 430.7,629.3 429.7,629.3 428.7,629.3 427.7,629.3 426.7,629.3 425.7,629.3 424.7,629.3 423.7,629.3 422.7,629.3 421.7,629.3 420.7,629.3 419.7,629.3 418.7,629.3 417.7,629.3 416.7,629.3 415.7,629.3 414.7,629.3 413.7,629.3 412.7,629.3 411.7,629.3 410.7,629.3 409.7,629.3 408.7,629.3 407.7,629.3 406.7,629.3 405.7,629.3 404.7,629.3 403.7,629.3 402.7,629.3 401.7,629.3 400.7,629.3 399.7,629.3 398.7,629.3 397.7,629.3 396.7,629.3 395.7,629.3 394.7,629.3 393.7,629.3 392.7,629.3 391.7,629.3 390.7,629.3 389.7,629.3 388.7,629.3 387.7,629.3 386.7,629.3 385.7,629.3 384.7,629.3 383.7,629.3 382.7,629.3 381.7,629.3 380.7,629.3 379.7,629.3 378.7,629.3 377.7,629.3 376.7,629.3 375.7,629.3 374.7,629.3 373.7,629.3 372.7,629.3 371.7,629.3 370.7,629.3 369.7,629.3 368.7,629.3 367.7,629.3 366.7,629.3 365.7,629.3 364.7,629.3 363.7,629.2 362.7,629.2 361.7,629.2 360.7,629.2 359.7,629.2 358.7,629.2 357.7,629.2 356.7,629.2 355.7,629.2 354.7,629.2 353.7,629.2 352.7,629.2 351.7,629.2 350.7,629.2 349.7,629.2 348.7,629.2 347.7,629.2 346.7,629.2 345.7,629.2" fill="#86abdd" stroke="none" />
<polyline points="326.5,629.2 552.6,629.5" fill="none" stroke="#7d7d7d" stroke-width="1.6" stroke-linejoin="round" />
<path d="M331.5,627.7a2.0,2.0 0 1 0 -4.0,0a2.0,2.0 0 1 0 4.0,0M333.3,628.1a2.0,2.0 0 1 0 -4.0,0a2.0,2.0 0 1 0 4.0,0M334.7,628.1a2.0,2.0 0 1 0 -4.0,0a2.0,2.0 0 1 0 4.0,0M337.5,629.1a2.0,2.0 0 1 0 -4.0,0a2.0,2.0 0 1 0 4.0,0M340.3,628.7a2.0,2.0 0 1 0 -4.0,0a2.0,2.0 0 1 0 4.0,0M341.7,629.1a2.0,2.0 0 1 0 -4.0,0a2.0,2.0 0 1 0 4.0,0M344.7,629.8a2.0,2.0 0 1 0 -4.0,0a2.0,2.0 0 1 0 4.0,0M346.2,629.9a2.0,2.0 0 1 0 -4.0,0a2.0,2.0 0 1 0 4.0,0M348.6,629.7a2.0,2.0 0 1 0 -4.0,0a2.0,2.0 0 1 0 4.0,0M350.2,629.0a2.0,2.0 0 1 0 -4.0,0a2.0,2.0 0 1 0 4.0,0M354.0,628.9a2.0,2.0 0 1 0 -4.0,0a2.0,2.0 0 1 0 4.0,0M355.4,628.9a2.0,2.0 0 1 0 -4.0,0a2.0,2.0 0 1 0 4.0,0M357.9,629.4a2.0,2.0 0 1 0 -4.0,0a2.0,2.0 0 1 0 4.0,0M359.4,629.7a2.0,2.0 0 1 0 -4.0,0a2.0,2.0 0 1 0 4.0,0M361.1,629.0a2.0,2.0 0 1 0 -4.0,0a2.0,2.0 0 1 0 4.0,0M364.6,628.9a2.0,2.0 0 1 0 -4.0,0a2.0,2.0 0 1 0 4.0,0M365.8,630.2a2.0,2.0 0 1 0 -4.0,0a2.0,2.0 0 1 0 4.0,0M369.2,628.5a2.0,2.0 0 1 0 -4.0,0a2.0,2.0 0 1 0 4.0,0M370.5,629.8a2.0,2.0 0 1 0 -4.0,0a2.0,2.0 0 1 0 4.0,0M373.6,630.3a2.0,2.0 0 1 0 -4.0,0a2.0,2.0 0 1 0 4.0,0M374.6,629.0a2.0,2.0 0 1 0 -4.0,0a2.0,2.0 0 1 0 4.0,0M376.3,628.7a2.0,2.0 0 1 0 -4.0,0a2.0,2.0 0 1 0 4.0,0M379.7,628.5a2.0,2.0 0 1 0 -4.0,0a2.0,2.0 0 1 0 4.0,0M381.6,628.8a2.0,2.0 0 1 0 -4.0,0a2.0,2.0 0 1 0 4.0,0M383.8,626.8a2.0,2.0 0 1 0 -4.0,0a2.0,2.0 0 1 0 4.0,0M386.5,623.6a2.0,2.0 0 1 0 -4.0,0a2.0,2.0 0 1 0 4.0,0M387.8,622.7a2.0,2.0 0 1 0 -4.0,0a2.0,2.0 0 1 0 4.0,0M389.8,621.8a2.0,2.0 0 1 0 -4.0,0a2.0,2.0 0 1 0 4.0,0M392.0,620.0a2.0,2.0 0 1 0 -4.0,0a2.0,2.0 0 1 0 4.0,0M394.0,618.5a2.0,2.0 0 1 0 -4.0,0a2.0,2.0 0 1 0 4.0,0M396.1,617.6a2.0,2.0 0 1 0 -4.0,0a2.0,2.0 0 1 0 4.0,0M398.6,617.2a2.0,2.0 0 1 0 -4.0,0a2.0,2.0 0 1 0 4.0,0M400.9,620.3a2.0,2.0 0 1 0 -4.0,0a2.0,2.0 0 1 0 4.0,0M403.4,621.9a2.0,2.0 0 1 0 -4.0,0a2.0,2.0 0 1 0 4.0,0M405.2,623.9a2.0,2.0 0 1 0 -4.0,0a2.0,2.0 0 1 0 4.0,0M407.9,626.7a2.0,2.0 0 1 0 -4.0,0a2.0,2.0 0 1 0 4.0,0M410.6,626.8a2.0,2.0 0 1 0 -4.0,0a2.0,2.0 0 1 0 4.0,0M412.3,627.8a2.0,2.0 0 1 0 -4.0,0a2.0,2.0 0 1 0 4.0,0M414.8,628.7a2.0,2.0 0 1 0 -4.0,0a2.0,2.0 0 1 0 4.0,0M416.3,628.3a2.0,2.0 0 1 0 -4.0,0a2.0,2.0 0 1 0 4.0,0M419.1,628.2a2.0,2.0 0 1 0 -4.0,0a2.0,2.0 0 1 0 4.0,0M421.4,628.2a2.0,2.0 0 1 0 -4.0,0a2.0,2.0 0 1 0 4.0,0M423.0,629.4a2.0,2.0 0 1 0 -4.0,0a2.0,2.0 0 1 0 4.0,0M424.8,629.3a2.0,2.0 0 1 0 -4.0,0a2.0,2.0 0 1 0 4.0,0M427.7,628.5a2.0,2.0 0 1 0 -4.0,0a2.0,2.0 0 1 0 4.0,0M429.9,629.8a2.0,2.0 0 1 0 -4.0,0a2.0,2.0 0 1 0 4.0,0M432.9,629.0a2.0,2.0 0 1 0 -4.0,0a2.0,2.0 0 1 0 4.0,0M434.1,627.7a2.0,2.0 0 1 0 -4.0,0a2.0,2.0 0 1 0 4.0,0M437.3,629.3a2.0,2.0 0 1 0 -4.0,0a2.0,2.0 0 1 0 4.0,0M437.5,628.6a2.0,2.0 0 1 0 -4.0,0a2.0,2.0 0 1 0 4.0,0M440.8,627.4a2.0,2.0 0 1 0 -4.0,0a2.0,2.0 0 1 0 4.0,0M442.9,628.5a2.0,2.0 0 1 0 -4.0,0a2.0,2.0 0 1 0 4.0,0M445.1,627.1a2.0,2.0 0 1 0 -4.0,0a2.0,2.0 0 1 0 4.0,0M447.2,626.0a2.0,2.0 0 1 0 -4.0,0a2.0,2.0 0 1 0 4.0,0M449.7,625.7a2.0,2.0 0 1 0 -4.0,0a2.0,2.0 0 1 0 4.0,0M452.7,622.8a2.0,2.0 0 1 0 -4.0,0a2.0,2.0 0 1 0 4.0,0M454.0,623.5a2.0,2.0 0 1 0 -4.0,0a2.0,2.0 0 1 0 4.0,0M456.9,624.9a2.0,2.0 0 1 0 -4.0,0a2.0,2.0 0 1 0 4.0,0M458.5,626.4a2.0,2.0 0 1 0 -4.0,0a2.0,2.0 0 1 0 4.0,0M460.8,626.6a2.0,2.0 0 1 0 -4.0,0a2.0,2.0 0 1 0 4.0,0M461.7,626.9a2.0,2.0 0 1 0 -4.0,0a2.0,2.0 0 1 0 4.0,0M465.1,627.1a2.0,2.0 0 1 0 -4.0,0a2.0,2.0 0 1 0 4.0,0M467.6,627.8a2.0,2.0 0 1 0 -4.0,0a2.0,2.0 0 1 0 4.0,0M468.9,628.4a2.0,2.0 0 1 0 -4.0,0a2.0,2.0 0 1 0 4.0,0M471.4,626.5a2.0,2.0 0 1 0 -4.0,0a2.0,2.0 0 1 0 4.0,0M473.5,626.0a2.0,2.0 0 1 0 -4.0,0a2.0,2.0 0 1 0 4.0,0M477.1,627.3a2.0,2.0 0 1 0 -4.0,0a2.0,2.0 0 1 0 4.0,0M477.8,626.9a2.0,2.0 0 1 0 -4.0,0a2.0,2.0 0 1 0 4.0,0M480.1,625.9a2.0,2.0 0 1 0 -4.0,0a2.0,2.0 0 1 0 4.0,0M481.4,626.3a2.0,2.0 0 1 0 -4.0,0a2.0,2.0 0 1 0 4.0,0M484.1,625.4a2.0,2.0 0 1 0 -4.0,0a2.0,2.0 0 1 0 4.0,0M487.2,623.0a2.0,2.0 0 1 0 -4.0,0a2.0,2.0 0 1 0 4.0,0M488.7,621.8a2.0,2.0 0 1 0 -4.0,0a2.0,2.0 0 1 0 4.0,0M490.1,620.8a2.0,2.0 0 1 0 -4.0,0a2.0,2.0 0 1 0 4.0,0M493.6,617.9a2.0,2.0 0 1 0 -4.0,0a2.0,2.0 0 1 0 4.0,0M495.9,615.0a2.0,2.0 0 1 0 -4.0,0a2.0,2.0 0 1 0 4.0,0M498.2,613.9a2.0,2.0 0 1 0 -4.0,0a2.0,2.0 0 1 0 4.0,0M500.5,611.1a2.0,2.0 0 1 0 -4.0,0a2.0,2.0 0 1 0 4.0,0M502.2,609.9a2.0,2.0 0 1 0 -4.0,0a2.0,2.0 0 1 0 4.0,0M506.1,607.1a2.0,2.0 0 1 0 -4.0,0a2.0,2.0 0 1 0 4.0,0M506.6,604.9a2.0,2.0 0 1 0 -4.0,0a2.0,2.0 0 1 0 4.0,0M509.3,602.3a2.0,2.0 0 1 0 -4.0,0a2.0,2.0 0 1 0 4.0,0M510.7,597.3a2.0,2.0 0 1 0 -4.0,0a2.0,2.0 0 1 0 4.0,0M513.2,590.7a2.0,2.0 0 1 0 -4.0,0a2.0,2.0 0 1 0 4.0,0M514.9,582.6a2.0,2.0 0 1 0 -4.0,0a2.0,2.0 0 1 0 4.0,0M518.0,576.5a2.0,2.0 0 1 0 -4.0,0a2.0,2.0 0 1 0 4.0,0M519.9,569.2a2.0,2.0 0 1 0 -4.0,0a2.0,2.0 0 1 0 4.0,0M521.8,564.4a2.0,2.0 0 1 0 -4.0,0a2.0,2.0 0 1 0 4.0,0M523.5,567.5a2.0,2.0 0 1 0 -4.0,0a2.0,2.0 0 1 0 4.0,0M527.0,575.3a2.0,2.0 0 1 0 -4.0,0a2.0,2.0 0 1 0 4.0,0M529.3,583.0a2.0,2.0 0 1 0 -4.0,0a2.0,2.0 0 1 0 4.0,0M531.5,592.5a2.0,2.0 0 1 0 -4.0,0a2.0,2.0 0 1 0 4.0,0M533.3,600.7a2.0,2.0 0 1 0 -4.0,0a2.0,2.0 0 1 0 4.0,0M535.8,606.4a2.0,2.0 0 1 0 -4.0,0a2.0,2.0 0 1 0 4.0,0M538.1,611.0a2.0,2.0 0 1 0 -4.0,0a2.0,2.0 0 1 0 4.0,0M540.2,614.0a2.0,2.0 0 1 0 -4.0,0a2.0,2.0 0 1 0 4.0,0M542.8,616.5a2.0,2.0 0 1 0 -4.0,0a2.0,2.0 0 1 0 4.0,0M544.2,618.9a2.0,2.0 0 1 0 -4.0,0a2.0,2.0 0 1 0 4.0,0M546.6,622.2a2.0,2.0 0 1 0 -4.0,0a2.0,2.0 0 1 0 4.0,0M548.0,623.6a2.0,2.0 0 1 0 -4.0,0a2.0,2.0 0 1 0 4.0,0M551.9,624.1a2.0,2.0 0 1 0 -4.0,0a2.0,2.0 0 1 0 4.0,0" fill="none" stroke="#b4b4b4" stroke-width="0.6"/>
<polyline points="327.2,628.5 327.7,628.5 328.2,628.6 328.7,628.6 329.2,628.6 329.7,628.6 330.2,628.6 330.7,628.7 331.2,628.7 331.7,628.7 332.2,628.7 332.7,628.7 333.2,628.8 333.7,628.8 334.2,628.8 334.7,628.8 335.2,628.8 335.7,628.9 336.2,628.9 336.7,628.9 337.2,628.9 337.7,628.9 338.2,629 338.7,629 339.2,629 339.7,629 340.2,629 340.7,629.1 341.2,629.1 341.7,629.1 342.2,629.1 342.7,629.1 343.2,629.2 343.7,629.2 344.2,629.2 344.7,629.2 345.2,629.2 345.7,629.3 346.2,629.3 346.7,629.3 347.2,629.3 347.7,629.3 348.2,629.4 348.7,629.4 349.2,629.4 349.7,629.4 350.2,629.4 350.7,629.5 351.2,629.5 351.7,629.5 352.2,629.5 352.7,629.5 353.2,629.6 353.7,629.6 354.2,629.6 354.7,629.6 355.2,629.6 355.7,629.6 356.2,629.7 356.7,629.7 357.2,629.7 357.7,629.7 358.2,629.7 358.7,629.7 359.2,629.8 359.7,629.8 360.2,629.8 360.7,629.8 361.2,629.8 361.7,629.8 362.2,629.9 362.7,629.9 363.2,629.9 363.7,629.9 364.2,629.9 364.7,629.9 365.2,629.9 365.7,629.9 366.2,629.9 366.7,630 367.2,630 367.7,630 368.2,630 368.7,630 369.2,630 369.7,630 370.2,630 370.7,629.9 371.2,629.9 371.7,629.9 372.2,629.9 372.7,629.8 373.2,629.8 373.7,629.8 374.2,629.7 374.7,629.6 375.2,629.6 375.7,629.5 376.2,629.4 376.7,629.3 377.2,629.2 377.7,629 378.2,628.9 378.7,628.7 379.2,628.5 379.7,628.3 380.2,628 380.7,627.7 381.2,627.4 381.7,627 382.2,626.6 382.7,626.2 383.2,625.8 383.7,625.4 384.2,625 384.7,624.5 385.2,624 385.7,623.6 386.2,623.1 386.7,622.6 387.2,622.1 387.7,621.7 388.2,621.2 388.7,620.7 389.2,620.3 389.7,619.9 390.2,619.5 390.7,619.1 391.2,618.8 391.7,618.5 392.2,618.2 392.7,618 393.2,617.8 393.7,617.7 394.2,617.7 394.7,617.7 395.2,617.8 395.7,618 396.2,618.1 396.7,618.4 397.2,618.7 397.7,619 398.2,619.3 398.7,619.7 399.2,620 399.7,620.4 400.2,620.9 400.7,621.3 401.2,621.7 401.7,622.1 402.2,622.5 402.7,622.9 403.2,623.4 403.7,623.8 404.2,624.1 404.7,624.5 405.2,624.9 405.7,625.2 406.2,625.5 406.7,625.9 407.2,626.2 407.7,626.4 408.2,626.7 408.7,626.9 409.2,627.2 409.7,627.4 410.2,627.5 410.7,627.7 411.2,627.8 411.7,628 412.2,628.1 412.7,628.2 413.2,628.3 413.7,628.4 414.2,628.4 414.7,628.5 415.2,628.5 415.7,628.6 416.2,628.6 416.7,628.7 417.2,628.7 417.7,628.7 418.2,628.7 418.7,628.8 419.2,628.8 419.7,628.8 420.2,628.8 420.7,628.8 421.2,628.8 421.7,628.8 422.2,628.8 422.7,628.8 423.2,628.8 423.7,628.9 424.2,628.9 424.7,628.9 425.2,628.9 425.7,628.9 426.2,628.9 426.7,628.9 427.2,628.9 427.7,628.8 428.2,628.8 428.7,628.8 429.2,628.8 429.7,628.8 430.2,628.8 430.7,628.8 431.2,628.8 431.7,628.8 432.2,628.8 432.7,628.8 433.2,628.8 433.7,628.8 434.2,628.8 434.7,628.8 435.2,628.8 435.7,628.7 436.2,628.7 436.7,628.7 437.2,628.7 437.7,628.6 438.2,628.6 438.7,628.5 439.2,628.5 439.7,628.4 440.2,628.3 440.7,628.2 441.2,628.1 441.7,628 442.2,627.8 442.7,627.6 443.2,627.5 443.7,627.3 444.2,627 444.7,626.8 445.2,626.6 445.7,626.3 446.2,626 446.7,625.8 447.2,625.5 447.7,625.3 448.2,625.1 448.7,624.9 449.2,624.7 449.7,624.6 450.2,624.5 450.7,624.4 451.2,624.4 451.7,624.4 452.2,624.5 452.7,624.6 453.2,624.7 453.7,624.9 454.2,625.1 454.7,625.3 455.2,625.6 455.7,625.8 456.2,626 456.7,626.3 457.2,626.5 457.7,626.7 458.2,626.9 458.7,627.1 459.2,627.2 459.7,627.4 460.2,627.5 460.7,627.6 461.2,627.7 461.7,627.8 462.2,627.8 462.7,627.9 463.2,627.9 463.7,627.9 464.2,628 464.7,628 465.2,627.9 465.7,627.9 466.2,627.9 466.7,627.9 467.2,627.8 467.7,627.8 468.2,627.8 468.7,627.7 469.2,627.7 469.7,627.7 470.2,627.7 470.7,627.7 471.2,627.7 471.7,627.7 472.2,627.7 472.7,627.6 473.2,627.6 473.7,627.6 474.2,627.6 474.7,627.5 475.2,627.4 475.7,627.4 476.2,627.3 476.7,627.2 477.2,627.1 477.7,626.9 478.2,626.8 478.7,626.6 479.2,626.5 479.7,626.3 480.2,626.1 480.7,625.9 481.2,625.6 481.7,625.4 482.2,625.2 482.7,624.9 483.2,624.6 483.7,624.4 484.2,624.1 484.7,623.8 485.2,623.5 485.7,623.1 486.2,622.8 486.7,622.5 487.2,622.2 487.7,621.8 488.2,621.5 488.7,621.1 489.2,620.7 489.7,620.3 490.2,619.8 490.7,619.4 491.2,618.9 491.7,618.4 492.2,617.9 492.7,617.4 493.2,616.9 493.7,616.4 494.2,615.9 494.7,615.4 495.2,614.9 495.7,614.4 496.2,613.9 496.7,613.5 497.2,613 497.7,612.5 498.2,612 498.7,611.5 499.2,611 499.7,610.5 500.2,610 500.7,609.5 501.2,609 501.7,608.5 502.2,608 502.7,607.6 503.2,607.1 503.7,606.6 504.2,606 504.7,605.5 505.2,604.9 505.7,604.2 506.2,603.5 506.7,602.7 507.2,601.9 507.7,601 508.2,600 508.7,599 509.2,597.9 509.7,596.7 510.2,595.4 510.7,594 511.2,592.5 511.7,590.9 512.2,589.2 512.7,587.5 513.2,585.7 513.7,583.8 514.2,581.9 514.7,580 515.2,578.1 515.7,576.2 516.2,574.4 516.7,572.7 517.2,571.1 517.7,569.6 518.2,568.3 518.7,567.2 519.2,566.4 519.7,565.8 520.2,565.6 520.7,565.6 521.2,566 521.7,566.7 522.2,567.5 522.7,568.6 523.2,569.8 523.7,571.2 524.2,572.8 524.7,574.5 525.2,576.3 525.7,578.2 526.2,580.2 526.7,582.2 527.2,584.3 527.7,586.4 528.2,588.5 528.7,590.5 529.2,592.5 529.7,594.4 530.2,596.1 530.7,597.8 531.2,599.5 531.7,601 532.2,602.5 532.7,603.9 533.2,605.3 533.7,606.6 534.2,607.8 534.7,608.9 535.2,609.9 535.7,610.9 536.2,611.8 536.7,612.6 537.2,613.4 537.7,614.1 538.2,614.7 538.7,615.2 539.2,615.7 539.7,616.1 540.2,616.5 540.7,616.9 541.2,617.4 541.7,617.8 542.2,618.3 542.7,618.9 543.2,619.4 543.7,619.9 544.2,620.4 544.7,620.9 545.2,621.4 545.7,621.8 546.2,622.2 546.7,622.6 547.2,623 547.7,623.4 548.2,623.7 548.7,624.1 549.2,624.4 549.7,624.7 550.2,624.9 550.7,625.2 551.2,625.4 551.7,625.5" fill="none" stroke="#3c3c3c" stroke-width="1.6" stroke-linejoin="round" />
<rect x="326.50" y="465.50" width="226.10" height="183.80" fill="none" stroke="#505050" stroke-width="1.3"/>
<path d="M342.58,649.30v-4.5M375.74,649.30v-4.5M408.90,649.30v-4.5M442.06,649.30v-4.5M475.22,649.30v-4.5M508.38,649.30v-4.5M541.54,649.30v-4.5" stroke="#505050" stroke-width="1.1" fill="none"/>
<text x="342.58" y="662.00" font-size="10.5" fill="#1a1a1a" font-weight="bold" text-anchor="middle" textLength="17.30" lengthAdjust="spacingAndGlyphs" >294</text>
<text x="375.74" y="662.00" font-size="10.5" fill="#1a1a1a" font-weight="bold" text-anchor="middle" textLength="17.30" lengthAdjust="spacingAndGlyphs" >292</text>
<text x="408.90" y="662.00" font-size="10.5" fill="#1a1a1a" font-weight="bold" text-anchor="middle" textLength="17.30" lengthAdjust="spacingAndGlyphs" >290</text>
<text x="442.06" y="662.00" font-size="10.5" fill="#1a1a1a" font-weight="bold" text-anchor="middle" textLength="17.30" lengthAdjust="spacingAndGlyphs" >288</text>
<text x="475.22" y="662.00" font-size="10.5" fill="#1a1a1a" font-weight="bold" text-anchor="middle" textLength="17.30" lengthAdjust="spacingAndGlyphs" >286</text>
<text x="508.38" y="662.00" font-size="10.5" fill="#1a1a1a" font-weight="bold" text-anchor="middle" textLength="17.30" lengthAdjust="spacingAndGlyphs" >284</text>
<text x="541.54" y="662.00" font-size="10.5" fill="#1a1a1a" font-weight="bold" text-anchor="middle" textLength="17.30" lengthAdjust="spacingAndGlyphs" >282</text>
<text x="439.30" y="673.00" font-size="10.8" fill="#1a1a1a" font-weight="bold" text-anchor="middle" textLength="93.80" lengthAdjust="spacingAndGlyphs" >Binding energy/eV</text>
<text x="318.60" y="556.80" font-size="10.9" fill="#1a1a1a" font-weight="bold" text-anchor="middle" textLength="73.00" lengthAdjust="spacingAndGlyphs" transform="rotate(-90 318.60 556.80)" >Intensity/(a.u.)</text>
<text x="282.80" y="475.50" font-size="23.5" fill="#111" font-weight="bold" textLength="24.30" lengthAdjust="spacingAndGlyphs" stroke="#111" stroke-width="0.25">(f)</text>
<text x="328.00" y="479.50" font-size="12.7" fill="#1a1a1a" textLength="30.20" lengthAdjust="spacingAndGlyphs" >C 1s</text>
<text x="330.60" y="566.20" font-size="11.2" fill="#1a1a1a" textLength="35.50" lengthAdjust="spacingAndGlyphs" >Ti<tspan font-size="8.29" dy="3.36">3</tspan><tspan dy="-3.36">​</tspan>C<tspan font-size="8.29" dy="3.36">2</tspan><tspan dy="-3.36">​</tspan>T<tspan font-size="8.29" dy="3.36">x</tspan><tspan dy="-3.36">​</tspan></text>
<text x="328.10" y="641.60" font-size="11.2" fill="#1a1a1a" textLength="60.50" lengthAdjust="spacingAndGlyphs" >CoP-Ti<tspan font-size="8.29" dy="3.36">3</tspan><tspan dy="-3.36">​</tspan>C<tspan font-size="8.29" dy="3.36">2</tspan><tspan dy="-3.36">​</tspan>T<tspan font-size="8.29" dy="3.36">x</tspan><tspan dy="-3.36">​</tspan></text>
<text x="459.30" y="524.60" font-size="8.2" fill="#2f7a55" textLength="14.40" lengthAdjust="spacingAndGlyphs" stroke="#2f7a55" stroke-width="0.3">C-C</text>
<text x="523.00" y="488.80" font-size="8.2" fill="#b8323a" textLength="14.20" lengthAdjust="spacingAndGlyphs" stroke="#b8323a" stroke-width="0.3">Ti-C</text>
<text x="369.90" y="619.80" font-size="8.2" fill="#2b55a5" textLength="14.90" lengthAdjust="spacingAndGlyphs" stroke="#2b55a5" stroke-width="0.3">C-O</text>
<text x="436.10" y="621.30" font-size="8.2" fill="#8f7a35" textLength="16.60" lengthAdjust="spacingAndGlyphs" stroke="#8f7a35" stroke-width="0.3">C=O</text>
<text x="477.00" y="613.10" font-size="8.2" fill="#2f7a55" textLength="14.40" lengthAdjust="spacingAndGlyphs" stroke="#2f7a55" stroke-width="0.3">C-C</text>
<text x="529.00" y="577.10" font-size="8.2" fill="#b8323a" textLength="15.50" lengthAdjust="spacingAndGlyphs" stroke="#b8323a" stroke-width="0.3">Ti-C</text>
</svg>
</body></html>
